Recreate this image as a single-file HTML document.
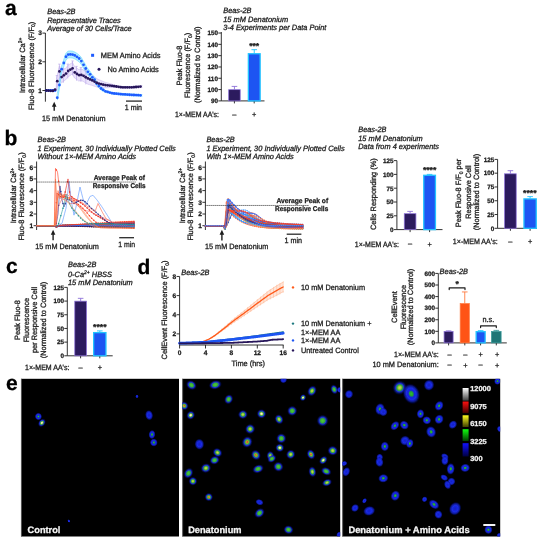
<!DOCTYPE html>
<html><head><meta charset="utf-8"><title>Figure</title>
<style>
html,body{margin:0;padding:0;background:#fff;width:550px;height:545px;overflow:hidden}
svg{display:block}
text{font-family:"Liberation Sans",Arial,sans-serif;text-rendering:geometricPrecision}
</style></head><body>
<svg width="550" height="545" viewBox="0 0 550 545" fill="#1c1c1c">
<text x="5" y="15.2" font-size="21" font-weight="bold" fill="#000" stroke="#000" stroke-width="0.28" >a</text>
<text transform="translate(47.2,14.4) scale(1,1.04)" font-size="7.4" font-style="italic" stroke="#1c1c1c" stroke-width="0.28" >Beas-2B</text>
<text transform="translate(47.2,22.5) scale(1,1.04)" font-size="7.4" font-style="italic" stroke="#1c1c1c" stroke-width="0.28" textLength="73.6" lengthAdjust="spacingAndGlyphs" >Representative Traces</text>
<text transform="translate(47.2,30.6) scale(1,1.04)" font-size="7.4" font-style="italic" stroke="#1c1c1c" stroke-width="0.28" textLength="84.5" lengthAdjust="spacingAndGlyphs" >Average of 30 Cells/Trace</text>
<text transform="translate(24.8,65.3) rotate(-90) scale(1,1.04)" text-anchor="middle" font-size="7.4" stroke="#1c1c1c" stroke-width="0.28" >Intracellular Ca<tspan dy="-2.6" font-size="5">2+</tspan></text>
<text transform="translate(33.5,65.8) rotate(-90) scale(1,1.04)" text-anchor="middle" font-size="7.4" stroke="#1c1c1c" stroke-width="0.28" >Fluo-8 Fluorescence (F/F<tspan dy="1.8" font-size="5">0</tspan><tspan dy="-1.8">)</tspan></text>
<line x1="45.4" y1="33" x2="45.4" y2="101.7" stroke="#1c1c1c" stroke-width="0.9" />
<line x1="42.4" y1="33.1" x2="45.4" y2="33.1" stroke="#1c1c1c" stroke-width="0.9" />
<text x="42" y="35.4" font-size="6.6" font-weight="bold" text-anchor="end" stroke="#1c1c1c" stroke-width="0.28" >3</text>
<line x1="42.4" y1="61.8" x2="45.4" y2="61.8" stroke="#1c1c1c" stroke-width="0.9" />
<text x="42" y="64.1" font-size="6.6" font-weight="bold" text-anchor="end" stroke="#1c1c1c" stroke-width="0.28" >2</text>
<line x1="42.4" y1="90.5" x2="45.4" y2="90.5" stroke="#1c1c1c" stroke-width="0.9" />
<text x="42" y="92.8" font-size="6.6" font-weight="bold" text-anchor="end" stroke="#1c1c1c" stroke-width="0.28" >1</text>
<polygon points="46,90.5 46.5,90.53 47,90.57 47.5,90.6 48,90.63 48.5,90.66 49,90.7 49.5,90.73 50,90.76 50.5,90.8 51,90.83 51.5,90.86 52,90.9 52.5,90.93 53,90.96 53.5,90.99 54,91.03 54.5,91.06 55,89.94 55.5,88.05 56,80.42 56.5,78.52 57,76.55 57.5,74.26 58,71.96 58.5,69.66 59,67.37 59.5,65.85 60,67.43 60.5,69.02 61,70.61 61.5,71.39 62,70.98 62.5,70.57 63,70.16 63.5,69.77 64,69.44 64.5,69.12 65,68.79 65.5,68.47 66,67.88 66.5,67.23 67,66.57 67.5,65.92 68,65.4 68.5,65.07 69,64.75 69.5,64.42 70,64.1 70.5,63.75 71,63.41 71.5,63.06 72,62.72 72.5,62.37 73,63.43 73.5,64.49 74,65.55 74.5,66.46 75,66.8 75.5,67.14 76,67.49 76.5,67.83 77,68.22 77.5,68.61 78,69 78.5,69.39 79,69.47 79.5,69.34 80,69.21 80.5,69.08 81,69.01 81.5,69.21 82,69.41 82.5,69.6 83,69.8 83.5,70.09 84,70.41 84.5,70.73 85,71.05 85.5,71.37 86,71.66 86.5,71.93 87,72.2 87.5,72.46 88,72.73 88.5,73.08 89,73.37 89.5,73.66 90,73.95 90.5,74.24 91,74.53 91.5,74.85 92,75.21 92.5,75.56 93,75.92 93.5,76.27 94,76.63 94.5,76.98 95,77.33 95.5,77.68 96,78.02 96.5,78.37 97,78.72 97.5,79.06 98,79.35 98.5,79.56 99,79.77 99.5,79.97 100,80.18 100.5,80.38 101,80.59 101.5,80.79 102,81 102.5,81.21 103,81.41 103.5,81.62 104,81.82 104.5,82.03 105,82.23 105.5,82.38 106,82.52 106.5,82.66 107,82.8 107.5,82.94 108,83.09 108.5,83.23 109,83.37 109.5,83.51 110,83.65 110.5,83.8 111,83.94 111.5,84.08 112,84.22 112.5,84.36 113,84.52 113.5,84.69 114,84.85 114.5,85.02 115,85.18 115.5,85.35 116,85.51 116.5,85.65 117,85.73 117.5,85.8 118,85.88 118.5,85.96 119,86.04 119.5,86.12 120,86.2 120.5,86.28 121,86.36 121.5,86.43 122,86.48 122.5,86.48 123,86.48 123.5,86.48 124,86.48 124.5,86.48 125,86.48 125.5,86.48 126,86.48 126.5,86.48 127,86.48 127.5,86.48 128,86.48 128.5,86.48 129,86.48 129.5,86.48 130,86.48 130.5,86.48 131,86.48 131.5,86.48 132,86.48 132.5,86.44 133,86.4 133.5,86.35 134,86.31 134.5,86.27 135,86.22 135.5,86.18 136,86.14 136.5,86.09 137,86.05 137.5,86.01 138,85.97 138.5,85.92 139,85.88 139.5,85.84 140,85.79 140.5,85.75 141,85.71 141.5,85.66 142,85.62 142,87.34 141.5,87.39 141,87.43 140.5,87.47 140,87.52 139.5,87.56 139,87.6 138.5,87.64 138,87.69 137.5,87.73 137,87.77 136.5,87.82 136,87.86 135.5,87.9 135,87.95 134.5,87.99 134,88.03 133.5,88.07 133,88.12 132.5,88.16 132,88.2 131.5,88.2 131,88.2 130.5,88.2 130,88.2 129.5,88.2 129,88.2 128.5,88.2 128,88.2 127.5,88.2 127,88.2 126.5,88.2 126,88.2 125.5,88.2 125,88.2 124.5,88.2 124,88.2 123.5,88.2 123,88.2 122.5,88.2 122,88.2 121.5,88.16 121,88.08 120.5,88 120,87.92 119.5,87.84 119,87.76 118.5,87.68 118,87.6 117.5,87.53 117,87.45 116.5,87.37 116,87.35 115.5,87.35 115,87.36 114.5,87.37 114,87.38 113.5,87.38 113,87.39 112.5,87.41 112,87.44 111.5,87.47 111,87.5 110.5,87.53 110,87.56 109.5,87.59 109,87.62 108.5,87.65 108,87.68 107.5,87.71 107,87.74 106.5,87.77 106,87.8 105.5,87.83 105,87.86 104.5,87.83 104,87.79 103.5,87.76 103,87.73 102.5,87.69 102,87.66 101.5,87.63 101,87.59 100.5,87.56 100,87.52 99.5,87.49 99,87.46 98.5,87.42 98,87.39 97.5,87.27 97,87.1 96.5,86.92 96,86.75 95.5,86.57 95,86.4 94.5,86.22 94,86.04 93.5,85.86 93,85.67 92.5,85.49 92,85.31 91.5,85.13 91,84.98 90.5,84.86 90,84.74 89.5,84.62 89,84.51 88.5,84.39 88,84.21 87.5,83.94 87,83.68 86.5,83.41 86,83.14 85.5,82.85 85,82.53 84.5,82.21 84,81.89 83.5,81.57 83,81.28 82.5,81.08 82,80.89 81.5,80.69 81,80.49 80.5,80.56 80,80.69 79.5,80.82 79,80.95 78.5,80.87 78,80.48 77.5,80.09 77,79.7 76.5,79.31 76,78.97 75.5,78.62 75,78.28 74.5,77.94 74,77.03 73.5,75.97 73,74.91 72.5,73.85 72,74.2 71.5,74.54 71,74.89 70.5,75.23 70,75.58 69.5,75.9 69,76.23 68.5,76.55 68,76.88 67.5,77.4 67,78.05 66.5,78.71 66,79.36 65.5,79.95 65,80.27 64.5,80.6 64,80.92 63.5,81.25 63,81.64 62.5,82.05 62,82.46 61.5,82.87 61,82.09 60.5,80.5 60,78.91 59.5,77.33 59,78.85 58.5,81.14 58,83.44 57.5,85.74 57,88.03 56.5,90 56,91.9 55.5,88.05 55,89.94 54.5,91.06 54,91.03 53.5,90.99 53,90.96 52.5,90.93 52,90.9 51.5,90.86 51,90.83 50.5,90.8 50,90.76 49.5,90.73 49,90.7 48.5,90.66 48,90.63 47.5,90.6 47,90.57 46.5,90.53 46,90.5" fill="#ebe4fb" opacity="1"/>
<polygon points="46,90.5 46.5,90.5 47,90.5 47.5,90.5 48,90.5 48.5,90.5 49,90.5 49.5,90.5 50,90.5 50.5,90.5 51,90.5 51.5,90.5 52,90.5 52.5,90.5 53,90.5 53.5,90.5 54,90.5 54.5,90.5 55,90.5 55.5,90.5 56,90.5 56.5,93.61 57,93.27 57.5,92.8 58,89.93 58.5,87.06 59,84.19 59.5,81.09 60,77.09 60.5,73.08 61,69.08 61.5,66.13 62,64.77 62.5,63.4 63,62.03 63.5,60.61 64,58.98 64.5,57.35 65,55.72 65.5,54.09 66,53.29 66.5,52.71 67,52.12 67.5,51.53 68,51.15 68.5,51.09 69,51.02 69.5,50.96 70,50.89 70.5,50.95 71,51 71.5,51.05 72,51.11 72.5,51.16 73,51.3 73.5,51.49 74,51.69 74.5,51.89 75,52.11 75.5,52.43 76,52.76 76.5,53.09 77,53.41 77.5,53.78 78,54.16 78.5,54.53 79,54.91 79.5,55.44 80,55.97 80.5,56.5 81,57.09 81.5,57.94 82,58.79 82.5,59.63 83,60.48 83.5,61.33 84,62.18 84.5,63.03 85,63.87 85.5,64.77 86,65.65 86.5,66.52 87,67.4 87.5,68.22 88,68.8 88.5,69.38 89,69.96 89.5,70.54 90,71.27 90.5,72.05 91,72.82 91.5,73.6 92,74.37 92.5,74.94 93,75.52 93.5,76.09 94,76.67 94.5,77.24 95,78.23 95.5,79.22 96,80.21 96.5,81.2 97,81.83 97.5,82.46 98,83.1 98.5,83.73 99,84.36 99.5,84.99 100,85.62 100.5,86.25 101,86.88 101.5,87.26 102,87.64 102.5,88.01 103,88.39 103.5,88.77 104,89.14 104.5,89.52 105,89.89 105.5,90.27 106,90.47 106.5,90.66 107,90.86 107.5,91.06 108,91.2 108.5,91.34 109,91.48 109.5,91.62 110,91.76 110.5,91.9 111,92.03 111.5,92.17 112,92.31 112.5,92.45 113,92.54 113.5,92.58 114,92.63 114.5,92.68 115,92.73 115.5,92.77 116,92.82 116.5,92.87 117,92.92 117.5,92.96 118,93.01 118.5,93.06 119,93.11 119.5,93.15 120,93.2 120.5,93.25 121,93.29 121.5,93.34 122,93.38 122.5,93.42 123,93.45 123.5,93.49 124,93.52 124.5,93.56 125,93.59 125.5,93.63 126,93.66 126.5,93.7 127,93.73 127.5,93.77 128,93.8 128.5,93.84 129,93.87 129.5,93.91 130,93.94 130.5,93.97 131,93.99 131.5,94.02 132,94.04 132.5,94.06 133,94.09 133.5,94.11 134,94.14 134.5,94.16 135,94.18 135.5,94.21 136,94.23 136.5,94.25 137,94.28 137.5,94.3 138,94.33 138.5,94.35 139,94.37 139.5,94.4 140,94.42 140.5,94.45 141,94.47 141.5,94.49 142,94.52 142,96.24 141.5,96.22 141,96.19 140.5,96.17 140,96.14 139.5,96.12 139,96.1 138.5,96.07 138,96.05 137.5,96.02 137,96 136.5,95.98 136,95.95 135.5,95.93 135,95.91 134.5,95.88 134,95.86 133.5,95.83 133,95.81 132.5,95.79 132,95.76 131.5,95.74 131,95.71 130.5,95.69 130,95.67 129.5,95.63 129,95.6 128.5,95.56 128,95.53 127.5,95.49 127,95.46 126.5,95.42 126,95.39 125.5,95.35 125,95.32 124.5,95.28 124,95.25 123.5,95.21 123,95.18 122.5,95.14 122,95.11 121.5,95.06 121,95.02 120.5,94.97 120,94.92 119.5,94.87 119,94.83 118.5,94.78 118,94.73 117.5,94.69 117,94.64 116.5,94.59 116,94.54 115.5,94.5 115,94.45 114.5,94.4 114,94.35 113.5,94.31 113,94.26 112.5,94.18 112,94.04 111.5,93.9 111,93.76 110.5,93.62 110,93.48 109.5,93.34 109,93.2 108.5,93.06 108,92.92 107.5,92.78 107,92.7 106.5,92.62 106,92.53 105.5,92.45 105,92.19 104.5,91.93 104,91.67 103.5,91.41 103,91.14 102.5,90.88 102,90.62 101.5,90.36 101,90.1 100.5,89.58 100,89.07 99.5,88.55 99,88.03 98.5,87.52 98,87 97.5,86.48 97,85.97 96.5,85.45 96,84.57 95.5,83.7 95,82.82 94.5,81.95 94,81.49 93.5,81.03 93,80.57 92.5,80.11 92,79.65 91.5,78.99 91,78.33 90.5,77.67 90,77.01 89.5,76.39 89,75.93 88.5,75.46 88,75 87.5,74.53 87,73.83 86.5,73.07 86,72.3 85.5,71.54 85,70.76 84.5,69.91 84,69.07 83.5,68.22 83,67.37 82.5,66.52 82,65.67 81.5,64.83 81,63.98 80.5,63.39 80,62.86 79.5,62.33 79,61.8 78.5,61.42 78,61.04 77.5,60.67 77,60.3 76.5,59.97 76,59.65 75.5,59.32 75,59 74.5,58.77 74,58.58 73.5,58.38 73,58.19 72.5,58.05 72,57.99 71.5,57.94 71,57.89 70.5,57.84 70,57.78 69.5,57.85 69,57.91 68.5,57.98 68,58.04 67.5,58.42 67,59.01 66.5,59.6 66,60.18 65.5,60.98 65,62.61 64.5,64.24 64,65.87 63.5,67.5 63,68.92 62.5,70.29 62,71.65 61.5,73.02 61,75.97 60.5,79.97 60,83.97 59.5,87.98 59,91.07 58.5,93.94 58,96.81 57.5,99.68 57,100.16 56.5,93.61 56,90.5 55.5,90.5 55,90.5 54.5,90.5 54,90.5 53.5,90.5 53,90.5 52.5,90.5 52,90.5 51.5,90.5 51,90.5 50.5,90.5 50,90.5 49.5,90.5 49,90.5 48.5,90.5 48,90.5 47.5,90.5 47,90.5 46.5,90.5 46,90.5" fill="#b8ecff" opacity="1"/>
<polyline points="56.5,78.52 57,76.55 57.5,74.26 58,71.96 58.5,69.66 59,67.37 59.5,65.85 60,67.43 60.5,69.02 61,70.61 61.5,71.39 62,70.98 62.5,70.57 63,70.16 63.5,69.77 64,69.44 64.5,69.12 65,68.79 65.5,68.47 66,67.88 66.5,67.23 67,66.57 67.5,65.92 68,65.4 68.5,65.07 69,64.75 69.5,64.42 70,64.1 70.5,63.75 71,63.41 71.5,63.06 72,62.72 72.5,62.37 73,63.43 73.5,64.49 74,65.55 74.5,66.46 75,66.8 75.5,67.14 76,67.49 76.5,67.83 77,68.22 77.5,68.61 78,69 78.5,69.39 79,69.47 79.5,69.34 80,69.21 80.5,69.08 81,69.01 81.5,69.21 82,69.41 82.5,69.6 83,69.8 83.5,70.09 84,70.41 84.5,70.73 85,71.05 85.5,71.37 86,71.66 86.5,71.93 87,72.2 87.5,72.46 88,72.73 88.5,73.08 89,73.37 89.5,73.66 90,73.95 90.5,74.24 91,74.53 91.5,74.85 92,75.21 92.5,75.56 93,75.92 93.5,76.27 94,76.63 94.5,76.98 95,77.33 95.5,77.68 96,78.02 96.5,78.37 97,78.72 97.5,79.06 98,79.35 98.5,79.56 99,79.77 99.5,79.97 100,80.18 100.5,80.38 101,80.59 101.5,80.79 102,81 102.5,81.21 103,81.41 103.5,81.62 104,81.82 104.5,82.03 105,82.23 105.5,82.38 106,82.52 106.5,82.66 107,82.8 107.5,82.94 108,83.09 108.5,83.23 109,83.37 109.5,83.51 110,83.65 110.5,83.8 111,83.94 111.5,84.08 112,84.22 112.5,84.36 113,84.52 113.5,84.69 114,84.85 114.5,85.02 115,85.18 115.5,85.35 116,85.51 116.5,85.65 117,85.73 117.5,85.8 118,85.88 118.5,85.96 119,86.04 119.5,86.12 120,86.2 120.5,86.28 121,86.36 121.5,86.43 122,86.48 122.5,86.48 123,86.48 123.5,86.48 124,86.48 124.5,86.48 125,86.48 125.5,86.48 126,86.48 126.5,86.48 127,86.48 127.5,86.48 128,86.48 128.5,86.48 129,86.48 129.5,86.48 130,86.48 130.5,86.48 131,86.48 131.5,86.48 132,86.48 132.5,86.44 133,86.4 133.5,86.35 134,86.31 134.5,86.27 135,86.22 135.5,86.18 136,86.14 136.5,86.09 137,86.05 137.5,86.01 138,85.97 138.5,85.92 139,85.88 139.5,85.84 140,85.79 140.5,85.75 141,85.71 141.5,85.66 142,85.62" fill="none" stroke="#c4b4ee" stroke-width="0.6" stroke-linejoin="round" stroke-linecap="round" />
<polyline points="56.5,90 57,88.03 57.5,85.74 58,83.44 58.5,81.14 59,78.85 59.5,77.33 60,78.91 60.5,80.5 61,82.09 61.5,82.87 62,82.46 62.5,82.05 63,81.64 63.5,81.25 64,80.92 64.5,80.6 65,80.27 65.5,79.95 66,79.36 66.5,78.71 67,78.05 67.5,77.4 68,76.88 68.5,76.55 69,76.23 69.5,75.9 70,75.58 70.5,75.23 71,74.89 71.5,74.54 72,74.2 72.5,73.85 73,74.91 73.5,75.97 74,77.03 74.5,77.94 75,78.28 75.5,78.62 76,78.97 76.5,79.31 77,79.7 77.5,80.09 78,80.48 78.5,80.87 79,80.95 79.5,80.82 80,80.69 80.5,80.56 81,80.49 81.5,80.69 82,80.89 82.5,81.08 83,81.28 83.5,81.57 84,81.89 84.5,82.21 85,82.53 85.5,82.85 86,83.14 86.5,83.41 87,83.68 87.5,83.94 88,84.21 88.5,84.39 89,84.51 89.5,84.62 90,84.74 90.5,84.86 91,84.98 91.5,85.13 92,85.31 92.5,85.49 93,85.67 93.5,85.86 94,86.04 94.5,86.22 95,86.4 95.5,86.57 96,86.75 96.5,86.92 97,87.1 97.5,87.27 98,87.39 98.5,87.42 99,87.46 99.5,87.49 100,87.52 100.5,87.56 101,87.59 101.5,87.63 102,87.66 102.5,87.69 103,87.73 103.5,87.76 104,87.79 104.5,87.83 105,87.86 105.5,87.83 106,87.8 106.5,87.77 107,87.74 107.5,87.71 108,87.68 108.5,87.65 109,87.62 109.5,87.59 110,87.56 110.5,87.53 111,87.5 111.5,87.47 112,87.44 112.5,87.41 113,87.39 113.5,87.38 114,87.38 114.5,87.37 115,87.36 115.5,87.35 116,87.35 116.5,87.37 117,87.45 117.5,87.53 118,87.6 118.5,87.68 119,87.76 119.5,87.84 120,87.92 120.5,88 121,88.08 121.5,88.16 122,88.2 122.5,88.2 123,88.2 123.5,88.2 124,88.2 124.5,88.2 125,88.2 125.5,88.2 126,88.2 126.5,88.2 127,88.2 127.5,88.2 128,88.2 128.5,88.2 129,88.2 129.5,88.2 130,88.2 130.5,88.2 131,88.2 131.5,88.2 132,88.2 132.5,88.16 133,88.12 133.5,88.07 134,88.03 134.5,87.99 135,87.95 135.5,87.9 136,87.86 136.5,87.82 137,87.77 137.5,87.73 138,87.69 138.5,87.64 139,87.6 139.5,87.56 140,87.52 140.5,87.47 141,87.43 141.5,87.39 142,87.34" fill="none" stroke="#c4b4ee" stroke-width="0.6" stroke-linejoin="round" stroke-linecap="round" />
<polyline points="57.5,92.8 58,89.93 58.5,87.06 59,84.19 59.5,81.09 60,77.09 60.5,73.08 61,69.08 61.5,66.13 62,64.77 62.5,63.4 63,62.03 63.5,60.61 64,58.98 64.5,57.35 65,55.72 65.5,54.09 66,53.29 66.5,52.71 67,52.12 67.5,51.53 68,51.15 68.5,51.09 69,51.02 69.5,50.96 70,50.89 70.5,50.95 71,51 71.5,51.05 72,51.11 72.5,51.16 73,51.3 73.5,51.49 74,51.69 74.5,51.89 75,52.11 75.5,52.43 76,52.76 76.5,53.09 77,53.41 77.5,53.78 78,54.16 78.5,54.53 79,54.91 79.5,55.44 80,55.97 80.5,56.5 81,57.09 81.5,57.94 82,58.79 82.5,59.63 83,60.48 83.5,61.33 84,62.18 84.5,63.03 85,63.87 85.5,64.77 86,65.65 86.5,66.52 87,67.4 87.5,68.22 88,68.8 88.5,69.38 89,69.96 89.5,70.54 90,71.27 90.5,72.05 91,72.82 91.5,73.6 92,74.37 92.5,74.94 93,75.52 93.5,76.09 94,76.67 94.5,77.24 95,78.23 95.5,79.22 96,80.21 96.5,81.2 97,81.83 97.5,82.46 98,83.1 98.5,83.73 99,84.36 99.5,84.99 100,85.62 100.5,86.25 101,86.88 101.5,87.26 102,87.64 102.5,88.01 103,88.39 103.5,88.77 104,89.14 104.5,89.52 105,89.89 105.5,90.27 106,90.47 106.5,90.66 107,90.86 107.5,91.06 108,91.2 108.5,91.34 109,91.48 109.5,91.62 110,91.76 110.5,91.9 111,92.03 111.5,92.17 112,92.31 112.5,92.45 113,92.54 113.5,92.58 114,92.63 114.5,92.68 115,92.73 115.5,92.77 116,92.82 116.5,92.87 117,92.92 117.5,92.96 118,93.01 118.5,93.06 119,93.11 119.5,93.15 120,93.2 120.5,93.25 121,93.29 121.5,93.34 122,93.38 122.5,93.42 123,93.45 123.5,93.49 124,93.52 124.5,93.56 125,93.59 125.5,93.63 126,93.66 126.5,93.7 127,93.73 127.5,93.77 128,93.8 128.5,93.84 129,93.87 129.5,93.91 130,93.94 130.5,93.97 131,93.99 131.5,94.02 132,94.04 132.5,94.06 133,94.09 133.5,94.11 134,94.14 134.5,94.16 135,94.18 135.5,94.21 136,94.23 136.5,94.25 137,94.28 137.5,94.3 138,94.33 138.5,94.35 139,94.37 139.5,94.4 140,94.42 140.5,94.45 141,94.47 141.5,94.49 142,94.52" fill="none" stroke="#5cd8ff" stroke-width="0.6" stroke-linejoin="round" stroke-linecap="round" />
<polyline points="57.5,99.68 58,96.81 58.5,93.94 59,91.07 59.5,87.98 60,83.97 60.5,79.97 61,75.97 61.5,73.02 62,71.65 62.5,70.29 63,68.92 63.5,67.5 64,65.87 64.5,64.24 65,62.61 65.5,60.98 66,60.18 66.5,59.6 67,59.01 67.5,58.42 68,58.04 68.5,57.98 69,57.91 69.5,57.85 70,57.78 70.5,57.84 71,57.89 71.5,57.94 72,57.99 72.5,58.05 73,58.19 73.5,58.38 74,58.58 74.5,58.77 75,59 75.5,59.32 76,59.65 76.5,59.97 77,60.3 77.5,60.67 78,61.04 78.5,61.42 79,61.8 79.5,62.33 80,62.86 80.5,63.39 81,63.98 81.5,64.83 82,65.67 82.5,66.52 83,67.37 83.5,68.22 84,69.07 84.5,69.91 85,70.76 85.5,71.54 86,72.3 86.5,73.07 87,73.83 87.5,74.53 88,75 88.5,75.46 89,75.93 89.5,76.39 90,77.01 90.5,77.67 91,78.33 91.5,78.99 92,79.65 92.5,80.11 93,80.57 93.5,81.03 94,81.49 94.5,81.95 95,82.82 95.5,83.7 96,84.57 96.5,85.45 97,85.97 97.5,86.48 98,87 98.5,87.52 99,88.03 99.5,88.55 100,89.07 100.5,89.58 101,90.1 101.5,90.36 102,90.62 102.5,90.88 103,91.14 103.5,91.41 104,91.67 104.5,91.93 105,92.19 105.5,92.45 106,92.53 106.5,92.62 107,92.7 107.5,92.78 108,92.92 108.5,93.06 109,93.2 109.5,93.34 110,93.48 110.5,93.62 111,93.76 111.5,93.9 112,94.04 112.5,94.18 113,94.26 113.5,94.31 114,94.35 114.5,94.4 115,94.45 115.5,94.5 116,94.54 116.5,94.59 117,94.64 117.5,94.69 118,94.73 118.5,94.78 119,94.83 119.5,94.87 120,94.92 120.5,94.97 121,95.02 121.5,95.06 122,95.11 122.5,95.14 123,95.18 123.5,95.21 124,95.25 124.5,95.28 125,95.32 125.5,95.35 126,95.39 126.5,95.42 127,95.46 127.5,95.49 128,95.53 128.5,95.56 129,95.6 129.5,95.63 130,95.67 130.5,95.69 131,95.71 131.5,95.74 132,95.76 132.5,95.79 133,95.81 133.5,95.83 134,95.86 134.5,95.88 135,95.91 135.5,95.93 136,95.95 136.5,95.98 137,96 137.5,96.02 138,96.05 138.5,96.07 139,96.1 139.5,96.12 140,96.14 140.5,96.17 141,96.19 141.5,96.22 142,96.24" fill="none" stroke="#5cd8ff" stroke-width="0.6" stroke-linejoin="round" stroke-linecap="round" />
<line x1="56.9" y1="75.58" x2="56.9" y2="89.93" stroke="#b3a0e6" stroke-width="0.6" />
<line x1="55.7" y1="75.58" x2="58.1" y2="75.58" stroke="#b3a0e6" stroke-width="0.6" />
<line x1="59.4" y1="64.1" x2="59.4" y2="78.45" stroke="#b3a0e6" stroke-width="0.6" />
<line x1="58.2" y1="64.1" x2="60.6" y2="64.1" stroke="#b3a0e6" stroke-width="0.6" />
<line x1="63.4" y1="68.4" x2="63.4" y2="82.75" stroke="#b3a0e6" stroke-width="0.6" />
<line x1="62.2" y1="68.4" x2="64.6" y2="68.4" stroke="#b3a0e6" stroke-width="0.6" />
<line x1="67.8" y1="64.1" x2="67.8" y2="78.45" stroke="#b3a0e6" stroke-width="0.6" />
<line x1="66.6" y1="64.1" x2="69" y2="64.1" stroke="#b3a0e6" stroke-width="0.6" />
<line x1="72.5" y1="60.94" x2="72.5" y2="75.29" stroke="#b3a0e6" stroke-width="0.6" />
<line x1="71.3" y1="60.94" x2="73.7" y2="60.94" stroke="#b3a0e6" stroke-width="0.6" />
<line x1="76.5" y1="66.39" x2="76.5" y2="80.74" stroke="#b3a0e6" stroke-width="0.6" />
<line x1="75.3" y1="66.39" x2="77.7" y2="66.39" stroke="#b3a0e6" stroke-width="0.6" />
<line x1="80.9" y1="67.54" x2="80.9" y2="81.89" stroke="#b3a0e6" stroke-width="0.6" />
<line x1="79.7" y1="67.54" x2="82.1" y2="67.54" stroke="#b3a0e6" stroke-width="0.6" />
<line x1="85.8" y1="70.12" x2="85.8" y2="84.47" stroke="#b3a0e6" stroke-width="0.6" />
<line x1="84.6" y1="70.12" x2="87" y2="70.12" stroke="#b3a0e6" stroke-width="0.6" />
<g fill="#1f5cff"><circle cx="46.3" cy="90.5" r="1.4"/><circle cx="48.49" cy="90.5" r="1.4"/><circle cx="50.68" cy="90.5" r="1.4"/><circle cx="52.87" cy="90.5" r="1.4"/><circle cx="55.06" cy="90.5" r="1.4"/><circle cx="57.25" cy="97.68" r="1.4"/><circle cx="59.44" cy="85.01" r="1.4"/><circle cx="61.63" cy="69.22" r="1.4"/><circle cx="63.82" cy="63.01" r="1.4"/><circle cx="66.01" cy="56.73" r="1.4"/><circle cx="68.2" cy="54.57" r="1.4"/><circle cx="70.39" cy="54.38" r="1.4"/><circle cx="72.58" cy="54.61" r="1.4"/><circle cx="74.77" cy="55.44" r="1.4"/><circle cx="76.96" cy="56.83" r="1.4"/><circle cx="79.15" cy="58.51" r="1.4"/><circle cx="81.34" cy="61.11" r="1.4"/><circle cx="83.53" cy="64.83" r="1.4"/><circle cx="85.72" cy="68.52" r="1.4"/><circle cx="87.91" cy="71.8" r="1.4"/><circle cx="90.1" cy="74.28" r="1.4"/><circle cx="92.29" cy="77.31" r="1.4"/><circle cx="94.48" cy="79.57" r="1.4"/><circle cx="96.67" cy="83.52" r="1.4"/><circle cx="98.86" cy="86.03" r="1.4"/><circle cx="101.05" cy="88.52" r="1.4"/><circle cx="103.24" cy="89.92" r="1.4"/><circle cx="105.43" cy="91.32" r="1.4"/><circle cx="107.62" cy="91.95" r="1.4"/><circle cx="109.81" cy="92.56" r="1.4"/><circle cx="112" cy="93.17" r="1.4"/><circle cx="114.19" cy="93.51" r="1.4"/><circle cx="116.38" cy="93.72" r="1.4"/><circle cx="118.57" cy="93.93" r="1.4"/><circle cx="120.76" cy="94.13" r="1.4"/><circle cx="122.95" cy="94.31" r="1.4"/><circle cx="125.14" cy="94.46" r="1.4"/><circle cx="127.33" cy="94.62" r="1.4"/><circle cx="129.52" cy="94.77" r="1.4"/><circle cx="131.71" cy="94.89" r="1.4"/><circle cx="133.9" cy="94.99" r="1.4"/><circle cx="136.09" cy="95.1" r="1.4"/><circle cx="138.28" cy="95.2" r="1.4"/><circle cx="140.47" cy="95.31" r="1.4"/></g>
<g fill="#27165a"><circle cx="46.3" cy="90.52" r="1.4"/><circle cx="48.49" cy="90.66" r="1.4"/><circle cx="50.68" cy="90.81" r="1.4"/><circle cx="52.87" cy="90.95" r="1.4"/><circle cx="55.06" cy="89.71" r="1.4"/><circle cx="57.25" cy="81.14" r="1.4"/><circle cx="59.44" cy="71.4" r="1.4"/><circle cx="61.63" cy="77.03" r="1.4"/><circle cx="63.82" cy="75.3" r="1.4"/><circle cx="66.01" cy="73.61" r="1.4"/><circle cx="68.2" cy="71.01" r="1.4"/><circle cx="70.39" cy="69.57" r="1.4"/><circle cx="72.58" cy="68.28" r="1.4"/><circle cx="74.77" cy="72.38" r="1.4"/><circle cx="76.96" cy="73.93" r="1.4"/><circle cx="79.15" cy="75.17" r="1.4"/><circle cx="81.34" cy="74.89" r="1.4"/><circle cx="83.53" cy="75.85" r="1.4"/><circle cx="85.72" cy="77.25" r="1.4"/><circle cx="87.91" cy="78.42" r="1.4"/><circle cx="90.1" cy="79.39" r="1.4"/><circle cx="92.29" cy="80.41" r="1.4"/><circle cx="94.48" cy="81.59" r="1.4"/><circle cx="96.67" cy="82.74" r="1.4"/><circle cx="98.86" cy="83.58" r="1.4"/><circle cx="101.05" cy="84.1" r="1.4"/><circle cx="103.24" cy="84.63" r="1.4"/><circle cx="105.43" cy="85.1" r="1.4"/><circle cx="107.62" cy="85.34" r="1.4"/><circle cx="109.81" cy="85.58" r="1.4"/><circle cx="112" cy="85.83" r="1.4"/><circle cx="114.19" cy="86.14" r="1.4"/><circle cx="116.38" cy="86.49" r="1.4"/><circle cx="118.57" cy="86.83" r="1.4"/><circle cx="120.76" cy="87.18" r="1.4"/><circle cx="122.95" cy="87.34" r="1.4"/><circle cx="125.14" cy="87.34" r="1.4"/><circle cx="127.33" cy="87.34" r="1.4"/><circle cx="129.52" cy="87.34" r="1.4"/><circle cx="131.71" cy="87.34" r="1.4"/><circle cx="133.9" cy="87.18" r="1.4"/><circle cx="136.09" cy="86.99" r="1.4"/><circle cx="138.28" cy="86.8" r="1.4"/><circle cx="140.47" cy="86.61" r="1.4"/></g>
<rect x="91.1" y="53.8" width="3" height="3" fill="#1f5cff"/>
<text transform="translate(100.8,58) scale(1,1.04)" font-size="7.4" stroke="#1c1c1c" stroke-width="0.28" textLength="59.7" lengthAdjust="spacingAndGlyphs" >MEM Amino Acids</text>
<circle cx="99" cy="69.2" r="1.5" fill="#27165a"/>
<text transform="translate(107.4,71.9) scale(1,1.04)" font-size="7.4" stroke="#1c1c1c" stroke-width="0.28" textLength="51.4" lengthAdjust="spacingAndGlyphs" >No Amino Acids</text>
<line x1="54.2" y1="104.8" x2="54.2" y2="110.8" stroke="#1c1c1c" stroke-width="1.4" />
<polygon points="51.9,106.8 56.5,106.8 54.2,101.8" fill="#1c1c1c" />
<text transform="translate(42,120.5) scale(1,1.04)" font-size="7.4" stroke="#1c1c1c" stroke-width="0.28" textLength="63.5" lengthAdjust="spacingAndGlyphs" >15 mM Denatonium</text>
<line x1="126" y1="101.1" x2="142" y2="101.1" stroke="#2a2a2a" stroke-width="1.3" />
<text transform="translate(124.8,109.8) scale(1,1.04)" font-size="7.4" stroke="#1c1c1c" stroke-width="0.28" textLength="17.2" lengthAdjust="spacingAndGlyphs" >1 min</text>
<text transform="translate(223.2,13.4) scale(1,1.04)" font-size="7.4" font-style="italic" stroke="#1c1c1c" stroke-width="0.28" >Beas-2B</text>
<text transform="translate(223.2,21.6) scale(1,1.04)" font-size="7.4" font-style="italic" stroke="#1c1c1c" stroke-width="0.28" textLength="65" lengthAdjust="spacingAndGlyphs" >15 mM Denatonium</text>
<text transform="translate(223.2,30.1) scale(1,1.04)" font-size="7.4" font-style="italic" stroke="#1c1c1c" stroke-width="0.28" >3-4 Experiments per Data Point</text>
<text transform="translate(182.4,65.5) rotate(-90) scale(1,1.04)" text-anchor="middle" font-size="7.4" stroke="#1c1c1c" stroke-width="0.28" >Peak Fluo-8</text>
<text transform="translate(189.8,65.4) rotate(-90) scale(1,1.04)" text-anchor="middle" font-size="7.4" stroke="#1c1c1c" stroke-width="0.28" >Fluorescence (F/F<tspan dy="1.8" font-size="5">0</tspan><tspan dy="-1.8">)</tspan></text>
<text transform="translate(200.2,64.8) rotate(-90) scale(1,1.04)" text-anchor="middle" font-size="7.4" stroke="#1c1c1c" stroke-width="0.28" >(Normalized to Control)</text>
<line x1="221.3" y1="32" x2="221.3" y2="100.9" stroke="#1c1c1c" stroke-width="0.9" />
<line x1="218.3" y1="100.9" x2="221.3" y2="100.9" stroke="#1c1c1c" stroke-width="0.9" />
<text x="217.9" y="103.2" font-size="6.3" font-weight="bold" text-anchor="end" stroke="#1c1c1c" stroke-width="0.28" >90</text>
<line x1="218.3" y1="89.59" x2="221.3" y2="89.59" stroke="#1c1c1c" stroke-width="0.9" />
<text x="217.9" y="91.89" font-size="6.3" font-weight="bold" text-anchor="end" stroke="#1c1c1c" stroke-width="0.28" >100</text>
<line x1="218.3" y1="78.28" x2="221.3" y2="78.28" stroke="#1c1c1c" stroke-width="0.9" />
<text x="217.9" y="80.58" font-size="6.3" font-weight="bold" text-anchor="end" stroke="#1c1c1c" stroke-width="0.28" >110</text>
<line x1="218.3" y1="66.97" x2="221.3" y2="66.97" stroke="#1c1c1c" stroke-width="0.9" />
<text x="217.9" y="69.27" font-size="6.3" font-weight="bold" text-anchor="end" stroke="#1c1c1c" stroke-width="0.28" >120</text>
<line x1="218.3" y1="55.66" x2="221.3" y2="55.66" stroke="#1c1c1c" stroke-width="0.9" />
<text x="217.9" y="57.96" font-size="6.3" font-weight="bold" text-anchor="end" stroke="#1c1c1c" stroke-width="0.28" >130</text>
<line x1="218.3" y1="44.35" x2="221.3" y2="44.35" stroke="#1c1c1c" stroke-width="0.9" />
<text x="217.9" y="46.65" font-size="6.3" font-weight="bold" text-anchor="end" stroke="#1c1c1c" stroke-width="0.28" >140</text>
<line x1="218.3" y1="33.04" x2="221.3" y2="33.04" stroke="#1c1c1c" stroke-width="0.9" />
<text x="217.9" y="35.34" font-size="6.3" font-weight="bold" text-anchor="end" stroke="#1c1c1c" stroke-width="0.28" >150</text>
<line x1="221.3" y1="100.9" x2="264.5" y2="100.9" stroke="#1c1c1c" stroke-width="0.9" />
<line x1="234.4" y1="100.9" x2="234.4" y2="103.4" stroke="#1c1c1c" stroke-width="0.9" />
<line x1="254.2" y1="100.9" x2="254.2" y2="103.4" stroke="#1c1c1c" stroke-width="0.9" />
<line x1="234.45" y1="86.42" x2="234.45" y2="89.59" stroke="#8d72d8" stroke-width="0.9" />
<line x1="231.65" y1="86.42" x2="237.25" y2="86.42" stroke="#8d72d8" stroke-width="0.9" />
<rect x="228.67" y="89.67" width="11.55" height="11.24" fill="#2c1b5e" stroke="#8d72d8" stroke-width="0.75"/>
<line x1="254.25" y1="49.67" x2="254.25" y2="53.4" stroke="#22c4ff" stroke-width="0.9" />
<line x1="251.45" y1="49.67" x2="257.05" y2="49.67" stroke="#22c4ff" stroke-width="0.9" />
<rect x="248.35" y="53.75" width="11.8" height="47.15" fill="#1d55f2" stroke="#22c4ff" stroke-width="1.3"/>
<text x="254.2" y="48.6" font-size="8.6" font-weight="bold" text-anchor="middle" stroke="#1c1c1c" stroke-width="0.28" >***</text>
<text transform="translate(175,117.2) scale(1,1.04)" font-size="7.4" stroke="#1c1c1c" stroke-width="0.28" textLength="44" lengthAdjust="spacingAndGlyphs" >1×-MEM AA's:</text>
<text transform="translate(234.4,116.8) scale(1,1.04)" font-size="7.4" text-anchor="middle" stroke="#1c1c1c" stroke-width="0.28" >–</text>
<text transform="translate(254.2,117.2) scale(1,1.04)" font-size="7.4" text-anchor="middle" stroke="#1c1c1c" stroke-width="0.28" >+</text>
<text x="4.4" y="144.6" font-size="21" font-weight="bold" fill="#000" stroke="#000" stroke-width="0.28" >b</text>
<text transform="translate(37.6,142.3) scale(1,1.04)" font-size="7.4" font-style="italic" stroke="#1c1c1c" stroke-width="0.28" >Beas-2B</text>
<text transform="translate(37.6,150.5) scale(1,1.04)" font-size="7.4" font-style="italic" stroke="#1c1c1c" stroke-width="0.28" textLength="138.2" lengthAdjust="spacingAndGlyphs" >1 Experiment, 30 Individually Plotted Cells</text>
<text transform="translate(37.6,159) scale(1,1.04)" font-size="7.4" font-style="italic" stroke="#1c1c1c" stroke-width="0.28" textLength="98.5" lengthAdjust="spacingAndGlyphs" >Without 1×-MEM Amino Acids</text>
<text transform="translate(16.3,195.5) rotate(-90) scale(1,1.04)" text-anchor="middle" font-size="7.4" stroke="#1c1c1c" stroke-width="0.28" >Intracellular Ca<tspan dy="-2.6" font-size="5">2+</tspan></text>
<text transform="translate(24.3,196.5) rotate(-90) scale(1,1.04)" text-anchor="middle" font-size="7.4" stroke="#1c1c1c" stroke-width="0.28" >Fluo-8 Fluorescence (F/F<tspan dy="1.8" font-size="5">0</tspan><tspan dy="-1.8">)</tspan></text>
<line x1="36.6" y1="161.5" x2="36.6" y2="230" stroke="#1c1c1c" stroke-width="0.9" />
<line x1="33.6" y1="225.7" x2="36.6" y2="225.7" stroke="#1c1c1c" stroke-width="0.9" />
<text x="33.2" y="228" font-size="6.6" font-weight="bold" text-anchor="end" stroke="#1c1c1c" stroke-width="0.28" >1</text>
<line x1="33.6" y1="214" x2="36.6" y2="214" stroke="#1c1c1c" stroke-width="0.9" />
<text x="33.2" y="216.3" font-size="6.6" font-weight="bold" text-anchor="end" stroke="#1c1c1c" stroke-width="0.28" >2</text>
<line x1="33.6" y1="202.3" x2="36.6" y2="202.3" stroke="#1c1c1c" stroke-width="0.9" />
<text x="33.2" y="204.6" font-size="6.6" font-weight="bold" text-anchor="end" stroke="#1c1c1c" stroke-width="0.28" >3</text>
<line x1="33.6" y1="190.6" x2="36.6" y2="190.6" stroke="#1c1c1c" stroke-width="0.9" />
<text x="33.2" y="192.9" font-size="6.6" font-weight="bold" text-anchor="end" stroke="#1c1c1c" stroke-width="0.28" >4</text>
<line x1="33.6" y1="178.9" x2="36.6" y2="178.9" stroke="#1c1c1c" stroke-width="0.9" />
<text x="33.2" y="181.2" font-size="6.6" font-weight="bold" text-anchor="end" stroke="#1c1c1c" stroke-width="0.28" >5</text>
<line x1="33.6" y1="167.2" x2="36.6" y2="167.2" stroke="#1c1c1c" stroke-width="0.9" />
<text x="33.2" y="169.5" font-size="6.6" font-weight="bold" text-anchor="end" stroke="#1c1c1c" stroke-width="0.28" >6</text>
<polyline points="36.6,225.7 37.6,225.7 38.6,225.7 39.6,225.7 40.6,225.7 41.6,225.7 42.6,225.7 43.6,225.7 44.6,225.7 45.6,225.7 46.6,225.7 47.6,225.7 48.6,225.7 49.6,225.7 50.6,225.7 51.6,225.7 52.6,225.7 53.6,225.7 54.6,225.7 55.05,225.7 55.6,226.07 56.5,226.69 56.6,226.65 57.6,226.27 58.6,225.89 59,225.74 59.6,225.74 60.6,225.75 61.6,225.76 62.6,225.77 63.6,225.78 64.6,225.79 65.6,225.8 66.6,225.81 67.6,225.81 68.6,225.82 69.6,225.83 70.6,225.84 71.6,225.85 72.6,225.86 73.6,225.87 74.6,225.88 75.6,225.89 76.6,225.9 77.6,225.91 78.6,225.92 79.6,225.92 80.6,225.93 81.6,225.94 82.6,225.95 83.6,225.96 84.6,225.97 85.6,225.98 86.6,225.99 87.6,226 88.6,226.01 89.6,226.02 90.6,226.02 91.6,226.03 92.6,226.04 93.6,226.05 94.6,226.06 95.6,226.07 96.6,226.08 97.6,226.09 98.6,226.1 99.6,226.11 100.6,226.12 101.6,226.12 102.6,226.13 103.6,226.14 104.6,226.15 105.6,226.16 106.6,226.17 107.6,226.18 108.6,226.19 109.6,226.2 110.6,226.21 111.6,226.22 112.6,226.23 113.6,226.23 114.6,226.24 115.6,226.25 116.6,226.26 117.6,226.27 118.6,226.28 119.6,226.29 120.6,226.3 121.6,226.31 122.6,226.32 123.6,226.33 124.6,226.33 125.6,226.34 126.6,226.35 127.6,226.36 128.6,226.37 129.6,226.38 130.6,226.39 131.6,226.4 132.6,226.41 133.6,226.42 134.5,226.43" fill="none" stroke="#4d8dff" stroke-width="0.7" stroke-linejoin="round" stroke-linecap="round" />
<g fill="#4d8dff"><circle cx="36.6" cy="225.7" r="0.7"/><circle cx="38.8" cy="225.7" r="0.7"/><circle cx="41" cy="225.7" r="0.7"/><circle cx="43.2" cy="225.7" r="0.7"/><circle cx="45.4" cy="225.7" r="0.7"/><circle cx="47.6" cy="225.7" r="0.7"/><circle cx="49.8" cy="225.7" r="0.7"/><circle cx="52" cy="225.7" r="0.7"/><circle cx="54.2" cy="225.7" r="0.7"/><circle cx="56.4" cy="226.62" r="0.7"/><circle cx="58.6" cy="225.89" r="0.7"/><circle cx="60.8" cy="225.75" r="0.7"/><circle cx="63" cy="225.77" r="0.7"/><circle cx="65.2" cy="225.79" r="0.7"/><circle cx="67.4" cy="225.81" r="0.7"/><circle cx="69.6" cy="225.83" r="0.7"/><circle cx="71.8" cy="225.85" r="0.7"/><circle cx="74" cy="225.87" r="0.7"/><circle cx="76.2" cy="225.89" r="0.7"/><circle cx="78.4" cy="225.91" r="0.7"/><circle cx="80.6" cy="225.93" r="0.7"/><circle cx="82.8" cy="225.95" r="0.7"/><circle cx="85" cy="225.97" r="0.7"/><circle cx="87.2" cy="225.99" r="0.7"/><circle cx="89.4" cy="226.01" r="0.7"/><circle cx="91.6" cy="226.03" r="0.7"/><circle cx="93.8" cy="226.05" r="0.7"/><circle cx="96" cy="226.07" r="0.7"/><circle cx="98.2" cy="226.09" r="0.7"/><circle cx="100.4" cy="226.11" r="0.7"/><circle cx="102.6" cy="226.13" r="0.7"/><circle cx="104.8" cy="226.15" r="0.7"/><circle cx="107" cy="226.17" r="0.7"/><circle cx="109.2" cy="226.19" r="0.7"/><circle cx="111.4" cy="226.21" r="0.7"/><circle cx="113.6" cy="226.23" r="0.7"/><circle cx="115.8" cy="226.25" r="0.7"/><circle cx="118" cy="226.27" r="0.7"/><circle cx="120.2" cy="226.29" r="0.7"/><circle cx="122.4" cy="226.31" r="0.7"/><circle cx="124.6" cy="226.33" r="0.7"/><circle cx="126.8" cy="226.35" r="0.7"/><circle cx="129" cy="226.37" r="0.7"/><circle cx="131.2" cy="226.4" r="0.7"/><circle cx="133.4" cy="226.42" r="0.7"/></g>
<polyline points="36.6,225.7 37.6,225.7 38.6,225.7 39.6,225.7 40.6,225.7 41.6,225.7 42.6,225.7 43.6,225.7 44.6,225.7 45.6,225.7 46.6,225.7 47.6,225.7 48.6,225.7 49.6,225.7 50.6,225.7 51.6,225.7 52.6,225.7 53.6,225.7 54.52,225.7 54.6,225.77 55.6,226.61 56.5,227.36 56.6,227.29 57.6,226.59 58.6,225.89 59,225.6 59.6,225.59 60.6,225.57 61.6,225.54 62.6,225.52 63.6,225.49 64.6,225.47 65.6,225.45 66.6,225.42 67.6,225.4 68.6,225.37 69.6,225.35 70.6,225.33 71.6,225.3 72.6,225.28 73.6,225.25 74.6,225.23 75.6,225.21 76.6,225.18 77.6,225.16 78.6,225.13 79.6,225.11 80.6,225.09 81.6,225.06 82.6,225.04 83.6,225.01 84.6,224.99 85.6,224.97 86.6,224.94 87.6,224.92 88.6,224.89 89.6,224.87 90.6,224.85 91.6,224.82 92.6,224.8 93.6,224.77 94.6,224.75 95.6,224.73 96.6,224.7 97.6,224.68 98.6,224.65 99.6,224.63 100.6,224.61 101.6,224.58 102.6,224.56 103.6,224.53 104.6,224.51 105.6,224.49 106.6,224.46 107.6,224.44 108.6,224.42 109.6,224.39 110.6,224.37 111.6,224.34 112.6,224.32 113.6,224.3 114.6,224.27 115.6,224.25 116.6,224.22 117.6,224.2 118.6,224.18 119.6,224.15 120.6,224.13 121.6,224.1 122.6,224.08 123.6,224.06 124.6,224.03 125.6,224.01 126.6,223.98 127.6,223.96 128.6,223.94 129.6,223.91 130.6,223.89 131.6,223.86 132.6,223.84 133.6,223.82 134.5,223.79" fill="none" stroke="#4d8dff" stroke-width="0.7" stroke-linejoin="round" stroke-linecap="round" />
<g fill="#4d8dff"><circle cx="36.6" cy="225.7" r="0.7"/><circle cx="38.8" cy="225.7" r="0.7"/><circle cx="41" cy="225.7" r="0.7"/><circle cx="43.2" cy="225.7" r="0.7"/><circle cx="45.4" cy="225.7" r="0.7"/><circle cx="47.6" cy="225.7" r="0.7"/><circle cx="49.8" cy="225.7" r="0.7"/><circle cx="52" cy="225.7" r="0.7"/><circle cx="54.2" cy="225.7" r="0.7"/><circle cx="56.4" cy="227.28" r="0.7"/><circle cx="58.6" cy="225.89" r="0.7"/><circle cx="60.8" cy="225.56" r="0.7"/><circle cx="63" cy="225.51" r="0.7"/><circle cx="65.2" cy="225.46" r="0.7"/><circle cx="67.4" cy="225.4" r="0.7"/><circle cx="69.6" cy="225.35" r="0.7"/><circle cx="71.8" cy="225.3" r="0.7"/><circle cx="74" cy="225.24" r="0.7"/><circle cx="76.2" cy="225.19" r="0.7"/><circle cx="78.4" cy="225.14" r="0.7"/><circle cx="80.6" cy="225.09" r="0.7"/><circle cx="82.8" cy="225.03" r="0.7"/><circle cx="85" cy="224.98" r="0.7"/><circle cx="87.2" cy="224.93" r="0.7"/><circle cx="89.4" cy="224.88" r="0.7"/><circle cx="91.6" cy="224.82" r="0.7"/><circle cx="93.8" cy="224.77" r="0.7"/><circle cx="96" cy="224.72" r="0.7"/><circle cx="98.2" cy="224.66" r="0.7"/><circle cx="100.4" cy="224.61" r="0.7"/><circle cx="102.6" cy="224.56" r="0.7"/><circle cx="104.8" cy="224.51" r="0.7"/><circle cx="107" cy="224.45" r="0.7"/><circle cx="109.2" cy="224.4" r="0.7"/><circle cx="111.4" cy="224.35" r="0.7"/><circle cx="113.6" cy="224.3" r="0.7"/><circle cx="115.8" cy="224.24" r="0.7"/><circle cx="118" cy="224.19" r="0.7"/><circle cx="120.2" cy="224.14" r="0.7"/><circle cx="122.4" cy="224.08" r="0.7"/><circle cx="124.6" cy="224.03" r="0.7"/><circle cx="126.8" cy="223.98" r="0.7"/><circle cx="129" cy="223.93" r="0.7"/><circle cx="131.2" cy="223.87" r="0.7"/><circle cx="133.4" cy="223.82" r="0.7"/></g>
<polyline points="36.6,225.7 37.6,225.7 38.6,225.7 39.6,225.7 40.6,225.7 41.6,225.7 42.6,225.7 43.6,225.7 44.6,225.7 45.6,225.7 46.6,225.7 47.6,225.7 48.6,225.7 49.6,225.7 50.6,225.7 51.6,225.7 52.6,225.7 53.6,225.7 54.6,225.7 55.6,225.7 55.99,225.7 56.5,227.13 56.6,227.07 57.6,226.51 58.6,225.95 59,225.73 59.6,225.73 60.6,225.74 61.6,225.75 62.6,225.76 63.6,225.76 64.6,225.77 65.6,225.78 66.6,225.78 67.6,225.79 68.6,225.8 69.6,225.81 70.6,225.81 71.6,225.82 72.6,225.83 73.6,225.84 74.6,225.84 75.6,225.85 76.6,225.86 77.6,225.86 78.6,225.87 79.6,225.88 80.6,225.89 81.6,225.89 82.6,225.9 83.6,225.91 84.6,225.92 85.6,225.92 86.6,225.93 87.6,225.94 88.6,225.95 89.6,225.95 90.6,225.96 91.6,225.97 92.6,225.97 93.6,225.98 94.6,225.99 95.6,226 96.6,226 97.6,226.01 98.6,226.02 99.6,226.03 100.6,226.03 101.6,226.04 102.6,226.05 103.6,226.05 104.6,226.06 105.6,226.07 106.6,226.08 107.6,226.08 108.6,226.09 109.6,226.1 110.6,226.11 111.6,226.11 112.6,226.12 113.6,226.13 114.6,226.13 115.6,226.14 116.6,226.15 117.6,226.16 118.6,226.16 119.6,226.17 120.6,226.18 121.6,226.19 122.6,226.19 123.6,226.2 124.6,226.21 125.6,226.22 126.6,226.22 127.6,226.23 128.6,226.24 129.6,226.24 130.6,226.25 131.6,226.26 132.6,226.27 133.6,226.27 134.5,226.28" fill="none" stroke="#4d8dff" stroke-width="0.7" stroke-linejoin="round" stroke-linecap="round" />
<g fill="#4d8dff"><circle cx="36.6" cy="225.7" r="0.7"/><circle cx="38.8" cy="225.7" r="0.7"/><circle cx="41" cy="225.7" r="0.7"/><circle cx="43.2" cy="225.7" r="0.7"/><circle cx="45.4" cy="225.7" r="0.7"/><circle cx="47.6" cy="225.7" r="0.7"/><circle cx="49.8" cy="225.7" r="0.7"/><circle cx="52" cy="225.7" r="0.7"/><circle cx="54.2" cy="225.7" r="0.7"/><circle cx="56.4" cy="226.84" r="0.7"/><circle cx="58.6" cy="225.95" r="0.7"/><circle cx="60.8" cy="225.74" r="0.7"/><circle cx="63" cy="225.76" r="0.7"/><circle cx="65.2" cy="225.77" r="0.7"/><circle cx="67.4" cy="225.79" r="0.7"/><circle cx="69.6" cy="225.81" r="0.7"/><circle cx="71.8" cy="225.82" r="0.7"/><circle cx="74" cy="225.84" r="0.7"/><circle cx="76.2" cy="225.85" r="0.7"/><circle cx="78.4" cy="225.87" r="0.7"/><circle cx="80.6" cy="225.89" r="0.7"/><circle cx="82.8" cy="225.9" r="0.7"/><circle cx="85" cy="225.92" r="0.7"/><circle cx="87.2" cy="225.93" r="0.7"/><circle cx="89.4" cy="225.95" r="0.7"/><circle cx="91.6" cy="225.97" r="0.7"/><circle cx="93.8" cy="225.98" r="0.7"/><circle cx="96" cy="226" r="0.7"/><circle cx="98.2" cy="226.02" r="0.7"/><circle cx="100.4" cy="226.03" r="0.7"/><circle cx="102.6" cy="226.05" r="0.7"/><circle cx="104.8" cy="226.06" r="0.7"/><circle cx="107" cy="226.08" r="0.7"/><circle cx="109.2" cy="226.1" r="0.7"/><circle cx="111.4" cy="226.11" r="0.7"/><circle cx="113.6" cy="226.13" r="0.7"/><circle cx="115.8" cy="226.14" r="0.7"/><circle cx="118" cy="226.16" r="0.7"/><circle cx="120.2" cy="226.18" r="0.7"/><circle cx="122.4" cy="226.19" r="0.7"/><circle cx="124.6" cy="226.21" r="0.7"/><circle cx="126.8" cy="226.22" r="0.7"/><circle cx="129" cy="226.24" r="0.7"/><circle cx="131.2" cy="226.26" r="0.7"/><circle cx="133.4" cy="226.27" r="0.7"/></g>
<polyline points="36.6,225.7 37.6,225.7 38.6,225.7 39.6,225.7 40.6,225.7 41.6,225.7 42.6,225.7 43.6,225.7 44.6,225.7 45.6,225.7 46.6,225.7 47.6,225.7 48.6,225.7 49.6,225.7 50.6,225.7 51.6,225.7 52.6,225.7 53.6,225.7 54.6,225.7 55.1,225.7 55.6,226.05 56.5,226.68 56.6,226.64 57.6,226.22 58.6,225.8 59,225.63 59.6,225.62 60.6,225.61 61.6,225.59 62.6,225.57 63.6,225.56 64.6,225.54 65.6,225.52 66.6,225.51 67.6,225.49 68.6,225.47 69.6,225.46 70.6,225.44 71.6,225.42 72.6,225.41 73.6,225.39 74.6,225.37 75.6,225.36 76.6,225.34 77.6,225.32 78.6,225.31 79.6,225.29 80.6,225.27 81.6,225.25 82.6,225.24 83.6,225.22 84.6,225.2 85.6,225.19 86.6,225.17 87.6,225.15 88.6,225.14 89.6,225.12 90.6,225.1 91.6,225.09 92.6,225.07 93.6,225.05 94.6,225.04 95.6,225.02 96.6,225 97.6,224.99 98.6,224.97 99.6,224.95 100.6,224.94 101.6,224.92 102.6,224.9 103.6,224.89 104.6,224.87 105.6,224.85 106.6,224.84 107.6,224.82 108.6,224.8 109.6,224.79 110.6,224.77 111.6,224.75 112.6,224.74 113.6,224.72 114.6,224.7 115.6,224.69 116.6,224.67 117.6,224.65 118.6,224.64 119.6,224.62 120.6,224.6 121.6,224.59 122.6,224.57 123.6,224.55 124.6,224.53 125.6,224.52 126.6,224.5 127.6,224.48 128.6,224.47 129.6,224.45 130.6,224.43 131.6,224.42 132.6,224.4 133.6,224.38 134.5,224.37" fill="none" stroke="#23318f" stroke-width="0.7" stroke-linejoin="round" stroke-linecap="round" />
<g fill="#23318f"><circle cx="36.6" cy="225.7" r="0.7"/><circle cx="38.8" cy="225.7" r="0.7"/><circle cx="41" cy="225.7" r="0.7"/><circle cx="43.2" cy="225.7" r="0.7"/><circle cx="45.4" cy="225.7" r="0.7"/><circle cx="47.6" cy="225.7" r="0.7"/><circle cx="49.8" cy="225.7" r="0.7"/><circle cx="52" cy="225.7" r="0.7"/><circle cx="54.2" cy="225.7" r="0.7"/><circle cx="56.4" cy="226.61" r="0.7"/><circle cx="58.6" cy="225.8" r="0.7"/><circle cx="60.8" cy="225.6" r="0.7"/><circle cx="63" cy="225.57" r="0.7"/><circle cx="65.2" cy="225.53" r="0.7"/><circle cx="67.4" cy="225.49" r="0.7"/><circle cx="69.6" cy="225.46" r="0.7"/><circle cx="71.8" cy="225.42" r="0.7"/><circle cx="74" cy="225.38" r="0.7"/><circle cx="76.2" cy="225.35" r="0.7"/><circle cx="78.4" cy="225.31" r="0.7"/><circle cx="80.6" cy="225.27" r="0.7"/><circle cx="82.8" cy="225.23" r="0.7"/><circle cx="85" cy="225.2" r="0.7"/><circle cx="87.2" cy="225.16" r="0.7"/><circle cx="89.4" cy="225.12" r="0.7"/><circle cx="91.6" cy="225.09" r="0.7"/><circle cx="93.8" cy="225.05" r="0.7"/><circle cx="96" cy="225.01" r="0.7"/><circle cx="98.2" cy="224.98" r="0.7"/><circle cx="100.4" cy="224.94" r="0.7"/><circle cx="102.6" cy="224.9" r="0.7"/><circle cx="104.8" cy="224.87" r="0.7"/><circle cx="107" cy="224.83" r="0.7"/><circle cx="109.2" cy="224.79" r="0.7"/><circle cx="111.4" cy="224.76" r="0.7"/><circle cx="113.6" cy="224.72" r="0.7"/><circle cx="115.8" cy="224.68" r="0.7"/><circle cx="118" cy="224.65" r="0.7"/><circle cx="120.2" cy="224.61" r="0.7"/><circle cx="122.4" cy="224.57" r="0.7"/><circle cx="124.6" cy="224.53" r="0.7"/><circle cx="126.8" cy="224.5" r="0.7"/><circle cx="129" cy="224.46" r="0.7"/><circle cx="131.2" cy="224.42" r="0.7"/><circle cx="133.4" cy="224.39" r="0.7"/></g>
<polyline points="36.6,225.7 37.6,225.7 38.6,225.7 39.6,225.7 40.6,225.7 41.6,225.7 42.6,225.7 43.6,225.7 44.6,225.7 45.6,225.7 46.6,225.7 47.6,225.7 48.6,225.7 49.6,225.7 50.6,225.7 51.6,225.7 52.6,225.7 53.6,225.7 54.6,225.7 55.6,225.7 55.89,225.7 56.5,227.24 56.6,227.18 57.6,226.58 58.6,225.98 59,225.74 59.6,225.74 60.6,225.75 61.6,225.76 62.6,225.77 63.6,225.78 64.6,225.79 65.6,225.8 66.6,225.81 67.6,225.82 68.6,225.83 69.6,225.84 70.6,225.85 71.6,225.86 72.6,225.87 73.6,225.88 74.6,225.89 75.6,225.9 76.6,225.91 77.6,225.92 78.6,225.93 79.6,225.94 80.6,225.95 81.6,225.96 82.6,225.97 83.6,225.98 84.6,225.99 85.6,225.99 86.6,226 87.6,226.01 88.6,226.02 89.6,226.03 90.6,226.04 91.6,226.05 92.6,226.06 93.6,226.07 94.6,226.08 95.6,226.09 96.6,226.1 97.6,226.11 98.6,226.12 99.6,226.13 100.6,226.14 101.6,226.15 102.6,226.16 103.6,226.17 104.6,226.18 105.6,226.19 106.6,226.2 107.6,226.21 108.6,226.22 109.6,226.23 110.6,226.24 111.6,226.25 112.6,226.26 113.6,226.26 114.6,226.27 115.6,226.28 116.6,226.29 117.6,226.3 118.6,226.31 119.6,226.32 120.6,226.33 121.6,226.34 122.6,226.35 123.6,226.36 124.6,226.37 125.6,226.38 126.6,226.39 127.6,226.4 128.6,226.41 129.6,226.42 130.6,226.43 131.6,226.44 132.6,226.45 133.6,226.46 134.5,226.47" fill="none" stroke="#e8231a" stroke-width="0.7" stroke-linejoin="round" stroke-linecap="round" />
<g fill="#e8231a"><circle cx="36.6" cy="225.7" r="0.7"/><circle cx="38.8" cy="225.7" r="0.7"/><circle cx="41" cy="225.7" r="0.7"/><circle cx="43.2" cy="225.7" r="0.7"/><circle cx="45.4" cy="225.7" r="0.7"/><circle cx="47.6" cy="225.7" r="0.7"/><circle cx="49.8" cy="225.7" r="0.7"/><circle cx="52" cy="225.7" r="0.7"/><circle cx="54.2" cy="225.7" r="0.7"/><circle cx="56.4" cy="226.99" r="0.7"/><circle cx="58.6" cy="225.98" r="0.7"/><circle cx="60.8" cy="225.76" r="0.7"/><circle cx="63" cy="225.78" r="0.7"/><circle cx="65.2" cy="225.8" r="0.7"/><circle cx="67.4" cy="225.82" r="0.7"/><circle cx="69.6" cy="225.84" r="0.7"/><circle cx="71.8" cy="225.86" r="0.7"/><circle cx="74" cy="225.88" r="0.7"/><circle cx="76.2" cy="225.9" r="0.7"/><circle cx="78.4" cy="225.93" r="0.7"/><circle cx="80.6" cy="225.95" r="0.7"/><circle cx="82.8" cy="225.97" r="0.7"/><circle cx="85" cy="225.99" r="0.7"/><circle cx="87.2" cy="226.01" r="0.7"/><circle cx="89.4" cy="226.03" r="0.7"/><circle cx="91.6" cy="226.05" r="0.7"/><circle cx="93.8" cy="226.07" r="0.7"/><circle cx="96" cy="226.1" r="0.7"/><circle cx="98.2" cy="226.12" r="0.7"/><circle cx="100.4" cy="226.14" r="0.7"/><circle cx="102.6" cy="226.16" r="0.7"/><circle cx="104.8" cy="226.18" r="0.7"/><circle cx="107" cy="226.2" r="0.7"/><circle cx="109.2" cy="226.22" r="0.7"/><circle cx="111.4" cy="226.24" r="0.7"/><circle cx="113.6" cy="226.26" r="0.7"/><circle cx="115.8" cy="226.29" r="0.7"/><circle cx="118" cy="226.31" r="0.7"/><circle cx="120.2" cy="226.33" r="0.7"/><circle cx="122.4" cy="226.35" r="0.7"/><circle cx="124.6" cy="226.37" r="0.7"/><circle cx="126.8" cy="226.39" r="0.7"/><circle cx="129" cy="226.41" r="0.7"/><circle cx="131.2" cy="226.43" r="0.7"/><circle cx="133.4" cy="226.46" r="0.7"/></g>
<polyline points="36.6,225.7 37.6,225.7 38.6,225.7 39.6,225.7 40.6,225.7 41.6,225.7 42.6,225.7 43.6,225.7 44.6,225.7 45.6,225.7 46.6,225.7 47.6,225.7 48.6,225.7 49.6,225.7 50.6,225.7 51.6,225.7 52.6,225.7 53.6,225.7 54.6,225.7 54.6,225.7 55.6,226.13 56.5,226.51 56.6,226.47 57.6,226.1 58.6,225.72 59,225.57 59.6,225.55 60.6,225.51 61.6,225.48 62.6,225.44 63.6,225.41 64.6,225.38 65.6,225.34 66.6,225.31 67.6,225.27 68.6,225.24 69.6,225.21 70.6,225.17 71.6,225.14 72.6,225.11 73.6,225.07 74.6,225.04 75.6,225 76.6,224.97 77.6,224.94 78.6,224.9 79.6,224.87 80.6,224.83 81.6,224.8 82.6,224.77 83.6,224.73 84.6,224.7 85.6,224.67 86.6,224.63 87.6,224.6 88.6,224.56 89.6,224.53 90.6,224.5 91.6,224.46 92.6,224.43 93.6,224.39 94.6,224.36 95.6,224.33 96.6,224.29 97.6,224.26 98.6,224.23 99.6,224.19 100.6,224.16 101.6,224.12 102.6,224.09 103.6,224.06 104.6,224.02 105.6,223.99 106.6,223.95 107.6,223.92 108.6,223.89 109.6,223.85 110.6,223.82 111.6,223.79 112.6,223.75 113.6,223.72 114.6,223.68 115.6,223.65 116.6,223.62 117.6,223.58 118.6,223.55 119.6,223.51 120.6,223.48 121.6,223.45 122.6,223.41 123.6,223.38 124.6,223.34 125.6,223.31 126.6,223.28 127.6,223.24 128.6,223.21 129.6,223.18 130.6,223.14 131.6,223.11 132.6,223.07 133.6,223.04 134.5,223.01" fill="none" stroke="#ff3a1e" stroke-width="0.7" stroke-linejoin="round" stroke-linecap="round" />
<g fill="#ff3a1e"><circle cx="36.6" cy="225.7" r="0.7"/><circle cx="38.8" cy="225.7" r="0.7"/><circle cx="41" cy="225.7" r="0.7"/><circle cx="43.2" cy="225.7" r="0.7"/><circle cx="45.4" cy="225.7" r="0.7"/><circle cx="47.6" cy="225.7" r="0.7"/><circle cx="49.8" cy="225.7" r="0.7"/><circle cx="52" cy="225.7" r="0.7"/><circle cx="54.2" cy="225.7" r="0.7"/><circle cx="56.4" cy="226.47" r="0.7"/><circle cx="58.6" cy="225.72" r="0.7"/><circle cx="60.8" cy="225.5" r="0.7"/><circle cx="63" cy="225.43" r="0.7"/><circle cx="65.2" cy="225.36" r="0.7"/><circle cx="67.4" cy="225.28" r="0.7"/><circle cx="69.6" cy="225.21" r="0.7"/><circle cx="71.8" cy="225.13" r="0.7"/><circle cx="74" cy="225.06" r="0.7"/><circle cx="76.2" cy="224.98" r="0.7"/><circle cx="78.4" cy="224.91" r="0.7"/><circle cx="80.6" cy="224.83" r="0.7"/><circle cx="82.8" cy="224.76" r="0.7"/><circle cx="85" cy="224.69" r="0.7"/><circle cx="87.2" cy="224.61" r="0.7"/><circle cx="89.4" cy="224.54" r="0.7"/><circle cx="91.6" cy="224.46" r="0.7"/><circle cx="93.8" cy="224.39" r="0.7"/><circle cx="96" cy="224.31" r="0.7"/><circle cx="98.2" cy="224.24" r="0.7"/><circle cx="100.4" cy="224.16" r="0.7"/><circle cx="102.6" cy="224.09" r="0.7"/><circle cx="104.8" cy="224.02" r="0.7"/><circle cx="107" cy="223.94" r="0.7"/><circle cx="109.2" cy="223.87" r="0.7"/><circle cx="111.4" cy="223.79" r="0.7"/><circle cx="113.6" cy="223.72" r="0.7"/><circle cx="115.8" cy="223.64" r="0.7"/><circle cx="118" cy="223.57" r="0.7"/><circle cx="120.2" cy="223.49" r="0.7"/><circle cx="122.4" cy="223.42" r="0.7"/><circle cx="124.6" cy="223.34" r="0.7"/><circle cx="126.8" cy="223.27" r="0.7"/><circle cx="129" cy="223.2" r="0.7"/><circle cx="131.2" cy="223.12" r="0.7"/><circle cx="133.4" cy="223.05" r="0.7"/></g>
<polyline points="36.6,225.7 37.6,225.7 38.6,225.7 39.6,225.7 40.6,225.7 41.6,225.7 42.6,225.7 43.6,225.7 44.6,225.7 45.6,225.7 46.6,225.7 47.6,225.7 48.6,225.7 49.6,225.7 50.6,225.7 51.6,225.7 52.6,225.7 53.6,225.7 54.6,225.7 55.6,225.7 55.8,225.7 56.5,227.41 56.6,227.34 57.6,226.66 58.6,225.99 59,225.71 59.6,225.72 60.6,225.72 61.6,225.72 62.6,225.73 63.6,225.73 64.6,225.74 65.6,225.74 66.6,225.74 67.6,225.75 68.6,225.75 69.6,225.75 70.6,225.76 71.6,225.76 72.6,225.77 73.6,225.77 74.6,225.77 75.6,225.78 76.6,225.78 77.6,225.78 78.6,225.79 79.6,225.79 80.6,225.8 81.6,225.8 82.6,225.8 83.6,225.81 84.6,225.81 85.6,225.81 86.6,225.82 87.6,225.82 88.6,225.82 89.6,225.83 90.6,225.83 91.6,225.84 92.6,225.84 93.6,225.84 94.6,225.85 95.6,225.85 96.6,225.85 97.6,225.86 98.6,225.86 99.6,225.87 100.6,225.87 101.6,225.87 102.6,225.88 103.6,225.88 104.6,225.88 105.6,225.89 106.6,225.89 107.6,225.9 108.6,225.9 109.6,225.9 110.6,225.91 111.6,225.91 112.6,225.91 113.6,225.92 114.6,225.92 115.6,225.93 116.6,225.93 117.6,225.93 118.6,225.94 119.6,225.94 120.6,225.94 121.6,225.95 122.6,225.95 123.6,225.96 124.6,225.96 125.6,225.96 126.6,225.97 127.6,225.97 128.6,225.97 129.6,225.98 130.6,225.98 131.6,225.98 132.6,225.99 133.6,225.99 134.5,226" fill="none" stroke="#4d8dff" stroke-width="0.7" stroke-linejoin="round" stroke-linecap="round" />
<g fill="#4d8dff"><circle cx="36.6" cy="225.7" r="0.7"/><circle cx="38.8" cy="225.7" r="0.7"/><circle cx="41" cy="225.7" r="0.7"/><circle cx="43.2" cy="225.7" r="0.7"/><circle cx="45.4" cy="225.7" r="0.7"/><circle cx="47.6" cy="225.7" r="0.7"/><circle cx="49.8" cy="225.7" r="0.7"/><circle cx="52" cy="225.7" r="0.7"/><circle cx="54.2" cy="225.7" r="0.7"/><circle cx="56.4" cy="227.17" r="0.7"/><circle cx="58.6" cy="225.99" r="0.7"/><circle cx="60.8" cy="225.72" r="0.7"/><circle cx="63" cy="225.73" r="0.7"/><circle cx="65.2" cy="225.74" r="0.7"/><circle cx="67.4" cy="225.75" r="0.7"/><circle cx="69.6" cy="225.75" r="0.7"/><circle cx="71.8" cy="225.76" r="0.7"/><circle cx="74" cy="225.77" r="0.7"/><circle cx="76.2" cy="225.78" r="0.7"/><circle cx="78.4" cy="225.79" r="0.7"/><circle cx="80.6" cy="225.8" r="0.7"/><circle cx="82.8" cy="225.8" r="0.7"/><circle cx="85" cy="225.81" r="0.7"/><circle cx="87.2" cy="225.82" r="0.7"/><circle cx="89.4" cy="225.83" r="0.7"/><circle cx="91.6" cy="225.84" r="0.7"/><circle cx="93.8" cy="225.84" r="0.7"/><circle cx="96" cy="225.85" r="0.7"/><circle cx="98.2" cy="225.86" r="0.7"/><circle cx="100.4" cy="225.87" r="0.7"/><circle cx="102.6" cy="225.88" r="0.7"/><circle cx="104.8" cy="225.89" r="0.7"/><circle cx="107" cy="225.89" r="0.7"/><circle cx="109.2" cy="225.9" r="0.7"/><circle cx="111.4" cy="225.91" r="0.7"/><circle cx="113.6" cy="225.92" r="0.7"/><circle cx="115.8" cy="225.93" r="0.7"/><circle cx="118" cy="225.93" r="0.7"/><circle cx="120.2" cy="225.94" r="0.7"/><circle cx="122.4" cy="225.95" r="0.7"/><circle cx="124.6" cy="225.96" r="0.7"/><circle cx="126.8" cy="225.97" r="0.7"/><circle cx="129" cy="225.98" r="0.7"/><circle cx="131.2" cy="225.98" r="0.7"/><circle cx="133.4" cy="225.99" r="0.7"/></g>
<polyline points="36.6,225.7 37.6,225.7 38.6,225.7 39.6,225.7 40.6,225.7 41.6,225.7 42.6,225.7 43.6,225.7 44.6,225.7 45.6,225.7 46.6,225.7 47.6,225.7 48.6,225.7 49.6,225.7 50.6,225.7 51.6,225.7 52.6,225.7 53.6,225.7 54.6,225.7 55.08,225.7 55.6,225.87 56.5,226.16 56.6,226.14 57.6,225.92 58.6,225.7 59,225.62 59.6,225.6 60.6,225.58 61.6,225.56 62.6,225.54 63.6,225.52 64.6,225.5 65.6,225.47 66.6,225.45 67.6,225.43 68.6,225.41 69.6,225.39 70.6,225.37 71.6,225.35 72.6,225.32 73.6,225.3 74.6,225.28 75.6,225.26 76.6,225.24 77.6,225.22 78.6,225.2 79.6,225.18 80.6,225.15 81.6,225.13 82.6,225.11 83.6,225.09 84.6,225.07 85.6,225.05 86.6,225.03 87.6,225 88.6,224.98 89.6,224.96 90.6,224.94 91.6,224.92 92.6,224.9 93.6,224.88 94.6,224.86 95.6,224.83 96.6,224.81 97.6,224.79 98.6,224.77 99.6,224.75 100.6,224.73 101.6,224.71 102.6,224.68 103.6,224.66 104.6,224.64 105.6,224.62 106.6,224.6 107.6,224.58 108.6,224.56 109.6,224.54 110.6,224.51 111.6,224.49 112.6,224.47 113.6,224.45 114.6,224.43 115.6,224.41 116.6,224.39 117.6,224.36 118.6,224.34 119.6,224.32 120.6,224.3 121.6,224.28 122.6,224.26 123.6,224.24 124.6,224.22 125.6,224.19 126.6,224.17 127.6,224.15 128.6,224.13 129.6,224.11 130.6,224.09 131.6,224.07 132.6,224.04 133.6,224.02 134.5,224" fill="none" stroke="#e8231a" stroke-width="0.7" stroke-linejoin="round" stroke-linecap="round" />
<g fill="#e8231a"><circle cx="36.6" cy="225.7" r="0.7"/><circle cx="38.8" cy="225.7" r="0.7"/><circle cx="41" cy="225.7" r="0.7"/><circle cx="43.2" cy="225.7" r="0.7"/><circle cx="45.4" cy="225.7" r="0.7"/><circle cx="47.6" cy="225.7" r="0.7"/><circle cx="49.8" cy="225.7" r="0.7"/><circle cx="52" cy="225.7" r="0.7"/><circle cx="54.2" cy="225.7" r="0.7"/><circle cx="56.4" cy="226.13" r="0.7"/><circle cx="58.6" cy="225.7" r="0.7"/><circle cx="60.8" cy="225.58" r="0.7"/><circle cx="63" cy="225.53" r="0.7"/><circle cx="65.2" cy="225.48" r="0.7"/><circle cx="67.4" cy="225.44" r="0.7"/><circle cx="69.6" cy="225.39" r="0.7"/><circle cx="71.8" cy="225.34" r="0.7"/><circle cx="74" cy="225.3" r="0.7"/><circle cx="76.2" cy="225.25" r="0.7"/><circle cx="78.4" cy="225.2" r="0.7"/><circle cx="80.6" cy="225.15" r="0.7"/><circle cx="82.8" cy="225.11" r="0.7"/><circle cx="85" cy="225.06" r="0.7"/><circle cx="87.2" cy="225.01" r="0.7"/><circle cx="89.4" cy="224.97" r="0.7"/><circle cx="91.6" cy="224.92" r="0.7"/><circle cx="93.8" cy="224.87" r="0.7"/><circle cx="96" cy="224.83" r="0.7"/><circle cx="98.2" cy="224.78" r="0.7"/><circle cx="100.4" cy="224.73" r="0.7"/><circle cx="102.6" cy="224.68" r="0.7"/><circle cx="104.8" cy="224.64" r="0.7"/><circle cx="107" cy="224.59" r="0.7"/><circle cx="109.2" cy="224.54" r="0.7"/><circle cx="111.4" cy="224.5" r="0.7"/><circle cx="113.6" cy="224.45" r="0.7"/><circle cx="115.8" cy="224.4" r="0.7"/><circle cx="118" cy="224.36" r="0.7"/><circle cx="120.2" cy="224.31" r="0.7"/><circle cx="122.4" cy="224.26" r="0.7"/><circle cx="124.6" cy="224.22" r="0.7"/><circle cx="126.8" cy="224.17" r="0.7"/><circle cx="129" cy="224.12" r="0.7"/><circle cx="131.2" cy="224.07" r="0.7"/><circle cx="133.4" cy="224.03" r="0.7"/></g>
<polyline points="36.6,225.7 37.6,225.7 38.6,225.7 39.6,225.7 40.6,225.7 41.6,225.7 42.6,225.7 43.6,225.7 44.6,225.7 45.6,225.7 46.6,225.7 47.6,225.7 48.6,225.7 49.6,225.7 50.6,225.7 51.6,225.7 52.6,225.7 53.6,225.7 54.6,225.7 55.17,225.7 55.6,225.9 56.5,226.33 56.6,226.3 57.6,226.05 58.6,225.79 59,225.68 59.6,225.68 60.6,225.68 61.6,225.67 62.6,225.67 63.6,225.66 64.6,225.66 65.6,225.65 66.6,225.65 67.6,225.65 68.6,225.64 69.6,225.64 70.6,225.63 71.6,225.63 72.6,225.62 73.6,225.62 74.6,225.62 75.6,225.61 76.6,225.61 77.6,225.6 78.6,225.6 79.6,225.59 80.6,225.59 81.6,225.59 82.6,225.58 83.6,225.58 84.6,225.57 85.6,225.57 86.6,225.56 87.6,225.56 88.6,225.56 89.6,225.55 90.6,225.55 91.6,225.54 92.6,225.54 93.6,225.53 94.6,225.53 95.6,225.53 96.6,225.52 97.6,225.52 98.6,225.51 99.6,225.51 100.6,225.5 101.6,225.5 102.6,225.5 103.6,225.49 104.6,225.49 105.6,225.48 106.6,225.48 107.6,225.47 108.6,225.47 109.6,225.47 110.6,225.46 111.6,225.46 112.6,225.45 113.6,225.45 114.6,225.44 115.6,225.44 116.6,225.44 117.6,225.43 118.6,225.43 119.6,225.42 120.6,225.42 121.6,225.42 122.6,225.41 123.6,225.41 124.6,225.4 125.6,225.4 126.6,225.39 127.6,225.39 128.6,225.39 129.6,225.38 130.6,225.38 131.6,225.37 132.6,225.37 133.6,225.36 134.5,225.36" fill="none" stroke="#23318f" stroke-width="0.7" stroke-linejoin="round" stroke-linecap="round" />
<g fill="#23318f"><circle cx="36.6" cy="225.7" r="0.7"/><circle cx="38.8" cy="225.7" r="0.7"/><circle cx="41" cy="225.7" r="0.7"/><circle cx="43.2" cy="225.7" r="0.7"/><circle cx="45.4" cy="225.7" r="0.7"/><circle cx="47.6" cy="225.7" r="0.7"/><circle cx="49.8" cy="225.7" r="0.7"/><circle cx="52" cy="225.7" r="0.7"/><circle cx="54.2" cy="225.7" r="0.7"/><circle cx="56.4" cy="226.28" r="0.7"/><circle cx="58.6" cy="225.79" r="0.7"/><circle cx="60.8" cy="225.68" r="0.7"/><circle cx="63" cy="225.67" r="0.7"/><circle cx="65.2" cy="225.66" r="0.7"/><circle cx="67.4" cy="225.65" r="0.7"/><circle cx="69.6" cy="225.64" r="0.7"/><circle cx="71.8" cy="225.63" r="0.7"/><circle cx="74" cy="225.62" r="0.7"/><circle cx="76.2" cy="225.61" r="0.7"/><circle cx="78.4" cy="225.6" r="0.7"/><circle cx="80.6" cy="225.59" r="0.7"/><circle cx="82.8" cy="225.58" r="0.7"/><circle cx="85" cy="225.57" r="0.7"/><circle cx="87.2" cy="225.56" r="0.7"/><circle cx="89.4" cy="225.55" r="0.7"/><circle cx="91.6" cy="225.54" r="0.7"/><circle cx="93.8" cy="225.53" r="0.7"/><circle cx="96" cy="225.52" r="0.7"/><circle cx="98.2" cy="225.52" r="0.7"/><circle cx="100.4" cy="225.51" r="0.7"/><circle cx="102.6" cy="225.5" r="0.7"/><circle cx="104.8" cy="225.49" r="0.7"/><circle cx="107" cy="225.48" r="0.7"/><circle cx="109.2" cy="225.47" r="0.7"/><circle cx="111.4" cy="225.46" r="0.7"/><circle cx="113.6" cy="225.45" r="0.7"/><circle cx="115.8" cy="225.44" r="0.7"/><circle cx="118" cy="225.43" r="0.7"/><circle cx="120.2" cy="225.42" r="0.7"/><circle cx="122.4" cy="225.41" r="0.7"/><circle cx="124.6" cy="225.4" r="0.7"/><circle cx="126.8" cy="225.39" r="0.7"/><circle cx="129" cy="225.38" r="0.7"/><circle cx="131.2" cy="225.37" r="0.7"/><circle cx="133.4" cy="225.36" r="0.7"/></g>
<polyline points="36.6,225.7 37.6,225.7 38.6,225.7 39.6,225.7 40.6,225.7 41.6,225.7 42.6,225.7 43.6,225.7 44.6,225.7 45.6,225.7 46.6,225.7 47.6,225.7 48.6,225.7 49.6,225.7 50.6,225.7 51.6,225.7 52.6,225.7 53.6,225.7 54.6,225.7 54.7,225.7 55.6,226.51 56.5,227.32 56.6,227.25 57.6,226.53 58.6,225.81 59,225.52 59.6,225.49 60.6,225.45 61.6,225.4 62.6,225.35 63.6,225.31 64.6,225.26 65.6,225.22 66.6,225.17 67.6,225.13 68.6,225.08 69.6,225.04 70.6,224.99 71.6,224.94 72.6,224.9 73.6,224.85 74.6,224.81 75.6,224.76 76.6,224.72 77.6,224.67 78.6,224.63 79.6,224.58 80.6,224.53 81.6,224.49 82.6,224.44 83.6,224.4 84.6,224.35 85.6,224.31 86.6,224.26 87.6,224.21 88.6,224.17 89.6,224.12 90.6,224.08 91.6,224.03 92.6,223.99 93.6,223.94 94.6,223.9 95.6,223.85 96.6,223.8 97.6,223.76 98.6,223.71 99.6,223.67 100.6,223.62 101.6,223.58 102.6,223.53 103.6,223.49 104.6,223.44 105.6,223.39 106.6,223.35 107.6,223.3 108.6,223.26 109.6,223.21 110.6,223.17 111.6,223.12 112.6,223.07 113.6,223.03 114.6,222.98 115.6,222.94 116.6,222.89 117.6,222.85 118.6,222.8 119.6,222.76 120.6,222.71 121.6,222.66 122.6,222.62 123.6,222.57 124.6,222.53 125.6,222.48 126.6,222.44 127.6,222.39 128.6,222.35 129.6,222.3 130.6,222.25 131.6,222.21 132.6,222.16 133.6,222.12 134.5,222.08" fill="none" stroke="#2f6cff" stroke-width="0.7" stroke-linejoin="round" stroke-linecap="round" />
<g fill="#2f6cff"><circle cx="36.6" cy="225.7" r="0.7"/><circle cx="38.8" cy="225.7" r="0.7"/><circle cx="41" cy="225.7" r="0.7"/><circle cx="43.2" cy="225.7" r="0.7"/><circle cx="45.4" cy="225.7" r="0.7"/><circle cx="47.6" cy="225.7" r="0.7"/><circle cx="49.8" cy="225.7" r="0.7"/><circle cx="52" cy="225.7" r="0.7"/><circle cx="54.2" cy="225.7" r="0.7"/><circle cx="56.4" cy="227.23" r="0.7"/><circle cx="58.6" cy="225.81" r="0.7"/><circle cx="60.8" cy="225.44" r="0.7"/><circle cx="63" cy="225.34" r="0.7"/><circle cx="65.2" cy="225.24" r="0.7"/><circle cx="67.4" cy="225.14" r="0.7"/><circle cx="69.6" cy="225.04" r="0.7"/><circle cx="71.8" cy="224.94" r="0.7"/><circle cx="74" cy="224.83" r="0.7"/><circle cx="76.2" cy="224.73" r="0.7"/><circle cx="78.4" cy="224.63" r="0.7"/><circle cx="80.6" cy="224.53" r="0.7"/><circle cx="82.8" cy="224.43" r="0.7"/><circle cx="85" cy="224.33" r="0.7"/><circle cx="87.2" cy="224.23" r="0.7"/><circle cx="89.4" cy="224.13" r="0.7"/><circle cx="91.6" cy="224.03" r="0.7"/><circle cx="93.8" cy="223.93" r="0.7"/><circle cx="96" cy="223.83" r="0.7"/><circle cx="98.2" cy="223.73" r="0.7"/><circle cx="100.4" cy="223.63" r="0.7"/><circle cx="102.6" cy="223.53" r="0.7"/><circle cx="104.8" cy="223.43" r="0.7"/><circle cx="107" cy="223.33" r="0.7"/><circle cx="109.2" cy="223.23" r="0.7"/><circle cx="111.4" cy="223.13" r="0.7"/><circle cx="113.6" cy="223.03" r="0.7"/><circle cx="115.8" cy="222.93" r="0.7"/><circle cx="118" cy="222.83" r="0.7"/><circle cx="120.2" cy="222.73" r="0.7"/><circle cx="122.4" cy="222.63" r="0.7"/><circle cx="124.6" cy="222.53" r="0.7"/><circle cx="126.8" cy="222.43" r="0.7"/><circle cx="129" cy="222.33" r="0.7"/><circle cx="131.2" cy="222.23" r="0.7"/><circle cx="133.4" cy="222.13" r="0.7"/></g>
<polyline points="36.6,225.7 37.6,225.7 38.6,225.7 39.6,225.7 40.6,225.7 41.6,225.7 42.6,225.7 43.6,225.7 44.6,225.7 45.6,225.7 46.6,225.7 47.6,225.7 48.6,225.7 49.6,225.7 50.6,225.7 51.6,225.7 52.6,225.7 53.6,225.7 54.6,225.7 55.6,225.7 55.67,225.7 56.5,226.51 56.6,226.48 57.6,226.17 58.6,225.85 59,225.73 59.6,225.73 60.6,225.74 61.6,225.75 62.6,225.76 63.6,225.76 64.6,225.77 65.6,225.78 66.6,225.79 67.6,225.79 68.6,225.8 69.6,225.81 70.6,225.82 71.6,225.82 72.6,225.83 73.6,225.84 74.6,225.85 75.6,225.85 76.6,225.86 77.6,225.87 78.6,225.87 79.6,225.88 80.6,225.89 81.6,225.9 82.6,225.9 83.6,225.91 84.6,225.92 85.6,225.93 86.6,225.93 87.6,225.94 88.6,225.95 89.6,225.96 90.6,225.96 91.6,225.97 92.6,225.98 93.6,225.99 94.6,225.99 95.6,226 96.6,226.01 97.6,226.02 98.6,226.02 99.6,226.03 100.6,226.04 101.6,226.05 102.6,226.05 103.6,226.06 104.6,226.07 105.6,226.08 106.6,226.08 107.6,226.09 108.6,226.1 109.6,226.1 110.6,226.11 111.6,226.12 112.6,226.13 113.6,226.13 114.6,226.14 115.6,226.15 116.6,226.16 117.6,226.16 118.6,226.17 119.6,226.18 120.6,226.19 121.6,226.19 122.6,226.2 123.6,226.21 124.6,226.22 125.6,226.22 126.6,226.23 127.6,226.24 128.6,226.25 129.6,226.25 130.6,226.26 131.6,226.27 132.6,226.28 133.6,226.28 134.5,226.29" fill="none" stroke="#1c9494" stroke-width="0.7" stroke-linejoin="round" stroke-linecap="round" />
<g fill="#1c9494"><circle cx="36.6" cy="225.7" r="0.7"/><circle cx="38.8" cy="225.7" r="0.7"/><circle cx="41" cy="225.7" r="0.7"/><circle cx="43.2" cy="225.7" r="0.7"/><circle cx="45.4" cy="225.7" r="0.7"/><circle cx="47.6" cy="225.7" r="0.7"/><circle cx="49.8" cy="225.7" r="0.7"/><circle cx="52" cy="225.7" r="0.7"/><circle cx="54.2" cy="225.7" r="0.7"/><circle cx="56.4" cy="226.41" r="0.7"/><circle cx="58.6" cy="225.85" r="0.7"/><circle cx="60.8" cy="225.74" r="0.7"/><circle cx="63" cy="225.76" r="0.7"/><circle cx="65.2" cy="225.78" r="0.7"/><circle cx="67.4" cy="225.79" r="0.7"/><circle cx="69.6" cy="225.81" r="0.7"/><circle cx="71.8" cy="225.82" r="0.7"/><circle cx="74" cy="225.84" r="0.7"/><circle cx="76.2" cy="225.86" r="0.7"/><circle cx="78.4" cy="225.87" r="0.7"/><circle cx="80.6" cy="225.89" r="0.7"/><circle cx="82.8" cy="225.91" r="0.7"/><circle cx="85" cy="225.92" r="0.7"/><circle cx="87.2" cy="225.94" r="0.7"/><circle cx="89.4" cy="225.95" r="0.7"/><circle cx="91.6" cy="225.97" r="0.7"/><circle cx="93.8" cy="225.99" r="0.7"/><circle cx="96" cy="226" r="0.7"/><circle cx="98.2" cy="226.02" r="0.7"/><circle cx="100.4" cy="226.04" r="0.7"/><circle cx="102.6" cy="226.05" r="0.7"/><circle cx="104.8" cy="226.07" r="0.7"/><circle cx="107" cy="226.09" r="0.7"/><circle cx="109.2" cy="226.1" r="0.7"/><circle cx="111.4" cy="226.12" r="0.7"/><circle cx="113.6" cy="226.13" r="0.7"/><circle cx="115.8" cy="226.15" r="0.7"/><circle cx="118" cy="226.17" r="0.7"/><circle cx="120.2" cy="226.18" r="0.7"/><circle cx="122.4" cy="226.2" r="0.7"/><circle cx="124.6" cy="226.22" r="0.7"/><circle cx="126.8" cy="226.23" r="0.7"/><circle cx="129" cy="226.25" r="0.7"/><circle cx="131.2" cy="226.26" r="0.7"/><circle cx="133.4" cy="226.28" r="0.7"/></g>
<polyline points="36.6,225.7 37.6,225.7 38.6,225.7 39.6,225.7 40.6,225.7 41.6,225.7 42.6,225.7 43.6,225.7 44.6,225.7 45.6,225.7 46.6,225.7 47.6,225.7 48.6,225.7 49.6,225.7 50.6,225.7 51.6,225.7 52.6,225.7 53.6,225.7 54.6,225.7 55.36,225.7 55.6,225.82 56.5,226.28 56.6,226.26 57.6,226.02 58.6,225.77 59,225.67 59.6,225.67 60.6,225.66 61.6,225.66 62.6,225.65 63.6,225.64 64.6,225.64 65.6,225.63 66.6,225.62 67.6,225.62 68.6,225.61 69.6,225.61 70.6,225.6 71.6,225.59 72.6,225.59 73.6,225.58 74.6,225.57 75.6,225.57 76.6,225.56 77.6,225.55 78.6,225.55 79.6,225.54 80.6,225.53 81.6,225.53 82.6,225.52 83.6,225.51 84.6,225.51 85.6,225.5 86.6,225.49 87.6,225.49 88.6,225.48 89.6,225.47 90.6,225.47 91.6,225.46 92.6,225.46 93.6,225.45 94.6,225.44 95.6,225.44 96.6,225.43 97.6,225.42 98.6,225.42 99.6,225.41 100.6,225.4 101.6,225.4 102.6,225.39 103.6,225.38 104.6,225.38 105.6,225.37 106.6,225.36 107.6,225.36 108.6,225.35 109.6,225.34 110.6,225.34 111.6,225.33 112.6,225.32 113.6,225.32 114.6,225.31 115.6,225.31 116.6,225.3 117.6,225.29 118.6,225.29 119.6,225.28 120.6,225.27 121.6,225.27 122.6,225.26 123.6,225.25 124.6,225.25 125.6,225.24 126.6,225.23 127.6,225.23 128.6,225.22 129.6,225.21 130.6,225.21 131.6,225.2 132.6,225.19 133.6,225.19 134.5,225.18" fill="none" stroke="#e8231a" stroke-width="0.7" stroke-linejoin="round" stroke-linecap="round" />
<g fill="#e8231a"><circle cx="36.6" cy="225.7" r="0.7"/><circle cx="38.8" cy="225.7" r="0.7"/><circle cx="41" cy="225.7" r="0.7"/><circle cx="43.2" cy="225.7" r="0.7"/><circle cx="45.4" cy="225.7" r="0.7"/><circle cx="47.6" cy="225.7" r="0.7"/><circle cx="49.8" cy="225.7" r="0.7"/><circle cx="52" cy="225.7" r="0.7"/><circle cx="54.2" cy="225.7" r="0.7"/><circle cx="56.4" cy="226.23" r="0.7"/><circle cx="58.6" cy="225.77" r="0.7"/><circle cx="60.8" cy="225.66" r="0.7"/><circle cx="63" cy="225.65" r="0.7"/><circle cx="65.2" cy="225.63" r="0.7"/><circle cx="67.4" cy="225.62" r="0.7"/><circle cx="69.6" cy="225.61" r="0.7"/><circle cx="71.8" cy="225.59" r="0.7"/><circle cx="74" cy="225.58" r="0.7"/><circle cx="76.2" cy="225.56" r="0.7"/><circle cx="78.4" cy="225.55" r="0.7"/><circle cx="80.6" cy="225.53" r="0.7"/><circle cx="82.8" cy="225.52" r="0.7"/><circle cx="85" cy="225.5" r="0.7"/><circle cx="87.2" cy="225.49" r="0.7"/><circle cx="89.4" cy="225.48" r="0.7"/><circle cx="91.6" cy="225.46" r="0.7"/><circle cx="93.8" cy="225.45" r="0.7"/><circle cx="96" cy="225.43" r="0.7"/><circle cx="98.2" cy="225.42" r="0.7"/><circle cx="100.4" cy="225.4" r="0.7"/><circle cx="102.6" cy="225.39" r="0.7"/><circle cx="104.8" cy="225.38" r="0.7"/><circle cx="107" cy="225.36" r="0.7"/><circle cx="109.2" cy="225.35" r="0.7"/><circle cx="111.4" cy="225.33" r="0.7"/><circle cx="113.6" cy="225.32" r="0.7"/><circle cx="115.8" cy="225.3" r="0.7"/><circle cx="118" cy="225.29" r="0.7"/><circle cx="120.2" cy="225.28" r="0.7"/><circle cx="122.4" cy="225.26" r="0.7"/><circle cx="124.6" cy="225.25" r="0.7"/><circle cx="126.8" cy="225.23" r="0.7"/><circle cx="129" cy="225.22" r="0.7"/><circle cx="131.2" cy="225.2" r="0.7"/><circle cx="133.4" cy="225.19" r="0.7"/></g>
<polyline points="36.6,225.7 37.6,225.7 38.6,225.7 39.6,225.7 40.6,225.7 41.6,225.7 42.6,225.7 43.6,225.7 44.6,225.7 45.6,225.7 46.6,225.7 47.6,225.7 48.6,225.7 49.6,225.7 50.6,225.7 51.6,225.7 52.6,225.7 53.6,225.7 54.6,225.7 55.52,225.7 55.6,225.74 56.5,226.19 56.6,226.16 57.6,225.94 58.6,225.71 59,225.62 59.6,225.61 60.6,225.59 61.6,225.57 62.6,225.55 63.6,225.52 64.6,225.5 65.6,225.48 66.6,225.46 67.6,225.44 68.6,225.42 69.6,225.4 70.6,225.38 71.6,225.36 72.6,225.34 73.6,225.32 74.6,225.3 75.6,225.28 76.6,225.26 77.6,225.24 78.6,225.22 79.6,225.2 80.6,225.18 81.6,225.16 82.6,225.14 83.6,225.12 84.6,225.1 85.6,225.07 86.6,225.05 87.6,225.03 88.6,225.01 89.6,224.99 90.6,224.97 91.6,224.95 92.6,224.93 93.6,224.91 94.6,224.89 95.6,224.87 96.6,224.85 97.6,224.83 98.6,224.81 99.6,224.79 100.6,224.77 101.6,224.75 102.6,224.73 103.6,224.71 104.6,224.69 105.6,224.67 106.6,224.65 107.6,224.63 108.6,224.6 109.6,224.58 110.6,224.56 111.6,224.54 112.6,224.52 113.6,224.5 114.6,224.48 115.6,224.46 116.6,224.44 117.6,224.42 118.6,224.4 119.6,224.38 120.6,224.36 121.6,224.34 122.6,224.32 123.6,224.3 124.6,224.28 125.6,224.26 126.6,224.24 127.6,224.22 128.6,224.2 129.6,224.18 130.6,224.15 131.6,224.13 132.6,224.11 133.6,224.09 134.5,224.08" fill="none" stroke="#ff3a1e" stroke-width="0.7" stroke-linejoin="round" stroke-linecap="round" />
<g fill="#ff3a1e"><circle cx="36.6" cy="225.7" r="0.7"/><circle cx="38.8" cy="225.7" r="0.7"/><circle cx="41" cy="225.7" r="0.7"/><circle cx="43.2" cy="225.7" r="0.7"/><circle cx="45.4" cy="225.7" r="0.7"/><circle cx="47.6" cy="225.7" r="0.7"/><circle cx="49.8" cy="225.7" r="0.7"/><circle cx="52" cy="225.7" r="0.7"/><circle cx="54.2" cy="225.7" r="0.7"/><circle cx="56.4" cy="226.14" r="0.7"/><circle cx="58.6" cy="225.71" r="0.7"/><circle cx="60.8" cy="225.58" r="0.7"/><circle cx="63" cy="225.54" r="0.7"/><circle cx="65.2" cy="225.49" r="0.7"/><circle cx="67.4" cy="225.45" r="0.7"/><circle cx="69.6" cy="225.4" r="0.7"/><circle cx="71.8" cy="225.36" r="0.7"/><circle cx="74" cy="225.31" r="0.7"/><circle cx="76.2" cy="225.27" r="0.7"/><circle cx="78.4" cy="225.22" r="0.7"/><circle cx="80.6" cy="225.18" r="0.7"/><circle cx="82.8" cy="225.13" r="0.7"/><circle cx="85" cy="225.09" r="0.7"/><circle cx="87.2" cy="225.04" r="0.7"/><circle cx="89.4" cy="225" r="0.7"/><circle cx="91.6" cy="224.95" r="0.7"/><circle cx="93.8" cy="224.91" r="0.7"/><circle cx="96" cy="224.86" r="0.7"/><circle cx="98.2" cy="224.82" r="0.7"/><circle cx="100.4" cy="224.77" r="0.7"/><circle cx="102.6" cy="224.73" r="0.7"/><circle cx="104.8" cy="224.68" r="0.7"/><circle cx="107" cy="224.64" r="0.7"/><circle cx="109.2" cy="224.59" r="0.7"/><circle cx="111.4" cy="224.55" r="0.7"/><circle cx="113.6" cy="224.5" r="0.7"/><circle cx="115.8" cy="224.46" r="0.7"/><circle cx="118" cy="224.41" r="0.7"/><circle cx="120.2" cy="224.37" r="0.7"/><circle cx="122.4" cy="224.32" r="0.7"/><circle cx="124.6" cy="224.28" r="0.7"/><circle cx="126.8" cy="224.23" r="0.7"/><circle cx="129" cy="224.19" r="0.7"/><circle cx="131.2" cy="224.14" r="0.7"/><circle cx="133.4" cy="224.1" r="0.7"/></g>
<polyline points="36.6,225.7 37.6,225.7 38.6,225.7 39.6,225.7 40.6,225.7 41.6,225.7 42.6,225.7 43.6,225.7 44.6,225.7 45.6,225.7 46.6,225.7 47.6,225.7 48.6,225.7 49.6,225.7 50.6,225.7 51.6,225.7 52.6,225.7 53.6,225.7 54.6,225.7 55.51,225.7 55.6,225.73 56.5,226.06 56.6,226.04 57.6,225.83 58.6,225.61 59,225.53 59.6,225.5 60.6,225.46 61.6,225.41 62.6,225.37 63.6,225.33 64.6,225.28 65.6,225.24 66.6,225.19 67.6,225.15 68.6,225.11 69.6,225.06 70.6,225.02 71.6,224.98 72.6,224.93 73.6,224.89 74.6,224.84 75.6,224.8 76.6,224.76 77.6,224.71 78.6,224.67 79.6,224.63 80.6,224.58 81.6,224.54 82.6,224.5 83.6,224.45 84.6,224.41 85.6,224.36 86.6,224.32 87.6,224.28 88.6,224.23 89.6,224.19 90.6,224.15 91.6,224.1 92.6,224.06 93.6,224.02 94.6,223.97 95.6,223.93 96.6,223.88 97.6,223.84 98.6,223.8 99.6,223.75 100.6,223.71 101.6,223.67 102.6,223.62 103.6,223.58 104.6,223.53 105.6,223.49 106.6,223.45 107.6,223.4 108.6,223.36 109.6,223.32 110.6,223.27 111.6,223.23 112.6,223.19 113.6,223.14 114.6,223.1 115.6,223.05 116.6,223.01 117.6,222.97 118.6,222.92 119.6,222.88 120.6,222.84 121.6,222.79 122.6,222.75 123.6,222.7 124.6,222.66 125.6,222.62 126.6,222.57 127.6,222.53 128.6,222.49 129.6,222.44 130.6,222.4 131.6,222.36 132.6,222.31 133.6,222.27 134.5,222.23" fill="none" stroke="#23318f" stroke-width="0.7" stroke-linejoin="round" stroke-linecap="round" />
<g fill="#23318f"><circle cx="36.6" cy="225.7" r="0.7"/><circle cx="38.8" cy="225.7" r="0.7"/><circle cx="41" cy="225.7" r="0.7"/><circle cx="43.2" cy="225.7" r="0.7"/><circle cx="45.4" cy="225.7" r="0.7"/><circle cx="47.6" cy="225.7" r="0.7"/><circle cx="49.8" cy="225.7" r="0.7"/><circle cx="52" cy="225.7" r="0.7"/><circle cx="54.2" cy="225.7" r="0.7"/><circle cx="56.4" cy="226.03" r="0.7"/><circle cx="58.6" cy="225.61" r="0.7"/><circle cx="60.8" cy="225.45" r="0.7"/><circle cx="63" cy="225.35" r="0.7"/><circle cx="65.2" cy="225.26" r="0.7"/><circle cx="67.4" cy="225.16" r="0.7"/><circle cx="69.6" cy="225.06" r="0.7"/><circle cx="71.8" cy="224.97" r="0.7"/><circle cx="74" cy="224.87" r="0.7"/><circle cx="76.2" cy="224.78" r="0.7"/><circle cx="78.4" cy="224.68" r="0.7"/><circle cx="80.6" cy="224.58" r="0.7"/><circle cx="82.8" cy="224.49" r="0.7"/><circle cx="85" cy="224.39" r="0.7"/><circle cx="87.2" cy="224.29" r="0.7"/><circle cx="89.4" cy="224.2" r="0.7"/><circle cx="91.6" cy="224.1" r="0.7"/><circle cx="93.8" cy="224.01" r="0.7"/><circle cx="96" cy="223.91" r="0.7"/><circle cx="98.2" cy="223.81" r="0.7"/><circle cx="100.4" cy="223.72" r="0.7"/><circle cx="102.6" cy="223.62" r="0.7"/><circle cx="104.8" cy="223.53" r="0.7"/><circle cx="107" cy="223.43" r="0.7"/><circle cx="109.2" cy="223.33" r="0.7"/><circle cx="111.4" cy="223.24" r="0.7"/><circle cx="113.6" cy="223.14" r="0.7"/><circle cx="115.8" cy="223.05" r="0.7"/><circle cx="118" cy="222.95" r="0.7"/><circle cx="120.2" cy="222.85" r="0.7"/><circle cx="122.4" cy="222.76" r="0.7"/><circle cx="124.6" cy="222.66" r="0.7"/><circle cx="126.8" cy="222.56" r="0.7"/><circle cx="129" cy="222.47" r="0.7"/><circle cx="131.2" cy="222.37" r="0.7"/><circle cx="133.4" cy="222.28" r="0.7"/></g>
<polyline points="36.6,225.7 37.6,225.7 38.6,225.7 39.6,225.7 40.6,225.7 41.6,225.7 42.6,225.7 43.6,225.7 44.6,225.7 45.6,225.7 46.6,225.7 47.6,225.7 48.6,225.7 49.6,225.7 50.6,225.7 51.6,225.7 52.6,225.7 53.6,225.7 54.6,225.7 55.31,225.7 55.6,226.01 56.5,227 56.6,226.94 57.6,226.37 58.6,225.81 59,225.58 59.6,225.56 60.6,225.53 61.6,225.5 62.6,225.47 63.6,225.44 64.6,225.41 65.6,225.38 66.6,225.35 67.6,225.32 68.6,225.29 69.6,225.26 70.6,225.23 71.6,225.2 72.6,225.17 73.6,225.14 74.6,225.11 75.6,225.08 76.6,225.05 77.6,225.02 78.6,224.99 79.6,224.96 80.6,224.93 81.6,224.9 82.6,224.87 83.6,224.84 84.6,224.81 85.6,224.78 86.6,224.75 87.6,224.72 88.6,224.69 89.6,224.66 90.6,224.63 91.6,224.6 92.6,224.56 93.6,224.53 94.6,224.5 95.6,224.47 96.6,224.44 97.6,224.41 98.6,224.38 99.6,224.35 100.6,224.32 101.6,224.29 102.6,224.26 103.6,224.23 104.6,224.2 105.6,224.17 106.6,224.14 107.6,224.11 108.6,224.08 109.6,224.05 110.6,224.02 111.6,223.99 112.6,223.96 113.6,223.93 114.6,223.9 115.6,223.87 116.6,223.84 117.6,223.81 118.6,223.78 119.6,223.75 120.6,223.72 121.6,223.69 122.6,223.66 123.6,223.63 124.6,223.6 125.6,223.57 126.6,223.54 127.6,223.51 128.6,223.48 129.6,223.45 130.6,223.42 131.6,223.39 132.6,223.36 133.6,223.33 134.5,223.3" fill="none" stroke="#ff7440" stroke-width="0.7" stroke-linejoin="round" stroke-linecap="round" />
<g fill="#ff7440"><circle cx="36.6" cy="225.7" r="0.7"/><circle cx="38.8" cy="225.7" r="0.7"/><circle cx="41" cy="225.7" r="0.7"/><circle cx="43.2" cy="225.7" r="0.7"/><circle cx="45.4" cy="225.7" r="0.7"/><circle cx="47.6" cy="225.7" r="0.7"/><circle cx="49.8" cy="225.7" r="0.7"/><circle cx="52" cy="225.7" r="0.7"/><circle cx="54.2" cy="225.7" r="0.7"/><circle cx="56.4" cy="226.89" r="0.7"/><circle cx="58.6" cy="225.81" r="0.7"/><circle cx="60.8" cy="225.53" r="0.7"/><circle cx="63" cy="225.46" r="0.7"/><circle cx="65.2" cy="225.39" r="0.7"/><circle cx="67.4" cy="225.33" r="0.7"/><circle cx="69.6" cy="225.26" r="0.7"/><circle cx="71.8" cy="225.19" r="0.7"/><circle cx="74" cy="225.13" r="0.7"/><circle cx="76.2" cy="225.06" r="0.7"/><circle cx="78.4" cy="224.99" r="0.7"/><circle cx="80.6" cy="224.93" r="0.7"/><circle cx="82.8" cy="224.86" r="0.7"/><circle cx="85" cy="224.79" r="0.7"/><circle cx="87.2" cy="224.73" r="0.7"/><circle cx="89.4" cy="224.66" r="0.7"/><circle cx="91.6" cy="224.6" r="0.7"/><circle cx="93.8" cy="224.53" r="0.7"/><circle cx="96" cy="224.46" r="0.7"/><circle cx="98.2" cy="224.4" r="0.7"/><circle cx="100.4" cy="224.33" r="0.7"/><circle cx="102.6" cy="224.26" r="0.7"/><circle cx="104.8" cy="224.2" r="0.7"/><circle cx="107" cy="224.13" r="0.7"/><circle cx="109.2" cy="224.06" r="0.7"/><circle cx="111.4" cy="224" r="0.7"/><circle cx="113.6" cy="223.93" r="0.7"/><circle cx="115.8" cy="223.86" r="0.7"/><circle cx="118" cy="223.8" r="0.7"/><circle cx="120.2" cy="223.73" r="0.7"/><circle cx="122.4" cy="223.66" r="0.7"/><circle cx="124.6" cy="223.6" r="0.7"/><circle cx="126.8" cy="223.53" r="0.7"/><circle cx="129" cy="223.47" r="0.7"/><circle cx="131.2" cy="223.4" r="0.7"/><circle cx="133.4" cy="223.33" r="0.7"/></g>
<polyline points="36.6,225.7 37.6,225.7 38.6,225.7 39.6,225.7 40.6,225.7 41.6,225.7 42.6,225.7 43.6,225.7 44.6,225.7 45.6,225.7 46.6,225.7 47.6,225.7 48.6,225.7 49.6,225.7 50.6,225.7 51.6,225.7 52.6,225.7 53.6,225.7 54.6,225.7 55.6,225.7 55.75,225.7 56.5,227.16 56.6,227.1 57.6,226.46 58.6,225.83 59,225.57 59.6,225.56 60.6,225.52 61.6,225.49 62.6,225.46 63.6,225.43 64.6,225.4 65.6,225.37 66.6,225.34 67.6,225.3 68.6,225.27 69.6,225.24 70.6,225.21 71.6,225.18 72.6,225.15 73.6,225.11 74.6,225.08 75.6,225.05 76.6,225.02 77.6,224.99 78.6,224.96 79.6,224.93 80.6,224.89 81.6,224.86 82.6,224.83 83.6,224.8 84.6,224.77 85.6,224.74 86.6,224.71 87.6,224.67 88.6,224.64 89.6,224.61 90.6,224.58 91.6,224.55 92.6,224.52 93.6,224.48 94.6,224.45 95.6,224.42 96.6,224.39 97.6,224.36 98.6,224.33 99.6,224.3 100.6,224.26 101.6,224.23 102.6,224.2 103.6,224.17 104.6,224.14 105.6,224.11 106.6,224.08 107.6,224.04 108.6,224.01 109.6,223.98 110.6,223.95 111.6,223.92 112.6,223.89 113.6,223.85 114.6,223.82 115.6,223.79 116.6,223.76 117.6,223.73 118.6,223.7 119.6,223.67 120.6,223.63 121.6,223.6 122.6,223.57 123.6,223.54 124.6,223.51 125.6,223.48 126.6,223.44 127.6,223.41 128.6,223.38 129.6,223.35 130.6,223.32 131.6,223.29 132.6,223.26 133.6,223.22 134.5,223.2" fill="none" stroke="#1c9494" stroke-width="0.7" stroke-linejoin="round" stroke-linecap="round" />
<g fill="#1c9494"><circle cx="36.6" cy="225.7" r="0.7"/><circle cx="38.8" cy="225.7" r="0.7"/><circle cx="41" cy="225.7" r="0.7"/><circle cx="43.2" cy="225.7" r="0.7"/><circle cx="45.4" cy="225.7" r="0.7"/><circle cx="47.6" cy="225.7" r="0.7"/><circle cx="49.8" cy="225.7" r="0.7"/><circle cx="52" cy="225.7" r="0.7"/><circle cx="54.2" cy="225.7" r="0.7"/><circle cx="56.4" cy="226.96" r="0.7"/><circle cx="58.6" cy="225.83" r="0.7"/><circle cx="60.8" cy="225.52" r="0.7"/><circle cx="63" cy="225.45" r="0.7"/><circle cx="65.2" cy="225.38" r="0.7"/><circle cx="67.4" cy="225.31" r="0.7"/><circle cx="69.6" cy="225.24" r="0.7"/><circle cx="71.8" cy="225.17" r="0.7"/><circle cx="74" cy="225.1" r="0.7"/><circle cx="76.2" cy="225.03" r="0.7"/><circle cx="78.4" cy="224.96" r="0.7"/><circle cx="80.6" cy="224.89" r="0.7"/><circle cx="82.8" cy="224.82" r="0.7"/><circle cx="85" cy="224.76" r="0.7"/><circle cx="87.2" cy="224.69" r="0.7"/><circle cx="89.4" cy="224.62" r="0.7"/><circle cx="91.6" cy="224.55" r="0.7"/><circle cx="93.8" cy="224.48" r="0.7"/><circle cx="96" cy="224.41" r="0.7"/><circle cx="98.2" cy="224.34" r="0.7"/><circle cx="100.4" cy="224.27" r="0.7"/><circle cx="102.6" cy="224.2" r="0.7"/><circle cx="104.8" cy="224.13" r="0.7"/><circle cx="107" cy="224.06" r="0.7"/><circle cx="109.2" cy="223.99" r="0.7"/><circle cx="111.4" cy="223.92" r="0.7"/><circle cx="113.6" cy="223.85" r="0.7"/><circle cx="115.8" cy="223.79" r="0.7"/><circle cx="118" cy="223.72" r="0.7"/><circle cx="120.2" cy="223.65" r="0.7"/><circle cx="122.4" cy="223.58" r="0.7"/><circle cx="124.6" cy="223.51" r="0.7"/><circle cx="126.8" cy="223.44" r="0.7"/><circle cx="129" cy="223.37" r="0.7"/><circle cx="131.2" cy="223.3" r="0.7"/><circle cx="133.4" cy="223.23" r="0.7"/></g>
<polyline points="36.6,225.7 37.6,225.7 38.6,225.7 39.6,225.7 40.6,225.7 41.6,225.7 42.6,225.7 43.6,225.7 44.6,225.7 45.6,225.7 46.6,225.7 47.6,225.7 48.6,225.7 49.6,225.7 50.6,225.7 51.6,225.7 52.6,225.7 53.6,225.7 54.6,225.7 55.6,225.7 55.78,225.7 56.5,227.37 56.6,227.3 57.6,226.64 58.6,225.98 59,225.72 59.6,225.72 60.6,225.73 61.6,225.73 62.6,225.74 63.6,225.74 64.6,225.75 65.6,225.75 66.6,225.76 67.6,225.76 68.6,225.77 69.6,225.77 70.6,225.78 71.6,225.78 72.6,225.79 73.6,225.79 74.6,225.8 75.6,225.81 76.6,225.81 77.6,225.82 78.6,225.82 79.6,225.83 80.6,225.83 81.6,225.84 82.6,225.84 83.6,225.85 84.6,225.85 85.6,225.86 86.6,225.86 87.6,225.87 88.6,225.87 89.6,225.88 90.6,225.88 91.6,225.89 92.6,225.89 93.6,225.9 94.6,225.9 95.6,225.91 96.6,225.91 97.6,225.92 98.6,225.92 99.6,225.93 100.6,225.93 101.6,225.94 102.6,225.94 103.6,225.95 104.6,225.95 105.6,225.96 106.6,225.96 107.6,225.97 108.6,225.97 109.6,225.98 110.6,225.98 111.6,225.99 112.6,225.99 113.6,226 114.6,226 115.6,226.01 116.6,226.01 117.6,226.02 118.6,226.02 119.6,226.03 120.6,226.04 121.6,226.04 122.6,226.05 123.6,226.05 124.6,226.06 125.6,226.06 126.6,226.07 127.6,226.07 128.6,226.08 129.6,226.08 130.6,226.09 131.6,226.09 132.6,226.1 133.6,226.1 134.5,226.11" fill="none" stroke="#4d8dff" stroke-width="0.7" stroke-linejoin="round" stroke-linecap="round" />
<g fill="#4d8dff"><circle cx="36.6" cy="225.7" r="0.7"/><circle cx="38.8" cy="225.7" r="0.7"/><circle cx="41" cy="225.7" r="0.7"/><circle cx="43.2" cy="225.7" r="0.7"/><circle cx="45.4" cy="225.7" r="0.7"/><circle cx="47.6" cy="225.7" r="0.7"/><circle cx="49.8" cy="225.7" r="0.7"/><circle cx="52" cy="225.7" r="0.7"/><circle cx="54.2" cy="225.7" r="0.7"/><circle cx="56.4" cy="227.13" r="0.7"/><circle cx="58.6" cy="225.98" r="0.7"/><circle cx="60.8" cy="225.73" r="0.7"/><circle cx="63" cy="225.74" r="0.7"/><circle cx="65.2" cy="225.75" r="0.7"/><circle cx="67.4" cy="225.76" r="0.7"/><circle cx="69.6" cy="225.77" r="0.7"/><circle cx="71.8" cy="225.79" r="0.7"/><circle cx="74" cy="225.8" r="0.7"/><circle cx="76.2" cy="225.81" r="0.7"/><circle cx="78.4" cy="225.82" r="0.7"/><circle cx="80.6" cy="225.83" r="0.7"/><circle cx="82.8" cy="225.84" r="0.7"/><circle cx="85" cy="225.85" r="0.7"/><circle cx="87.2" cy="225.86" r="0.7"/><circle cx="89.4" cy="225.88" r="0.7"/><circle cx="91.6" cy="225.89" r="0.7"/><circle cx="93.8" cy="225.9" r="0.7"/><circle cx="96" cy="225.91" r="0.7"/><circle cx="98.2" cy="225.92" r="0.7"/><circle cx="100.4" cy="225.93" r="0.7"/><circle cx="102.6" cy="225.94" r="0.7"/><circle cx="104.8" cy="225.95" r="0.7"/><circle cx="107" cy="225.97" r="0.7"/><circle cx="109.2" cy="225.98" r="0.7"/><circle cx="111.4" cy="225.99" r="0.7"/><circle cx="113.6" cy="226" r="0.7"/><circle cx="115.8" cy="226.01" r="0.7"/><circle cx="118" cy="226.02" r="0.7"/><circle cx="120.2" cy="226.03" r="0.7"/><circle cx="122.4" cy="226.04" r="0.7"/><circle cx="124.6" cy="226.06" r="0.7"/><circle cx="126.8" cy="226.07" r="0.7"/><circle cx="129" cy="226.08" r="0.7"/><circle cx="131.2" cy="226.09" r="0.7"/><circle cx="133.4" cy="226.1" r="0.7"/></g>
<polyline points="36.6,225.7 37.6,225.7 38.6,225.7 39.6,225.7 40.6,225.7 41.6,225.7 42.6,225.7 43.6,225.7 44.6,225.7 45.6,225.7 46.6,225.7 47.6,225.7 48.6,225.7 49.6,225.7 50.6,225.7 51.6,225.7 52.6,225.7 53.6,225.7 54.6,225.7 55.12,225.7 55.6,225.92 56.5,226.33 56.6,226.31 57.6,226.09 58.6,225.87 59,225.79 59.6,225.8 60.6,225.82 61.6,225.84 62.6,225.87 63.6,225.89 64.6,225.91 65.6,225.93 66.6,225.95 67.6,225.98 68.6,226 69.6,226.02 70.6,226.04 71.6,226.06 72.6,226.08 73.6,226.11 74.6,226.13 75.6,226.15 76.6,226.17 77.6,226.19 78.6,226.22 79.6,226.24 80.6,226.26 81.6,226.28 82.6,226.3 83.6,226.33 84.6,226.35 85.6,226.37 86.6,226.39 87.6,226.41 88.6,226.43 89.6,226.46 90.6,226.48 91.6,226.5 92.6,226.52 93.6,226.54 94.6,226.57 95.6,226.59 96.6,226.61 97.6,226.63 98.6,226.65 99.6,226.68 100.6,226.7 101.6,226.72 102.6,226.74 103.6,226.76 104.6,226.78 105.6,226.81 106.6,226.83 107.6,226.85 108.6,226.87 109.6,226.89 110.6,226.92 111.6,226.94 112.6,226.96 113.6,226.98 114.6,227 115.6,227.03 116.6,227.05 117.6,227.07 118.6,227.09 119.6,227.11 120.6,227.14 121.6,227.16 122.6,227.18 123.6,227.2 124.6,227.22 125.6,227.24 126.6,227.27 127.6,227.29 128.6,227.31 129.6,227.33 130.6,227.35 131.6,227.38 132.6,227.4 133.6,227.42 134.5,227.44" fill="none" stroke="#23318f" stroke-width="0.7" stroke-linejoin="round" stroke-linecap="round" />
<g fill="#23318f"><circle cx="36.6" cy="225.7" r="0.7"/><circle cx="38.8" cy="225.7" r="0.7"/><circle cx="41" cy="225.7" r="0.7"/><circle cx="43.2" cy="225.7" r="0.7"/><circle cx="45.4" cy="225.7" r="0.7"/><circle cx="47.6" cy="225.7" r="0.7"/><circle cx="49.8" cy="225.7" r="0.7"/><circle cx="52" cy="225.7" r="0.7"/><circle cx="54.2" cy="225.7" r="0.7"/><circle cx="56.4" cy="226.29" r="0.7"/><circle cx="58.6" cy="225.87" r="0.7"/><circle cx="60.8" cy="225.83" r="0.7"/><circle cx="63" cy="225.87" r="0.7"/><circle cx="65.2" cy="225.92" r="0.7"/><circle cx="67.4" cy="225.97" r="0.7"/><circle cx="69.6" cy="226.02" r="0.7"/><circle cx="71.8" cy="226.07" r="0.7"/><circle cx="74" cy="226.12" r="0.7"/><circle cx="76.2" cy="226.16" r="0.7"/><circle cx="78.4" cy="226.21" r="0.7"/><circle cx="80.6" cy="226.26" r="0.7"/><circle cx="82.8" cy="226.31" r="0.7"/><circle cx="85" cy="226.36" r="0.7"/><circle cx="87.2" cy="226.4" r="0.7"/><circle cx="89.4" cy="226.45" r="0.7"/><circle cx="91.6" cy="226.5" r="0.7"/><circle cx="93.8" cy="226.55" r="0.7"/><circle cx="96" cy="226.6" r="0.7"/><circle cx="98.2" cy="226.64" r="0.7"/><circle cx="100.4" cy="226.69" r="0.7"/><circle cx="102.6" cy="226.74" r="0.7"/><circle cx="104.8" cy="226.79" r="0.7"/><circle cx="107" cy="226.84" r="0.7"/><circle cx="109.2" cy="226.89" r="0.7"/><circle cx="111.4" cy="226.93" r="0.7"/><circle cx="113.6" cy="226.98" r="0.7"/><circle cx="115.8" cy="227.03" r="0.7"/><circle cx="118" cy="227.08" r="0.7"/><circle cx="120.2" cy="227.13" r="0.7"/><circle cx="122.4" cy="227.17" r="0.7"/><circle cx="124.6" cy="227.22" r="0.7"/><circle cx="126.8" cy="227.27" r="0.7"/><circle cx="129" cy="227.32" r="0.7"/><circle cx="131.2" cy="227.37" r="0.7"/><circle cx="133.4" cy="227.42" r="0.7"/></g>
<polyline points="36.6,225.7 37.6,225.7 38.6,225.7 39.6,225.7 40.6,225.7 41.6,225.7 42.6,225.7 43.6,225.7 44.6,225.7 45.6,225.7 46.6,225.7 47.6,225.7 48.6,225.7 49.6,225.7 50.6,225.7 51.6,225.7 52.6,225.7 53.6,225.7 54.6,225.7 55.12,225.7 55.6,226.1 56.5,226.86 56.6,226.81 57.6,226.4 58.6,225.98 59,225.81 59.6,225.83 60.6,225.85 61.6,225.88 62.6,225.91 63.6,225.94 64.6,225.97 65.6,225.99 66.6,226.02 67.6,226.05 68.6,226.08 69.6,226.1 70.6,226.13 71.6,226.16 72.6,226.19 73.6,226.21 74.6,226.24 75.6,226.27 76.6,226.3 77.6,226.33 78.6,226.35 79.6,226.38 80.6,226.41 81.6,226.44 82.6,226.46 83.6,226.49 84.6,226.52 85.6,226.55 86.6,226.58 87.6,226.6 88.6,226.63 89.6,226.66 90.6,226.69 91.6,226.71 92.6,226.74 93.6,226.77 94.6,226.8 95.6,226.82 96.6,226.85 97.6,226.88 98.6,226.91 99.6,226.94 100.6,226.96 101.6,226.99 102.6,227.02 103.6,227.05 104.6,227.07 105.6,227.1 106.6,227.13 107.6,227.16 108.6,227.19 109.6,227.21 110.6,227.24 111.6,227.27 112.6,227.3 113.6,227.32 114.6,227.35 115.6,227.38 116.6,227.41 117.6,227.43 118.6,227.46 119.6,227.49 120.6,227.52 121.6,227.55 122.6,227.57 123.6,227.6 124.6,227.63 125.6,227.66 126.6,227.68 127.6,227.71 128.6,227.74 129.6,227.77 130.6,227.8 131.6,227.82 132.6,227.85 133.6,227.88 134.5,227.9" fill="none" stroke="#ff7440" stroke-width="0.7" stroke-linejoin="round" stroke-linecap="round" />
<g fill="#ff7440"><circle cx="36.6" cy="225.7" r="0.7"/><circle cx="38.8" cy="225.7" r="0.7"/><circle cx="41" cy="225.7" r="0.7"/><circle cx="43.2" cy="225.7" r="0.7"/><circle cx="45.4" cy="225.7" r="0.7"/><circle cx="47.6" cy="225.7" r="0.7"/><circle cx="49.8" cy="225.7" r="0.7"/><circle cx="52" cy="225.7" r="0.7"/><circle cx="54.2" cy="225.7" r="0.7"/><circle cx="56.4" cy="226.77" r="0.7"/><circle cx="58.6" cy="225.98" r="0.7"/><circle cx="60.8" cy="225.86" r="0.7"/><circle cx="63" cy="225.92" r="0.7"/><circle cx="65.2" cy="225.98" r="0.7"/><circle cx="67.4" cy="226.04" r="0.7"/><circle cx="69.6" cy="226.1" r="0.7"/><circle cx="71.8" cy="226.17" r="0.7"/><circle cx="74" cy="226.23" r="0.7"/><circle cx="76.2" cy="226.29" r="0.7"/><circle cx="78.4" cy="226.35" r="0.7"/><circle cx="80.6" cy="226.41" r="0.7"/><circle cx="82.8" cy="226.47" r="0.7"/><circle cx="85" cy="226.53" r="0.7"/><circle cx="87.2" cy="226.59" r="0.7"/><circle cx="89.4" cy="226.65" r="0.7"/><circle cx="91.6" cy="226.71" r="0.7"/><circle cx="93.8" cy="226.78" r="0.7"/><circle cx="96" cy="226.84" r="0.7"/><circle cx="98.2" cy="226.9" r="0.7"/><circle cx="100.4" cy="226.96" r="0.7"/><circle cx="102.6" cy="227.02" r="0.7"/><circle cx="104.8" cy="227.08" r="0.7"/><circle cx="107" cy="227.14" r="0.7"/><circle cx="109.2" cy="227.2" r="0.7"/><circle cx="111.4" cy="227.26" r="0.7"/><circle cx="113.6" cy="227.32" r="0.7"/><circle cx="115.8" cy="227.38" r="0.7"/><circle cx="118" cy="227.45" r="0.7"/><circle cx="120.2" cy="227.51" r="0.7"/><circle cx="122.4" cy="227.57" r="0.7"/><circle cx="124.6" cy="227.63" r="0.7"/><circle cx="126.8" cy="227.69" r="0.7"/><circle cx="129" cy="227.75" r="0.7"/><circle cx="131.2" cy="227.81" r="0.7"/><circle cx="133.4" cy="227.87" r="0.7"/></g>
<polyline points="36.6,225.7 37.6,225.7 38.6,225.7 39.6,225.7 40.6,225.7 41.6,225.7 42.6,225.7 43.6,225.7 44.6,225.7 45.6,225.7 46.6,225.7 47.6,225.7 48.6,225.7 49.6,225.7 50.6,225.7 51.6,225.7 52.6,225.7 53.6,225.7 54.57,225.7 54.6,225.72 55.6,226.18 56.5,226.59 56.6,226.56 57.6,226.24 58.6,225.93 59,225.8 59.6,225.82 60.6,225.84 61.6,225.87 62.6,225.89 63.6,225.92 64.6,225.95 65.6,225.97 66.6,226 67.6,226.02 68.6,226.05 69.6,226.07 70.6,226.1 71.6,226.13 72.6,226.15 73.6,226.18 74.6,226.2 75.6,226.23 76.6,226.25 77.6,226.28 78.6,226.31 79.6,226.33 80.6,226.36 81.6,226.38 82.6,226.41 83.6,226.43 84.6,226.46 85.6,226.48 86.6,226.51 87.6,226.54 88.6,226.56 89.6,226.59 90.6,226.61 91.6,226.64 92.6,226.66 93.6,226.69 94.6,226.72 95.6,226.74 96.6,226.77 97.6,226.79 98.6,226.82 99.6,226.84 100.6,226.87 101.6,226.9 102.6,226.92 103.6,226.95 104.6,226.97 105.6,227 106.6,227.02 107.6,227.05 108.6,227.08 109.6,227.1 110.6,227.13 111.6,227.15 112.6,227.18 113.6,227.2 114.6,227.23 115.6,227.25 116.6,227.28 117.6,227.31 118.6,227.33 119.6,227.36 120.6,227.38 121.6,227.41 122.6,227.43 123.6,227.46 124.6,227.49 125.6,227.51 126.6,227.54 127.6,227.56 128.6,227.59 129.6,227.61 130.6,227.64 131.6,227.67 132.6,227.69 133.6,227.72 134.5,227.74" fill="none" stroke="#1a1a6e" stroke-width="0.7" stroke-linejoin="round" stroke-linecap="round" />
<g fill="#1a1a6e"><circle cx="36.6" cy="225.7" r="0.7"/><circle cx="38.8" cy="225.7" r="0.7"/><circle cx="41" cy="225.7" r="0.7"/><circle cx="43.2" cy="225.7" r="0.7"/><circle cx="45.4" cy="225.7" r="0.7"/><circle cx="47.6" cy="225.7" r="0.7"/><circle cx="49.8" cy="225.7" r="0.7"/><circle cx="52" cy="225.7" r="0.7"/><circle cx="54.2" cy="225.7" r="0.7"/><circle cx="56.4" cy="226.55" r="0.7"/><circle cx="58.6" cy="225.93" r="0.7"/><circle cx="60.8" cy="225.85" r="0.7"/><circle cx="63" cy="225.9" r="0.7"/><circle cx="65.2" cy="225.96" r="0.7"/><circle cx="67.4" cy="226.02" r="0.7"/><circle cx="69.6" cy="226.07" r="0.7"/><circle cx="71.8" cy="226.13" r="0.7"/><circle cx="74" cy="226.19" r="0.7"/><circle cx="76.2" cy="226.24" r="0.7"/><circle cx="78.4" cy="226.3" r="0.7"/><circle cx="80.6" cy="226.36" r="0.7"/><circle cx="82.8" cy="226.41" r="0.7"/><circle cx="85" cy="226.47" r="0.7"/><circle cx="87.2" cy="226.53" r="0.7"/><circle cx="89.4" cy="226.58" r="0.7"/><circle cx="91.6" cy="226.64" r="0.7"/><circle cx="93.8" cy="226.7" r="0.7"/><circle cx="96" cy="226.75" r="0.7"/><circle cx="98.2" cy="226.81" r="0.7"/><circle cx="100.4" cy="226.86" r="0.7"/><circle cx="102.6" cy="226.92" r="0.7"/><circle cx="104.8" cy="226.98" r="0.7"/><circle cx="107" cy="227.03" r="0.7"/><circle cx="109.2" cy="227.09" r="0.7"/><circle cx="111.4" cy="227.15" r="0.7"/><circle cx="113.6" cy="227.2" r="0.7"/><circle cx="115.8" cy="227.26" r="0.7"/><circle cx="118" cy="227.32" r="0.7"/><circle cx="120.2" cy="227.37" r="0.7"/><circle cx="122.4" cy="227.43" r="0.7"/><circle cx="124.6" cy="227.49" r="0.7"/><circle cx="126.8" cy="227.54" r="0.7"/><circle cx="129" cy="227.6" r="0.7"/><circle cx="131.2" cy="227.66" r="0.7"/><circle cx="133.4" cy="227.71" r="0.7"/></g>
<polyline points="36.6,225.7 37.6,225.7 38.6,225.7 39.6,225.7 40.6,225.7 41.6,225.7 42.6,225.7 43.6,225.7 44.6,225.7 45.6,225.7 46.6,225.7 47.6,225.7 48.6,225.7 49.6,225.7 50.6,225.7 51.6,225.7 52.6,225.7 53.6,225.7 54.6,225.7 54.92,225.7 55.6,225.9 56.5,226.16 56.6,226.14 57.6,225.93 58.6,225.71 59,225.63 59.6,225.62 60.6,225.6 61.6,225.58 62.6,225.57 63.6,225.55 64.6,225.53 65.6,225.51 66.6,225.5 67.6,225.48 68.6,225.46 69.6,225.44 70.6,225.43 71.6,225.41 72.6,225.39 73.6,225.37 74.6,225.36 75.6,225.34 76.6,225.32 77.6,225.3 78.6,225.29 79.6,225.27 80.6,225.25 81.6,225.23 82.6,225.21 83.6,225.2 84.6,225.18 85.6,225.16 86.6,225.14 87.6,225.13 88.6,225.11 89.6,225.09 90.6,225.07 91.6,225.06 92.6,225.04 93.6,225.02 94.6,225 95.6,224.99 96.6,224.97 97.6,224.95 98.6,224.93 99.6,224.92 100.6,224.9 101.6,224.88 102.6,224.86 103.6,224.85 104.6,224.83 105.6,224.81 106.6,224.79 107.6,224.78 108.6,224.76 109.6,224.74 110.6,224.72 111.6,224.7 112.6,224.69 113.6,224.67 114.6,224.65 115.6,224.63 116.6,224.62 117.6,224.6 118.6,224.58 119.6,224.56 120.6,224.55 121.6,224.53 122.6,224.51 123.6,224.49 124.6,224.48 125.6,224.46 126.6,224.44 127.6,224.42 128.6,224.41 129.6,224.39 130.6,224.37 131.6,224.35 132.6,224.34 133.6,224.32 134.5,224.3" fill="none" stroke="#2f6cff" stroke-width="0.7" stroke-linejoin="round" stroke-linecap="round" />
<g fill="#2f6cff"><circle cx="36.6" cy="225.7" r="0.7"/><circle cx="38.8" cy="225.7" r="0.7"/><circle cx="41" cy="225.7" r="0.7"/><circle cx="43.2" cy="225.7" r="0.7"/><circle cx="45.4" cy="225.7" r="0.7"/><circle cx="47.6" cy="225.7" r="0.7"/><circle cx="49.8" cy="225.7" r="0.7"/><circle cx="52" cy="225.7" r="0.7"/><circle cx="54.2" cy="225.7" r="0.7"/><circle cx="56.4" cy="226.13" r="0.7"/><circle cx="58.6" cy="225.71" r="0.7"/><circle cx="60.8" cy="225.6" r="0.7"/><circle cx="63" cy="225.56" r="0.7"/><circle cx="65.2" cy="225.52" r="0.7"/><circle cx="67.4" cy="225.48" r="0.7"/><circle cx="69.6" cy="225.44" r="0.7"/><circle cx="71.8" cy="225.4" r="0.7"/><circle cx="74" cy="225.37" r="0.7"/><circle cx="76.2" cy="225.33" r="0.7"/><circle cx="78.4" cy="225.29" r="0.7"/><circle cx="80.6" cy="225.25" r="0.7"/><circle cx="82.8" cy="225.21" r="0.7"/><circle cx="85" cy="225.17" r="0.7"/><circle cx="87.2" cy="225.13" r="0.7"/><circle cx="89.4" cy="225.1" r="0.7"/><circle cx="91.6" cy="225.06" r="0.7"/><circle cx="93.8" cy="225.02" r="0.7"/><circle cx="96" cy="224.98" r="0.7"/><circle cx="98.2" cy="224.94" r="0.7"/><circle cx="100.4" cy="224.9" r="0.7"/><circle cx="102.6" cy="224.86" r="0.7"/><circle cx="104.8" cy="224.82" r="0.7"/><circle cx="107" cy="224.79" r="0.7"/><circle cx="109.2" cy="224.75" r="0.7"/><circle cx="111.4" cy="224.71" r="0.7"/><circle cx="113.6" cy="224.67" r="0.7"/><circle cx="115.8" cy="224.63" r="0.7"/><circle cx="118" cy="224.59" r="0.7"/><circle cx="120.2" cy="224.55" r="0.7"/><circle cx="122.4" cy="224.51" r="0.7"/><circle cx="124.6" cy="224.48" r="0.7"/><circle cx="126.8" cy="224.44" r="0.7"/><circle cx="129" cy="224.4" r="0.7"/><circle cx="131.2" cy="224.36" r="0.7"/><circle cx="133.4" cy="224.32" r="0.7"/></g>
<polyline points="36.6,225.7 37.6,225.7 38.6,225.7 39.6,225.7 40.6,225.7 41.6,225.7 42.6,225.7 43.6,225.7 44.6,225.7 45.6,225.7 46.6,225.7 47.6,225.7 48.6,225.7 49.6,225.7 50.6,225.7 51.6,225.7 52.6,225.7 53.6,225.7 54.6,225.7 54.62,225.7 55.6,226.39 56.5,227.02 56.6,226.96 57.6,226.34 58.6,225.72 59,225.48 59.6,225.44 60.6,225.39 61.6,225.33 62.6,225.28 63.6,225.22 64.6,225.17 65.6,225.11 66.6,225.05 67.6,225 68.6,224.94 69.6,224.89 70.6,224.83 71.6,224.77 72.6,224.72 73.6,224.66 74.6,224.61 75.6,224.55 76.6,224.5 77.6,224.44 78.6,224.38 79.6,224.33 80.6,224.27 81.6,224.22 82.6,224.16 83.6,224.11 84.6,224.05 85.6,223.99 86.6,223.94 87.6,223.88 88.6,223.83 89.6,223.77 90.6,223.71 91.6,223.66 92.6,223.6 93.6,223.55 94.6,223.49 95.6,223.44 96.6,223.38 97.6,223.32 98.6,223.27 99.6,223.21 100.6,223.16 101.6,223.1 102.6,223.04 103.6,222.99 104.6,222.93 105.6,222.88 106.6,222.82 107.6,222.77 108.6,222.71 109.6,222.65 110.6,222.6 111.6,222.54 112.6,222.49 113.6,222.43 114.6,222.37 115.6,222.32 116.6,222.26 117.6,222.21 118.6,222.15 119.6,222.1 120.6,222.04 121.6,221.98 122.6,221.93 123.6,221.87 124.6,221.82 125.6,221.76 126.6,221.71 127.6,221.65 128.6,221.59 129.6,221.54 130.6,221.48 131.6,221.43 132.6,221.37 133.6,221.31 134.5,221.26" fill="none" stroke="#ff3a1e" stroke-width="0.7" stroke-linejoin="round" stroke-linecap="round" />
<g fill="#ff3a1e"><circle cx="36.6" cy="225.7" r="0.7"/><circle cx="38.8" cy="225.7" r="0.7"/><circle cx="41" cy="225.7" r="0.7"/><circle cx="43.2" cy="225.7" r="0.7"/><circle cx="45.4" cy="225.7" r="0.7"/><circle cx="47.6" cy="225.7" r="0.7"/><circle cx="49.8" cy="225.7" r="0.7"/><circle cx="52" cy="225.7" r="0.7"/><circle cx="54.2" cy="225.7" r="0.7"/><circle cx="56.4" cy="226.95" r="0.7"/><circle cx="58.6" cy="225.72" r="0.7"/><circle cx="60.8" cy="225.38" r="0.7"/><circle cx="63" cy="225.25" r="0.7"/><circle cx="65.2" cy="225.13" r="0.7"/><circle cx="67.4" cy="225.01" r="0.7"/><circle cx="69.6" cy="224.89" r="0.7"/><circle cx="71.8" cy="224.76" r="0.7"/><circle cx="74" cy="224.64" r="0.7"/><circle cx="76.2" cy="224.52" r="0.7"/><circle cx="78.4" cy="224.4" r="0.7"/><circle cx="80.6" cy="224.27" r="0.7"/><circle cx="82.8" cy="224.15" r="0.7"/><circle cx="85" cy="224.03" r="0.7"/><circle cx="87.2" cy="223.9" r="0.7"/><circle cx="89.4" cy="223.78" r="0.7"/><circle cx="91.6" cy="223.66" r="0.7"/><circle cx="93.8" cy="223.54" r="0.7"/><circle cx="96" cy="223.41" r="0.7"/><circle cx="98.2" cy="223.29" r="0.7"/><circle cx="100.4" cy="223.17" r="0.7"/><circle cx="102.6" cy="223.04" r="0.7"/><circle cx="104.8" cy="222.92" r="0.7"/><circle cx="107" cy="222.8" r="0.7"/><circle cx="109.2" cy="222.68" r="0.7"/><circle cx="111.4" cy="222.55" r="0.7"/><circle cx="113.6" cy="222.43" r="0.7"/><circle cx="115.8" cy="222.31" r="0.7"/><circle cx="118" cy="222.19" r="0.7"/><circle cx="120.2" cy="222.06" r="0.7"/><circle cx="122.4" cy="221.94" r="0.7"/><circle cx="124.6" cy="221.82" r="0.7"/><circle cx="126.8" cy="221.69" r="0.7"/><circle cx="129" cy="221.57" r="0.7"/><circle cx="131.2" cy="221.45" r="0.7"/><circle cx="133.4" cy="221.33" r="0.7"/></g>
<polyline points="36.6,225.7 37.6,225.7 38.6,225.7 39.6,225.7 40.6,225.7 41.6,225.7 42.6,225.7 43.6,225.7 44.6,225.7 45.6,225.7 46.6,225.7 47.6,225.7 48.6,225.7 49.6,225.7 50.6,225.7 51.6,225.7 52.6,225.7 53.6,225.7 54.3,225.7 54.6,211.37 55.5,168.37 55.6,168.55 56.6,170.3 57.5,171.88 57.6,172.74 58.6,181.32 59,184.75 59.6,187.91 60.6,193.17 61,195.28 61.6,195.51 62.6,195.9 63.6,196.29 64,196.45 64.6,196.63 65.6,196.92 66.6,197.21 67.6,197.5 68,197.62 68.6,197.8 69.6,198.09 70.6,198.38 71.6,198.67 72,198.79 72.6,199.32 73.6,200.19 74.6,201.07 75.6,201.95 76,202.3 76.6,202.83 77.6,203.7 78.6,204.58 79.6,205.46 80,205.81 80.6,206.34 81.6,207.21 82.6,208.09 83.6,208.97 84,209.32 84.6,210.02 85.6,211.19 86.6,212.36 87.6,213.53 88,214 88.6,214.7 89.6,215.87 90.6,217.04 91.6,218.21 92,218.68 92.6,219.21 93.6,220.08 94.6,220.96 95.6,221.84 96,222.19 96.6,222.54 97.6,223.13 98.6,223.71 99.6,224.3 100,224.53 100.6,224.51 101.6,224.48 102.6,224.44 103.6,224.41 104.6,224.37 105.6,224.34 106.6,224.31 107.6,224.27 108.6,224.24 109.6,224.2 110.6,224.17 111.6,224.14 112.6,224.1 113.6,224.07 114.6,224.03 115.6,224 116.6,223.97 117.6,223.93 118.6,223.9 119.6,223.87 120.6,223.83 121.6,223.8 122.6,223.76 123.6,223.73 124.6,223.7 125.6,223.66 126.6,223.63 127.6,223.59 128.6,223.56 129.6,223.53 130.6,223.49 131.6,223.46 132.6,223.42 133.6,223.39 134.5,223.36" fill="none" stroke="#ff3a1e" stroke-width="0.6" stroke-linejoin="round" stroke-linecap="round" />
<g fill="#ff3a1e"><circle cx="36.6" cy="225.7" r="0.75"/><circle cx="38.8" cy="225.7" r="0.75"/><circle cx="41" cy="225.7" r="0.75"/><circle cx="43.2" cy="225.7" r="0.75"/><circle cx="45.4" cy="225.7" r="0.75"/><circle cx="47.6" cy="225.7" r="0.75"/><circle cx="49.8" cy="225.7" r="0.75"/><circle cx="52" cy="225.7" r="0.75"/><circle cx="54.2" cy="225.7" r="0.75"/><circle cx="56.4" cy="169.95" r="0.75"/><circle cx="58.6" cy="181.32" r="0.75"/><circle cx="60.8" cy="194.23" r="0.75"/><circle cx="63" cy="196.06" r="0.75"/><circle cx="65.2" cy="196.8" r="0.75"/><circle cx="67.4" cy="197.44" r="0.75"/><circle cx="69.6" cy="198.09" r="0.75"/><circle cx="71.8" cy="198.73" r="0.75"/><circle cx="74" cy="200.55" r="0.75"/><circle cx="76.2" cy="202.48" r="0.75"/><circle cx="78.4" cy="204.41" r="0.75"/><circle cx="80.6" cy="206.34" r="0.75"/><circle cx="82.8" cy="208.27" r="0.75"/><circle cx="85" cy="210.49" r="0.75"/><circle cx="87.2" cy="213.06" r="0.75"/><circle cx="89.4" cy="215.64" r="0.75"/><circle cx="91.6" cy="218.21" r="0.75"/><circle cx="93.8" cy="220.26" r="0.75"/><circle cx="96" cy="222.19" r="0.75"/><circle cx="98.2" cy="223.48" r="0.75"/><circle cx="100.4" cy="224.52" r="0.75"/><circle cx="102.6" cy="224.44" r="0.75"/><circle cx="104.8" cy="224.37" r="0.75"/><circle cx="107" cy="224.29" r="0.75"/><circle cx="109.2" cy="224.22" r="0.75"/><circle cx="111.4" cy="224.14" r="0.75"/><circle cx="113.6" cy="224.07" r="0.75"/><circle cx="115.8" cy="223.99" r="0.75"/><circle cx="118" cy="223.92" r="0.75"/><circle cx="120.2" cy="223.84" r="0.75"/><circle cx="122.4" cy="223.77" r="0.75"/><circle cx="124.6" cy="223.7" r="0.75"/><circle cx="126.8" cy="223.62" r="0.75"/><circle cx="129" cy="223.55" r="0.75"/><circle cx="131.2" cy="223.47" r="0.75"/><circle cx="133.4" cy="223.4" r="0.75"/></g>
<polyline points="36.6,225.7 37.6,225.7 38.6,225.7 39.6,225.7 40.6,225.7 41.6,225.7 42.6,225.7 43.6,225.7 44.6,225.7 45.6,225.7 46.6,225.7 47.6,225.7 48.6,225.7 49.6,225.7 50.6,225.7 51.6,225.7 52.6,225.7 53.6,225.7 54.5,225.7 54.6,221.02 55.5,178.9 55.6,180.3 56.6,194.34 57,199.96 57.6,198.56 58.6,196.22 59,195.28 59.6,195.05 60.6,194.66 61.6,194.27 62,194.11 62.6,194.34 63.6,194.73 64.6,195.12 65,195.28 65.6,195.7 66.6,196.4 67.6,197.11 68.6,197.81 69.6,198.51 70,198.79 70.6,199.21 71.6,199.91 72.6,200.62 73.6,201.32 74.6,202.02 75,202.3 75.6,203 76.6,204.17 77.6,205.34 78.6,206.51 79.6,207.68 80,208.15 80.6,208.97 81.6,210.33 82.6,211.7 83.6,213.06 84.6,214.43 85.6,215.79 86,216.34 86.6,217.04 87.6,218.21 88.6,219.38 89.6,220.55 90.6,221.72 91.6,222.89 92,223.36 92.6,223.77 93.6,224.45 94.6,225.13 95.6,225.82 96.6,226.5 97.6,227.18 98,227.45 98.6,227.5 99.6,227.56 100.6,227.63 101.6,227.7 102.6,227.77 103.6,227.84 104.6,227.91 105.6,227.97 106.6,228.04 107.6,228.11 108.6,228.18 109.6,228.25 110,228.27 110.6,228.28 111.6,228.29 112.6,228.3 113.6,228.31 114.6,228.32 115.6,228.33 116.6,228.34 117.6,228.35 118.6,228.36 119.6,228.37 120.6,228.38 121.6,228.38 122.6,228.39 123.6,228.4 124.6,228.41 125.6,228.42 126.6,228.43 127.6,228.44 128.6,228.45 129.6,228.46 130.6,228.47 131.6,228.48 132.6,228.49 133.6,228.5 134.5,228.51" fill="none" stroke="#ff7440" stroke-width="0.6" stroke-linejoin="round" stroke-linecap="round" />
<polyline points="36.6,225.7 37.6,225.7 38.6,225.7 39.6,225.7 40.6,225.7 41.6,225.7 42.6,225.7 43.6,225.7 44.6,225.7 45.6,225.7 46.6,225.7 47.6,225.7 48.6,225.7 49.6,225.7 50.6,225.7 51.6,225.7 52.6,225.7 53.6,225.7 54.6,225.7 55.6,225.7 56.6,225.7 57,225.7 57.6,225.42 58.6,224.95 59.6,224.48 60.6,224.02 61.6,223.55 62,223.36 62.6,221.08 63.6,217.28 64.6,213.47 65.6,209.67 66,208.15 66.6,202.77 67.6,193.8 68.6,184.83 69,181.24 69.6,186.29 70.6,194.72 71.5,202.3 71.6,202.81 72.6,207.96 73.6,213.11 74,215.17 74.6,212.71 75.6,208.62 76,206.98 76.6,204 77.6,199.02 78.6,194.05 79.6,189.08 80,187.09 80.6,189.43 81.6,193.33 82.6,197.23 83,198.79 83.6,199.96 84.6,201.91 85.6,203.86 86,204.64 86.6,203.41 87.6,201.36 88.6,199.32 89.6,197.27 90,196.45 90.6,196.22 91.6,195.83 92.6,195.44 93,195.28 93.6,195.98 94.6,197.15 95.6,198.32 96.6,199.49 97,199.96 97.6,200.8 98.6,202.21 99.6,203.61 100.6,205.01 101.6,206.42 102,206.98 102.6,207.92 103.6,209.48 104.6,211.04 105.6,212.6 106.6,214.16 107.6,215.72 108,216.34 108.6,217.32 109.6,218.96 110.6,220.6 111.6,222.24 112.6,223.87 113,224.53 113.6,224.51 114.6,224.49 115.6,224.46 116.6,224.43 117.6,224.4 118.6,224.38 119.6,224.35 120.6,224.32 121.6,224.3 122.6,224.27 123.6,224.24 124.6,224.21 125.6,224.19 126.6,224.16 127.6,224.13 128.6,224.11 129.6,224.08 130.6,224.05 131.6,224.02 132.6,224 133.6,223.97 134.5,223.94" fill="none" stroke="#4d8dff" stroke-width="0.6" stroke-linejoin="round" stroke-linecap="round" />
<polyline points="36.6,225.7 37.6,225.7 38.6,225.7 39.6,225.7 40.6,225.7 41.6,225.7 42.6,225.7 43.6,225.7 44.6,225.7 45.6,225.7 46.6,225.7 47.6,225.7 48.6,225.7 49.6,225.7 50.6,225.7 51.6,225.7 52.6,225.7 53.6,225.7 54.6,225.7 55,225.7 55.6,215.87 56.6,199.49 57,192.94 57.6,193.64 58.6,194.81 59.6,195.98 60,196.45 60.6,196.63 61.6,196.92 62.6,197.21 63.6,197.5 64,197.62 64.6,194.81 65.6,190.13 66.6,185.45 67.6,180.77 68,178.9 68.6,183.81 69.6,192 70,195.28 70.6,195.81 71.6,196.68 72.6,197.56 73.6,198.44 74,198.79 74.6,199.14 75.6,199.73 76.6,200.31 77.6,200.9 78,201.13 78.6,201.48 79.6,202.07 80.6,202.65 81.6,203.24 82,203.47 82.6,204 83.6,204.87 84.6,205.75 85.6,206.63 86,206.98 86.6,207.51 87.6,208.38 88.6,209.26 89.6,210.14 90,210.49 90.6,211.02 91.6,211.89 92.6,212.77 93.6,213.65 94,214 94.6,214.35 95.6,214.94 96.6,215.52 97.6,216.11 98,216.34 98.6,216.69 99.6,217.28 100.6,217.86 101.6,218.45 102,218.68 102.6,219.03 103.6,219.62 104.6,220.2 105.6,220.79 106,221.02 106.6,221.37 107.6,221.96 108.6,222.54 109.6,223.13 110,223.36 110.6,223.35 111.6,223.32 112.6,223.3 113.6,223.27 114.6,223.25 115.6,223.23 116.6,223.2 117.6,223.18 118.6,223.15 119.6,223.13 120.6,223.11 121.6,223.08 122.6,223.06 123.6,223.04 124.6,223.01 125.6,222.99 126.6,222.96 127.6,222.94 128.6,222.92 129.6,222.89 130.6,222.87 131.6,222.84 132.6,222.82 133.6,222.8 134.5,222.77" fill="none" stroke="#e8231a" stroke-width="0.6" stroke-linejoin="round" stroke-linecap="round" />
<g fill="#e8231a"><circle cx="36.6" cy="225.7" r="0.75"/><circle cx="38.8" cy="225.7" r="0.75"/><circle cx="41" cy="225.7" r="0.75"/><circle cx="43.2" cy="225.7" r="0.75"/><circle cx="45.4" cy="225.7" r="0.75"/><circle cx="47.6" cy="225.7" r="0.75"/><circle cx="49.8" cy="225.7" r="0.75"/><circle cx="52" cy="225.7" r="0.75"/><circle cx="54.2" cy="225.7" r="0.75"/><circle cx="56.4" cy="202.77" r="0.75"/><circle cx="58.6" cy="194.81" r="0.75"/><circle cx="60.8" cy="196.68" r="0.75"/><circle cx="63" cy="197.33" r="0.75"/><circle cx="65.2" cy="192" r="0.75"/><circle cx="67.4" cy="181.71" r="0.75"/><circle cx="69.6" cy="192" r="0.75"/><circle cx="71.8" cy="196.86" r="0.75"/><circle cx="74" cy="198.79" r="0.75"/><circle cx="76.2" cy="200.08" r="0.75"/><circle cx="78.4" cy="201.36" r="0.75"/><circle cx="80.6" cy="202.65" r="0.75"/><circle cx="82.8" cy="204.17" r="0.75"/><circle cx="85" cy="206.1" r="0.75"/><circle cx="87.2" cy="208.03" r="0.75"/><circle cx="89.4" cy="209.96" r="0.75"/><circle cx="91.6" cy="211.89" r="0.75"/><circle cx="93.8" cy="213.82" r="0.75"/><circle cx="96" cy="215.17" r="0.75"/><circle cx="98.2" cy="216.46" r="0.75"/><circle cx="100.4" cy="217.74" r="0.75"/><circle cx="102.6" cy="219.03" r="0.75"/><circle cx="104.8" cy="220.32" r="0.75"/><circle cx="107" cy="221.61" r="0.75"/><circle cx="109.2" cy="222.89" r="0.75"/><circle cx="111.4" cy="223.33" r="0.75"/><circle cx="113.6" cy="223.27" r="0.75"/><circle cx="115.8" cy="223.22" r="0.75"/><circle cx="118" cy="223.17" r="0.75"/><circle cx="120.2" cy="223.12" r="0.75"/><circle cx="122.4" cy="223.06" r="0.75"/><circle cx="124.6" cy="223.01" r="0.75"/><circle cx="126.8" cy="222.96" r="0.75"/><circle cx="129" cy="222.91" r="0.75"/><circle cx="131.2" cy="222.85" r="0.75"/><circle cx="133.4" cy="222.8" r="0.75"/></g>
<polyline points="36.6,225.7 37.6,225.7 38.6,225.7 39.6,225.7 40.6,225.7 41.6,225.7 42.6,225.7 43.6,225.7 44.6,225.7 45.6,225.7 46.6,225.7 47.6,225.7 48.6,225.7 49.6,225.7 50.6,225.7 51.6,225.7 52.6,225.7 53.6,225.7 54.6,225.7 55.6,225.7 56,225.7 56.6,222.19 57.6,216.34 58,214 58.6,205.58 59.6,191.54 60,185.92 60.6,190.13 61.6,197.15 62,199.96 62.6,202.07 63.6,205.58 64,206.98 64.6,205.34 65.6,202.61 66.6,199.88 67,198.79 67.6,199.02 68.6,199.41 69.6,199.8 70,199.96 70.6,200.49 71.6,201.36 72.6,202.24 73.6,203.12 74,203.47 74.6,203.12 75.6,202.53 76.6,201.95 77.6,201.36 78,201.13 78.6,200.95 79.6,200.66 80.6,200.37 81.6,200.08 82,199.96 82.6,200.31 83.6,200.9 84.6,201.48 85.6,202.07 86,202.3 86.6,203 87.6,204.17 88.6,205.34 89.6,206.51 90,206.98 90.6,207.51 91.6,208.38 92.6,209.26 93.6,210.14 94,210.49 94.6,211.02 95.6,211.89 96.6,212.77 97.6,213.65 98,214 98.6,214.53 99.6,215.4 100.6,216.28 101.6,217.16 102,217.51 102.6,218.04 103.6,218.91 104.6,219.79 105.6,220.67 106,221.02 106.6,221.37 107.6,221.96 108.6,222.54 109.6,223.13 110,223.36 110.6,223.35 111.6,223.32 112.6,223.3 113.6,223.27 114.6,223.25 115.6,223.23 116.6,223.2 117.6,223.18 118.6,223.15 119.6,223.13 120.6,223.11 121.6,223.08 122.6,223.06 123.6,223.04 124.6,223.01 125.6,222.99 126.6,222.96 127.6,222.94 128.6,222.92 129.6,222.89 130.6,222.87 131.6,222.84 132.6,222.82 133.6,222.8 134.5,222.77" fill="none" stroke="#23318f" stroke-width="0.6" stroke-linejoin="round" stroke-linecap="round" />
<g fill="#23318f"><circle cx="36.6" cy="225.7" r="0.75"/><circle cx="38.8" cy="225.7" r="0.75"/><circle cx="41" cy="225.7" r="0.75"/><circle cx="43.2" cy="225.7" r="0.75"/><circle cx="45.4" cy="225.7" r="0.75"/><circle cx="47.6" cy="225.7" r="0.75"/><circle cx="49.8" cy="225.7" r="0.75"/><circle cx="52" cy="225.7" r="0.75"/><circle cx="54.2" cy="225.7" r="0.75"/><circle cx="56.4" cy="223.36" r="0.75"/><circle cx="58.6" cy="205.58" r="0.75"/><circle cx="60.8" cy="191.54" r="0.75"/><circle cx="63" cy="203.47" r="0.75"/><circle cx="65.2" cy="203.7" r="0.75"/><circle cx="67.4" cy="198.95" r="0.75"/><circle cx="69.6" cy="199.8" r="0.75"/><circle cx="71.8" cy="201.54" r="0.75"/><circle cx="74" cy="203.47" r="0.75"/><circle cx="76.2" cy="202.18" r="0.75"/><circle cx="78.4" cy="201.01" r="0.75"/><circle cx="80.6" cy="200.37" r="0.75"/><circle cx="82.8" cy="200.43" r="0.75"/><circle cx="85" cy="201.72" r="0.75"/><circle cx="87.2" cy="203.7" r="0.75"/><circle cx="89.4" cy="206.28" r="0.75"/><circle cx="91.6" cy="208.38" r="0.75"/><circle cx="93.8" cy="210.31" r="0.75"/><circle cx="96" cy="212.25" r="0.75"/><circle cx="98.2" cy="214.18" r="0.75"/><circle cx="100.4" cy="216.11" r="0.75"/><circle cx="102.6" cy="218.04" r="0.75"/><circle cx="104.8" cy="219.97" r="0.75"/><circle cx="107" cy="221.61" r="0.75"/><circle cx="109.2" cy="222.89" r="0.75"/><circle cx="111.4" cy="223.33" r="0.75"/><circle cx="113.6" cy="223.27" r="0.75"/><circle cx="115.8" cy="223.22" r="0.75"/><circle cx="118" cy="223.17" r="0.75"/><circle cx="120.2" cy="223.12" r="0.75"/><circle cx="122.4" cy="223.06" r="0.75"/><circle cx="124.6" cy="223.01" r="0.75"/><circle cx="126.8" cy="222.96" r="0.75"/><circle cx="129" cy="222.91" r="0.75"/><circle cx="131.2" cy="222.85" r="0.75"/><circle cx="133.4" cy="222.8" r="0.75"/></g>
<polyline points="36.6,225.7 37.6,225.7 38.6,225.7 39.6,225.7 40.6,225.7 41.6,225.7 42.6,225.7 43.6,225.7 44.6,225.7 45.6,225.7 46.6,225.7 47.6,225.7 48.6,225.7 49.6,225.7 50.6,225.7 51.6,225.7 52.6,225.7 53.6,225.7 54.6,225.7 55.6,225.7 56.6,225.7 57.6,225.7 58,225.7 58.6,223.59 59.6,220.08 60,218.68 60.6,216.57 61.6,213.06 62,211.66 62.6,209.55 63.6,206.04 64,204.64 64.6,201.48 65.6,196.22 66,194.11 66.6,195.86 67.6,198.79 68,199.96 68.6,201.36 69.6,203.7 70.6,206.04 71,206.98 71.6,207.68 72.6,208.85 73.6,210.02 74,210.49 74.6,211.19 75.6,212.36 76.6,213.53 77,214 77.6,214.7 78.6,215.87 79.6,217.04 80,217.51 80.6,218.04 81.6,218.91 82.6,219.79 83.6,220.67 84,221.02 84.6,221.37 85.6,221.96 86.6,222.54 87.6,223.13 88,223.36 88.6,223.38 89.6,223.4 90.6,223.43 91.6,223.45 92.6,223.48 93.6,223.5 94.6,223.53 95.6,223.55 96.6,223.58 97.6,223.6 98.6,223.63 99.6,223.65 100.6,223.68 101.6,223.7 102.6,223.73 103.6,223.75 104.6,223.78 105.6,223.8 106.6,223.83 107.6,223.85 108.6,223.88 109.6,223.9 110.6,223.93 111.6,223.95 112.6,223.98 113.6,224 114.6,224.03 115.6,224.05 116.6,224.08 117.6,224.1 118.6,224.13 119.6,224.16 120.6,224.18 121.6,224.21 122.6,224.23 123.6,224.26 124.6,224.28 125.6,224.31 126.6,224.33 127.6,224.36 128.6,224.38 129.6,224.41 130.6,224.43 131.6,224.46 132.6,224.48 133.6,224.51 134.5,224.53" fill="none" stroke="#1c9494" stroke-width="0.6" stroke-linejoin="round" stroke-linecap="round" />
<g fill="#1c9494"><circle cx="36.6" cy="225.7" r="0.75"/><circle cx="38.8" cy="225.7" r="0.75"/><circle cx="41" cy="225.7" r="0.75"/><circle cx="43.2" cy="225.7" r="0.75"/><circle cx="45.4" cy="225.7" r="0.75"/><circle cx="47.6" cy="225.7" r="0.75"/><circle cx="49.8" cy="225.7" r="0.75"/><circle cx="52" cy="225.7" r="0.75"/><circle cx="54.2" cy="225.7" r="0.75"/><circle cx="56.4" cy="225.7" r="0.75"/><circle cx="58.6" cy="223.59" r="0.75"/><circle cx="60.8" cy="215.87" r="0.75"/><circle cx="63" cy="208.15" r="0.75"/><circle cx="65.2" cy="198.32" r="0.75"/><circle cx="67.4" cy="198.21" r="0.75"/><circle cx="69.6" cy="203.7" r="0.75"/><circle cx="71.8" cy="207.92" r="0.75"/><circle cx="74" cy="210.49" r="0.75"/><circle cx="76.2" cy="213.06" r="0.75"/><circle cx="78.4" cy="215.64" r="0.75"/><circle cx="80.6" cy="218.04" r="0.75"/><circle cx="82.8" cy="219.97" r="0.75"/><circle cx="85" cy="221.61" r="0.75"/><circle cx="87.2" cy="222.89" r="0.75"/><circle cx="89.4" cy="223.4" r="0.75"/><circle cx="91.6" cy="223.45" r="0.75"/><circle cx="93.8" cy="223.51" r="0.75"/><circle cx="96" cy="223.56" r="0.75"/><circle cx="98.2" cy="223.62" r="0.75"/><circle cx="100.4" cy="223.67" r="0.75"/><circle cx="102.6" cy="223.73" r="0.75"/><circle cx="104.8" cy="223.78" r="0.75"/><circle cx="107" cy="223.84" r="0.75"/><circle cx="109.2" cy="223.89" r="0.75"/><circle cx="111.4" cy="223.95" r="0.75"/><circle cx="113.6" cy="224" r="0.75"/><circle cx="115.8" cy="224.06" r="0.75"/><circle cx="118" cy="224.11" r="0.75"/><circle cx="120.2" cy="224.17" r="0.75"/><circle cx="122.4" cy="224.23" r="0.75"/><circle cx="124.6" cy="224.28" r="0.75"/><circle cx="126.8" cy="224.34" r="0.75"/><circle cx="129" cy="224.39" r="0.75"/><circle cx="131.2" cy="224.45" r="0.75"/><circle cx="133.4" cy="224.5" r="0.75"/></g>
<polyline points="36.6,225.7 37.6,225.7 38.6,225.7 39.6,225.7 40.6,225.7 41.6,225.7 42.6,225.7 43.6,225.7 44.6,225.7 45.6,225.7 46.6,225.7 47.6,225.7 48.6,225.7 49.6,225.7 50.6,225.7 51.6,225.7 52.6,225.7 53.6,225.7 54.6,225.7 55.6,225.7 56,225.7 56.6,215.17 57.6,197.62 58,190.6 58.6,193.06 59.6,197.15 60,198.79 60.6,198.09 61.6,196.92 62.6,195.75 63,195.28 63.6,195.05 64.6,194.66 65.6,194.27 66,194.11 66.6,194.46 67.6,195.05 68.6,195.63 69.6,196.22 70,196.45 70.6,196.73 71.6,197.2 72.6,197.67 73.6,198.13 74.6,198.6 75,198.79 75.6,199.07 76.6,199.54 77.6,200.01 78.6,200.47 79.6,200.94 80,201.13 80.6,201.55 81.6,202.25 82.6,202.96 83.6,203.66 84.6,204.36 85,204.64 85.6,205.06 86.6,205.76 87.6,206.47 88.6,207.17 89.6,207.87 90,208.15 90.6,208.57 91.6,209.27 92.6,209.98 93.6,210.68 94.6,211.38 95,211.66 95.6,210.02 96.6,207.29 97.6,204.56 98,203.47 98.6,204.7 99.6,206.75 100.6,208.79 101.6,210.84 102,211.66 102.6,212.71 103.6,214.47 104.6,216.22 105.6,217.98 106,218.68 106.6,219.03 107.6,219.62 108.6,220.2 109.6,220.79 110.6,221.37 111.6,221.96 112,222.19 112.6,222.19 113.6,222.19 114.6,222.19 115.6,222.19 116.6,222.19 117.6,222.19 118.6,222.19 119.6,222.19 120.6,222.19 121.6,222.19 122.6,222.19 123.6,222.19 124.6,222.19 125.6,222.19 126.6,222.19 127.6,222.19 128.6,222.19 129.6,222.19 130.6,222.19 131.6,222.19 132.6,222.19 133.6,222.19 134.5,222.19" fill="none" stroke="#ff5a3a" stroke-width="0.6" stroke-linejoin="round" stroke-linecap="round" />
<polyline points="36.6,225.7 37.6,225.7 38.6,225.7 39.6,225.7 40.6,225.7 41.6,225.7 42.6,225.7 43.6,225.7 44.6,225.7 45.6,225.7 46.6,225.7 47.6,225.7 48.6,225.7 49.6,225.7 50.6,225.7 51.6,225.7 52.6,225.7 53.6,225.7 54.6,225.7 55,225.7 55.6,217.98 56.6,205.11 57,199.96 57.6,198.79 58.6,196.84 59.6,194.89 60,194.11 60.6,194.99 61.6,196.45 62.6,197.91 63.6,199.38 64,199.96 64.6,200.31 65.6,200.9 66.6,201.48 67.6,202.07 68,202.3 68.6,203 69.6,204.17 70.6,205.34 71.6,206.51 72,206.98 72.6,207.68 73.6,208.85 74.6,210.02 75.6,211.19 76,211.66 76.6,212.36 77.6,213.53 78.6,214.7 79.6,215.87 80,216.34 80.6,216.9 81.6,217.84 82.6,218.77 83.6,219.71 84.6,220.65 85,221.02 85.6,221.44 86.6,222.14 87.6,222.85 88.6,223.55 89.6,224.25 90,224.53 90.6,224.81 91.6,225.28 92.6,225.75 93.6,226.21 94.6,226.68 95,226.87 95.6,226.88 96.6,226.89 97.6,226.91 98.6,226.92 99.6,226.94 100.6,226.95 101.6,226.97 102.6,226.98 103.6,227 104.6,227.01 105.6,227.03 106.6,227.04 107.6,227.06 108.6,227.07 109.6,227.09 110.6,227.1 111.6,227.12 112.6,227.13 113.6,227.15 114.6,227.16 115.6,227.18 116.6,227.19 117.6,227.2 118.6,227.22 119.6,227.23 120.6,227.25 121.6,227.26 122.6,227.28 123.6,227.29 124.6,227.31 125.6,227.32 126.6,227.34 127.6,227.35 128.6,227.37 129.6,227.38 130.6,227.4 131.6,227.41 132.6,227.43 133.6,227.44 134.5,227.45" fill="none" stroke="#ff9a5a" stroke-width="0.6" stroke-linejoin="round" stroke-linecap="round" />
<polyline points="36.6,225.7 37.6,225.7 38.6,225.7 39.6,225.7 40.6,225.7 41.6,225.7 42.6,225.7 43.6,225.7 44.6,225.7 45.6,225.7 46.6,225.7 47.6,225.7 48.6,225.7 49.6,225.7 50.6,225.7 51.6,225.7 52.6,225.7 53.6,225.7 54.6,225.7 55.6,225.7 56,225.7 56.6,220.08 57.6,210.72 58,206.98 58.6,205.75 59.6,203.7 60.6,201.66 61.6,199.61 62,198.79 62.6,198.97 63.6,199.26 64.6,199.55 65.6,199.84 66,199.96 66.6,200.49 67.6,201.36 68.6,202.24 69.6,203.12 70,203.47 70.6,203.47 71.6,203.47 72.6,203.47 73.6,203.47 74.6,203.47 75,203.47 75.6,203.89 76.6,204.59 77.6,205.3 78.6,206 79.6,206.7 80,206.98 80.6,207.4 81.6,208.1 82.6,208.81 83.6,209.51 84.6,210.21 85,210.49 85.6,210.63 86.6,210.86 87.6,211.1 88.6,211.33 89.6,211.57 90,211.66 90.6,211.94 91.6,212.41 92.6,212.88 93.6,213.34 94.6,213.81 95,214 95.6,214.28 96.6,214.75 97.6,215.22 98.6,215.68 99.6,216.15 100,216.34 100.6,216.6 101.6,217.04 102.6,217.48 103.6,217.92 104.6,218.36 105.6,218.8 106.6,219.24 107.6,219.67 108,219.85 108.6,220.15 109.6,220.65 110.6,221.15 111.6,221.66 112.6,222.16 113.6,222.66 114.6,223.16 115,223.36 115.6,223.32 116.6,223.26 117.6,223.2 118.6,223.14 119.6,223.08 120.6,223.02 121.6,222.96 122.6,222.9 123.6,222.84 124.6,222.78 125.6,222.72 126.6,222.66 127.6,222.6 128.6,222.54 129.6,222.48 130.6,222.42 131.6,222.36 132.6,222.3 133.6,222.24 134.5,222.19" fill="none" stroke="#f06060" stroke-width="0.6" stroke-linejoin="round" stroke-linecap="round" />
<polyline points="36.6,225.7 37.6,225.7 38.6,225.7 39.6,225.7 40.6,225.7 41.6,225.7 42.6,225.7 43.6,225.7 44.6,225.7 45.6,225.7 46.6,225.7 47.6,225.7 48.6,225.7 49.6,225.7 50.6,225.7 51.6,225.7 52.6,225.7 53.6,225.7 54.6,225.7 55,225.7 55.6,218.68 56.5,208.15 56.6,207.14 57.6,197 58,192.94 58.6,193.41 59.6,194.19 60.6,194.97 61,195.28 61.6,195.63 62.6,196.22 63.6,196.8 64.6,197.39 65,197.62 65.6,197.9 66.6,198.37 67.6,198.84 68.6,199.3 69.6,199.77 70,199.96 70.6,200.31 71.6,200.9 72.6,201.48 73.6,202.07 74.6,202.65 75.6,203.24 76,203.47 76.6,204.05 77.6,205.03 78.6,206 79.6,206.98 80.6,207.95 81.6,208.93 82,209.32 82.6,210.14 83.6,211.5 84.6,212.87 85.6,214.23 86.6,215.6 87.6,216.96 88,217.51 88.6,218.21 89.6,219.38 90.6,220.55 91.6,221.72 92.6,222.89 93.6,224.06 94,224.53 94.6,224.86 95.6,225.4 96.6,225.95 97.6,226.5 98.6,227.04 99.6,227.59 100,227.81 100.6,227.81 101.6,227.82 102.6,227.82 103.6,227.83 104.6,227.84 105.6,227.84 106.6,227.85 107.6,227.86 108.6,227.86 109.6,227.87 110.6,227.88 111.6,227.88 112.6,227.89 113.6,227.9 114.6,227.91 115.6,227.91 116.6,227.92 117.6,227.93 118.6,227.93 119.6,227.94 120.6,227.95 121.6,227.95 122.6,227.96 123.6,227.97 124.6,227.97 125.6,227.98 126.6,227.99 127.6,227.99 128.6,228 129.6,228.01 130.6,228.01 131.6,228.02 132.6,228.03 133.6,228.03 134.5,228.04" fill="none" stroke="#ff7440" stroke-width="0.6" stroke-linejoin="round" stroke-linecap="round" />
<line x1="36.6" y1="182.06" x2="136" y2="182.06" stroke="#3a3a3a" stroke-width="1.0" stroke-dasharray="1,1"/>
<text x="119.4" y="180.3" font-size="7" font-weight="bold" text-anchor="middle" stroke="#1c1c1c" stroke-width="0.28" textLength="51.2" lengthAdjust="spacingAndGlyphs" >Average Peak of</text>
<text x="119.2" y="188" font-size="7" font-weight="bold" text-anchor="middle" stroke="#1c1c1c" stroke-width="0.28" textLength="52.9" lengthAdjust="spacingAndGlyphs" >Responsive Cells</text>
<line x1="53.1" y1="232.8" x2="53.1" y2="240.2" stroke="#1c1c1c" stroke-width="1.4" />
<polygon points="50.8,234.8 55.4,234.8 53.1,229.8" fill="#1c1c1c" />
<text transform="translate(35.2,249.2) scale(1,1.04)" font-size="7.4" stroke="#1c1c1c" stroke-width="0.28" textLength="63.6" lengthAdjust="spacingAndGlyphs" >15 mM Denatonium</text>
<line x1="119.2" y1="237.7" x2="134" y2="237.7" stroke="#2a2a2a" stroke-width="1.3" />
<text transform="translate(118.2,246.6) scale(1,1.04)" font-size="7.4" stroke="#1c1c1c" stroke-width="0.28" textLength="16.8" lengthAdjust="spacingAndGlyphs" >1 min</text>
<text transform="translate(206.4,142.3) scale(1,1.04)" font-size="7.4" font-style="italic" stroke="#1c1c1c" stroke-width="0.28" >Beas-2B</text>
<text transform="translate(206.4,150.5) scale(1,1.04)" font-size="7.4" font-style="italic" stroke="#1c1c1c" stroke-width="0.28" textLength="138.2" lengthAdjust="spacingAndGlyphs" >1 Experiment, 30 Individually Plotted Cells</text>
<text transform="translate(206.4,159) scale(1,1.04)" font-size="7.4" font-style="italic" stroke="#1c1c1c" stroke-width="0.28" textLength="87.3" lengthAdjust="spacingAndGlyphs" >With 1×-MEM Amino Acids</text>
<text transform="translate(185.1,195.5) rotate(-90) scale(1,1.04)" text-anchor="middle" font-size="7.4" stroke="#1c1c1c" stroke-width="0.28" >Intracellular Ca<tspan dy="-2.6" font-size="5">2+</tspan></text>
<text transform="translate(193.1,196.5) rotate(-90) scale(1,1.04)" text-anchor="middle" font-size="7.4" stroke="#1c1c1c" stroke-width="0.28" >Fluo-8 Fluorescence (F/F<tspan dy="1.8" font-size="5">0</tspan><tspan dy="-1.8">)</tspan></text>
<line x1="205.4" y1="161.5" x2="205.4" y2="230" stroke="#1c1c1c" stroke-width="0.9" />
<line x1="202.4" y1="225.7" x2="205.4" y2="225.7" stroke="#1c1c1c" stroke-width="0.9" />
<text x="202" y="228" font-size="6.6" font-weight="bold" text-anchor="end" stroke="#1c1c1c" stroke-width="0.28" >1</text>
<line x1="202.4" y1="214" x2="205.4" y2="214" stroke="#1c1c1c" stroke-width="0.9" />
<text x="202" y="216.3" font-size="6.6" font-weight="bold" text-anchor="end" stroke="#1c1c1c" stroke-width="0.28" >2</text>
<line x1="202.4" y1="202.3" x2="205.4" y2="202.3" stroke="#1c1c1c" stroke-width="0.9" />
<text x="202" y="204.6" font-size="6.6" font-weight="bold" text-anchor="end" stroke="#1c1c1c" stroke-width="0.28" >3</text>
<line x1="202.4" y1="190.6" x2="205.4" y2="190.6" stroke="#1c1c1c" stroke-width="0.9" />
<text x="202" y="192.9" font-size="6.6" font-weight="bold" text-anchor="end" stroke="#1c1c1c" stroke-width="0.28" >4</text>
<line x1="202.4" y1="178.9" x2="205.4" y2="178.9" stroke="#1c1c1c" stroke-width="0.9" />
<text x="202" y="181.2" font-size="6.6" font-weight="bold" text-anchor="end" stroke="#1c1c1c" stroke-width="0.28" >5</text>
<line x1="202.4" y1="167.2" x2="205.4" y2="167.2" stroke="#1c1c1c" stroke-width="0.9" />
<text x="202" y="169.5" font-size="6.6" font-weight="bold" text-anchor="end" stroke="#1c1c1c" stroke-width="0.28" >6</text>
<polyline points="205.4,225.7 206.4,225.7 207.4,225.7 208.4,225.7 209.4,225.7 210.4,225.7 211.4,225.7 212.4,225.7 213.4,225.7 214.4,225.7 215.4,225.7 216.4,225.7 217.4,225.7 218.4,225.7 219.4,225.7 220.4,225.7 221.4,225.7 222.4,225.7 223.4,225.7 223.58,225.7 224.4,226.57 225.08,227.29 225.4,224.11 226.4,214.2 227.4,204.3 227.98,198.6 228.4,199.05 229.4,200.11 229.48,200.2 230.4,201.25 230.98,201.91 231.4,202.39 232.4,203.5 232.48,203.59 233.4,204.57 233.98,205.18 234.4,205.6 235.4,206.59 235.48,206.67 236.4,207.51 236.98,208.03 237.4,208.37 238.4,209.17 238.48,209.24 239.4,209.88 239.98,210.28 240.4,210.53 241.4,211.11 241.48,211.15 242.4,211.59 242.98,211.86 243.4,212.02 244.4,212.4 244.48,212.43 245.4,212.71 245.98,212.89 246.4,213.01 247.4,213.3 247.48,213.32 248.4,213.6 248.98,213.78 249.4,213.93 250.4,214.29 250.48,214.32 251.4,214.74 251.98,215 252.4,215.23 253.4,215.77 253.48,215.81 254.4,216.39 254.98,216.75 255.4,217.03 256.4,217.71 256.48,217.76 257.4,218.39 257.98,218.78 258.4,219.06 259.4,219.72 259.48,219.77 260.4,220.32 260.98,220.66 261.4,220.88 262.4,221.41 262.48,221.44 263.4,221.85 263.98,222.11 264.4,222.26 265.4,222.63 265.48,222.66 266.4,222.93 266.98,223.11 267.4,223.21 268.4,223.46 268.48,223.48 269.4,223.68 269.98,223.8 270.4,223.87 271.4,224.05 271.48,224.07 272.4,224.21 272.98,224.3 273.4,224.36 274.4,224.5 274.48,224.51 275.4,224.63 275.98,224.7 276.4,224.75 277.4,224.86 277.48,224.87 278.4,224.97 278.98,225.03 279.4,225.07 280.4,225.16 280.48,225.17 281.4,225.25 281.98,225.3 282.4,225.34 283.4,225.42 283.48,225.42 284.4,225.49 284.98,225.53 285.4,225.56 286.4,225.62 286.48,225.63 287.4,225.68 287.98,225.72 288.4,225.74 289.4,225.8 289.48,225.8 290.4,225.85 290.98,225.88 291.4,225.9 292.4,225.94 292.48,225.95 293.4,225.98 293.98,226.01 294.4,226.03 295.4,226.06 295.48,226.07 296.4,226.1 296.98,226.12 297.4,226.13 298.4,226.16 298.48,226.17 299.4,226.19 299.98,226.21 300.4,226.22 301.4,226.25 301.48,226.25 302.4,226.27 302.98,226.28 303,226.28" fill="none" stroke="#ff7440" stroke-width="0.6" stroke-linejoin="round" stroke-linecap="round" />
<g fill="#ff7440"><circle cx="205.4" cy="225.7" r="0.65"/><circle cx="207.3" cy="225.7" r="0.65"/><circle cx="209.2" cy="225.7" r="0.65"/><circle cx="211.1" cy="225.7" r="0.65"/><circle cx="213" cy="225.7" r="0.65"/><circle cx="214.9" cy="225.7" r="0.65"/><circle cx="216.8" cy="225.7" r="0.65"/><circle cx="218.7" cy="225.7" r="0.65"/><circle cx="220.6" cy="225.7" r="0.65"/><circle cx="222.5" cy="225.7" r="0.65"/><circle cx="224.4" cy="226.57" r="0.65"/><circle cx="226.3" cy="215.19" r="0.65"/><circle cx="228.2" cy="198.83" r="0.65"/><circle cx="230.1" cy="200.91" r="0.65"/><circle cx="232" cy="203.06" r="0.65"/><circle cx="233.9" cy="205.1" r="0.65"/><circle cx="235.8" cy="206.96" r="0.65"/><circle cx="237.7" cy="208.61" r="0.65"/><circle cx="239.6" cy="210.02" r="0.65"/><circle cx="241.5" cy="211.17" r="0.65"/><circle cx="243.4" cy="212.02" r="0.65"/><circle cx="245.3" cy="212.68" r="0.65"/><circle cx="247.2" cy="213.24" r="0.65"/><circle cx="249.1" cy="213.82" r="0.65"/><circle cx="251" cy="214.56" r="0.65"/><circle cx="252.9" cy="215.5" r="0.65"/><circle cx="254.8" cy="216.64" r="0.65"/><circle cx="256.7" cy="217.91" r="0.65"/><circle cx="258.6" cy="219.19" r="0.65"/><circle cx="260.5" cy="220.38" r="0.65"/><circle cx="262.4" cy="221.41" r="0.65"/><circle cx="264.3" cy="222.23" r="0.65"/><circle cx="266.2" cy="222.87" r="0.65"/><circle cx="268.1" cy="223.39" r="0.65"/><circle cx="270" cy="223.8" r="0.65"/><circle cx="271.9" cy="224.13" r="0.65"/><circle cx="273.8" cy="224.42" r="0.65"/><circle cx="275.7" cy="224.67" r="0.65"/><circle cx="277.6" cy="224.89" r="0.65"/><circle cx="279.5" cy="225.08" r="0.65"/><circle cx="281.4" cy="225.25" r="0.65"/><circle cx="283.3" cy="225.41" r="0.65"/><circle cx="285.2" cy="225.54" r="0.65"/><circle cx="287.1" cy="225.67" r="0.65"/><circle cx="289" cy="225.78" r="0.65"/><circle cx="290.9" cy="225.87" r="0.65"/><circle cx="292.8" cy="225.96" r="0.65"/><circle cx="294.7" cy="226.04" r="0.65"/><circle cx="296.6" cy="226.11" r="0.65"/><circle cx="298.5" cy="226.17" r="0.65"/><circle cx="300.4" cy="226.22" r="0.65"/><circle cx="302.3" cy="226.27" r="0.65"/></g>
<polyline points="205.4,225.7 206.4,225.7 207.4,225.7 208.4,225.7 209.4,225.7 210.4,225.7 211.4,225.7 212.4,225.7 213.4,225.7 214.4,225.7 215.4,225.7 216.4,225.7 217.4,225.7 218.4,225.7 219.4,225.7 220.4,225.7 221.4,225.7 222.4,225.7 223.4,225.7 223.57,225.7 224.4,226.83 225.07,227.74 225.4,227.36 226.4,226.19 227.07,225.4 227.4,224.58 228.4,222.09 229.4,219.59 230.4,217.1 231.4,214.61 232.4,212.12 233.4,209.63 233.63,209.05 234.4,209.48 235.13,209.88 235.4,210.05 236.4,210.66 236.63,210.8 237.4,211.25 238.13,211.67 238.4,211.81 239.4,212.34 239.63,212.46 240.4,212.81 241.13,213.14 241.4,213.24 242.4,213.62 242.63,213.7 243.4,213.93 244.13,214.15 244.4,214.21 245.4,214.44 245.63,214.49 246.4,214.63 247.13,214.76 247.4,214.81 248.4,214.97 248.63,215.01 249.4,215.16 250.13,215.3 250.4,215.37 251.4,215.62 251.63,215.68 252.4,215.94 253.13,216.18 253.4,216.3 254.4,216.73 254.63,216.83 255.4,217.22 256.13,217.59 256.4,217.74 257.4,218.3 257.63,218.43 258.4,218.88 259.13,219.3 259.4,219.45 260.4,220.02 260.63,220.15 261.4,220.55 262.13,220.92 262.4,221.05 263.4,221.5 263.63,221.61 264.4,221.91 265.13,222.19 265.4,222.28 266.4,222.61 266.63,222.68 267.4,222.89 268.13,223.08 268.4,223.14 269.4,223.37 269.63,223.42 270.4,223.56 271.13,223.7 271.4,223.75 272.4,223.91 272.63,223.95 273.4,224.06 274.13,224.17 274.4,224.2 275.4,224.33 275.63,224.36 276.4,224.45 277.13,224.54 277.4,224.57 278.4,224.68 278.63,224.7 279.4,224.78 280.13,224.85 280.4,224.88 281.4,224.97 281.63,224.99 282.4,225.05 283.13,225.12 283.4,225.14 284.4,225.22 284.63,225.23 285.4,225.29 286.13,225.34 286.4,225.36 287.4,225.43 287.63,225.44 288.4,225.49 289.13,225.54 289.4,225.55 290.4,225.61 290.63,225.62 291.4,225.66 292.13,225.7 292.4,225.71 293.4,225.76 293.63,225.77 294.4,225.81 295.13,225.84 295.4,225.85 296.4,225.89 296.63,225.9 297.4,225.93 298.13,225.96 298.4,225.97 299.4,226 299.63,226.01 300.4,226.04 301.13,226.06 301.4,226.07 302.4,226.1 302.63,226.11 303,226.12" fill="none" stroke="#5aa8ff" stroke-width="0.6" stroke-linejoin="round" stroke-linecap="round" />
<g fill="#5aa8ff"><circle cx="205.4" cy="225.7" r="0.65"/><circle cx="207.3" cy="225.7" r="0.65"/><circle cx="209.2" cy="225.7" r="0.65"/><circle cx="211.1" cy="225.7" r="0.65"/><circle cx="213" cy="225.7" r="0.65"/><circle cx="214.9" cy="225.7" r="0.65"/><circle cx="216.8" cy="225.7" r="0.65"/><circle cx="218.7" cy="225.7" r="0.65"/><circle cx="220.6" cy="225.7" r="0.65"/><circle cx="222.5" cy="225.7" r="0.65"/><circle cx="224.4" cy="226.83" r="0.65"/><circle cx="226.3" cy="226.3" r="0.65"/><circle cx="228.2" cy="222.58" r="0.65"/><circle cx="230.1" cy="217.85" r="0.65"/><circle cx="232" cy="213.11" r="0.65"/><circle cx="233.9" cy="209.2" r="0.65"/><circle cx="235.8" cy="210.29" r="0.65"/><circle cx="237.7" cy="211.42" r="0.65"/><circle cx="239.6" cy="212.44" r="0.65"/><circle cx="241.5" cy="213.28" r="0.65"/><circle cx="243.4" cy="213.93" r="0.65"/><circle cx="245.3" cy="214.42" r="0.65"/><circle cx="247.2" cy="214.77" r="0.65"/><circle cx="249.1" cy="215.1" r="0.65"/><circle cx="251" cy="215.52" r="0.65"/><circle cx="252.9" cy="216.11" r="0.65"/><circle cx="254.8" cy="216.91" r="0.65"/><circle cx="256.7" cy="217.91" r="0.65"/><circle cx="258.6" cy="218.99" r="0.65"/><circle cx="260.5" cy="220.07" r="0.65"/><circle cx="262.4" cy="221.05" r="0.65"/><circle cx="264.3" cy="221.87" r="0.65"/><circle cx="266.2" cy="222.54" r="0.65"/><circle cx="268.1" cy="223.07" r="0.65"/><circle cx="270" cy="223.49" r="0.65"/><circle cx="271.9" cy="223.83" r="0.65"/><circle cx="273.8" cy="224.12" r="0.65"/><circle cx="275.7" cy="224.37" r="0.65"/><circle cx="277.6" cy="224.59" r="0.65"/><circle cx="279.5" cy="224.79" r="0.65"/><circle cx="281.4" cy="224.97" r="0.65"/><circle cx="283.3" cy="225.13" r="0.65"/><circle cx="285.2" cy="225.28" r="0.65"/><circle cx="287.1" cy="225.41" r="0.65"/><circle cx="289" cy="225.53" r="0.65"/><circle cx="290.9" cy="225.64" r="0.65"/><circle cx="292.8" cy="225.73" r="0.65"/><circle cx="294.7" cy="225.82" r="0.65"/><circle cx="296.6" cy="225.9" r="0.65"/><circle cx="298.5" cy="225.97" r="0.65"/><circle cx="300.4" cy="226.04" r="0.65"/><circle cx="302.3" cy="226.1" r="0.65"/></g>
<polyline points="205.4,225.7 206.4,225.7 207.4,225.7 208.4,225.7 209.4,225.7 210.4,225.7 211.4,225.7 212.4,225.7 213.4,225.7 214.4,225.7 215.4,225.7 216.4,225.7 217.4,225.7 218.4,225.7 219.4,225.7 220.4,225.7 221.4,225.7 222.4,225.7 222.92,225.7 223.4,226.16 224.4,227.11 224.42,227.13 225.4,218.91 226.4,210.51 226.49,209.72 227.4,210.6 227.99,211.17 228.4,211.59 229.4,212.6 229.49,212.7 230.4,213.58 230.99,214.16 231.4,214.53 232.4,215.45 232.49,215.53 233.4,216.31 233.99,216.81 234.4,217.13 235.4,217.91 235.49,217.99 236.4,218.64 236.99,219.07 237.4,219.33 238.4,219.99 238.49,220.05 239.4,220.59 239.99,220.95 240.4,221.17 241.4,221.71 241.49,221.76 242.4,222.21 242.99,222.5 243.4,222.68 244.4,223.12 244.49,223.16 245.4,223.53 245.99,223.76 246.4,223.91 247.4,224.27 247.49,224.31 248.4,224.6 248.99,224.79 249.4,224.91 250.4,225.2 250.49,225.23 251.4,225.47 251.99,225.62 252.4,225.72 253.4,225.95 253.49,225.98 254.4,226.17 254.99,226.29 255.4,226.37 256.4,226.56 256.49,226.57 257.4,226.73 257.99,226.83 258.4,226.89 259.4,227.04 259.49,227.05 260.4,227.17 260.99,227.25 261.4,227.3 262.4,227.42 262.49,227.43 263.4,227.53 263.99,227.59 264.4,227.63 265.4,227.73 265.49,227.74 266.4,227.81 266.99,227.86 267.4,227.89 268.4,227.97 268.49,227.98 269.4,228.04 269.99,228.08 270.4,228.1 271.4,228.16 271.49,228.17 272.4,228.21 272.99,228.24 273.4,228.26 274.4,228.31 274.49,228.32 275.4,228.35 275.99,228.38 276.4,228.39 277.4,228.43 277.49,228.43 278.4,228.46 278.99,228.48 279.4,228.49 280.4,228.52 280.49,228.53 281.4,228.55 281.99,228.56 282.4,228.57 283.4,228.6 283.49,228.6 284.4,228.62 284.99,228.63 285.4,228.64 286.4,228.65 286.49,228.66 287.4,228.67 287.99,228.68 288.4,228.68 289.4,228.7 289.49,228.7 290.4,228.71 290.99,228.72 291.4,228.72 292.4,228.73 292.49,228.74 293.4,228.74 293.99,228.75 294.4,228.75 295.4,228.76 295.49,228.76 296.4,228.77 296.99,228.77 297.4,228.78 298.4,228.78 298.49,228.78 299.4,228.79 299.99,228.79 300.4,228.79 301.4,228.8 301.49,228.8 302.4,228.8 302.99,228.81 303,228.81" fill="none" stroke="#ff5a2a" stroke-width="0.6" stroke-linejoin="round" stroke-linecap="round" />
<g fill="#ff5a2a"><circle cx="205.4" cy="225.7" r="0.65"/><circle cx="207.3" cy="225.7" r="0.65"/><circle cx="209.2" cy="225.7" r="0.65"/><circle cx="211.1" cy="225.7" r="0.65"/><circle cx="213" cy="225.7" r="0.65"/><circle cx="214.9" cy="225.7" r="0.65"/><circle cx="216.8" cy="225.7" r="0.65"/><circle cx="218.7" cy="225.7" r="0.65"/><circle cx="220.6" cy="225.7" r="0.65"/><circle cx="222.5" cy="225.7" r="0.65"/><circle cx="224.4" cy="227.11" r="0.65"/><circle cx="226.3" cy="211.35" r="0.65"/><circle cx="228.2" cy="211.38" r="0.65"/><circle cx="230.1" cy="213.29" r="0.65"/><circle cx="232" cy="215.08" r="0.65"/><circle cx="233.9" cy="216.73" r="0.65"/><circle cx="235.8" cy="218.21" r="0.65"/><circle cx="237.7" cy="219.53" r="0.65"/><circle cx="239.6" cy="220.71" r="0.65"/><circle cx="241.5" cy="221.76" r="0.65"/><circle cx="243.4" cy="222.68" r="0.65"/><circle cx="245.3" cy="223.49" r="0.65"/><circle cx="247.2" cy="224.2" r="0.65"/><circle cx="249.1" cy="224.82" r="0.65"/><circle cx="251" cy="225.36" r="0.65"/><circle cx="252.9" cy="225.84" r="0.65"/><circle cx="254.8" cy="226.25" r="0.65"/><circle cx="256.7" cy="226.61" r="0.65"/><circle cx="258.6" cy="226.92" r="0.65"/><circle cx="260.5" cy="227.19" r="0.65"/><circle cx="262.4" cy="227.42" r="0.65"/><circle cx="264.3" cy="227.62" r="0.65"/><circle cx="266.2" cy="227.8" r="0.65"/><circle cx="268.1" cy="227.95" r="0.65"/><circle cx="270" cy="228.08" r="0.65"/><circle cx="271.9" cy="228.19" r="0.65"/><circle cx="273.8" cy="228.28" r="0.65"/><circle cx="275.7" cy="228.37" r="0.65"/><circle cx="277.6" cy="228.44" r="0.65"/><circle cx="279.5" cy="228.5" r="0.65"/><circle cx="281.4" cy="228.55" r="0.65"/><circle cx="283.3" cy="228.59" r="0.65"/><circle cx="285.2" cy="228.63" r="0.65"/><circle cx="287.1" cy="228.67" r="0.65"/><circle cx="289" cy="228.69" r="0.65"/><circle cx="290.9" cy="228.72" r="0.65"/><circle cx="292.8" cy="228.74" r="0.65"/><circle cx="294.7" cy="228.76" r="0.65"/><circle cx="296.6" cy="228.77" r="0.65"/><circle cx="298.5" cy="228.78" r="0.65"/><circle cx="300.4" cy="228.79" r="0.65"/><circle cx="302.3" cy="228.8" r="0.65"/></g>
<polyline points="205.4,225.7 206.4,225.7 207.4,225.7 208.4,225.7 209.4,225.7 210.4,225.7 211.4,225.7 212.4,225.7 213.4,225.7 214.4,225.7 215.4,225.7 216.4,225.7 217.4,225.7 218.4,225.7 219.4,225.7 220.4,225.7 221.4,225.7 222.4,225.7 223.25,225.7 223.4,226.08 224.4,228.64 224.75,229.53 225.4,222.46 226.4,211.58 226.51,210.43 227.4,210.94 228.01,211.29 228.4,211.53 229.4,212.14 229.51,212.21 230.4,212.76 231.01,213.13 231.4,213.36 232.4,213.95 232.51,214.02 233.4,214.52 234.01,214.87 234.4,215.08 235.4,215.63 235.51,215.69 236.4,216.15 237.01,216.46 237.4,216.65 238.4,217.14 238.51,217.19 239.4,217.61 240.01,217.89 240.4,218.06 241.4,218.49 241.51,218.54 242.4,218.9 243.01,219.15 243.4,219.3 244.4,219.69 244.51,219.73 245.4,220.05 246.01,220.27 246.4,220.4 247.4,220.74 247.51,220.77 248.4,221.05 249.01,221.24 249.4,221.36 250.4,221.65 250.51,221.69 251.4,221.93 252.01,222.1 252.4,222.2 253.4,222.45 253.51,222.48 254.4,222.69 255.01,222.84 255.4,222.93 256.4,223.15 256.51,223.17 257.4,223.36 258.01,223.48 258.4,223.56 259.4,223.75 259.51,223.77 260.4,223.93 261.01,224.04 261.4,224.11 262.4,224.27 262.51,224.29 263.4,224.43 264.01,224.52 264.4,224.58 265.4,224.72 265.51,224.74 266.4,224.85 267.01,224.93 267.4,224.98 268.4,225.11 268.51,225.12 269.4,225.22 270.01,225.29 270.4,225.33 271.4,225.44 271.51,225.45 272.4,225.54 273.01,225.6 273.4,225.63 274.4,225.72 274.51,225.73 275.4,225.81 276.01,225.86 276.4,225.89 277.4,225.97 277.51,225.98 278.4,226.04 279.01,226.08 279.4,226.11 280.4,226.18 280.51,226.18 281.4,226.24 282.01,226.27 282.4,226.3 283.4,226.35 283.51,226.36 284.4,226.41 285.01,226.44 285.4,226.46 286.4,226.51 286.51,226.51 287.4,226.55 288.01,226.58 288.4,226.59 289.4,226.64 289.51,226.64 290.4,226.67 291.01,226.7 291.4,226.71 292.4,226.75 292.51,226.75 293.4,226.78 294.01,226.8 294.4,226.81 295.4,226.84 295.51,226.84 296.4,226.87 297.01,226.88 297.4,226.89 298.4,226.92 298.51,226.92 299.4,226.94 300.01,226.96 300.4,226.97 301.4,226.99 301.51,226.99 302.4,227.01 303,227.02" fill="none" stroke="#1c9494" stroke-width="0.6" stroke-linejoin="round" stroke-linecap="round" />
<g fill="#1c9494"><circle cx="205.4" cy="225.7" r="0.65"/><circle cx="207.3" cy="225.7" r="0.65"/><circle cx="209.2" cy="225.7" r="0.65"/><circle cx="211.1" cy="225.7" r="0.65"/><circle cx="213" cy="225.7" r="0.65"/><circle cx="214.9" cy="225.7" r="0.65"/><circle cx="216.8" cy="225.7" r="0.65"/><circle cx="218.7" cy="225.7" r="0.65"/><circle cx="220.6" cy="225.7" r="0.65"/><circle cx="222.5" cy="225.7" r="0.65"/><circle cx="224.4" cy="228.64" r="0.65"/><circle cx="226.3" cy="212.67" r="0.65"/><circle cx="228.2" cy="211.4" r="0.65"/><circle cx="230.1" cy="212.57" r="0.65"/><circle cx="232" cy="213.72" r="0.65"/><circle cx="233.9" cy="214.81" r="0.65"/><circle cx="235.8" cy="215.84" r="0.65"/><circle cx="237.7" cy="216.8" r="0.65"/><circle cx="239.6" cy="217.7" r="0.65"/><circle cx="241.5" cy="218.54" r="0.65"/><circle cx="243.4" cy="219.3" r="0.65"/><circle cx="245.3" cy="220.01" r="0.65"/><circle cx="247.2" cy="220.67" r="0.65"/><circle cx="249.1" cy="221.27" r="0.65"/><circle cx="251" cy="221.82" r="0.65"/><circle cx="252.9" cy="222.33" r="0.65"/><circle cx="254.8" cy="222.79" r="0.65"/><circle cx="256.7" cy="223.21" r="0.65"/><circle cx="258.6" cy="223.6" r="0.65"/><circle cx="260.5" cy="223.95" r="0.65"/><circle cx="262.4" cy="224.27" r="0.65"/><circle cx="264.3" cy="224.56" r="0.65"/><circle cx="266.2" cy="224.83" r="0.65"/><circle cx="268.1" cy="225.07" r="0.65"/><circle cx="270" cy="225.29" r="0.65"/><circle cx="271.9" cy="225.49" r="0.65"/><circle cx="273.8" cy="225.67" r="0.65"/><circle cx="275.7" cy="225.83" r="0.65"/><circle cx="277.6" cy="225.98" r="0.65"/><circle cx="279.5" cy="226.12" r="0.65"/><circle cx="281.4" cy="226.24" r="0.65"/><circle cx="283.3" cy="226.35" r="0.65"/><circle cx="285.2" cy="226.45" r="0.65"/><circle cx="287.1" cy="226.54" r="0.65"/><circle cx="289" cy="226.62" r="0.65"/><circle cx="290.9" cy="226.69" r="0.65"/><circle cx="292.8" cy="226.76" r="0.65"/><circle cx="294.7" cy="226.82" r="0.65"/><circle cx="296.6" cy="226.87" r="0.65"/><circle cx="298.5" cy="226.92" r="0.65"/><circle cx="300.4" cy="226.97" r="0.65"/><circle cx="302.3" cy="227.01" r="0.65"/></g>
<polyline points="205.4,225.7 206.4,225.7 207.4,225.7 208.4,225.7 209.4,225.7 210.4,225.7 211.4,225.7 212.4,225.7 213.4,225.7 214.4,225.7 215.4,225.7 216.4,225.7 217.4,225.7 218.4,225.7 219.4,225.7 220.4,225.7 221.4,225.7 222.4,225.7 223.37,225.7 223.4,225.72 224.4,226.43 224.87,226.77 225.4,226.15 226.4,224.98 226.87,224.43 227.4,222.24 228.4,218.09 229.4,213.93 230.15,210.8 230.4,210.93 231.4,211.44 231.65,211.57 232.4,211.98 233.15,212.4 233.4,212.54 234.4,213.09 234.65,213.23 235.4,213.63 236.15,214.04 236.4,214.17 237.4,214.69 237.65,214.82 238.4,215.2 239.15,215.58 239.4,215.69 240.4,216.17 240.65,216.29 241.4,216.63 242.15,216.98 242.4,217.08 243.4,217.52 243.65,217.63 244.4,217.93 245.15,218.24 245.4,218.34 246.4,218.73 246.65,218.82 247.4,219.1 248.15,219.37 248.4,219.46 249.4,219.81 249.65,219.89 250.4,220.14 251.15,220.38 251.4,220.46 252.4,220.76 252.65,220.84 253.4,221.06 254.15,221.28 254.4,221.34 255.4,221.61 255.65,221.68 256.4,221.87 257.15,222.06 257.4,222.12 258.4,222.36 258.65,222.42 259.4,222.59 260.15,222.76 260.4,222.81 261.4,223.02 261.65,223.07 262.4,223.22 263.15,223.37 263.4,223.41 264.4,223.59 264.65,223.64 265.4,223.77 266.15,223.9 266.4,223.94 267.4,224.1 267.65,224.14 268.4,224.25 269.15,224.37 269.4,224.4 270.4,224.54 270.65,224.58 271.4,224.67 272.15,224.77 272.4,224.8 273.4,224.92 273.65,224.96 274.4,225.04 275.15,225.13 275.4,225.15 276.4,225.26 276.65,225.29 277.4,225.36 278.15,225.43 278.4,225.46 279.4,225.55 279.65,225.57 280.4,225.64 281.15,225.7 281.4,225.72 282.4,225.8 282.65,225.82 283.4,225.88 284.15,225.93 284.4,225.95 285.4,226.02 285.65,226.04 286.4,226.09 287.15,226.13 287.4,226.15 288.4,226.21 288.65,226.22 289.4,226.27 290.15,226.31 290.4,226.32 291.4,226.37 291.65,226.39 292.4,226.42 293.15,226.46 293.4,226.47 294.4,226.52 294.65,226.53 295.4,226.56 296.15,226.59 296.4,226.6 297.4,226.64 297.65,226.65 298.4,226.67 299.15,226.7 299.4,226.71 300.4,226.74 300.65,226.75 301.4,226.77 302.15,226.8 302.4,226.81 303,226.82" fill="none" stroke="#ff8a50" stroke-width="0.6" stroke-linejoin="round" stroke-linecap="round" />
<g fill="#ff8a50"><circle cx="205.4" cy="225.7" r="0.65"/><circle cx="207.3" cy="225.7" r="0.65"/><circle cx="209.2" cy="225.7" r="0.65"/><circle cx="211.1" cy="225.7" r="0.65"/><circle cx="213" cy="225.7" r="0.65"/><circle cx="214.9" cy="225.7" r="0.65"/><circle cx="216.8" cy="225.7" r="0.65"/><circle cx="218.7" cy="225.7" r="0.65"/><circle cx="220.6" cy="225.7" r="0.65"/><circle cx="222.5" cy="225.7" r="0.65"/><circle cx="224.4" cy="226.43" r="0.65"/><circle cx="226.3" cy="225.1" r="0.65"/><circle cx="228.2" cy="218.92" r="0.65"/><circle cx="230.1" cy="211.02" r="0.65"/><circle cx="232" cy="211.76" r="0.65"/><circle cx="233.9" cy="212.81" r="0.65"/><circle cx="235.8" cy="213.85" r="0.65"/><circle cx="237.7" cy="214.85" r="0.65"/><circle cx="239.6" cy="215.79" r="0.65"/><circle cx="241.5" cy="216.68" r="0.65"/><circle cx="243.4" cy="217.52" r="0.65"/><circle cx="245.3" cy="218.3" r="0.65"/><circle cx="247.2" cy="219.02" r="0.65"/><circle cx="249.1" cy="219.7" r="0.65"/><circle cx="251" cy="220.33" r="0.65"/><circle cx="252.9" cy="220.91" r="0.65"/><circle cx="254.8" cy="221.45" r="0.65"/><circle cx="256.7" cy="221.95" r="0.65"/><circle cx="258.6" cy="222.41" r="0.65"/><circle cx="260.5" cy="222.83" r="0.65"/><circle cx="262.4" cy="223.22" r="0.65"/><circle cx="264.3" cy="223.58" r="0.65"/><circle cx="266.2" cy="223.91" r="0.65"/><circle cx="268.1" cy="224.21" r="0.65"/><circle cx="270" cy="224.48" r="0.65"/><circle cx="271.9" cy="224.74" r="0.65"/><circle cx="273.8" cy="224.97" r="0.65"/><circle cx="275.7" cy="225.18" r="0.65"/><circle cx="277.6" cy="225.38" r="0.65"/><circle cx="279.5" cy="225.56" r="0.65"/><circle cx="281.4" cy="225.72" r="0.65"/><circle cx="283.3" cy="225.87" r="0.65"/><circle cx="285.2" cy="226.01" r="0.65"/><circle cx="287.1" cy="226.13" r="0.65"/><circle cx="289" cy="226.24" r="0.65"/><circle cx="290.9" cy="226.35" r="0.65"/><circle cx="292.8" cy="226.44" r="0.65"/><circle cx="294.7" cy="226.53" r="0.65"/><circle cx="296.6" cy="226.61" r="0.65"/><circle cx="298.5" cy="226.68" r="0.65"/><circle cx="300.4" cy="226.74" r="0.65"/><circle cx="302.3" cy="226.8" r="0.65"/></g>
<polyline points="205.4,225.7 206.4,225.7 207.4,225.7 208.4,225.7 209.4,225.7 210.4,225.7 211.4,225.7 212.4,225.7 213.4,225.7 214.4,225.7 215.4,225.7 216.4,225.7 217.4,225.7 218.4,225.7 219.4,225.7 220.4,225.7 221.4,225.7 222.4,225.7 222.9,225.7 223.4,226.78 224.4,228.94 224.4,228.94 225.4,227.77 226.4,226.6 226.4,226.6 227.4,222.47 228.4,218.34 229.4,214.21 230.4,210.08 231.28,206.44 231.4,206.5 232.4,207.04 232.78,207.25 233.4,207.61 234.28,208.13 234.4,208.2 235.4,208.78 235.78,209 236.4,209.34 237.28,209.82 237.4,209.87 238.4,210.37 238.78,210.55 239.4,210.82 240.28,211.19 240.4,211.23 241.4,211.57 241.78,211.7 242.4,211.85 243.28,212.07 243.4,212.09 244.4,212.24 244.78,212.3 245.4,212.35 246.28,212.42 246.4,212.43 247.4,212.47 247.78,212.48 248.4,212.51 249.28,212.55 249.4,212.57 250.4,212.67 250.78,212.71 251.4,212.84 252.28,213.02 252.4,213.06 253.4,213.41 253.78,213.54 254.4,213.84 255.28,214.27 255.4,214.34 256.4,214.95 256.78,215.18 257.4,215.6 258.28,216.21 258.4,216.3 259.4,217.02 259.78,217.29 260.4,217.72 261.28,218.34 261.4,218.42 262.4,219.07 262.78,219.31 263.4,219.66 264.28,220.16 264.4,220.22 265.4,220.7 265.78,220.88 266.4,221.13 267.28,221.48 267.4,221.52 268.4,221.85 268.78,221.98 269.4,222.15 270.28,222.4 270.4,222.42 271.4,222.66 271.78,222.75 272.4,222.88 273.28,223.06 273.4,223.08 274.4,223.27 274.78,223.34 275.4,223.44 276.28,223.59 276.4,223.61 277.4,223.76 277.78,223.82 278.4,223.91 279.28,224.04 279.4,224.06 280.4,224.2 280.78,224.25 281.4,224.33 282.28,224.44 282.4,224.46 283.4,224.58 283.78,224.62 284.4,224.69 285.28,224.79 285.4,224.81 286.4,224.91 286.78,224.96 287.4,225.02 288.28,225.11 288.4,225.12 289.4,225.21 289.78,225.25 290.4,225.3 291.28,225.38 291.4,225.39 292.4,225.48 292.78,225.51 293.4,225.56 294.28,225.63 294.4,225.64 295.4,225.71 295.78,225.74 296.4,225.78 297.28,225.84 297.4,225.85 298.4,225.92 298.78,225.94 299.4,225.98 300.28,226.03 300.4,226.04 301.4,226.1 301.78,226.12 302.4,226.15 303,226.18" fill="none" stroke="#ff7440" stroke-width="0.6" stroke-linejoin="round" stroke-linecap="round" />
<g fill="#ff7440"><circle cx="205.4" cy="225.7" r="0.65"/><circle cx="207.3" cy="225.7" r="0.65"/><circle cx="209.2" cy="225.7" r="0.65"/><circle cx="211.1" cy="225.7" r="0.65"/><circle cx="213" cy="225.7" r="0.65"/><circle cx="214.9" cy="225.7" r="0.65"/><circle cx="216.8" cy="225.7" r="0.65"/><circle cx="218.7" cy="225.7" r="0.65"/><circle cx="220.6" cy="225.7" r="0.65"/><circle cx="222.5" cy="225.7" r="0.65"/><circle cx="224.4" cy="228.94" r="0.65"/><circle cx="226.3" cy="226.72" r="0.65"/><circle cx="228.2" cy="219.17" r="0.65"/><circle cx="230.1" cy="211.32" r="0.65"/><circle cx="232" cy="206.83" r="0.65"/><circle cx="233.9" cy="207.91" r="0.65"/><circle cx="235.8" cy="209.01" r="0.65"/><circle cx="237.7" cy="210.02" r="0.65"/><circle cx="239.6" cy="210.9" r="0.65"/><circle cx="241.5" cy="211.6" r="0.65"/><circle cx="243.4" cy="212.09" r="0.65"/><circle cx="245.3" cy="212.34" r="0.65"/><circle cx="247.2" cy="212.46" r="0.65"/><circle cx="249.1" cy="212.55" r="0.65"/><circle cx="251" cy="212.76" r="0.65"/><circle cx="252.9" cy="213.24" r="0.65"/><circle cx="254.8" cy="214.03" r="0.65"/><circle cx="256.7" cy="215.13" r="0.65"/><circle cx="258.6" cy="216.44" r="0.65"/><circle cx="260.5" cy="217.79" r="0.65"/><circle cx="262.4" cy="219.07" r="0.65"/><circle cx="264.3" cy="220.17" r="0.65"/><circle cx="266.2" cy="221.05" r="0.65"/><circle cx="268.1" cy="221.76" r="0.65"/><circle cx="270" cy="222.32" r="0.65"/><circle cx="271.9" cy="222.77" r="0.65"/><circle cx="273.8" cy="223.15" r="0.65"/><circle cx="275.7" cy="223.49" r="0.65"/><circle cx="277.6" cy="223.8" r="0.65"/><circle cx="279.5" cy="224.07" r="0.65"/><circle cx="281.4" cy="224.33" r="0.65"/><circle cx="283.3" cy="224.57" r="0.65"/><circle cx="285.2" cy="224.79" r="0.65"/><circle cx="287.1" cy="224.99" r="0.65"/><circle cx="289" cy="225.18" r="0.65"/><circle cx="290.9" cy="225.35" r="0.65"/><circle cx="292.8" cy="225.51" r="0.65"/><circle cx="294.7" cy="225.66" r="0.65"/><circle cx="296.6" cy="225.79" r="0.65"/><circle cx="298.5" cy="225.92" r="0.65"/><circle cx="300.4" cy="226.04" r="0.65"/><circle cx="302.3" cy="226.15" r="0.65"/></g>
<polyline points="205.4,225.7 206.4,225.7 207.4,225.7 208.4,225.7 209.4,225.7 210.4,225.7 211.4,225.7 212.4,225.7 213.4,225.7 214.4,225.7 215.4,225.7 216.4,225.7 217.4,225.7 218.4,225.7 219.4,225.7 220.4,225.7 221.4,225.7 222.4,225.7 223.37,225.7 223.4,225.74 224.4,227.04 224.87,227.64 225.4,227.02 226.4,225.85 226.87,225.3 227.4,224.08 228.4,221.78 229.4,219.49 230.4,217.2 231.4,214.9 232.4,212.61 233.4,210.31 233.56,209.95 234.4,210.62 235.06,211.14 235.4,211.44 236.4,212.31 236.56,212.45 237.4,213.1 238.06,213.61 238.4,213.84 239.4,214.49 239.56,214.6 240.4,215.04 241.06,215.39 241.4,215.53 242.4,215.95 242.56,216.02 243.4,216.29 244.06,216.51 244.4,216.61 245.4,216.89 245.56,216.93 246.4,217.16 247.06,217.34 247.4,217.44 248.4,217.75 248.56,217.79 249.4,218.1 250.06,218.34 250.4,218.49 251.4,218.93 251.56,219 252.4,219.43 253.06,219.76 253.4,219.95 254.4,220.5 254.56,220.58 255.4,221.05 256.06,221.42 256.4,221.6 257.4,222.13 257.56,222.21 258.4,222.61 259.06,222.93 259.4,223.07 260.4,223.48 260.56,223.54 261.4,223.82 262.06,224.04 262.4,224.14 263.4,224.4 263.56,224.44 264.4,224.62 265.06,224.75 265.4,224.81 266.4,224.97 266.56,224.99 267.4,225.1 268.06,225.18 268.4,225.21 269.4,225.31 269.56,225.32 270.4,225.39 271.06,225.44 271.4,225.46 272.4,225.53 272.56,225.54 273.4,225.59 274.06,225.62 274.4,225.64 275.4,225.69 275.56,225.7 276.4,225.73 277.06,225.76 277.4,225.77 278.4,225.8 278.56,225.81 279.4,225.84 280.06,225.86 280.4,225.87 281.4,225.89 281.56,225.9 282.4,225.92 283.06,225.93 283.4,225.94 284.4,225.96 284.56,225.96 285.4,225.98 286.06,225.99 286.4,225.99 287.4,226.01 287.56,226.01 288.4,226.02 289.06,226.03 289.4,226.04 290.4,226.05 290.56,226.05 291.4,226.06 292.06,226.07 292.4,226.07 293.4,226.08 293.56,226.08 294.4,226.08 295.06,226.09 295.4,226.09 296.4,226.1 296.56,226.1 297.4,226.1 298.06,226.11 298.4,226.11 299.4,226.12 299.56,226.12 300.4,226.12 301.06,226.12 301.4,226.12 302.4,226.13 302.56,226.13 303,226.13" fill="none" stroke="#23318f" stroke-width="0.6" stroke-linejoin="round" stroke-linecap="round" />
<g fill="#23318f"><circle cx="205.4" cy="225.7" r="0.65"/><circle cx="207.3" cy="225.7" r="0.65"/><circle cx="209.2" cy="225.7" r="0.65"/><circle cx="211.1" cy="225.7" r="0.65"/><circle cx="213" cy="225.7" r="0.65"/><circle cx="214.9" cy="225.7" r="0.65"/><circle cx="216.8" cy="225.7" r="0.65"/><circle cx="218.7" cy="225.7" r="0.65"/><circle cx="220.6" cy="225.7" r="0.65"/><circle cx="222.5" cy="225.7" r="0.65"/><circle cx="224.4" cy="227.04" r="0.65"/><circle cx="226.3" cy="225.96" r="0.65"/><circle cx="228.2" cy="222.24" r="0.65"/><circle cx="230.1" cy="217.88" r="0.65"/><circle cx="232" cy="213.53" r="0.65"/><circle cx="233.9" cy="210.22" r="0.65"/><circle cx="235.8" cy="211.79" r="0.65"/><circle cx="237.7" cy="213.33" r="0.65"/><circle cx="239.6" cy="214.62" r="0.65"/><circle cx="241.5" cy="215.58" r="0.65"/><circle cx="243.4" cy="216.29" r="0.65"/><circle cx="245.3" cy="216.86" r="0.65"/><circle cx="247.2" cy="217.38" r="0.65"/><circle cx="249.1" cy="217.99" r="0.65"/><circle cx="251" cy="218.76" r="0.65"/><circle cx="252.9" cy="219.68" r="0.65"/><circle cx="254.8" cy="220.72" r="0.65"/><circle cx="256.7" cy="221.76" r="0.65"/><circle cx="258.6" cy="222.71" r="0.65"/><circle cx="260.5" cy="223.52" r="0.65"/><circle cx="262.4" cy="224.14" r="0.65"/><circle cx="264.3" cy="224.6" r="0.65"/><circle cx="266.2" cy="224.93" r="0.65"/><circle cx="268.1" cy="225.18" r="0.65"/><circle cx="270" cy="225.36" r="0.65"/><circle cx="271.9" cy="225.5" r="0.65"/><circle cx="273.8" cy="225.61" r="0.65"/><circle cx="275.7" cy="225.7" r="0.65"/><circle cx="277.6" cy="225.78" r="0.65"/><circle cx="279.5" cy="225.84" r="0.65"/><circle cx="281.4" cy="225.89" r="0.65"/><circle cx="283.3" cy="225.94" r="0.65"/><circle cx="285.2" cy="225.97" r="0.65"/><circle cx="287.1" cy="226.01" r="0.65"/><circle cx="289" cy="226.03" r="0.65"/><circle cx="290.9" cy="226.05" r="0.65"/><circle cx="292.8" cy="226.07" r="0.65"/><circle cx="294.7" cy="226.09" r="0.65"/><circle cx="296.6" cy="226.1" r="0.65"/><circle cx="298.5" cy="226.11" r="0.65"/><circle cx="300.4" cy="226.12" r="0.65"/><circle cx="302.3" cy="226.13" r="0.65"/></g>
<polyline points="205.4,225.7 206.4,225.7 207.4,225.7 208.4,225.7 209.4,225.7 210.4,225.7 211.4,225.7 212.4,225.7 213.4,225.7 214.4,225.7 215.4,225.7 216.4,225.7 217.4,225.7 218.4,225.7 219.4,225.7 220.4,225.7 221.4,225.7 222.4,225.7 223.4,225.7 223.57,225.7 224.4,226.27 225.07,226.73 225.4,226.34 226.4,225.17 227.07,224.39 227.4,222.83 228.4,218.09 229.4,213.35 230.4,208.62 230.6,207.69 231.4,208.21 232.1,208.66 232.4,208.88 233.4,209.61 233.6,209.75 234.4,210.31 235.1,210.79 235.4,210.99 236.4,211.64 236.6,211.77 237.4,212.25 238.1,212.66 238.4,212.83 239.4,213.37 239.6,213.48 240.4,213.88 241.1,214.23 241.4,214.37 242.4,214.83 242.6,214.93 243.4,215.29 244.1,215.6 244.4,215.74 245.4,216.2 245.6,216.29 246.4,216.67 247.1,216.99 247.4,217.14 248.4,217.64 248.6,217.74 249.4,218.15 250.1,218.51 250.4,218.67 251.4,219.2 251.6,219.3 252.4,219.72 253.1,220.09 253.4,220.24 254.4,220.74 254.6,220.84 255.4,221.22 256.1,221.55 256.4,221.68 257.4,222.1 257.6,222.19 258.4,222.49 259.1,222.76 259.4,222.86 260.4,223.2 260.6,223.27 261.4,223.51 262.1,223.71 262.4,223.8 263.4,224.06 263.6,224.11 264.4,224.3 265.1,224.46 265.4,224.53 266.4,224.74 266.6,224.78 267.4,224.94 268.1,225.07 268.4,225.13 269.4,225.31 269.6,225.34 270.4,225.47 271.1,225.59 271.4,225.63 272.4,225.78 272.6,225.81 273.4,225.92 274.1,226.02 274.4,226.06 275.4,226.19 275.6,226.21 276.4,226.31 277.1,226.39 277.4,226.43 278.4,226.54 278.6,226.56 279.4,226.64 280.1,226.71 280.4,226.74 281.4,226.83 281.6,226.85 282.4,226.92 283.1,226.98 283.4,227.01 284.4,227.09 284.6,227.1 285.4,227.16 286.1,227.21 286.4,227.24 287.4,227.3 287.6,227.32 288.4,227.37 289.1,227.41 289.4,227.43 290.4,227.49 290.6,227.5 291.4,227.54 292.1,227.58 292.4,227.6 293.4,227.65 293.6,227.66 294.4,227.69 295.1,227.72 295.4,227.74 296.4,227.78 296.6,227.79 297.4,227.82 298.1,227.85 298.4,227.86 299.4,227.89 299.6,227.9 300.4,227.93 301.1,227.95 301.4,227.96 302.4,227.99 302.6,228 303,228.01" fill="none" stroke="#5aa8ff" stroke-width="0.6" stroke-linejoin="round" stroke-linecap="round" />
<g fill="#5aa8ff"><circle cx="205.4" cy="225.7" r="0.65"/><circle cx="207.3" cy="225.7" r="0.65"/><circle cx="209.2" cy="225.7" r="0.65"/><circle cx="211.1" cy="225.7" r="0.65"/><circle cx="213" cy="225.7" r="0.65"/><circle cx="214.9" cy="225.7" r="0.65"/><circle cx="216.8" cy="225.7" r="0.65"/><circle cx="218.7" cy="225.7" r="0.65"/><circle cx="220.6" cy="225.7" r="0.65"/><circle cx="222.5" cy="225.7" r="0.65"/><circle cx="224.4" cy="226.27" r="0.65"/><circle cx="226.3" cy="225.29" r="0.65"/><circle cx="228.2" cy="219.04" r="0.65"/><circle cx="230.1" cy="210.04" r="0.65"/><circle cx="232" cy="208.6" r="0.65"/><circle cx="233.9" cy="209.96" r="0.65"/><circle cx="235.8" cy="211.25" r="0.65"/><circle cx="237.7" cy="212.43" r="0.65"/><circle cx="239.6" cy="213.48" r="0.65"/><circle cx="241.5" cy="214.41" r="0.65"/><circle cx="243.4" cy="215.29" r="0.65"/><circle cx="245.3" cy="216.15" r="0.65"/><circle cx="247.2" cy="217.05" r="0.65"/><circle cx="249.1" cy="218" r="0.65"/><circle cx="251" cy="218.99" r="0.65"/><circle cx="252.9" cy="219.98" r="0.65"/><circle cx="254.8" cy="220.94" r="0.65"/><circle cx="256.7" cy="221.8" r="0.65"/><circle cx="258.6" cy="222.57" r="0.65"/><circle cx="260.5" cy="223.24" r="0.65"/><circle cx="262.4" cy="223.8" r="0.65"/><circle cx="264.3" cy="224.28" r="0.65"/><circle cx="266.2" cy="224.7" r="0.65"/><circle cx="268.1" cy="225.08" r="0.65"/><circle cx="270" cy="225.41" r="0.65"/><circle cx="271.9" cy="225.71" r="0.65"/><circle cx="273.8" cy="225.98" r="0.65"/><circle cx="275.7" cy="226.23" r="0.65"/><circle cx="277.6" cy="226.45" r="0.65"/><circle cx="279.5" cy="226.65" r="0.65"/><circle cx="281.4" cy="226.83" r="0.65"/><circle cx="283.3" cy="227" r="0.65"/><circle cx="285.2" cy="227.15" r="0.65"/><circle cx="287.1" cy="227.28" r="0.65"/><circle cx="289" cy="227.41" r="0.65"/><circle cx="290.9" cy="227.52" r="0.65"/><circle cx="292.8" cy="227.62" r="0.65"/><circle cx="294.7" cy="227.71" r="0.65"/><circle cx="296.6" cy="227.79" r="0.65"/><circle cx="298.5" cy="227.86" r="0.65"/><circle cx="300.4" cy="227.93" r="0.65"/><circle cx="302.3" cy="227.99" r="0.65"/></g>
<polyline points="205.4,225.7 206.4,225.7 207.4,225.7 208.4,225.7 209.4,225.7 210.4,225.7 211.4,225.7 212.4,225.7 213.4,225.7 214.4,225.7 215.4,225.7 216.4,225.7 217.4,225.7 218.4,225.7 219.4,225.7 220.4,225.7 221.4,225.7 222.4,225.7 223.36,225.7 223.4,225.8 224.4,227.98 224.86,228.98 225.4,224.68 226.4,216.78 227.4,208.88 227.54,207.78 228.4,208.15 229.04,208.43 229.4,208.61 230.4,209.1 230.54,209.17 231.4,209.55 232.04,209.83 232.4,209.96 233.4,210.3 233.54,210.35 234.4,210.55 235.04,210.7 235.4,210.73 236.4,210.83 236.54,210.84 237.4,210.81 238.04,210.79 238.4,210.74 239.4,210.61 239.54,210.59 240.4,210.42 241.04,210.3 241.4,210.24 242.4,210.08 242.54,210.05 243.4,210 244.04,209.96 244.4,210 245.4,210.11 245.54,210.13 246.4,210.42 247.04,210.63 247.4,210.84 248.4,211.41 248.54,211.49 249.4,212.15 250.04,212.63 250.4,212.96 251.4,213.86 251.54,213.99 252.4,214.81 253.04,215.42 253.4,215.76 254.4,216.69 254.54,216.82 255.4,217.56 256.04,218.1 256.4,218.37 257.4,219.11 257.54,219.21 258.4,219.73 259.04,220.12 259.4,220.3 260.4,220.78 260.54,220.85 261.4,221.19 262.04,221.43 262.4,221.54 263.4,221.85 263.54,221.89 264.4,222.11 265.04,222.27 265.4,222.35 266.4,222.56 266.54,222.59 267.4,222.74 268.04,222.86 268.4,222.92 269.4,223.08 269.54,223.11 270.4,223.23 271.04,223.33 271.4,223.38 272.4,223.52 272.54,223.54 273.4,223.65 274.04,223.73 274.4,223.77 275.4,223.89 275.54,223.91 276.4,224 277.04,224.07 277.4,224.11 278.4,224.22 278.54,224.23 279.4,224.32 280.04,224.38 280.4,224.41 281.4,224.5 281.54,224.52 282.4,224.59 283.04,224.64 283.4,224.67 284.4,224.75 284.54,224.76 285.4,224.83 286.04,224.88 286.4,224.9 287.4,224.97 287.54,224.98 288.4,225.04 289.04,225.08 289.4,225.1 290.4,225.16 290.54,225.17 291.4,225.22 292.04,225.26 292.4,225.28 293.4,225.33 293.54,225.34 294.4,225.38 295.04,225.41 295.4,225.43 296.4,225.47 296.54,225.48 297.4,225.52 298.04,225.55 298.4,225.56 299.4,225.6 299.54,225.61 300.4,225.64 301.04,225.66 301.4,225.68 302.4,225.71 302.54,225.72 303,225.73" fill="none" stroke="#5aa8ff" stroke-width="0.6" stroke-linejoin="round" stroke-linecap="round" />
<g fill="#5aa8ff"><circle cx="205.4" cy="225.7" r="0.65"/><circle cx="207.3" cy="225.7" r="0.65"/><circle cx="209.2" cy="225.7" r="0.65"/><circle cx="211.1" cy="225.7" r="0.65"/><circle cx="213" cy="225.7" r="0.65"/><circle cx="214.9" cy="225.7" r="0.65"/><circle cx="216.8" cy="225.7" r="0.65"/><circle cx="218.7" cy="225.7" r="0.65"/><circle cx="220.6" cy="225.7" r="0.65"/><circle cx="222.5" cy="225.7" r="0.65"/><circle cx="224.4" cy="227.98" r="0.65"/><circle cx="226.3" cy="217.57" r="0.65"/><circle cx="228.2" cy="208.06" r="0.65"/><circle cx="230.1" cy="208.96" r="0.65"/><circle cx="232" cy="209.81" r="0.65"/><circle cx="233.9" cy="210.44" r="0.65"/><circle cx="235.8" cy="210.77" r="0.65"/><circle cx="237.7" cy="210.8" r="0.65"/><circle cx="239.6" cy="210.58" r="0.65"/><circle cx="241.5" cy="210.23" r="0.65"/><circle cx="243.4" cy="210" r="0.65"/><circle cx="245.3" cy="210.1" r="0.65"/><circle cx="247.2" cy="210.73" r="0.65"/><circle cx="249.1" cy="211.92" r="0.65"/><circle cx="251" cy="213.5" r="0.65"/><circle cx="252.9" cy="215.29" r="0.65"/><circle cx="254.8" cy="217.05" r="0.65"/><circle cx="256.7" cy="218.59" r="0.65"/><circle cx="258.6" cy="219.85" r="0.65"/><circle cx="260.5" cy="220.83" r="0.65"/><circle cx="262.4" cy="221.54" r="0.65"/><circle cx="264.3" cy="222.08" r="0.65"/><circle cx="266.2" cy="222.51" r="0.65"/><circle cx="268.1" cy="222.87" r="0.65"/><circle cx="270" cy="223.17" r="0.65"/><circle cx="271.9" cy="223.45" r="0.65"/><circle cx="273.8" cy="223.7" r="0.65"/><circle cx="275.7" cy="223.93" r="0.65"/><circle cx="277.6" cy="224.13" r="0.65"/><circle cx="279.5" cy="224.33" r="0.65"/><circle cx="281.4" cy="224.5" r="0.65"/><circle cx="283.3" cy="224.67" r="0.65"/><circle cx="285.2" cy="224.81" r="0.65"/><circle cx="287.1" cy="224.95" r="0.65"/><circle cx="289" cy="225.08" r="0.65"/><circle cx="290.9" cy="225.19" r="0.65"/><circle cx="292.8" cy="225.3" r="0.65"/><circle cx="294.7" cy="225.39" r="0.65"/><circle cx="296.6" cy="225.48" r="0.65"/><circle cx="298.5" cy="225.56" r="0.65"/><circle cx="300.4" cy="225.64" r="0.65"/><circle cx="302.3" cy="225.71" r="0.65"/></g>
<polyline points="205.4,225.7 206.4,225.7 207.4,225.7 208.4,225.7 209.4,225.7 210.4,225.7 211.4,225.7 212.4,225.7 213.4,225.7 214.4,225.7 215.4,225.7 216.4,225.7 217.4,225.7 218.4,225.7 219.4,225.7 220.4,225.7 221.4,225.7 222.4,225.7 223.39,225.7 223.4,225.71 224.4,227.49 224.89,228.36 225.4,222.98 226.4,212.35 226.66,209.55 227.4,210.03 228.16,210.54 228.4,210.7 229.4,211.42 229.66,211.6 230.4,212.12 231.16,212.66 231.4,212.82 232.4,213.5 232.66,213.68 233.4,214.16 234.16,214.65 234.4,214.8 235.4,215.42 235.66,215.58 236.4,216.01 237.16,216.46 237.4,216.59 238.4,217.14 238.66,217.28 239.4,217.66 240.16,218.06 240.4,218.17 241.4,218.66 241.66,218.79 242.4,219.12 243.16,219.47 243.4,219.57 244.4,219.99 244.66,220.1 245.4,220.39 246.16,220.7 246.4,220.78 247.4,221.15 247.66,221.25 248.4,221.5 249.16,221.77 249.4,221.84 250.4,222.16 250.66,222.24 251.4,222.46 252.16,222.69 252.4,222.75 253.4,223.03 253.66,223.1 254.4,223.29 255.16,223.48 255.4,223.54 256.4,223.78 256.66,223.84 257.4,224 258.16,224.17 258.4,224.21 259.4,224.42 259.66,224.47 260.4,224.61 261.16,224.75 261.4,224.79 262.4,224.97 262.66,225.01 263.4,225.13 264.16,225.25 264.4,225.29 265.4,225.43 265.66,225.47 266.4,225.57 267.16,225.68 267.4,225.71 268.4,225.83 268.66,225.87 269.4,225.95 270.16,226.04 270.4,226.07 271.4,226.17 271.66,226.2 272.4,226.27 273.16,226.35 273.4,226.37 274.4,226.46 274.66,226.49 275.4,226.55 276.16,226.61 276.4,226.63 277.4,226.71 277.66,226.73 278.4,226.78 279.16,226.83 279.4,226.85 280.4,226.91 280.66,226.93 281.4,226.97 282.16,227.02 282.4,227.03 283.4,227.09 283.66,227.1 284.4,227.14 285.16,227.18 285.4,227.19 286.4,227.24 286.66,227.25 287.4,227.28 288.16,227.31 288.4,227.32 289.4,227.36 289.66,227.37 290.4,227.4 291.16,227.42 291.4,227.43 292.4,227.47 292.66,227.47 293.4,227.5 294.16,227.52 294.4,227.53 295.4,227.55 295.66,227.56 296.4,227.58 297.16,227.6 297.4,227.61 298.4,227.63 298.66,227.63 299.4,227.65 300.16,227.67 300.4,227.67 301.4,227.69 301.66,227.7 302.4,227.71 303,227.72" fill="none" stroke="#5aa8ff" stroke-width="0.6" stroke-linejoin="round" stroke-linecap="round" />
<g fill="#5aa8ff"><circle cx="205.4" cy="225.7" r="0.65"/><circle cx="207.3" cy="225.7" r="0.65"/><circle cx="209.2" cy="225.7" r="0.65"/><circle cx="211.1" cy="225.7" r="0.65"/><circle cx="213" cy="225.7" r="0.65"/><circle cx="214.9" cy="225.7" r="0.65"/><circle cx="216.8" cy="225.7" r="0.65"/><circle cx="218.7" cy="225.7" r="0.65"/><circle cx="220.6" cy="225.7" r="0.65"/><circle cx="222.5" cy="225.7" r="0.65"/><circle cx="224.4" cy="227.49" r="0.65"/><circle cx="226.3" cy="213.41" r="0.65"/><circle cx="228.2" cy="210.56" r="0.65"/><circle cx="230.1" cy="211.91" r="0.65"/><circle cx="232" cy="213.23" r="0.65"/><circle cx="233.9" cy="214.48" r="0.65"/><circle cx="235.8" cy="215.66" r="0.65"/><circle cx="237.7" cy="216.75" r="0.65"/><circle cx="239.6" cy="217.77" r="0.65"/><circle cx="241.5" cy="218.71" r="0.65"/><circle cx="243.4" cy="219.57" r="0.65"/><circle cx="245.3" cy="220.36" r="0.65"/><circle cx="247.2" cy="221.08" r="0.65"/><circle cx="249.1" cy="221.74" r="0.65"/><circle cx="251" cy="222.34" r="0.65"/><circle cx="252.9" cy="222.89" r="0.65"/><circle cx="254.8" cy="223.39" r="0.65"/><circle cx="256.7" cy="223.85" r="0.65"/><circle cx="258.6" cy="224.26" r="0.65"/><circle cx="260.5" cy="224.63" r="0.65"/><circle cx="262.4" cy="224.97" r="0.65"/><circle cx="264.3" cy="225.27" r="0.65"/><circle cx="266.2" cy="225.55" r="0.65"/><circle cx="268.1" cy="225.8" r="0.65"/><circle cx="270" cy="226.02" r="0.65"/><circle cx="271.9" cy="226.23" r="0.65"/><circle cx="273.8" cy="226.41" r="0.65"/><circle cx="275.7" cy="226.57" r="0.65"/><circle cx="277.6" cy="226.72" r="0.65"/><circle cx="279.5" cy="226.85" r="0.65"/><circle cx="281.4" cy="226.97" r="0.65"/><circle cx="283.3" cy="227.08" r="0.65"/><circle cx="285.2" cy="227.18" r="0.65"/><circle cx="287.1" cy="227.27" r="0.65"/><circle cx="289" cy="227.35" r="0.65"/><circle cx="290.9" cy="227.42" r="0.65"/><circle cx="292.8" cy="227.48" r="0.65"/><circle cx="294.7" cy="227.53" r="0.65"/><circle cx="296.6" cy="227.59" r="0.65"/><circle cx="298.5" cy="227.63" r="0.65"/><circle cx="300.4" cy="227.67" r="0.65"/><circle cx="302.3" cy="227.71" r="0.65"/></g>
<polyline points="205.4,225.7 206.4,225.7 207.4,225.7 208.4,225.7 209.4,225.7 210.4,225.7 211.4,225.7 212.4,225.7 213.4,225.7 214.4,225.7 215.4,225.7 216.4,225.7 217.4,225.7 218.4,225.7 219.4,225.7 220.4,225.7 221.4,225.7 222.4,225.7 223.4,225.7 223.63,225.7 224.4,227.5 225.13,229.2 225.4,225.2 226.4,210.62 227.17,199.34 227.4,199.67 228.4,201.14 228.67,201.54 229.4,202.65 230.17,203.83 230.4,204.15 231.4,205.6 231.67,206 232.4,206.98 233.17,208.02 233.4,208.3 234.4,209.53 234.67,209.87 235.4,210.69 236.17,211.56 236.4,211.79 237.4,212.8 237.67,213.08 238.4,213.75 239.17,214.46 239.4,214.64 240.4,215.47 240.67,215.69 241.4,216.23 242.17,216.8 242.4,216.95 243.4,217.61 243.67,217.79 244.4,218.22 245.17,218.68 245.4,218.79 246.4,219.32 246.67,219.46 247.4,219.8 248.17,220.16 248.4,220.25 249.4,220.67 249.67,220.78 250.4,221.05 251.17,221.33 251.4,221.4 252.4,221.73 252.67,221.82 253.4,222.03 254.17,222.25 254.4,222.3 255.4,222.56 255.67,222.63 256.4,222.79 257.17,222.96 257.4,223.01 258.4,223.2 258.67,223.26 259.4,223.38 260.17,223.52 260.4,223.55 261.4,223.71 261.67,223.75 262.4,223.84 263.17,223.95 263.4,223.98 264.4,224.09 264.67,224.13 265.4,224.2 266.17,224.28 266.4,224.3 267.4,224.39 267.67,224.42 268.4,224.48 269.17,224.54 269.4,224.55 270.4,224.62 270.67,224.64 271.4,224.69 272.17,224.73 272.4,224.75 273.4,224.8 273.67,224.81 274.4,224.85 275.17,224.88 275.4,224.89 276.4,224.93 276.67,224.95 277.4,224.97 278.17,225 278.4,225.01 279.4,225.04 279.67,225.05 280.4,225.07 281.17,225.09 281.4,225.09 282.4,225.12 282.67,225.12 283.4,225.14 284.17,225.15 284.4,225.16 285.4,225.18 285.67,225.18 286.4,225.19 287.17,225.21 287.4,225.21 288.4,225.22 288.67,225.23 289.4,225.23 290.17,225.24 290.4,225.25 291.4,225.26 291.67,225.26 292.4,225.27 293.17,225.27 293.4,225.27 294.4,225.28 294.67,225.28 295.4,225.29 296.17,225.3 296.4,225.3 297.4,225.3 297.67,225.3 298.4,225.31 299.17,225.31 299.4,225.31 300.4,225.32 300.67,225.32 301.4,225.32 302.17,225.32 302.4,225.33 303,225.33" fill="none" stroke="#2a5ad8" stroke-width="0.6" stroke-linejoin="round" stroke-linecap="round" />
<g fill="#2a5ad8"><circle cx="205.4" cy="225.7" r="0.65"/><circle cx="207.3" cy="225.7" r="0.65"/><circle cx="209.2" cy="225.7" r="0.65"/><circle cx="211.1" cy="225.7" r="0.65"/><circle cx="213" cy="225.7" r="0.65"/><circle cx="214.9" cy="225.7" r="0.65"/><circle cx="216.8" cy="225.7" r="0.65"/><circle cx="218.7" cy="225.7" r="0.65"/><circle cx="220.6" cy="225.7" r="0.65"/><circle cx="222.5" cy="225.7" r="0.65"/><circle cx="224.4" cy="227.5" r="0.65"/><circle cx="226.3" cy="212.08" r="0.65"/><circle cx="228.2" cy="200.84" r="0.65"/><circle cx="230.1" cy="203.71" r="0.65"/><circle cx="232" cy="206.44" r="0.65"/><circle cx="233.9" cy="208.92" r="0.65"/><circle cx="235.8" cy="211.14" r="0.65"/><circle cx="237.7" cy="213.11" r="0.65"/><circle cx="239.6" cy="214.81" r="0.65"/><circle cx="241.5" cy="216.3" r="0.65"/><circle cx="243.4" cy="217.61" r="0.65"/><circle cx="245.3" cy="218.74" r="0.65"/><circle cx="247.2" cy="219.71" r="0.65"/><circle cx="249.1" cy="220.54" r="0.65"/><circle cx="251" cy="221.27" r="0.65"/><circle cx="252.9" cy="221.88" r="0.65"/><circle cx="254.8" cy="222.41" r="0.65"/><circle cx="256.7" cy="222.86" r="0.65"/><circle cx="258.6" cy="223.24" r="0.65"/><circle cx="260.5" cy="223.57" r="0.65"/><circle cx="262.4" cy="223.84" r="0.65"/><circle cx="264.3" cy="224.08" r="0.65"/><circle cx="266.2" cy="224.28" r="0.65"/><circle cx="268.1" cy="224.45" r="0.65"/><circle cx="270" cy="224.59" r="0.65"/><circle cx="271.9" cy="224.72" r="0.65"/><circle cx="273.8" cy="224.82" r="0.65"/><circle cx="275.7" cy="224.91" r="0.65"/><circle cx="277.6" cy="224.98" r="0.65"/><circle cx="279.5" cy="225.04" r="0.65"/><circle cx="281.4" cy="225.09" r="0.65"/><circle cx="283.3" cy="225.14" r="0.65"/><circle cx="285.2" cy="225.17" r="0.65"/><circle cx="287.1" cy="225.2" r="0.65"/><circle cx="289" cy="225.23" r="0.65"/><circle cx="290.9" cy="225.25" r="0.65"/><circle cx="292.8" cy="225.27" r="0.65"/><circle cx="294.7" cy="225.28" r="0.65"/><circle cx="296.6" cy="225.3" r="0.65"/><circle cx="298.5" cy="225.31" r="0.65"/><circle cx="300.4" cy="225.32" r="0.65"/><circle cx="302.3" cy="225.32" r="0.65"/></g>
<polyline points="205.4,225.7 206.4,225.7 207.4,225.7 208.4,225.7 209.4,225.7 210.4,225.7 211.4,225.7 212.4,225.7 213.4,225.7 214.4,225.7 215.4,225.7 216.4,225.7 217.4,225.7 218.4,225.7 219.4,225.7 220.4,225.7 221.4,225.7 222.4,225.7 223.4,225.7 223.84,225.7 224.4,226.92 225.34,228.99 225.4,228.41 226.4,218.15 227.4,207.89 228.01,201.65 228.4,202.06 229.4,203.12 229.51,203.23 230.4,204.24 231.01,204.93 231.4,205.36 232.4,206.47 232.51,206.59 233.4,207.53 234.01,208.18 234.4,208.57 235.4,209.57 235.51,209.68 236.4,210.51 237.01,211.08 237.4,211.42 238.4,212.28 238.51,212.37 239.4,213.08 240.01,213.57 240.4,213.85 241.4,214.58 241.51,214.65 242.4,215.25 243.01,215.65 243.4,215.89 244.4,216.49 244.51,216.56 245.4,217.06 246.01,217.4 246.4,217.61 247.4,218.13 247.51,218.19 248.4,218.64 249.01,218.95 249.4,219.14 250.4,219.63 250.51,219.68 251.4,220.11 252.01,220.4 252.4,220.59 253.4,221.06 253.51,221.11 254.4,221.51 255.01,221.79 255.4,221.95 256.4,222.38 256.51,222.43 257.4,222.79 258.01,223.03 258.4,223.18 259.4,223.54 259.51,223.58 260.4,223.88 261.01,224.08 261.4,224.2 262.4,224.5 262.51,224.53 263.4,224.76 264.01,224.92 264.4,225.01 265.4,225.25 265.51,225.27 266.4,225.46 267.01,225.59 267.4,225.66 268.4,225.85 268.51,225.87 269.4,226.02 270.01,226.12 270.4,226.18 271.4,226.33 271.51,226.35 272.4,226.47 273.01,226.56 273.4,226.61 274.4,226.73 274.51,226.75 275.4,226.85 276.01,226.92 276.4,226.96 277.4,227.06 277.51,227.08 278.4,227.16 279.01,227.22 279.4,227.25 280.4,227.34 280.51,227.35 281.4,227.42 282.01,227.47 282.4,227.5 283.4,227.57 283.51,227.58 284.4,227.64 285.01,227.68 285.4,227.7 286.4,227.76 286.51,227.77 287.4,227.82 288.01,227.85 288.4,227.87 289.4,227.92 289.51,227.92 290.4,227.96 291.01,227.99 291.4,228.01 292.4,228.05 292.51,228.05 293.4,228.09 294.01,228.11 294.4,228.12 295.4,228.16 295.51,228.16 296.4,228.19 297.01,228.21 297.4,228.22 298.4,228.25 298.51,228.25 299.4,228.27 300.01,228.29 300.4,228.3 301.4,228.32 301.51,228.32 302.4,228.34 303,228.36" fill="none" stroke="#2a5ad8" stroke-width="0.6" stroke-linejoin="round" stroke-linecap="round" />
<g fill="#2a5ad8"><circle cx="205.4" cy="225.7" r="0.65"/><circle cx="207.3" cy="225.7" r="0.65"/><circle cx="209.2" cy="225.7" r="0.65"/><circle cx="211.1" cy="225.7" r="0.65"/><circle cx="213" cy="225.7" r="0.65"/><circle cx="214.9" cy="225.7" r="0.65"/><circle cx="216.8" cy="225.7" r="0.65"/><circle cx="218.7" cy="225.7" r="0.65"/><circle cx="220.6" cy="225.7" r="0.65"/><circle cx="222.5" cy="225.7" r="0.65"/><circle cx="224.4" cy="226.92" r="0.65"/><circle cx="226.3" cy="219.17" r="0.65"/><circle cx="228.2" cy="201.85" r="0.65"/><circle cx="230.1" cy="203.9" r="0.65"/><circle cx="232" cy="206.03" r="0.65"/><circle cx="233.9" cy="208.06" r="0.65"/><circle cx="235.8" cy="209.95" r="0.65"/><circle cx="237.7" cy="211.68" r="0.65"/><circle cx="239.6" cy="213.24" r="0.65"/><circle cx="241.5" cy="214.65" r="0.65"/><circle cx="243.4" cy="215.89" r="0.65"/><circle cx="245.3" cy="217" r="0.65"/><circle cx="247.2" cy="218.03" r="0.65"/><circle cx="249.1" cy="218.99" r="0.65"/><circle cx="251" cy="219.92" r="0.65"/><circle cx="252.9" cy="220.82" r="0.65"/><circle cx="254.8" cy="221.69" r="0.65"/><circle cx="256.7" cy="222.51" r="0.65"/><circle cx="258.6" cy="223.25" r="0.65"/><circle cx="260.5" cy="223.91" r="0.65"/><circle cx="262.4" cy="224.5" r="0.65"/><circle cx="264.3" cy="224.99" r="0.65"/><circle cx="266.2" cy="225.42" r="0.65"/><circle cx="268.1" cy="225.79" r="0.65"/><circle cx="270" cy="226.12" r="0.65"/><circle cx="271.9" cy="226.4" r="0.65"/><circle cx="273.8" cy="226.66" r="0.65"/><circle cx="275.7" cy="226.88" r="0.65"/><circle cx="277.6" cy="227.08" r="0.65"/><circle cx="279.5" cy="227.26" r="0.65"/><circle cx="281.4" cy="227.42" r="0.65"/><circle cx="283.3" cy="227.56" r="0.65"/><circle cx="285.2" cy="227.69" r="0.65"/><circle cx="287.1" cy="227.8" r="0.65"/><circle cx="289" cy="227.9" r="0.65"/><circle cx="290.9" cy="227.99" r="0.65"/><circle cx="292.8" cy="228.07" r="0.65"/><circle cx="294.7" cy="228.13" r="0.65"/><circle cx="296.6" cy="228.2" r="0.65"/><circle cx="298.5" cy="228.25" r="0.65"/><circle cx="300.4" cy="228.3" r="0.65"/><circle cx="302.3" cy="228.34" r="0.65"/></g>
<polyline points="205.4,225.7 206.4,225.7 207.4,225.7 208.4,225.7 209.4,225.7 210.4,225.7 211.4,225.7 212.4,225.7 213.4,225.7 214.4,225.7 215.4,225.7 216.4,225.7 217.4,225.7 218.4,225.7 219.4,225.7 220.4,225.7 221.4,225.7 222.4,225.7 223.4,225.7 223.96,225.7 224.4,226.7 225.4,228.95 225.46,229.07 226.4,220.71 227.4,211.83 228.4,202.96 228.75,199.89 229.4,200.77 230.25,201.91 230.4,202.13 231.4,203.56 231.75,204.06 232.4,204.96 233.25,206.12 233.4,206.32 234.4,207.63 234.75,208.08 235.4,208.87 236.25,209.9 236.4,210.07 237.4,211.2 237.75,211.59 238.4,212.27 239.25,213.15 239.4,213.3 240.4,214.26 240.75,214.59 241.4,215.16 242.25,215.9 242.4,216.02 243.4,216.82 243.75,217.1 244.4,217.58 245.25,218.2 245.4,218.3 246.4,218.96 246.75,219.19 247.4,219.59 248.25,220.1 248.4,220.18 249.4,220.73 249.75,220.92 250.4,221.24 251.25,221.66 251.4,221.73 252.4,222.18 252.75,222.33 253.4,222.6 254.25,222.94 254.4,223 255.4,223.36 255.75,223.49 256.4,223.7 257.25,223.98 257.4,224.03 258.4,224.33 258.75,224.43 259.4,224.6 260.25,224.83 260.4,224.87 261.4,225.11 261.75,225.19 262.4,225.33 263.25,225.52 263.4,225.55 264.4,225.74 264.75,225.81 265.4,225.92 266.25,226.07 266.4,226.09 267.4,226.25 267.75,226.31 268.4,226.4 269.25,226.52 269.4,226.54 270.4,226.66 270.75,226.71 271.4,226.78 272.25,226.87 272.4,226.89 273.4,226.99 273.75,227.03 274.4,227.09 275.25,227.16 275.4,227.17 276.4,227.26 276.75,227.28 277.4,227.33 278.25,227.39 278.4,227.4 279.4,227.47 279.75,227.49 280.4,227.53 281.25,227.57 281.4,227.58 282.4,227.63 282.75,227.65 283.4,227.68 284.25,227.72 284.4,227.73 285.4,227.77 285.75,227.78 286.4,227.81 287.25,227.84 287.4,227.84 288.4,227.88 288.75,227.89 289.4,227.91 290.25,227.93 290.4,227.93 291.4,227.96 291.75,227.97 292.4,227.98 293.25,228 293.4,228.01 294.4,228.03 294.75,228.03 295.4,228.05 296.25,228.06 296.4,228.06 297.4,228.08 297.75,228.09 298.4,228.1 299.25,228.11 299.4,228.11 300.4,228.12 300.75,228.13 301.4,228.13 302.25,228.14 302.4,228.15 303,228.15" fill="none" stroke="#ff5a2a" stroke-width="0.6" stroke-linejoin="round" stroke-linecap="round" />
<g fill="#ff5a2a"><circle cx="205.4" cy="225.7" r="0.65"/><circle cx="207.3" cy="225.7" r="0.65"/><circle cx="209.2" cy="225.7" r="0.65"/><circle cx="211.1" cy="225.7" r="0.65"/><circle cx="213" cy="225.7" r="0.65"/><circle cx="214.9" cy="225.7" r="0.65"/><circle cx="216.8" cy="225.7" r="0.65"/><circle cx="218.7" cy="225.7" r="0.65"/><circle cx="220.6" cy="225.7" r="0.65"/><circle cx="222.5" cy="225.7" r="0.65"/><circle cx="224.4" cy="226.7" r="0.65"/><circle cx="226.3" cy="221.59" r="0.65"/><circle cx="228.2" cy="204.74" r="0.65"/><circle cx="230.1" cy="201.72" r="0.65"/><circle cx="232" cy="204.41" r="0.65"/><circle cx="233.9" cy="206.97" r="0.65"/><circle cx="235.8" cy="209.36" r="0.65"/><circle cx="237.7" cy="211.54" r="0.65"/><circle cx="239.6" cy="213.49" r="0.65"/><circle cx="241.5" cy="215.25" r="0.65"/><circle cx="243.4" cy="216.82" r="0.65"/><circle cx="245.3" cy="218.23" r="0.65"/><circle cx="247.2" cy="219.47" r="0.65"/><circle cx="249.1" cy="220.56" r="0.65"/><circle cx="251" cy="221.54" r="0.65"/><circle cx="252.9" cy="222.39" r="0.65"/><circle cx="254.8" cy="223.14" r="0.65"/><circle cx="256.7" cy="223.8" r="0.65"/><circle cx="258.6" cy="224.39" r="0.65"/><circle cx="260.5" cy="224.89" r="0.65"/><circle cx="262.4" cy="225.33" r="0.65"/><circle cx="264.3" cy="225.72" r="0.65"/><circle cx="266.2" cy="226.06" r="0.65"/><circle cx="268.1" cy="226.36" r="0.65"/><circle cx="270" cy="226.61" r="0.65"/><circle cx="271.9" cy="226.84" r="0.65"/><circle cx="273.8" cy="227.03" r="0.65"/><circle cx="275.7" cy="227.2" r="0.65"/><circle cx="277.6" cy="227.34" r="0.65"/><circle cx="279.5" cy="227.47" r="0.65"/><circle cx="281.4" cy="227.58" r="0.65"/><circle cx="283.3" cy="227.68" r="0.65"/><circle cx="285.2" cy="227.76" r="0.65"/><circle cx="287.1" cy="227.83" r="0.65"/><circle cx="289" cy="227.89" r="0.65"/><circle cx="290.9" cy="227.95" r="0.65"/><circle cx="292.8" cy="227.99" r="0.65"/><circle cx="294.7" cy="228.03" r="0.65"/><circle cx="296.6" cy="228.07" r="0.65"/><circle cx="298.5" cy="228.1" r="0.65"/><circle cx="300.4" cy="228.12" r="0.65"/><circle cx="302.3" cy="228.14" r="0.65"/></g>
<polyline points="205.4,225.7 206.4,225.7 207.4,225.7 208.4,225.7 209.4,225.7 210.4,225.7 211.4,225.7 212.4,225.7 213.4,225.7 214.4,225.7 215.4,225.7 216.4,225.7 217.4,225.7 218.4,225.7 219.4,225.7 220.4,225.7 221.4,225.7 222.4,225.7 223.4,225.7 223.88,225.7 224.4,227.07 225.38,229.65 225.4,229.46 226.4,220.05 227.4,210.64 227.52,209.54 228.4,209.91 229.02,210.17 229.4,210.34 230.4,210.81 230.52,210.86 231.4,211.26 232.02,211.53 232.4,211.69 233.4,212.09 233.52,212.14 234.4,212.45 235.02,212.67 235.4,212.78 236.4,213.07 236.52,213.11 237.4,213.31 238.02,213.45 238.4,213.51 239.4,213.68 239.52,213.7 240.4,213.82 241.02,213.9 241.4,213.95 242.4,214.07 242.52,214.09 243.4,214.21 244.02,214.3 244.4,214.38 245.4,214.58 245.52,214.61 246.4,214.86 247.02,215.03 247.4,215.17 248.4,215.54 248.52,215.59 249.4,215.99 250.02,216.26 250.4,216.46 251.4,216.97 251.52,217.03 252.4,217.5 253.02,217.83 253.4,218.03 254.4,218.56 254.52,218.62 255.4,219.05 256.02,219.36 256.4,219.52 257.4,219.96 257.52,220.02 258.4,220.35 259.02,220.59 259.4,220.71 260.4,221.03 260.52,221.07 261.4,221.31 262.02,221.48 262.4,221.57 263.4,221.8 263.52,221.83 264.4,222.01 265.02,222.13 265.4,222.2 266.4,222.37 266.52,222.39 267.4,222.53 268.02,222.63 268.4,222.69 269.4,222.83 269.52,222.85 270.4,222.97 271.02,223.05 271.4,223.1 272.4,223.22 272.52,223.24 273.4,223.34 274.02,223.41 274.4,223.46 275.4,223.57 275.52,223.58 276.4,223.67 277.02,223.73 277.4,223.77 278.4,223.87 278.52,223.88 279.4,223.96 280.02,224.01 280.4,224.05 281.4,224.13 281.52,224.14 282.4,224.21 283.02,224.26 283.4,224.29 284.4,224.37 284.52,224.37 285.4,224.44 286.02,224.48 286.4,224.5 287.4,224.57 287.52,224.58 288.4,224.63 289.02,224.67 289.4,224.69 290.4,224.75 290.52,224.76 291.4,224.81 292.02,224.84 292.4,224.86 293.4,224.91 293.52,224.91 294.4,224.96 295.02,224.99 295.4,225 296.4,225.05 296.52,225.05 297.4,225.09 298.02,225.12 298.4,225.13 299.4,225.17 299.52,225.17 300.4,225.21 301.02,225.23 301.4,225.24 302.4,225.28 302.52,225.28 303,225.3" fill="none" stroke="#1c9494" stroke-width="0.6" stroke-linejoin="round" stroke-linecap="round" />
<g fill="#1c9494"><circle cx="205.4" cy="225.7" r="0.65"/><circle cx="207.3" cy="225.7" r="0.65"/><circle cx="209.2" cy="225.7" r="0.65"/><circle cx="211.1" cy="225.7" r="0.65"/><circle cx="213" cy="225.7" r="0.65"/><circle cx="214.9" cy="225.7" r="0.65"/><circle cx="216.8" cy="225.7" r="0.65"/><circle cx="218.7" cy="225.7" r="0.65"/><circle cx="220.6" cy="225.7" r="0.65"/><circle cx="222.5" cy="225.7" r="0.65"/><circle cx="224.4" cy="227.07" r="0.65"/><circle cx="226.3" cy="220.99" r="0.65"/><circle cx="228.2" cy="209.82" r="0.65"/><circle cx="230.1" cy="210.67" r="0.65"/><circle cx="232" cy="211.52" r="0.65"/><circle cx="233.9" cy="212.28" r="0.65"/><circle cx="235.8" cy="212.9" r="0.65"/><circle cx="237.7" cy="213.38" r="0.65"/><circle cx="239.6" cy="213.71" r="0.65"/><circle cx="241.5" cy="213.96" r="0.65"/><circle cx="243.4" cy="214.21" r="0.65"/><circle cx="245.3" cy="214.56" r="0.65"/><circle cx="247.2" cy="215.1" r="0.65"/><circle cx="249.1" cy="215.85" r="0.65"/><circle cx="251" cy="216.76" r="0.65"/><circle cx="252.9" cy="217.76" r="0.65"/><circle cx="254.8" cy="218.76" r="0.65"/><circle cx="256.7" cy="219.66" r="0.65"/><circle cx="258.6" cy="220.43" r="0.65"/><circle cx="260.5" cy="221.07" r="0.65"/><circle cx="262.4" cy="221.57" r="0.65"/><circle cx="264.3" cy="221.99" r="0.65"/><circle cx="266.2" cy="222.34" r="0.65"/><circle cx="268.1" cy="222.64" r="0.65"/><circle cx="270" cy="222.91" r="0.65"/><circle cx="271.9" cy="223.16" r="0.65"/><circle cx="273.8" cy="223.39" r="0.65"/><circle cx="275.7" cy="223.6" r="0.65"/><circle cx="277.6" cy="223.79" r="0.65"/><circle cx="279.5" cy="223.97" r="0.65"/><circle cx="281.4" cy="224.13" r="0.65"/><circle cx="283.3" cy="224.28" r="0.65"/><circle cx="285.2" cy="224.42" r="0.65"/><circle cx="287.1" cy="224.55" r="0.65"/><circle cx="289" cy="224.67" r="0.65"/><circle cx="290.9" cy="224.78" r="0.65"/><circle cx="292.8" cy="224.88" r="0.65"/><circle cx="294.7" cy="224.97" r="0.65"/><circle cx="296.6" cy="225.06" r="0.65"/><circle cx="298.5" cy="225.13" r="0.65"/><circle cx="300.4" cy="225.21" r="0.65"/><circle cx="302.3" cy="225.27" r="0.65"/></g>
<polyline points="205.4,225.7 206.4,225.7 207.4,225.7 208.4,225.7 209.4,225.7 210.4,225.7 211.4,225.7 212.4,225.7 213.4,225.7 214.4,225.7 215.4,225.7 216.4,225.7 217.4,225.7 218.4,225.7 219.4,225.7 220.4,225.7 221.4,225.7 222.4,225.7 223.4,225.7 223.45,225.7 224.4,227.12 224.95,227.95 225.4,224.64 226.4,217.24 227.4,209.83 227.54,208.8 228.4,209.19 229.04,209.48 229.4,209.66 230.4,210.16 230.54,210.23 231.4,210.66 232.04,210.98 232.4,211.16 233.4,211.65 233.54,211.72 234.4,212.13 235.04,212.44 235.4,212.6 236.4,213.06 236.54,213.13 237.4,213.51 238.04,213.79 238.4,213.95 239.4,214.37 239.54,214.43 240.4,214.78 241.04,215.04 241.4,215.17 242.4,215.56 242.54,215.61 243.4,215.93 244.04,216.17 244.4,216.29 245.4,216.64 245.54,216.69 246.4,216.97 247.04,217.19 247.4,217.3 248.4,217.61 248.54,217.66 249.4,217.91 250.04,218.1 250.4,218.2 251.4,218.48 251.54,218.52 252.4,218.75 253.04,218.92 253.4,219.01 254.4,219.26 254.54,219.3 255.4,219.5 256.04,219.65 256.4,219.73 257.4,219.96 257.54,219.99 258.4,220.17 259.04,220.31 259.4,220.38 260.4,220.58 260.54,220.6 261.4,220.76 262.04,220.88 262.4,220.95 263.4,221.12 263.54,221.15 264.4,221.29 265.04,221.4 265.4,221.45 266.4,221.61 266.54,221.63 267.4,221.75 268.04,221.85 268.4,221.9 269.4,222.04 269.54,222.05 270.4,222.17 271.04,222.25 271.4,222.29 272.4,222.41 272.54,222.43 273.4,222.53 274.04,222.6 274.4,222.64 275.4,222.75 275.54,222.76 276.4,222.85 277.04,222.91 277.4,222.95 278.4,223.04 278.54,223.05 279.4,223.13 280.04,223.18 280.4,223.21 281.4,223.3 281.54,223.31 282.4,223.38 283.04,223.42 283.4,223.45 284.4,223.52 284.54,223.53 285.4,223.59 286.04,223.64 286.4,223.66 287.4,223.72 287.54,223.73 288.4,223.78 289.04,223.82 289.4,223.84 290.4,223.9 290.54,223.9 291.4,223.95 292.04,223.98 292.4,224 293.4,224.05 293.54,224.05 294.4,224.09 295.04,224.12 295.4,224.14 296.4,224.18 296.54,224.19 297.4,224.22 298.04,224.25 298.4,224.26 299.4,224.3 299.54,224.3 300.4,224.33 301.04,224.35 301.4,224.37 302.4,224.4 302.54,224.4 303,224.42" fill="none" stroke="#4d8dff" stroke-width="0.6" stroke-linejoin="round" stroke-linecap="round" />
<g fill="#4d8dff"><circle cx="205.4" cy="225.7" r="0.65"/><circle cx="207.3" cy="225.7" r="0.65"/><circle cx="209.2" cy="225.7" r="0.65"/><circle cx="211.1" cy="225.7" r="0.65"/><circle cx="213" cy="225.7" r="0.65"/><circle cx="214.9" cy="225.7" r="0.65"/><circle cx="216.8" cy="225.7" r="0.65"/><circle cx="218.7" cy="225.7" r="0.65"/><circle cx="220.6" cy="225.7" r="0.65"/><circle cx="222.5" cy="225.7" r="0.65"/><circle cx="224.4" cy="227.12" r="0.65"/><circle cx="226.3" cy="217.98" r="0.65"/><circle cx="228.2" cy="209.1" r="0.65"/><circle cx="230.1" cy="210.01" r="0.65"/><circle cx="232" cy="210.96" r="0.65"/><circle cx="233.9" cy="211.89" r="0.65"/><circle cx="235.8" cy="212.79" r="0.65"/><circle cx="237.7" cy="213.64" r="0.65"/><circle cx="239.6" cy="214.45" r="0.65"/><circle cx="241.5" cy="215.21" r="0.65"/><circle cx="243.4" cy="215.93" r="0.65"/><circle cx="245.3" cy="216.61" r="0.65"/><circle cx="247.2" cy="217.24" r="0.65"/><circle cx="249.1" cy="217.82" r="0.65"/><circle cx="251" cy="218.37" r="0.65"/><circle cx="252.9" cy="218.89" r="0.65"/><circle cx="254.8" cy="219.36" r="0.65"/><circle cx="256.7" cy="219.8" r="0.65"/><circle cx="258.6" cy="220.21" r="0.65"/><circle cx="260.5" cy="220.59" r="0.65"/><circle cx="262.4" cy="220.95" r="0.65"/><circle cx="264.3" cy="221.27" r="0.65"/><circle cx="266.2" cy="221.58" r="0.65"/><circle cx="268.1" cy="221.86" r="0.65"/><circle cx="270" cy="222.11" r="0.65"/><circle cx="271.9" cy="222.35" r="0.65"/><circle cx="273.8" cy="222.57" r="0.65"/><circle cx="275.7" cy="222.78" r="0.65"/><circle cx="277.6" cy="222.96" r="0.65"/><circle cx="279.5" cy="223.14" r="0.65"/><circle cx="281.4" cy="223.3" r="0.65"/><circle cx="283.3" cy="223.44" r="0.65"/><circle cx="285.2" cy="223.58" r="0.65"/><circle cx="287.1" cy="223.7" r="0.65"/><circle cx="289" cy="223.82" r="0.65"/><circle cx="290.9" cy="223.92" r="0.65"/><circle cx="292.8" cy="224.02" r="0.65"/><circle cx="294.7" cy="224.11" r="0.65"/><circle cx="296.6" cy="224.19" r="0.65"/><circle cx="298.5" cy="224.26" r="0.65"/><circle cx="300.4" cy="224.33" r="0.65"/><circle cx="302.3" cy="224.4" r="0.65"/></g>
<polyline points="205.4,225.7 206.4,225.7 207.4,225.7 208.4,225.7 209.4,225.7 210.4,225.7 211.4,225.7 212.4,225.7 213.4,225.7 214.4,225.7 215.4,225.7 216.4,225.7 217.4,225.7 218.4,225.7 219.4,225.7 220.4,225.7 221.4,225.7 222.4,225.7 223.4,225.7 223.78,225.7 224.4,227.29 225.28,229.58 225.4,228.45 226.4,218.66 227.4,208.86 227.86,204.38 228.4,205 229.36,206.09 229.4,206.14 230.4,207.35 230.86,207.9 231.4,208.53 232.36,209.65 232.4,209.7 233.4,210.8 233.86,211.31 234.4,211.87 235.36,212.86 235.4,212.9 236.4,213.86 236.86,214.3 237.4,214.79 238.36,215.64 238.4,215.67 239.4,216.49 239.86,216.86 240.4,217.27 241.36,217.99 241.4,218.02 242.4,218.71 242.86,219.02 243.4,219.36 244.36,219.96 244.4,219.99 245.4,220.56 245.86,220.82 246.4,221.11 247.36,221.61 247.4,221.63 248.4,222.1 248.86,222.32 249.4,222.55 250.36,222.96 250.4,222.98 251.4,223.37 251.86,223.55 252.4,223.74 253.36,224.08 253.4,224.09 254.4,224.41 254.86,224.56 255.4,224.71 256.36,224.99 256.4,225 257.4,225.26 257.86,225.38 258.4,225.51 259.36,225.74 259.4,225.75 260.4,225.96 260.86,226.06 261.4,226.16 262.36,226.34 262.4,226.35 263.4,226.52 263.86,226.6 264.4,226.69 265.36,226.84 265.4,226.84 266.4,226.98 266.86,227.04 267.4,227.11 268.36,227.23 268.4,227.24 269.4,227.35 269.86,227.4 270.4,227.46 271.36,227.55 271.4,227.56 272.4,227.65 272.86,227.69 273.4,227.73 274.36,227.81 274.4,227.82 275.4,227.89 275.86,227.92 276.4,227.96 277.36,228.02 277.4,228.02 278.4,228.08 278.86,228.11 279.4,228.14 280.36,228.19 280.4,228.19 281.4,228.24 281.86,228.26 282.4,228.28 283.36,228.32 283.4,228.32 284.4,228.36 284.86,228.38 285.4,228.4 286.36,228.43 286.4,228.43 287.4,228.46 287.86,228.47 288.4,228.49 289.36,228.51 289.4,228.51 290.4,228.54 290.86,228.55 291.4,228.56 292.36,228.58 292.4,228.58 293.4,228.6 293.86,228.61 294.4,228.62 295.36,228.64 295.4,228.64 296.4,228.65 296.86,228.66 297.4,228.67 298.36,228.68 298.4,228.68 299.4,228.69 299.86,228.7 300.4,228.7 301.36,228.71 301.4,228.71 302.4,228.72 302.86,228.73 303,228.73" fill="none" stroke="#1c9494" stroke-width="0.6" stroke-linejoin="round" stroke-linecap="round" />
<g fill="#1c9494"><circle cx="205.4" cy="225.7" r="0.65"/><circle cx="207.3" cy="225.7" r="0.65"/><circle cx="209.2" cy="225.7" r="0.65"/><circle cx="211.1" cy="225.7" r="0.65"/><circle cx="213" cy="225.7" r="0.65"/><circle cx="214.9" cy="225.7" r="0.65"/><circle cx="216.8" cy="225.7" r="0.65"/><circle cx="218.7" cy="225.7" r="0.65"/><circle cx="220.6" cy="225.7" r="0.65"/><circle cx="222.5" cy="225.7" r="0.65"/><circle cx="224.4" cy="227.29" r="0.65"/><circle cx="226.3" cy="219.64" r="0.65"/><circle cx="228.2" cy="204.77" r="0.65"/><circle cx="230.1" cy="206.99" r="0.65"/><circle cx="232" cy="209.23" r="0.65"/><circle cx="233.9" cy="211.35" r="0.65"/><circle cx="235.8" cy="213.29" r="0.65"/><circle cx="237.7" cy="215.05" r="0.65"/><circle cx="239.6" cy="216.65" r="0.65"/><circle cx="241.5" cy="218.09" r="0.65"/><circle cx="243.4" cy="219.36" r="0.65"/><circle cx="245.3" cy="220.5" r="0.65"/><circle cx="247.2" cy="221.52" r="0.65"/><circle cx="249.1" cy="222.42" r="0.65"/><circle cx="251" cy="223.21" r="0.65"/><circle cx="252.9" cy="223.92" r="0.65"/><circle cx="254.8" cy="224.54" r="0.65"/><circle cx="256.7" cy="225.08" r="0.65"/><circle cx="258.6" cy="225.56" r="0.65"/><circle cx="260.5" cy="225.98" r="0.65"/><circle cx="262.4" cy="226.35" r="0.65"/><circle cx="264.3" cy="226.67" r="0.65"/><circle cx="266.2" cy="226.95" r="0.65"/><circle cx="268.1" cy="227.2" r="0.65"/><circle cx="270" cy="227.42" r="0.65"/><circle cx="271.9" cy="227.6" r="0.65"/><circle cx="273.8" cy="227.77" r="0.65"/><circle cx="275.7" cy="227.91" r="0.65"/><circle cx="277.6" cy="228.04" r="0.65"/><circle cx="279.5" cy="228.14" r="0.65"/><circle cx="281.4" cy="228.24" r="0.65"/><circle cx="283.3" cy="228.32" r="0.65"/><circle cx="285.2" cy="228.39" r="0.65"/><circle cx="287.1" cy="228.45" r="0.65"/><circle cx="289" cy="228.5" r="0.65"/><circle cx="290.9" cy="228.55" r="0.65"/><circle cx="292.8" cy="228.59" r="0.65"/><circle cx="294.7" cy="228.62" r="0.65"/><circle cx="296.6" cy="228.65" r="0.65"/><circle cx="298.5" cy="228.68" r="0.65"/><circle cx="300.4" cy="228.7" r="0.65"/><circle cx="302.3" cy="228.72" r="0.65"/></g>
<polyline points="205.4,225.7 206.4,225.7 207.4,225.7 208.4,225.7 209.4,225.7 210.4,225.7 211.4,225.7 212.4,225.7 213.4,225.7 214.4,225.7 215.4,225.7 216.4,225.7 217.4,225.7 218.4,225.7 219.4,225.7 220.4,225.7 221.4,225.7 222.4,225.7 223.38,225.7 223.4,225.72 224.4,226.78 224.88,227.29 225.4,224.34 226.4,218.67 227.4,213.01 228.02,209.52 228.4,209.71 229.4,210.21 229.52,210.27 230.4,210.75 231.02,211.09 231.4,211.29 232.4,211.83 232.52,211.9 233.4,212.36 234.02,212.69 234.4,212.88 235.4,213.39 235.52,213.45 236.4,213.88 237.02,214.18 237.4,214.36 238.4,214.82 238.52,214.88 239.4,215.27 240.02,215.54 240.4,215.7 241.4,216.12 241.52,216.17 242.4,216.52 243.02,216.77 243.4,216.91 244.4,217.28 244.52,217.33 245.4,217.64 246.02,217.86 246.4,217.99 247.4,218.32 247.52,218.36 248.4,218.63 249.02,218.83 249.4,218.94 250.4,219.23 250.52,219.27 251.4,219.51 252.02,219.68 252.4,219.78 253.4,220.04 253.52,220.07 254.4,220.29 255.02,220.44 255.4,220.52 256.4,220.75 256.52,220.78 257.4,220.97 258.02,221.1 258.4,221.17 259.4,221.37 259.52,221.4 260.4,221.56 261.02,221.67 261.4,221.74 262.4,221.92 262.52,221.94 263.4,222.08 264.02,222.18 264.4,222.24 265.4,222.39 265.52,222.41 266.4,222.53 267.02,222.62 267.4,222.67 268.4,222.8 268.52,222.82 269.4,222.92 270.02,223 270.4,223.04 271.4,223.16 271.52,223.17 272.4,223.27 273.02,223.33 273.4,223.37 274.4,223.47 274.52,223.48 275.4,223.56 276.02,223.62 276.4,223.65 277.4,223.74 277.52,223.75 278.4,223.82 279.02,223.87 279.4,223.9 280.4,223.97 280.52,223.98 281.4,224.04 282.02,224.08 282.4,224.11 283.4,224.17 283.52,224.18 284.4,224.23 285.02,224.27 285.4,224.29 286.4,224.35 286.52,224.35 287.4,224.4 288.02,224.43 288.4,224.45 289.4,224.5 289.52,224.5 290.4,224.54 291.02,224.57 291.4,224.58 292.4,224.62 292.52,224.63 293.4,224.66 294.02,224.69 294.4,224.7 295.4,224.74 295.52,224.74 296.4,224.77 297.02,224.79 297.4,224.8 298.4,224.83 298.52,224.83 299.4,224.86 300.02,224.88 300.4,224.89 301.4,224.91 301.52,224.92 302.4,224.94 303,224.95" fill="none" stroke="#e8231a" stroke-width="0.6" stroke-linejoin="round" stroke-linecap="round" />
<g fill="#e8231a"><circle cx="205.4" cy="225.7" r="0.65"/><circle cx="207.3" cy="225.7" r="0.65"/><circle cx="209.2" cy="225.7" r="0.65"/><circle cx="211.1" cy="225.7" r="0.65"/><circle cx="213" cy="225.7" r="0.65"/><circle cx="214.9" cy="225.7" r="0.65"/><circle cx="216.8" cy="225.7" r="0.65"/><circle cx="218.7" cy="225.7" r="0.65"/><circle cx="220.6" cy="225.7" r="0.65"/><circle cx="222.5" cy="225.7" r="0.65"/><circle cx="224.4" cy="226.78" r="0.65"/><circle cx="226.3" cy="219.24" r="0.65"/><circle cx="228.2" cy="209.61" r="0.65"/><circle cx="230.1" cy="210.59" r="0.65"/><circle cx="232" cy="211.62" r="0.65"/><circle cx="233.9" cy="212.63" r="0.65"/><circle cx="235.8" cy="213.59" r="0.65"/><circle cx="237.7" cy="214.5" r="0.65"/><circle cx="239.6" cy="215.36" r="0.65"/><circle cx="241.5" cy="216.16" r="0.65"/><circle cx="243.4" cy="216.91" r="0.65"/><circle cx="245.3" cy="217.6" r="0.65"/><circle cx="247.2" cy="218.25" r="0.65"/><circle cx="249.1" cy="218.85" r="0.65"/><circle cx="251" cy="219.4" r="0.65"/><circle cx="252.9" cy="219.91" r="0.65"/><circle cx="254.8" cy="220.38" r="0.65"/><circle cx="256.7" cy="220.82" r="0.65"/><circle cx="258.6" cy="221.21" r="0.65"/><circle cx="260.5" cy="221.58" r="0.65"/><circle cx="262.4" cy="221.92" r="0.65"/><circle cx="264.3" cy="222.22" r="0.65"/><circle cx="266.2" cy="222.5" r="0.65"/><circle cx="268.1" cy="222.76" r="0.65"/><circle cx="270" cy="223" r="0.65"/><circle cx="271.9" cy="223.21" r="0.65"/><circle cx="273.8" cy="223.41" r="0.65"/><circle cx="275.7" cy="223.59" r="0.65"/><circle cx="277.6" cy="223.76" r="0.65"/><circle cx="279.5" cy="223.9" r="0.65"/><circle cx="281.4" cy="224.04" r="0.65"/><circle cx="283.3" cy="224.17" r="0.65"/><circle cx="285.2" cy="224.28" r="0.65"/><circle cx="287.1" cy="224.38" r="0.65"/><circle cx="289" cy="224.48" r="0.65"/><circle cx="290.9" cy="224.56" r="0.65"/><circle cx="292.8" cy="224.64" r="0.65"/><circle cx="294.7" cy="224.71" r="0.65"/><circle cx="296.6" cy="224.78" r="0.65"/><circle cx="298.5" cy="224.83" r="0.65"/><circle cx="300.4" cy="224.89" r="0.65"/><circle cx="302.3" cy="224.93" r="0.65"/></g>
<polyline points="205.4,225.7 206.4,225.7 207.4,225.7 208.4,225.7 209.4,225.7 210.4,225.7 211.4,225.7 212.4,225.7 213.4,225.7 214.4,225.7 215.4,225.7 216.4,225.7 217.4,225.7 218.4,225.7 219.4,225.7 220.4,225.7 221.4,225.7 222.4,225.7 223.4,225.7 223.43,225.7 224.4,227.07 224.93,227.82 225.4,224.5 226.4,217.47 227.4,210.44 228.4,203.4 229.04,198.9 229.4,199.3 230.4,200.42 230.54,200.58 231.4,201.61 232.04,202.38 232.4,202.8 233.4,203.97 233.54,204.14 234.4,205.1 235.04,205.82 235.4,206.2 236.4,207.26 236.54,207.4 237.4,208.26 238.04,208.89 238.4,209.23 239.4,210.15 239.54,210.29 240.4,211.03 241.04,211.58 241.4,211.87 242.4,212.67 242.54,212.78 243.4,213.42 244.04,213.89 244.4,214.14 245.4,214.82 245.54,214.92 246.4,215.46 247.04,215.87 247.4,216.08 248.4,216.66 248.54,216.74 249.4,217.2 250.04,217.54 250.4,217.72 251.4,218.21 251.54,218.28 252.4,218.66 253.04,218.95 253.4,219.1 254.4,219.51 254.54,219.57 255.4,219.89 256.04,220.13 256.4,220.26 257.4,220.6 257.54,220.65 258.4,220.92 259.04,221.12 259.4,221.23 260.4,221.51 260.54,221.56 261.4,221.78 262.04,221.95 262.4,222.04 263.4,222.27 263.54,222.31 264.4,222.5 265.04,222.64 265.4,222.71 266.4,222.91 266.54,222.93 267.4,223.09 268.04,223.2 268.4,223.26 269.4,223.43 269.54,223.45 270.4,223.58 271.04,223.68 271.4,223.72 272.4,223.86 272.54,223.88 273.4,223.99 274.04,224.07 274.4,224.11 275.4,224.22 275.54,224.23 276.4,224.32 277.04,224.39 277.4,224.42 278.4,224.51 278.54,224.52 279.4,224.6 280.04,224.65 280.4,224.68 281.4,224.75 281.54,224.76 282.4,224.82 283.04,224.87 283.4,224.89 284.4,224.95 284.54,224.96 285.4,225.01 286.04,225.04 286.4,225.06 287.4,225.11 287.54,225.12 288.4,225.16 289.04,225.19 289.4,225.21 290.4,225.25 290.54,225.25 291.4,225.29 292.04,225.31 292.4,225.32 293.4,225.36 293.54,225.36 294.4,225.39 295.04,225.41 295.4,225.42 296.4,225.45 296.54,225.45 297.4,225.47 298.04,225.49 298.4,225.5 299.4,225.52 299.54,225.52 300.4,225.54 301.04,225.55 301.4,225.56 302.4,225.58 302.54,225.58 303,225.59" fill="none" stroke="#2f6cff" stroke-width="0.6" stroke-linejoin="round" stroke-linecap="round" />
<g fill="#2f6cff"><circle cx="205.4" cy="225.7" r="0.65"/><circle cx="207.3" cy="225.7" r="0.65"/><circle cx="209.2" cy="225.7" r="0.65"/><circle cx="211.1" cy="225.7" r="0.65"/><circle cx="213" cy="225.7" r="0.65"/><circle cx="214.9" cy="225.7" r="0.65"/><circle cx="216.8" cy="225.7" r="0.65"/><circle cx="218.7" cy="225.7" r="0.65"/><circle cx="220.6" cy="225.7" r="0.65"/><circle cx="222.5" cy="225.7" r="0.65"/><circle cx="224.4" cy="227.07" r="0.65"/><circle cx="226.3" cy="218.17" r="0.65"/><circle cx="228.2" cy="204.81" r="0.65"/><circle cx="230.1" cy="200.09" r="0.65"/><circle cx="232" cy="202.33" r="0.65"/><circle cx="233.9" cy="204.54" r="0.65"/><circle cx="235.8" cy="206.62" r="0.65"/><circle cx="237.7" cy="208.56" r="0.65"/><circle cx="239.6" cy="210.34" r="0.65"/><circle cx="241.5" cy="211.95" r="0.65"/><circle cx="243.4" cy="213.42" r="0.65"/><circle cx="245.3" cy="214.76" r="0.65"/><circle cx="247.2" cy="215.96" r="0.65"/><circle cx="249.1" cy="217.04" r="0.65"/><circle cx="251" cy="218.01" r="0.65"/><circle cx="252.9" cy="218.89" r="0.65"/><circle cx="254.8" cy="219.67" r="0.65"/><circle cx="256.7" cy="220.36" r="0.65"/><circle cx="258.6" cy="220.98" r="0.65"/><circle cx="260.5" cy="221.54" r="0.65"/><circle cx="262.4" cy="222.04" r="0.65"/><circle cx="264.3" cy="222.47" r="0.65"/><circle cx="266.2" cy="222.87" r="0.65"/><circle cx="268.1" cy="223.21" r="0.65"/><circle cx="270" cy="223.52" r="0.65"/><circle cx="271.9" cy="223.79" r="0.65"/><circle cx="273.8" cy="224.04" r="0.65"/><circle cx="275.7" cy="224.25" r="0.65"/><circle cx="277.6" cy="224.44" r="0.65"/><circle cx="279.5" cy="224.6" r="0.65"/><circle cx="281.4" cy="224.75" r="0.65"/><circle cx="283.3" cy="224.88" r="0.65"/><circle cx="285.2" cy="225" r="0.65"/><circle cx="287.1" cy="225.1" r="0.65"/><circle cx="289" cy="225.19" r="0.65"/><circle cx="290.9" cy="225.27" r="0.65"/><circle cx="292.8" cy="225.34" r="0.65"/><circle cx="294.7" cy="225.4" r="0.65"/><circle cx="296.6" cy="225.45" r="0.65"/><circle cx="298.5" cy="225.5" r="0.65"/><circle cx="300.4" cy="225.54" r="0.65"/><circle cx="302.3" cy="225.58" r="0.65"/></g>
<polyline points="205.4,225.7 206.4,225.7 207.4,225.7 208.4,225.7 209.4,225.7 210.4,225.7 211.4,225.7 212.4,225.7 213.4,225.7 214.4,225.7 215.4,225.7 216.4,225.7 217.4,225.7 218.4,225.7 219.4,225.7 220.4,225.7 221.4,225.7 222.4,225.7 223.4,225.7 223.47,225.7 224.4,226.88 224.97,227.6 225.4,227.1 226.4,225.93 226.97,225.26 227.4,223.6 228.4,219.75 229.4,215.91 230.33,212.32 230.4,212.39 231.4,213.31 231.83,213.71 232.4,214.26 233.33,215.15 233.4,215.21 234.4,216.11 234.83,216.5 235.4,216.97 236.33,217.74 236.4,217.79 237.4,218.54 237.83,218.86 238.4,219.23 239.33,219.85 239.4,219.89 240.4,220.45 240.83,220.7 241.4,220.97 242.33,221.42 242.4,221.44 243.4,221.82 243.83,221.99 244.4,222.16 245.33,222.43 245.4,222.44 246.4,222.65 246.83,222.74 247.4,222.81 248.33,222.94 248.4,222.94 249.4,223.03 249.83,223.07 250.4,223.11 251.33,223.17 251.4,223.18 252.4,223.26 252.83,223.29 253.4,223.36 254.33,223.47 254.4,223.49 255.4,223.66 255.83,223.74 256.4,223.88 257.33,224.1 257.4,224.12 258.4,224.41 258.83,224.53 259.4,224.72 260.33,225.01 260.4,225.04 261.4,225.36 261.83,225.51 262.4,225.68 263.33,225.97 263.4,225.99 264.4,226.26 264.83,226.38 265.4,226.51 266.33,226.73 266.4,226.74 267.4,226.92 267.83,227 268.4,227.08 269.33,227.21 269.4,227.22 270.4,227.32 270.83,227.37 271.4,227.41 272.33,227.48 272.4,227.49 273.4,227.54 273.83,227.57 274.4,227.59 275.33,227.63 275.4,227.63 276.4,227.67 276.83,227.68 277.4,227.7 278.33,227.72 278.4,227.72 279.4,227.74 279.83,227.75 280.4,227.76 281.33,227.78 281.4,227.78 282.4,227.8 282.83,227.8 283.4,227.81 284.33,227.82 284.4,227.83 285.4,227.84 285.83,227.84 286.4,227.85 287.33,227.86 287.4,227.86 288.4,227.87 288.83,227.87 289.4,227.87 290.33,227.88 290.4,227.88 291.4,227.89 291.83,227.89 292.4,227.89 293.33,227.9 293.4,227.9 294.4,227.91 294.83,227.91 295.4,227.91 296.33,227.91 296.4,227.91 297.4,227.92 297.83,227.92 298.4,227.92 299.33,227.92 299.4,227.92 300.4,227.93 300.83,227.93 301.4,227.93 302.33,227.93 302.4,227.93 303,227.93" fill="none" stroke="#3a9aff" stroke-width="0.6" stroke-linejoin="round" stroke-linecap="round" />
<g fill="#3a9aff"><circle cx="205.4" cy="225.7" r="0.65"/><circle cx="207.3" cy="225.7" r="0.65"/><circle cx="209.2" cy="225.7" r="0.65"/><circle cx="211.1" cy="225.7" r="0.65"/><circle cx="213" cy="225.7" r="0.65"/><circle cx="214.9" cy="225.7" r="0.65"/><circle cx="216.8" cy="225.7" r="0.65"/><circle cx="218.7" cy="225.7" r="0.65"/><circle cx="220.6" cy="225.7" r="0.65"/><circle cx="222.5" cy="225.7" r="0.65"/><circle cx="224.4" cy="226.88" r="0.65"/><circle cx="226.3" cy="226.04" r="0.65"/><circle cx="228.2" cy="220.52" r="0.65"/><circle cx="230.1" cy="213.21" r="0.65"/><circle cx="232" cy="213.87" r="0.65"/><circle cx="233.9" cy="215.66" r="0.65"/><circle cx="235.8" cy="217.3" r="0.65"/><circle cx="237.7" cy="218.76" r="0.65"/><circle cx="239.6" cy="220" r="0.65"/><circle cx="241.5" cy="221.02" r="0.65"/><circle cx="243.4" cy="221.82" r="0.65"/><circle cx="245.3" cy="222.42" r="0.65"/><circle cx="247.2" cy="222.78" r="0.65"/><circle cx="249.1" cy="223.01" r="0.65"/><circle cx="251" cy="223.15" r="0.65"/><circle cx="252.9" cy="223.3" r="0.65"/><circle cx="254.8" cy="223.56" r="0.65"/><circle cx="256.7" cy="223.95" r="0.65"/><circle cx="258.6" cy="224.47" r="0.65"/><circle cx="260.5" cy="225.07" r="0.65"/><circle cx="262.4" cy="225.68" r="0.65"/><circle cx="264.3" cy="226.24" r="0.65"/><circle cx="266.2" cy="226.7" r="0.65"/><circle cx="268.1" cy="227.04" r="0.65"/><circle cx="270" cy="227.28" r="0.65"/><circle cx="271.9" cy="227.45" r="0.65"/><circle cx="273.8" cy="227.56" r="0.65"/><circle cx="275.7" cy="227.64" r="0.65"/><circle cx="277.6" cy="227.7" r="0.65"/><circle cx="279.5" cy="227.75" r="0.65"/><circle cx="281.4" cy="227.78" r="0.65"/><circle cx="283.3" cy="227.81" r="0.65"/><circle cx="285.2" cy="227.83" r="0.65"/><circle cx="287.1" cy="227.86" r="0.65"/><circle cx="289" cy="227.87" r="0.65"/><circle cx="290.9" cy="227.89" r="0.65"/><circle cx="292.8" cy="227.9" r="0.65"/><circle cx="294.7" cy="227.91" r="0.65"/><circle cx="296.6" cy="227.91" r="0.65"/><circle cx="298.5" cy="227.92" r="0.65"/><circle cx="300.4" cy="227.93" r="0.65"/><circle cx="302.3" cy="227.93" r="0.65"/></g>
<polyline points="205.4,225.7 206.4,225.7 207.4,225.7 208.4,225.7 209.4,225.7 210.4,225.7 211.4,225.7 212.4,225.7 213.4,225.7 214.4,225.7 215.4,225.7 216.4,225.7 217.4,225.7 218.4,225.7 219.4,225.7 220.4,225.7 221.4,225.7 222.4,225.7 223.4,225.7 223.56,225.7 224.4,226.76 225.06,227.59 225.4,225.94 226.4,221.1 227.4,216.25 228.4,211.41 228.81,209.41 229.4,210.09 230.31,211.14 230.4,211.25 231.4,212.43 231.81,212.91 232.4,213.56 233.31,214.56 233.4,214.64 234.4,215.64 234.81,216.05 235.4,216.57 236.31,217.39 236.4,217.46 237.4,218.25 237.81,218.58 238.4,218.99 239.31,219.63 239.4,219.69 240.4,220.3 240.81,220.56 241.4,220.88 242.31,221.37 242.4,221.41 243.4,221.89 243.81,222.08 244.4,222.32 245.31,222.7 245.4,222.73 246.4,223.09 246.81,223.24 247.4,223.42 248.31,223.71 248.4,223.73 249.4,224 249.81,224.11 250.4,224.25 251.31,224.46 251.4,224.48 252.4,224.68 252.81,224.76 253.4,224.87 254.31,225.03 254.4,225.04 255.4,225.19 255.81,225.25 256.4,225.33 257.31,225.44 257.4,225.45 258.4,225.56 258.81,225.61 259.4,225.67 260.31,225.75 260.4,225.76 261.4,225.84 261.81,225.87 262.4,225.92 263.31,225.98 263.4,225.98 264.4,226.04 264.81,226.07 265.4,226.1 266.31,226.15 266.4,226.15 267.4,226.19 267.81,226.21 268.4,226.23 269.31,226.27 269.4,226.27 270.4,226.3 270.81,226.31 271.4,226.33 272.31,226.36 272.4,226.36 273.4,226.38 273.81,226.39 274.4,226.4 275.31,226.42 275.4,226.42 276.4,226.44 276.81,226.44 277.4,226.45 278.31,226.47 278.4,226.47 279.4,226.48 279.81,226.48 280.4,226.49 281.31,226.5 281.4,226.5 282.4,226.51 282.81,226.51 283.4,226.52 284.31,226.52 284.4,226.52 285.4,226.53 285.81,226.53 286.4,226.54 287.31,226.54 287.4,226.54 288.4,226.55 288.81,226.55 289.4,226.55 290.31,226.55 290.4,226.55 291.4,226.56 291.81,226.56 292.4,226.56 293.31,226.56 293.4,226.56 294.4,226.56 294.81,226.57 295.4,226.57 296.31,226.57 296.4,226.57 297.4,226.57 297.81,226.57 298.4,226.57 299.31,226.57 299.4,226.57 300.4,226.57 300.81,226.57 301.4,226.58 302.31,226.58 302.4,226.58 303,226.58" fill="none" stroke="#3a9aff" stroke-width="0.6" stroke-linejoin="round" stroke-linecap="round" />
<g fill="#3a9aff"><circle cx="205.4" cy="225.7" r="0.65"/><circle cx="207.3" cy="225.7" r="0.65"/><circle cx="209.2" cy="225.7" r="0.65"/><circle cx="211.1" cy="225.7" r="0.65"/><circle cx="213" cy="225.7" r="0.65"/><circle cx="214.9" cy="225.7" r="0.65"/><circle cx="216.8" cy="225.7" r="0.65"/><circle cx="218.7" cy="225.7" r="0.65"/><circle cx="220.6" cy="225.7" r="0.65"/><circle cx="222.5" cy="225.7" r="0.65"/><circle cx="224.4" cy="226.76" r="0.65"/><circle cx="226.3" cy="221.58" r="0.65"/><circle cx="228.2" cy="212.37" r="0.65"/><circle cx="230.1" cy="210.9" r="0.65"/><circle cx="232" cy="213.12" r="0.65"/><circle cx="233.9" cy="215.14" r="0.65"/><circle cx="235.8" cy="216.93" r="0.65"/><circle cx="237.7" cy="218.49" r="0.65"/><circle cx="239.6" cy="219.81" r="0.65"/><circle cx="241.5" cy="220.93" r="0.65"/><circle cx="243.4" cy="221.89" r="0.65"/><circle cx="245.3" cy="222.7" r="0.65"/><circle cx="247.2" cy="223.36" r="0.65"/><circle cx="249.1" cy="223.92" r="0.65"/><circle cx="251" cy="224.39" r="0.65"/><circle cx="252.9" cy="224.78" r="0.65"/><circle cx="254.8" cy="225.1" r="0.65"/><circle cx="256.7" cy="225.37" r="0.65"/><circle cx="258.6" cy="225.59" r="0.65"/><circle cx="260.5" cy="225.77" r="0.65"/><circle cx="262.4" cy="225.92" r="0.65"/><circle cx="264.3" cy="226.04" r="0.65"/><circle cx="266.2" cy="226.14" r="0.65"/><circle cx="268.1" cy="226.22" r="0.65"/><circle cx="270" cy="226.29" r="0.65"/><circle cx="271.9" cy="226.34" r="0.65"/><circle cx="273.8" cy="226.39" r="0.65"/><circle cx="275.7" cy="226.43" r="0.65"/><circle cx="277.6" cy="226.46" r="0.65"/><circle cx="279.5" cy="226.48" r="0.65"/><circle cx="281.4" cy="226.5" r="0.65"/><circle cx="283.3" cy="226.52" r="0.65"/><circle cx="285.2" cy="226.53" r="0.65"/><circle cx="287.1" cy="226.54" r="0.65"/><circle cx="289" cy="226.55" r="0.65"/><circle cx="290.9" cy="226.56" r="0.65"/><circle cx="292.8" cy="226.56" r="0.65"/><circle cx="294.7" cy="226.57" r="0.65"/><circle cx="296.6" cy="226.57" r="0.65"/><circle cx="298.5" cy="226.57" r="0.65"/><circle cx="300.4" cy="226.57" r="0.65"/><circle cx="302.3" cy="226.58" r="0.65"/></g>
<polyline points="205.4,225.7 206.4,225.7 207.4,225.7 208.4,225.7 209.4,225.7 210.4,225.7 211.4,225.7 212.4,225.7 213.4,225.7 214.4,225.7 215.4,225.7 216.4,225.7 217.4,225.7 218.4,225.7 219.4,225.7 220.4,225.7 221.4,225.7 222.4,225.7 223.4,225.7 224.07,225.7 224.4,226.08 225.4,227.22 225.57,227.41 226.4,222.82 227.4,217.29 228.4,211.75 229.4,206.22 229.76,204.23 230.4,204.91 231.26,205.82 231.4,205.98 232.4,207.11 232.76,207.51 233.4,208.22 234.26,209.16 234.4,209.31 235.4,210.35 235.76,210.73 236.4,211.36 237.26,212.2 237.4,212.33 238.4,213.25 238.76,213.58 239.4,214.12 240.26,214.86 240.4,214.97 241.4,215.76 241.76,216.04 242.4,216.51 243.26,217.14 243.4,217.23 244.4,217.91 244.76,218.15 245.4,218.54 246.26,219.08 246.4,219.16 247.4,219.72 247.76,219.93 248.4,220.26 249.26,220.71 249.4,220.77 250.4,221.25 250.76,221.42 251.4,221.7 252.26,222.07 252.4,222.13 253.4,222.52 253.76,222.66 254.4,222.9 255.26,223.21 255.4,223.25 256.4,223.58 256.76,223.7 257.4,223.89 258.26,224.15 258.4,224.19 259.4,224.46 259.76,224.56 260.4,224.72 261.26,224.93 261.4,224.96 262.4,225.18 262.76,225.26 263.4,225.4 264.26,225.57 264.4,225.6 265.4,225.78 265.76,225.85 266.4,225.95 267.26,226.1 267.4,226.12 268.4,226.27 268.76,226.32 269.4,226.41 270.26,226.53 270.4,226.55 271.4,226.67 271.76,226.72 272.4,226.79 273.26,226.88 273.4,226.9 274.4,227 274.76,227.04 275.4,227.09 276.26,227.17 276.4,227.18 277.4,227.27 277.76,227.3 278.4,227.34 279.26,227.41 279.4,227.42 280.4,227.49 280.76,227.51 281.4,227.55 282.26,227.6 282.4,227.61 283.4,227.66 283.76,227.68 284.4,227.71 285.26,227.76 285.4,227.76 286.4,227.81 286.76,227.82 287.4,227.85 288.26,227.88 288.4,227.89 289.4,227.92 289.76,227.94 290.4,227.96 291.26,227.98 291.4,227.99 292.4,228.02 292.76,228.03 293.4,228.04 294.26,228.07 294.4,228.07 295.4,228.09 295.76,228.1 296.4,228.12 297.26,228.13 297.4,228.14 298.4,228.15 298.76,228.16 299.4,228.17 300.26,228.19 300.4,228.19 301.4,228.2 301.76,228.21 302.4,228.22 303,228.23" fill="none" stroke="#e8231a" stroke-width="0.6" stroke-linejoin="round" stroke-linecap="round" />
<g fill="#e8231a"><circle cx="205.4" cy="225.7" r="0.65"/><circle cx="207.3" cy="225.7" r="0.65"/><circle cx="209.2" cy="225.7" r="0.65"/><circle cx="211.1" cy="225.7" r="0.65"/><circle cx="213" cy="225.7" r="0.65"/><circle cx="214.9" cy="225.7" r="0.65"/><circle cx="216.8" cy="225.7" r="0.65"/><circle cx="218.7" cy="225.7" r="0.65"/><circle cx="220.6" cy="225.7" r="0.65"/><circle cx="222.5" cy="225.7" r="0.65"/><circle cx="224.4" cy="226.08" r="0.65"/><circle cx="226.3" cy="223.37" r="0.65"/><circle cx="228.2" cy="212.86" r="0.65"/><circle cx="230.1" cy="204.59" r="0.65"/><circle cx="232" cy="206.66" r="0.65"/><circle cx="233.9" cy="208.77" r="0.65"/><circle cx="235.8" cy="210.77" r="0.65"/><circle cx="237.7" cy="212.6" r="0.65"/><circle cx="239.6" cy="214.29" r="0.65"/><circle cx="241.5" cy="215.84" r="0.65"/><circle cx="243.4" cy="217.23" r="0.65"/><circle cx="245.3" cy="218.48" r="0.65"/><circle cx="247.2" cy="219.61" r="0.65"/><circle cx="249.1" cy="220.62" r="0.65"/><circle cx="251" cy="221.52" r="0.65"/><circle cx="252.9" cy="222.32" r="0.65"/><circle cx="254.8" cy="223.04" r="0.65"/><circle cx="256.7" cy="223.68" r="0.65"/><circle cx="258.6" cy="224.24" r="0.65"/><circle cx="260.5" cy="224.74" r="0.65"/><circle cx="262.4" cy="225.18" r="0.65"/><circle cx="264.3" cy="225.58" r="0.65"/><circle cx="266.2" cy="225.92" r="0.65"/><circle cx="268.1" cy="226.22" r="0.65"/><circle cx="270" cy="226.49" r="0.65"/><circle cx="271.9" cy="226.73" r="0.65"/><circle cx="273.8" cy="226.94" r="0.65"/><circle cx="275.7" cy="227.12" r="0.65"/><circle cx="277.6" cy="227.28" r="0.65"/><circle cx="279.5" cy="227.42" r="0.65"/><circle cx="281.4" cy="227.55" r="0.65"/><circle cx="283.3" cy="227.66" r="0.65"/><circle cx="285.2" cy="227.75" r="0.65"/><circle cx="287.1" cy="227.84" r="0.65"/><circle cx="289" cy="227.91" r="0.65"/><circle cx="290.9" cy="227.97" r="0.65"/><circle cx="292.8" cy="228.03" r="0.65"/><circle cx="294.7" cy="228.08" r="0.65"/><circle cx="296.6" cy="228.12" r="0.65"/><circle cx="298.5" cy="228.16" r="0.65"/><circle cx="300.4" cy="228.19" r="0.65"/><circle cx="302.3" cy="228.22" r="0.65"/></g>
<polyline points="205.4,225.7 206.4,225.7 207.4,225.7 208.4,225.7 209.4,225.7 210.4,225.7 211.4,225.7 212.4,225.7 213.4,225.7 214.4,225.7 215.4,225.7 216.4,225.7 217.4,225.7 218.4,225.7 219.4,225.7 220.4,225.7 221.4,225.7 222.4,225.7 223.4,225.7 223.89,225.7 224.4,226.15 225.39,227.01 225.4,226.9 226.4,215.61 227.4,204.33 227.87,199.01 228.4,199.53 229.37,200.47 229.4,200.5 230.4,201.55 230.87,202.05 231.4,202.6 232.37,203.61 232.4,203.64 233.4,204.64 233.87,205.12 234.4,205.62 235.37,206.55 235.4,206.58 236.4,207.48 236.87,207.9 237.4,208.34 238.37,209.14 238.4,209.16 239.4,209.9 239.87,210.25 240.4,210.58 241.37,211.2 241.4,211.21 242.4,211.72 242.87,211.97 243.4,212.17 244.37,212.53 244.4,212.54 245.4,212.79 245.87,212.9 246.4,212.97 247.37,213.09 247.4,213.09 248.4,213.14 248.87,213.16 249.4,213.17 250.37,213.19 250.4,213.19 251.4,213.26 251.87,213.28 252.4,213.37 253.37,213.54 253.4,213.55 254.4,213.87 254.87,214.03 255.4,214.29 256.37,214.78 256.4,214.8 257.4,215.47 257.87,215.78 258.4,216.2 259.37,216.96 259.4,216.99 260.4,217.83 260.87,218.23 261.4,218.68 262.37,219.5 262.4,219.53 263.4,220.31 263.87,220.69 264.4,221.05 265.37,221.73 265.4,221.74 266.4,222.33 266.87,222.6 267.4,222.86 268.37,223.32 268.4,223.33 269.4,223.71 269.87,223.89 270.4,224.05 271.37,224.35 271.4,224.36 272.4,224.61 272.87,224.72 273.4,224.83 274.37,225.03 274.4,225.04 275.4,225.21 275.87,225.3 276.4,225.38 277.37,225.53 277.4,225.54 278.4,225.68 278.87,225.74 279.4,225.81 280.37,225.93 280.4,225.94 281.4,226.05 281.87,226.11 282.4,226.17 283.37,226.27 283.4,226.27 284.4,226.37 284.87,226.42 285.4,226.47 286.37,226.56 286.4,226.56 287.4,226.65 287.87,226.69 288.4,226.73 289.37,226.8 289.4,226.81 290.4,226.88 290.87,226.91 291.4,226.95 292.37,227.01 292.4,227.01 293.4,227.08 293.87,227.11 294.4,227.14 295.37,227.19 295.4,227.19 296.4,227.25 296.87,227.27 297.4,227.3 298.37,227.34 298.4,227.34 299.4,227.39 299.87,227.41 300.4,227.43 301.37,227.47 301.4,227.47 302.4,227.51 302.87,227.53 303,227.53" fill="none" stroke="#2f6cff" stroke-width="0.6" stroke-linejoin="round" stroke-linecap="round" />
<g fill="#2f6cff"><circle cx="205.4" cy="225.7" r="0.65"/><circle cx="207.3" cy="225.7" r="0.65"/><circle cx="209.2" cy="225.7" r="0.65"/><circle cx="211.1" cy="225.7" r="0.65"/><circle cx="213" cy="225.7" r="0.65"/><circle cx="214.9" cy="225.7" r="0.65"/><circle cx="216.8" cy="225.7" r="0.65"/><circle cx="218.7" cy="225.7" r="0.65"/><circle cx="220.6" cy="225.7" r="0.65"/><circle cx="222.5" cy="225.7" r="0.65"/><circle cx="224.4" cy="226.15" r="0.65"/><circle cx="226.3" cy="216.74" r="0.65"/><circle cx="228.2" cy="199.33" r="0.65"/><circle cx="230.1" cy="201.24" r="0.65"/><circle cx="232" cy="203.22" r="0.65"/><circle cx="233.9" cy="205.14" r="0.65"/><circle cx="235.8" cy="206.94" r="0.65"/><circle cx="237.7" cy="208.59" r="0.65"/><circle cx="239.6" cy="210.05" r="0.65"/><circle cx="241.5" cy="211.26" r="0.65"/><circle cx="243.4" cy="212.17" r="0.65"/><circle cx="245.3" cy="212.76" r="0.65"/><circle cx="247.2" cy="213.07" r="0.65"/><circle cx="249.1" cy="213.17" r="0.65"/><circle cx="251" cy="213.23" r="0.65"/><circle cx="252.9" cy="213.46" r="0.65"/><circle cx="254.8" cy="214" r="0.65"/><circle cx="256.7" cy="215" r="0.65"/><circle cx="258.6" cy="216.35" r="0.65"/><circle cx="260.5" cy="217.92" r="0.65"/><circle cx="262.4" cy="219.53" r="0.65"/><circle cx="264.3" cy="220.98" r="0.65"/><circle cx="266.2" cy="222.21" r="0.65"/><circle cx="268.1" cy="223.19" r="0.65"/><circle cx="270" cy="223.93" r="0.65"/><circle cx="271.9" cy="224.48" r="0.65"/><circle cx="273.8" cy="224.91" r="0.65"/><circle cx="275.7" cy="225.27" r="0.65"/><circle cx="277.6" cy="225.56" r="0.65"/><circle cx="279.5" cy="225.82" r="0.65"/><circle cx="281.4" cy="226.05" r="0.65"/><circle cx="283.3" cy="226.26" r="0.65"/><circle cx="285.2" cy="226.45" r="0.65"/><circle cx="287.1" cy="226.62" r="0.65"/><circle cx="289" cy="226.77" r="0.65"/><circle cx="290.9" cy="226.91" r="0.65"/><circle cx="292.8" cy="227.04" r="0.65"/><circle cx="294.7" cy="227.15" r="0.65"/><circle cx="296.6" cy="227.26" r="0.65"/><circle cx="298.5" cy="227.35" r="0.65"/><circle cx="300.4" cy="227.43" r="0.65"/><circle cx="302.3" cy="227.51" r="0.65"/></g>
<polyline points="205.4,225.7 206.4,225.7 207.4,225.7 208.4,225.7 209.4,225.7 210.4,225.7 211.4,225.7 212.4,225.7 213.4,225.7 214.4,225.7 215.4,225.7 216.4,225.7 217.4,225.7 218.4,225.7 219.4,225.7 220.4,225.7 221.4,225.7 222.4,225.7 223.23,225.7 223.4,225.87 224.4,226.87 224.73,227.2 225.4,220.36 226.4,210.16 226.63,207.79 227.4,208.39 228.13,208.97 228.4,209.19 229.4,210.03 229.63,210.22 230.4,210.85 231.13,211.44 231.4,211.65 232.4,212.42 232.63,212.6 233.4,213.15 234.13,213.69 234.4,213.87 235.4,214.54 235.63,214.7 236.4,215.18 237.13,215.64 237.4,215.79 238.4,216.37 238.63,216.5 239.4,216.91 240.13,217.29 240.4,217.42 241.4,217.9 241.63,218.02 242.4,218.35 243.13,218.67 243.4,218.77 244.4,219.16 244.63,219.25 245.4,219.52 246.13,219.78 246.4,219.86 247.4,220.17 247.63,220.24 248.4,220.45 249.13,220.65 249.4,220.71 250.4,220.96 250.63,221.01 251.4,221.19 252.13,221.35 252.4,221.4 253.4,221.61 253.63,221.66 254.4,221.81 255.13,221.96 255.4,222.01 256.4,222.21 256.63,222.26 257.4,222.41 258.13,222.55 258.4,222.6 259.4,222.79 259.63,222.84 260.4,222.98 261.13,223.11 261.4,223.16 262.4,223.33 262.63,223.37 263.4,223.5 264.13,223.61 264.4,223.65 265.4,223.8 265.63,223.83 266.4,223.93 267.13,224.02 267.4,224.05 268.4,224.16 268.63,224.18 269.4,224.26 270.13,224.32 270.4,224.35 271.4,224.43 271.63,224.45 272.4,224.5 273.13,224.55 273.4,224.57 274.4,224.63 274.63,224.64 275.4,224.69 276.13,224.73 276.4,224.74 277.4,224.79 277.63,224.8 278.4,224.83 279.13,224.86 279.4,224.87 280.4,224.91 280.63,224.92 281.4,224.95 282.13,224.97 282.4,224.98 283.4,225.01 283.63,225.02 284.4,225.04 285.13,225.06 285.4,225.06 286.4,225.09 286.63,225.09 287.4,225.11 288.13,225.13 288.4,225.13 289.4,225.15 289.63,225.16 290.4,225.17 291.13,225.18 291.4,225.19 292.4,225.2 292.63,225.21 293.4,225.22 294.13,225.23 294.4,225.23 295.4,225.25 295.63,225.25 296.4,225.26 297.13,225.27 297.4,225.27 298.4,225.28 298.63,225.28 299.4,225.29 300.13,225.3 300.4,225.3 301.4,225.31 301.63,225.31 302.4,225.31 303,225.32" fill="none" stroke="#ff7440" stroke-width="0.6" stroke-linejoin="round" stroke-linecap="round" />
<g fill="#ff7440"><circle cx="205.4" cy="225.7" r="0.65"/><circle cx="207.3" cy="225.7" r="0.65"/><circle cx="209.2" cy="225.7" r="0.65"/><circle cx="211.1" cy="225.7" r="0.65"/><circle cx="213" cy="225.7" r="0.65"/><circle cx="214.9" cy="225.7" r="0.65"/><circle cx="216.8" cy="225.7" r="0.65"/><circle cx="218.7" cy="225.7" r="0.65"/><circle cx="220.6" cy="225.7" r="0.65"/><circle cx="222.5" cy="225.7" r="0.65"/><circle cx="224.4" cy="226.87" r="0.65"/><circle cx="226.3" cy="211.18" r="0.65"/><circle cx="228.2" cy="209.03" r="0.65"/><circle cx="230.1" cy="210.6" r="0.65"/><circle cx="232" cy="212.11" r="0.65"/><circle cx="233.9" cy="213.52" r="0.65"/><circle cx="235.8" cy="214.8" r="0.65"/><circle cx="237.7" cy="215.96" r="0.65"/><circle cx="239.6" cy="217.01" r="0.65"/><circle cx="241.5" cy="217.95" r="0.65"/><circle cx="243.4" cy="218.77" r="0.65"/><circle cx="245.3" cy="219.49" r="0.65"/><circle cx="247.2" cy="220.11" r="0.65"/><circle cx="249.1" cy="220.64" r="0.65"/><circle cx="251" cy="221.1" r="0.65"/><circle cx="252.9" cy="221.51" r="0.65"/><circle cx="254.8" cy="221.9" r="0.65"/><circle cx="256.7" cy="222.27" r="0.65"/><circle cx="258.6" cy="222.64" r="0.65"/><circle cx="260.5" cy="223" r="0.65"/><circle cx="262.4" cy="223.33" r="0.65"/><circle cx="264.3" cy="223.64" r="0.65"/><circle cx="266.2" cy="223.9" r="0.65"/><circle cx="268.1" cy="224.12" r="0.65"/><circle cx="270" cy="224.31" r="0.65"/><circle cx="271.9" cy="224.47" r="0.65"/><circle cx="273.8" cy="224.59" r="0.65"/><circle cx="275.7" cy="224.7" r="0.65"/><circle cx="277.6" cy="224.8" r="0.65"/><circle cx="279.5" cy="224.88" r="0.65"/><circle cx="281.4" cy="224.95" r="0.65"/><circle cx="283.3" cy="225.01" r="0.65"/><circle cx="285.2" cy="225.06" r="0.65"/><circle cx="287.1" cy="225.1" r="0.65"/><circle cx="289" cy="225.15" r="0.65"/><circle cx="290.9" cy="225.18" r="0.65"/><circle cx="292.8" cy="225.21" r="0.65"/><circle cx="294.7" cy="225.24" r="0.65"/><circle cx="296.6" cy="225.26" r="0.65"/><circle cx="298.5" cy="225.28" r="0.65"/><circle cx="300.4" cy="225.3" r="0.65"/><circle cx="302.3" cy="225.31" r="0.65"/></g>
<polyline points="205.4,225.7 206.4,225.7 207.4,225.7 208.4,225.7 209.4,225.7 210.4,225.7 211.4,225.7 212.4,225.7 213.4,225.7 214.4,225.7 215.4,225.7 216.4,225.7 217.4,225.7 218.4,225.7 219.4,225.7 220.4,225.7 221.4,225.7 222.4,225.7 223.4,225.7 223.58,225.7 224.4,227.16 225.08,228.37 225.4,225.93 226.4,218.4 227.4,210.88 227.82,207.73 228.4,208.12 229.32,208.73 229.4,208.79 230.4,209.51 230.82,209.81 231.4,210.22 232.32,210.87 232.4,210.92 233.4,211.61 233.82,211.89 234.4,212.27 235.32,212.86 235.4,212.91 236.4,213.52 236.82,213.77 237.4,214.09 238.32,214.6 238.4,214.64 239.4,215.13 239.82,215.33 240.4,215.57 241.32,215.94 241.4,215.96 242.4,216.26 242.82,216.39 243.4,216.5 244.32,216.67 244.4,216.68 245.4,216.74 245.82,216.77 246.4,216.73 247.32,216.68 247.4,216.67 248.4,216.51 248.82,216.45 249.4,216.33 250.32,216.15 250.4,216.14 251.4,215.95 251.82,215.88 252.4,215.82 253.32,215.73 253.4,215.73 254.4,215.78 254.82,215.81 255.4,215.94 256.32,216.16 256.4,216.2 257.4,216.63 257.82,216.81 258.4,217.16 259.32,217.71 259.4,217.77 260.4,218.48 260.82,218.78 261.4,219.21 262.32,219.91 262.4,219.97 263.4,220.7 263.82,221.01 264.4,221.39 265.32,222 265.4,222.05 266.4,222.62 266.82,222.85 267.4,223.12 268.32,223.54 268.4,223.57 269.4,223.92 269.82,224.07 270.4,224.23 271.32,224.48 271.4,224.5 272.4,224.7 272.82,224.79 273.4,224.88 274.32,225.03 274.4,225.04 275.4,225.17 275.82,225.23 276.4,225.29 277.32,225.39 277.4,225.39 278.4,225.49 278.82,225.52 279.4,225.57 280.32,225.65 280.4,225.65 281.4,225.73 281.82,225.76 282.4,225.8 283.32,225.86 283.4,225.87 284.4,225.93 284.82,225.95 285.4,225.99 286.32,226.04 286.4,226.04 287.4,226.1 287.82,226.12 288.4,226.15 289.32,226.19 289.4,226.19 290.4,226.24 290.82,226.26 291.4,226.28 292.32,226.32 292.4,226.32 293.4,226.36 293.82,226.37 294.4,226.39 295.32,226.43 295.4,226.43 296.4,226.46 296.82,226.47 297.4,226.49 298.32,226.52 298.4,226.52 299.4,226.55 299.82,226.56 300.4,226.57 301.32,226.6 301.4,226.6 302.4,226.62 302.82,226.63 303,226.63" fill="none" stroke="#ff7440" stroke-width="0.6" stroke-linejoin="round" stroke-linecap="round" />
<g fill="#ff7440"><circle cx="205.4" cy="225.7" r="0.65"/><circle cx="207.3" cy="225.7" r="0.65"/><circle cx="209.2" cy="225.7" r="0.65"/><circle cx="211.1" cy="225.7" r="0.65"/><circle cx="213" cy="225.7" r="0.65"/><circle cx="214.9" cy="225.7" r="0.65"/><circle cx="216.8" cy="225.7" r="0.65"/><circle cx="218.7" cy="225.7" r="0.65"/><circle cx="220.6" cy="225.7" r="0.65"/><circle cx="222.5" cy="225.7" r="0.65"/><circle cx="224.4" cy="227.16" r="0.65"/><circle cx="226.3" cy="219.16" r="0.65"/><circle cx="228.2" cy="207.99" r="0.65"/><circle cx="230.1" cy="209.29" r="0.65"/><circle cx="232" cy="210.64" r="0.65"/><circle cx="233.9" cy="211.95" r="0.65"/><circle cx="235.8" cy="213.16" r="0.65"/><circle cx="237.7" cy="214.26" r="0.65"/><circle cx="239.6" cy="215.22" r="0.65"/><circle cx="241.5" cy="215.99" r="0.65"/><circle cx="243.4" cy="216.5" r="0.65"/><circle cx="245.3" cy="216.73" r="0.65"/><circle cx="247.2" cy="216.69" r="0.65"/><circle cx="249.1" cy="216.39" r="0.65"/><circle cx="251" cy="216.03" r="0.65"/><circle cx="252.9" cy="215.77" r="0.65"/><circle cx="254.8" cy="215.81" r="0.65"/><circle cx="256.7" cy="216.33" r="0.65"/><circle cx="258.6" cy="217.28" r="0.65"/><circle cx="260.5" cy="218.55" r="0.65"/><circle cx="262.4" cy="219.97" r="0.65"/><circle cx="264.3" cy="221.33" r="0.65"/><circle cx="266.2" cy="222.5" r="0.65"/><circle cx="268.1" cy="223.44" r="0.65"/><circle cx="270" cy="224.12" r="0.65"/><circle cx="271.9" cy="224.6" r="0.65"/><circle cx="273.8" cy="224.95" r="0.65"/><circle cx="275.7" cy="225.21" r="0.65"/><circle cx="277.6" cy="225.41" r="0.65"/><circle cx="279.5" cy="225.58" r="0.65"/><circle cx="281.4" cy="225.73" r="0.65"/><circle cx="283.3" cy="225.86" r="0.65"/><circle cx="285.2" cy="225.97" r="0.65"/><circle cx="287.1" cy="226.08" r="0.65"/><circle cx="289" cy="226.17" r="0.65"/><circle cx="290.9" cy="226.26" r="0.65"/><circle cx="292.8" cy="226.34" r="0.65"/><circle cx="294.7" cy="226.41" r="0.65"/><circle cx="296.6" cy="226.47" r="0.65"/><circle cx="298.5" cy="226.52" r="0.65"/><circle cx="300.4" cy="226.57" r="0.65"/><circle cx="302.3" cy="226.62" r="0.65"/></g>
<polyline points="205.4,225.7 206.4,225.7 207.4,225.7 208.4,225.7 209.4,225.7 210.4,225.7 211.4,225.7 212.4,225.7 213.4,225.7 214.4,225.7 215.4,225.7 216.4,225.7 217.4,225.7 218.4,225.7 219.4,225.7 220.4,225.7 221.4,225.7 222.4,225.7 223.4,225.7 224.14,225.7 224.4,226.05 225.4,227.43 225.64,227.77 226.4,222.4 227.4,215.29 228.4,208.19 229.18,202.67 229.4,202.94 230.4,204.14 230.68,204.47 231.4,205.39 232.18,206.37 232.4,206.65 233.4,207.87 233.68,208.21 234.4,209.04 235.18,209.94 235.4,210.18 236.4,211.25 236.68,211.55 237.4,212.27 238.18,213.05 238.4,213.25 239.4,214.17 239.68,214.43 240.4,215.03 241.18,215.69 241.4,215.86 242.4,216.63 242.68,216.84 243.4,217.35 244.18,217.9 244.4,218.04 245.4,218.68 245.68,218.86 246.4,219.28 247.18,219.73 247.4,219.85 248.4,220.38 248.68,220.52 249.4,220.87 250.18,221.24 250.4,221.33 251.4,221.77 251.68,221.89 252.4,222.17 253.18,222.47 253.4,222.55 254.4,222.9 254.68,223 255.4,223.23 256.18,223.47 256.4,223.54 257.4,223.82 257.68,223.9 258.4,224.09 259.18,224.29 259.4,224.34 260.4,224.57 260.68,224.64 261.4,224.79 262.18,224.95 262.4,224.99 263.4,225.17 263.68,225.23 264.4,225.35 265.18,225.48 265.4,225.51 266.4,225.66 266.68,225.7 267.4,225.8 268.18,225.9 268.4,225.93 269.4,226.05 269.68,226.08 270.4,226.16 271.18,226.25 271.4,226.27 272.4,226.36 272.68,226.39 273.4,226.45 274.18,226.52 274.4,226.54 275.4,226.61 275.68,226.63 276.4,226.68 277.18,226.74 277.4,226.75 278.4,226.81 278.68,226.83 279.4,226.87 280.18,226.91 280.4,226.92 281.4,226.97 281.68,226.98 282.4,227.01 283.18,227.05 283.4,227.06 284.4,227.1 284.68,227.11 285.4,227.13 286.18,227.16 286.4,227.16 287.4,227.19 287.68,227.2 288.4,227.22 289.18,227.24 289.4,227.25 290.4,227.27 290.68,227.28 291.4,227.3 292.18,227.31 292.4,227.32 293.4,227.34 293.68,227.34 294.4,227.35 295.18,227.37 295.4,227.37 296.4,227.39 296.68,227.39 297.4,227.4 298.18,227.41 298.4,227.41 299.4,227.42 299.68,227.43 300.4,227.44 301.18,227.44 301.4,227.45 302.4,227.46 302.68,227.46 303,227.46" fill="none" stroke="#2f6cff" stroke-width="0.6" stroke-linejoin="round" stroke-linecap="round" />
<g fill="#2f6cff"><circle cx="205.4" cy="225.7" r="0.65"/><circle cx="207.3" cy="225.7" r="0.65"/><circle cx="209.2" cy="225.7" r="0.65"/><circle cx="211.1" cy="225.7" r="0.65"/><circle cx="213" cy="225.7" r="0.65"/><circle cx="214.9" cy="225.7" r="0.65"/><circle cx="216.8" cy="225.7" r="0.65"/><circle cx="218.7" cy="225.7" r="0.65"/><circle cx="220.6" cy="225.7" r="0.65"/><circle cx="222.5" cy="225.7" r="0.65"/><circle cx="224.4" cy="226.05" r="0.65"/><circle cx="226.3" cy="223.11" r="0.65"/><circle cx="228.2" cy="209.61" r="0.65"/><circle cx="230.1" cy="203.78" r="0.65"/><circle cx="232" cy="206.15" r="0.65"/><circle cx="233.9" cy="208.46" r="0.65"/><circle cx="235.8" cy="210.61" r="0.65"/><circle cx="237.7" cy="212.57" r="0.65"/><circle cx="239.6" cy="214.35" r="0.65"/><circle cx="241.5" cy="215.94" r="0.65"/><circle cx="243.4" cy="217.35" r="0.65"/><circle cx="245.3" cy="218.62" r="0.65"/><circle cx="247.2" cy="219.74" r="0.65"/><circle cx="249.1" cy="220.72" r="0.65"/><circle cx="251" cy="221.59" r="0.65"/><circle cx="252.9" cy="222.36" r="0.65"/><circle cx="254.8" cy="223.04" r="0.65"/><circle cx="256.7" cy="223.62" r="0.65"/><circle cx="258.6" cy="224.14" r="0.65"/><circle cx="260.5" cy="224.59" r="0.65"/><circle cx="262.4" cy="224.99" r="0.65"/><circle cx="264.3" cy="225.33" r="0.65"/><circle cx="266.2" cy="225.63" r="0.65"/><circle cx="268.1" cy="225.89" r="0.65"/><circle cx="270" cy="226.12" r="0.65"/><circle cx="271.9" cy="226.31" r="0.65"/><circle cx="273.8" cy="226.49" r="0.65"/><circle cx="275.7" cy="226.63" r="0.65"/><circle cx="277.6" cy="226.76" r="0.65"/><circle cx="279.5" cy="226.87" r="0.65"/><circle cx="281.4" cy="226.97" r="0.65"/><circle cx="283.3" cy="227.05" r="0.65"/><circle cx="285.2" cy="227.12" r="0.65"/><circle cx="287.1" cy="227.19" r="0.65"/><circle cx="289" cy="227.24" r="0.65"/><circle cx="290.9" cy="227.29" r="0.65"/><circle cx="292.8" cy="227.33" r="0.65"/><circle cx="294.7" cy="227.36" r="0.65"/><circle cx="296.6" cy="227.39" r="0.65"/><circle cx="298.5" cy="227.41" r="0.65"/><circle cx="300.4" cy="227.44" r="0.65"/><circle cx="302.3" cy="227.45" r="0.65"/></g>
<polyline points="205.4,225.7 206.4,225.7 207.4,225.7 208.4,225.7 209.4,225.7 210.4,225.7 211.4,225.7 212.4,225.7 213.4,225.7 214.4,225.7 215.4,225.7 216.4,225.7 217.4,225.7 218.4,225.7 219.4,225.7 220.4,225.7 221.4,225.7 222.4,225.7 223.4,225.7 223.58,225.7 224.4,226.85 225.08,227.8 225.4,227.43 226.4,226.26 227.08,225.46 227.4,223.98 228.4,219.31 229.4,214.63 230.4,209.96 231.03,207.01 231.4,207.47 232.4,208.72 232.53,208.88 233.4,210.01 234.03,210.83 234.4,211.28 235.4,212.51 235.53,212.67 236.4,213.66 237.03,214.38 237.4,214.77 238.4,215.81 238.53,215.95 239.4,216.77 240.03,217.37 240.4,217.68 241.4,218.54 241.53,218.65 242.4,219.32 243.03,219.81 243.4,220.06 244.4,220.75 244.53,220.84 245.4,221.38 246.03,221.77 246.4,221.97 247.4,222.52 247.53,222.6 248.4,223.02 249.03,223.33 249.4,223.49 250.4,223.93 250.53,223.98 251.4,224.32 252.03,224.56 252.4,224.69 253.4,225.03 253.53,225.08 254.4,225.34 255.03,225.53 255.4,225.63 256.4,225.89 256.53,225.93 257.4,226.13 258.03,226.28 258.4,226.36 259.4,226.57 259.53,226.59 260.4,226.75 261.03,226.87 261.4,226.93 262.4,227.09 262.53,227.11 263.4,227.23 264.03,227.32 264.4,227.37 265.4,227.49 265.53,227.51 266.4,227.6 267.03,227.67 267.4,227.7 268.4,227.8 268.53,227.81 269.4,227.88 270.03,227.94 270.4,227.96 271.4,228.04 271.53,228.05 272.4,228.1 273.03,228.14 273.4,228.16 274.4,228.22 274.53,228.23 275.4,228.27 276.03,228.3 276.4,228.31 277.4,228.36 277.53,228.36 278.4,228.39 279.03,228.42 279.4,228.43 280.4,228.46 280.53,228.47 281.4,228.49 282.03,228.51 282.4,228.52 283.4,228.54 283.53,228.55 284.4,228.56 285.03,228.58 285.4,228.58 286.4,228.6 286.53,228.61 287.4,228.62 288.03,228.63 288.4,228.64 289.4,228.65 289.53,228.65 290.4,228.66 291.03,228.67 291.4,228.67 292.4,228.68 292.53,228.69 293.4,228.69 294.03,228.7 294.4,228.7 295.4,228.71 295.53,228.71 296.4,228.72 297.03,228.72 297.4,228.72 298.4,228.73 298.53,228.73 299.4,228.74 300.03,228.74 300.4,228.74 301.4,228.75 301.53,228.75 302.4,228.75 303,228.75" fill="none" stroke="#ff8a50" stroke-width="0.6" stroke-linejoin="round" stroke-linecap="round" />
<g fill="#ff8a50"><circle cx="205.4" cy="225.7" r="0.65"/><circle cx="207.3" cy="225.7" r="0.65"/><circle cx="209.2" cy="225.7" r="0.65"/><circle cx="211.1" cy="225.7" r="0.65"/><circle cx="213" cy="225.7" r="0.65"/><circle cx="214.9" cy="225.7" r="0.65"/><circle cx="216.8" cy="225.7" r="0.65"/><circle cx="218.7" cy="225.7" r="0.65"/><circle cx="220.6" cy="225.7" r="0.65"/><circle cx="222.5" cy="225.7" r="0.65"/><circle cx="224.4" cy="226.85" r="0.65"/><circle cx="226.3" cy="226.38" r="0.65"/><circle cx="228.2" cy="220.24" r="0.65"/><circle cx="230.1" cy="211.36" r="0.65"/><circle cx="232" cy="208.22" r="0.65"/><circle cx="233.9" cy="210.66" r="0.65"/><circle cx="235.8" cy="212.98" r="0.65"/><circle cx="237.7" cy="215.08" r="0.65"/><circle cx="239.6" cy="216.96" r="0.65"/><circle cx="241.5" cy="218.63" r="0.65"/><circle cx="243.4" cy="220.06" r="0.65"/><circle cx="245.3" cy="221.32" r="0.65"/><circle cx="247.2" cy="222.41" r="0.65"/><circle cx="249.1" cy="223.36" r="0.65"/><circle cx="251" cy="224.16" r="0.65"/><circle cx="252.9" cy="224.86" r="0.65"/><circle cx="254.8" cy="225.46" r="0.65"/><circle cx="256.7" cy="225.97" r="0.65"/><circle cx="258.6" cy="226.4" r="0.65"/><circle cx="260.5" cy="226.77" r="0.65"/><circle cx="262.4" cy="227.09" r="0.65"/><circle cx="264.3" cy="227.35" r="0.65"/><circle cx="266.2" cy="227.58" r="0.65"/><circle cx="268.1" cy="227.77" r="0.65"/><circle cx="270" cy="227.93" r="0.65"/><circle cx="271.9" cy="228.07" r="0.65"/><circle cx="273.8" cy="228.18" r="0.65"/><circle cx="275.7" cy="228.28" r="0.65"/><circle cx="277.6" cy="228.36" r="0.65"/><circle cx="279.5" cy="228.43" r="0.65"/><circle cx="281.4" cy="228.49" r="0.65"/><circle cx="283.3" cy="228.54" r="0.65"/><circle cx="285.2" cy="228.58" r="0.65"/><circle cx="287.1" cy="228.61" r="0.65"/><circle cx="289" cy="228.64" r="0.65"/><circle cx="290.9" cy="228.67" r="0.65"/><circle cx="292.8" cy="228.69" r="0.65"/><circle cx="294.7" cy="228.7" r="0.65"/><circle cx="296.6" cy="228.72" r="0.65"/><circle cx="298.5" cy="228.73" r="0.65"/><circle cx="300.4" cy="228.74" r="0.65"/><circle cx="302.3" cy="228.75" r="0.65"/></g>
<polyline points="205.4,225.7 206.4,225.7 207.4,225.7 208.4,225.7 209.4,225.7 210.4,225.7 211.4,225.7 212.4,225.7 213.4,225.7 214.4,225.7 215.4,225.7 216.4,225.7 217.4,225.7 218.4,225.7 219.4,225.7 220.4,225.7 221.4,225.7 222.4,225.7 223.4,225.7 223.86,225.7 224.4,226.57 225.36,228.11 225.4,227.75 226.4,218.86 227.4,209.97 227.45,209.49 228.4,210 228.95,210.3 229.4,210.57 230.4,211.16 230.45,211.19 231.4,211.76 231.95,212.08 232.4,212.34 233.4,212.92 233.45,212.96 234.4,213.49 234.95,213.8 235.4,214.04 236.4,214.58 236.45,214.61 237.4,215.1 237.95,215.39 238.4,215.61 239.4,216.11 239.45,216.13 240.4,216.58 240.95,216.84 241.4,217.04 242.4,217.49 242.45,217.51 243.4,217.91 243.95,218.15 244.4,218.33 245.4,218.73 245.45,218.75 246.4,219.11 246.95,219.33 247.4,219.49 248.4,219.85 248.45,219.87 249.4,220.19 249.95,220.38 250.4,220.52 251.4,220.84 251.45,220.86 252.4,221.14 252.95,221.31 253.4,221.44 254.4,221.72 254.45,221.74 255.4,221.99 255.95,222.14 256.4,222.25 257.4,222.5 257.45,222.51 258.4,222.74 258.95,222.87 259.4,222.97 260.4,223.19 260.45,223.2 261.4,223.4 261.95,223.51 262.4,223.6 263.4,223.8 263.45,223.81 264.4,223.98 264.95,224.08 265.4,224.16 266.4,224.33 266.45,224.34 267.4,224.49 267.95,224.58 268.4,224.65 269.4,224.8 269.45,224.81 270.4,224.94 270.95,225.02 271.4,225.08 272.4,225.21 272.45,225.22 273.4,225.34 273.95,225.4 274.4,225.46 275.4,225.57 275.45,225.58 276.4,225.68 276.95,225.74 277.4,225.78 278.4,225.89 278.45,225.89 279.4,225.98 279.95,226.03 280.4,226.07 281.4,226.16 281.45,226.16 282.4,226.24 282.95,226.29 283.4,226.32 284.4,226.4 284.45,226.4 285.4,226.47 285.95,226.51 286.4,226.54 287.4,226.61 287.45,226.61 288.4,226.67 288.95,226.71 289.4,226.73 290.4,226.79 290.45,226.79 291.4,226.84 291.95,226.87 292.4,226.9 293.4,226.95 293.45,226.95 294.4,226.99 294.95,227.02 295.4,227.04 296.4,227.08 296.45,227.09 297.4,227.13 297.95,227.15 298.4,227.16 299.4,227.2 299.45,227.21 300.4,227.24 300.95,227.26 301.4,227.27 302.4,227.31 302.45,227.31 303,227.33" fill="none" stroke="#ff3a1e" stroke-width="0.6" stroke-linejoin="round" stroke-linecap="round" />
<g fill="#ff3a1e"><circle cx="205.4" cy="225.7" r="0.65"/><circle cx="207.3" cy="225.7" r="0.65"/><circle cx="209.2" cy="225.7" r="0.65"/><circle cx="211.1" cy="225.7" r="0.65"/><circle cx="213" cy="225.7" r="0.65"/><circle cx="214.9" cy="225.7" r="0.65"/><circle cx="216.8" cy="225.7" r="0.65"/><circle cx="218.7" cy="225.7" r="0.65"/><circle cx="220.6" cy="225.7" r="0.65"/><circle cx="222.5" cy="225.7" r="0.65"/><circle cx="224.4" cy="226.57" r="0.65"/><circle cx="226.3" cy="219.75" r="0.65"/><circle cx="228.2" cy="209.89" r="0.65"/><circle cx="230.1" cy="210.98" r="0.65"/><circle cx="232" cy="212.11" r="0.65"/><circle cx="233.9" cy="213.21" r="0.65"/><circle cx="235.8" cy="214.26" r="0.65"/><circle cx="237.7" cy="215.26" r="0.65"/><circle cx="239.6" cy="216.2" r="0.65"/><circle cx="241.5" cy="217.08" r="0.65"/><circle cx="243.4" cy="217.91" r="0.65"/><circle cx="245.3" cy="218.69" r="0.65"/><circle cx="247.2" cy="219.41" r="0.65"/><circle cx="249.1" cy="220.08" r="0.65"/><circle cx="251" cy="220.71" r="0.65"/><circle cx="252.9" cy="221.29" r="0.65"/><circle cx="254.8" cy="221.83" r="0.65"/><circle cx="256.7" cy="222.32" r="0.65"/><circle cx="258.6" cy="222.79" r="0.65"/><circle cx="260.5" cy="223.21" r="0.65"/><circle cx="262.4" cy="223.6" r="0.65"/><circle cx="264.3" cy="223.96" r="0.65"/><circle cx="266.2" cy="224.3" r="0.65"/><circle cx="268.1" cy="224.6" r="0.65"/><circle cx="270" cy="224.89" r="0.65"/><circle cx="271.9" cy="225.15" r="0.65"/><circle cx="273.8" cy="225.38" r="0.65"/><circle cx="275.7" cy="225.6" r="0.65"/><circle cx="277.6" cy="225.8" r="0.65"/><circle cx="279.5" cy="225.99" r="0.65"/><circle cx="281.4" cy="226.16" r="0.65"/><circle cx="283.3" cy="226.31" r="0.65"/><circle cx="285.2" cy="226.46" r="0.65"/><circle cx="287.1" cy="226.59" r="0.65"/><circle cx="289" cy="226.71" r="0.65"/><circle cx="290.9" cy="226.82" r="0.65"/><circle cx="292.8" cy="226.92" r="0.65"/><circle cx="294.7" cy="227.01" r="0.65"/><circle cx="296.6" cy="227.09" r="0.65"/><circle cx="298.5" cy="227.17" r="0.65"/><circle cx="300.4" cy="227.24" r="0.65"/><circle cx="302.3" cy="227.3" r="0.65"/></g>
<polyline points="205.4,225.7 206.4,225.7 207.4,225.7 208.4,225.7 209.4,225.7 210.4,225.7 211.4,225.7 212.4,225.7 213.4,225.7 214.4,225.7 215.4,225.7 216.4,225.7 217.4,225.7 218.4,225.7 219.4,225.7 220.4,225.7 221.4,225.7 222.4,225.7 223.17,225.7 223.4,225.95 224.4,227.01 224.67,227.29 225.4,222.97 226.4,217.05 227.4,211.13 228.26,206.04 228.4,206.15 229.4,206.92 229.76,207.2 230.4,207.73 231.26,208.45 231.4,208.56 232.4,209.38 232.76,209.68 233.4,210.18 234.26,210.86 234.4,210.97 235.4,211.72 235.76,211.99 236.4,212.44 237.26,213.05 237.4,213.15 238.4,213.82 238.76,214.06 239.4,214.46 240.26,215 240.4,215.08 241.4,215.67 241.76,215.88 242.4,216.23 243.26,216.71 243.4,216.78 244.4,217.29 244.76,217.47 245.4,217.78 246.26,218.18 246.4,218.25 247.4,218.69 247.76,218.85 248.4,219.11 249.26,219.46 249.4,219.51 250.4,219.89 250.76,220.03 251.4,220.25 252.26,220.56 252.4,220.6 253.4,220.93 253.76,221.04 254.4,221.24 255.26,221.49 255.4,221.53 256.4,221.81 256.76,221.91 257.4,222.07 258.26,222.29 258.4,222.32 259.4,222.56 259.76,222.64 260.4,222.78 261.26,222.97 261.4,223 262.4,223.2 262.76,223.27 263.4,223.39 264.26,223.54 264.4,223.57 265.4,223.74 265.76,223.8 266.4,223.89 267.26,224.03 267.4,224.05 268.4,224.19 268.76,224.24 269.4,224.33 270.26,224.44 270.4,224.45 271.4,224.57 271.76,224.62 272.4,224.69 273.26,224.78 273.4,224.8 274.4,224.9 274.76,224.93 275.4,224.99 276.26,225.07 276.4,225.08 277.4,225.17 277.76,225.2 278.4,225.25 279.26,225.32 279.4,225.33 280.4,225.4 280.76,225.42 281.4,225.46 282.26,225.52 282.4,225.53 283.4,225.59 283.76,225.61 284.4,225.64 285.26,225.69 285.4,225.7 286.4,225.75 286.76,225.76 287.4,225.79 288.26,225.83 288.4,225.84 289.4,225.88 289.76,225.89 290.4,225.92 291.26,225.95 291.4,225.96 292.4,225.99 292.76,226 293.4,226.02 294.26,226.05 294.4,226.05 295.4,226.08 295.76,226.09 296.4,226.11 297.26,226.13 297.4,226.14 298.4,226.16 298.76,226.17 299.4,226.18 300.26,226.2 300.4,226.2 301.4,226.22 301.76,226.23 302.4,226.24 303,226.25" fill="none" stroke="#23318f" stroke-width="0.6" stroke-linejoin="round" stroke-linecap="round" />
<g fill="#23318f"><circle cx="205.4" cy="225.7" r="0.65"/><circle cx="207.3" cy="225.7" r="0.65"/><circle cx="209.2" cy="225.7" r="0.65"/><circle cx="211.1" cy="225.7" r="0.65"/><circle cx="213" cy="225.7" r="0.65"/><circle cx="214.9" cy="225.7" r="0.65"/><circle cx="216.8" cy="225.7" r="0.65"/><circle cx="218.7" cy="225.7" r="0.65"/><circle cx="220.6" cy="225.7" r="0.65"/><circle cx="222.5" cy="225.7" r="0.65"/><circle cx="224.4" cy="227.01" r="0.65"/><circle cx="226.3" cy="217.64" r="0.65"/><circle cx="228.2" cy="206.4" r="0.65"/><circle cx="230.1" cy="207.48" r="0.65"/><circle cx="232" cy="209.06" r="0.65"/><circle cx="233.9" cy="210.58" r="0.65"/><circle cx="235.8" cy="212.02" r="0.65"/><circle cx="237.7" cy="213.35" r="0.65"/><circle cx="239.6" cy="214.59" r="0.65"/><circle cx="241.5" cy="215.73" r="0.65"/><circle cx="243.4" cy="216.78" r="0.65"/><circle cx="245.3" cy="217.73" r="0.65"/><circle cx="247.2" cy="218.6" r="0.65"/><circle cx="249.1" cy="219.4" r="0.65"/><circle cx="251" cy="220.11" r="0.65"/><circle cx="252.9" cy="220.76" r="0.65"/><circle cx="254.8" cy="221.36" r="0.65"/><circle cx="256.7" cy="221.89" r="0.65"/><circle cx="258.6" cy="222.37" r="0.65"/><circle cx="260.5" cy="222.8" r="0.65"/><circle cx="262.4" cy="223.2" r="0.65"/><circle cx="264.3" cy="223.55" r="0.65"/><circle cx="266.2" cy="223.86" r="0.65"/><circle cx="268.1" cy="224.15" r="0.65"/><circle cx="270" cy="224.4" r="0.65"/><circle cx="271.9" cy="224.63" r="0.65"/><circle cx="273.8" cy="224.84" r="0.65"/><circle cx="275.7" cy="225.02" r="0.65"/><circle cx="277.6" cy="225.19" r="0.65"/><circle cx="279.5" cy="225.33" r="0.65"/><circle cx="281.4" cy="225.46" r="0.65"/><circle cx="283.3" cy="225.58" r="0.65"/><circle cx="285.2" cy="225.69" r="0.65"/><circle cx="287.1" cy="225.78" r="0.65"/><circle cx="289" cy="225.86" r="0.65"/><circle cx="290.9" cy="225.94" r="0.65"/><circle cx="292.8" cy="226" r="0.65"/><circle cx="294.7" cy="226.06" r="0.65"/><circle cx="296.6" cy="226.12" r="0.65"/><circle cx="298.5" cy="226.16" r="0.65"/><circle cx="300.4" cy="226.2" r="0.65"/><circle cx="302.3" cy="226.24" r="0.65"/></g>
<polyline points="205.4,225.7 206.4,225.7 207.4,225.7 208.4,225.7 209.4,225.7 210.4,225.7 211.4,225.7 212.4,225.7 213.4,225.7 214.4,225.7 215.4,225.7 216.4,225.7 217.4,225.7 218.4,225.7 219.4,225.7 220.4,225.7 221.4,225.7 222.4,225.7 223.03,225.7 223.4,226.27 224.4,227.8 224.53,228 225.4,215.67 226.4,201.48 226.42,201.19 227.4,202.19 227.92,202.72 228.4,203.24 229.4,204.33 229.42,204.35 230.4,205.4 230.92,205.95 231.4,206.45 232.4,207.47 232.42,207.49 233.4,208.44 233.92,208.94 234.4,209.38 235.4,210.29 235.42,210.31 236.4,211.15 236.92,211.59 237.4,211.98 238.4,212.78 238.42,212.79 239.4,213.52 239.92,213.91 240.4,214.24 241.4,214.93 241.42,214.94 242.4,215.57 242.92,215.9 243.4,216.18 244.4,216.77 244.42,216.79 245.4,217.32 245.92,217.61 246.4,217.85 247.4,218.35 247.42,218.36 248.4,218.82 248.92,219.06 249.4,219.26 250.4,219.69 250.42,219.7 251.4,220.08 251.92,220.29 252.4,220.46 253.4,220.82 253.42,220.83 254.4,221.15 254.92,221.32 255.4,221.47 256.4,221.77 256.42,221.78 257.4,222.05 257.92,222.19 258.4,222.32 259.4,222.57 259.42,222.58 260.4,222.8 260.92,222.93 261.4,223.03 262.4,223.24 262.42,223.25 263.4,223.44 263.92,223.54 264.4,223.62 265.4,223.8 265.42,223.8 266.4,223.96 266.92,224.05 267.4,224.12 268.4,224.27 268.42,224.27 269.4,224.4 269.92,224.47 270.4,224.53 271.4,224.65 271.42,224.66 272.4,224.77 272.92,224.82 273.4,224.87 274.4,224.98 274.42,224.98 275.4,225.07 275.92,225.12 276.4,225.16 277.4,225.24 277.42,225.24 278.4,225.32 278.92,225.36 279.4,225.39 280.4,225.46 280.42,225.47 281.4,225.53 281.92,225.56 282.4,225.59 283.4,225.65 283.42,225.65 284.4,225.7 284.92,225.73 285.4,225.75 286.4,225.8 286.42,225.8 287.4,225.84 287.92,225.86 288.4,225.88 289.4,225.92 289.42,225.92 290.4,225.96 290.92,225.98 291.4,225.99 292.4,226.02 292.42,226.02 293.4,226.05 293.92,226.07 294.4,226.08 295.4,226.11 295.42,226.11 296.4,226.13 296.92,226.15 297.4,226.16 298.4,226.18 298.42,226.18 299.4,226.2 299.92,226.21 300.4,226.22 301.4,226.23 301.42,226.23 302.4,226.25 302.92,226.26 303,226.26" fill="none" stroke="#ff5a2a" stroke-width="0.6" stroke-linejoin="round" stroke-linecap="round" />
<g fill="#ff5a2a"><circle cx="205.4" cy="225.7" r="0.65"/><circle cx="207.3" cy="225.7" r="0.65"/><circle cx="209.2" cy="225.7" r="0.65"/><circle cx="211.1" cy="225.7" r="0.65"/><circle cx="213" cy="225.7" r="0.65"/><circle cx="214.9" cy="225.7" r="0.65"/><circle cx="216.8" cy="225.7" r="0.65"/><circle cx="218.7" cy="225.7" r="0.65"/><circle cx="220.6" cy="225.7" r="0.65"/><circle cx="222.5" cy="225.7" r="0.65"/><circle cx="224.4" cy="227.8" r="0.65"/><circle cx="226.3" cy="202.9" r="0.65"/><circle cx="228.2" cy="203.02" r="0.65"/><circle cx="230.1" cy="205.08" r="0.65"/><circle cx="232" cy="207.06" r="0.65"/><circle cx="233.9" cy="208.92" r="0.65"/><circle cx="235.8" cy="210.64" r="0.65"/><circle cx="237.7" cy="212.22" r="0.65"/><circle cx="239.6" cy="213.67" r="0.65"/><circle cx="241.5" cy="214.99" r="0.65"/><circle cx="243.4" cy="216.18" r="0.65"/><circle cx="245.3" cy="217.27" r="0.65"/><circle cx="247.2" cy="218.25" r="0.65"/><circle cx="249.1" cy="219.13" r="0.65"/><circle cx="251" cy="219.92" r="0.65"/><circle cx="252.9" cy="220.64" r="0.65"/><circle cx="254.8" cy="221.28" r="0.65"/><circle cx="256.7" cy="221.86" r="0.65"/><circle cx="258.6" cy="222.37" r="0.65"/><circle cx="260.5" cy="222.83" r="0.65"/><circle cx="262.4" cy="223.24" r="0.65"/><circle cx="264.3" cy="223.6" r="0.65"/><circle cx="266.2" cy="223.93" r="0.65"/><circle cx="268.1" cy="224.22" r="0.65"/><circle cx="270" cy="224.48" r="0.65"/><circle cx="271.9" cy="224.71" r="0.65"/><circle cx="273.8" cy="224.91" r="0.65"/><circle cx="275.7" cy="225.1" r="0.65"/><circle cx="277.6" cy="225.26" r="0.65"/><circle cx="279.5" cy="225.4" r="0.65"/><circle cx="281.4" cy="225.53" r="0.65"/><circle cx="283.3" cy="225.64" r="0.65"/><circle cx="285.2" cy="225.74" r="0.65"/><circle cx="287.1" cy="225.83" r="0.65"/><circle cx="289" cy="225.91" r="0.65"/><circle cx="290.9" cy="225.98" r="0.65"/><circle cx="292.8" cy="226.04" r="0.65"/><circle cx="294.7" cy="226.09" r="0.65"/><circle cx="296.6" cy="226.14" r="0.65"/><circle cx="298.5" cy="226.18" r="0.65"/><circle cx="300.4" cy="226.22" r="0.65"/><circle cx="302.3" cy="226.25" r="0.65"/></g>
<polyline points="205.4,225.7 206.4,225.7 207.4,225.7 208.4,225.7 209.4,225.7 210.4,225.7 211.4,225.7 212.4,225.7 213.4,225.7 214.4,225.7 215.4,225.7 216.4,225.7 217.4,225.7 218.4,225.7 219.4,225.7 220.4,225.7 221.4,225.7 222.4,225.7 223.4,225.7 224.1,225.7 224.4,226.07 225.4,227.29 225.6,227.53 226.4,222.17 227.4,215.51 228.4,208.85 229.05,204.52 229.4,204.92 230.4,206.06 230.55,206.23 231.4,207.25 232.05,208.02 232.4,208.42 233.4,209.56 233.55,209.73 234.4,210.64 235.05,211.34 235.4,211.68 236.4,212.67 236.55,212.81 237.4,213.58 238.05,214.17 238.4,214.46 239.4,215.29 239.55,215.41 240.4,216.05 241.05,216.53 241.4,216.77 242.4,217.45 242.55,217.55 243.4,218.07 244.05,218.47 244.4,218.66 245.4,219.22 245.55,219.3 246.4,219.72 247.05,220.04 247.4,220.2 248.4,220.65 248.55,220.71 249.4,221.05 250.05,221.31 250.4,221.44 251.4,221.79 251.55,221.85 252.4,222.12 253.05,222.33 253.4,222.43 254.4,222.71 254.55,222.75 255.4,222.97 256.05,223.14 256.4,223.22 257.4,223.44 257.55,223.48 258.4,223.65 259.05,223.78 259.4,223.84 260.4,224.02 260.55,224.05 261.4,224.18 262.05,224.29 262.4,224.34 263.4,224.48 263.55,224.5 264.4,224.6 265.05,224.69 265.4,224.73 266.4,224.84 266.55,224.85 267.4,224.94 268.05,225 268.4,225.03 269.4,225.12 269.55,225.13 270.4,225.2 271.05,225.25 271.4,225.27 272.4,225.34 272.55,225.35 273.4,225.4 274.05,225.44 274.4,225.46 275.4,225.51 275.55,225.52 276.4,225.56 277.05,225.59 277.4,225.6 278.4,225.65 278.55,225.65 279.4,225.68 280.05,225.71 280.4,225.72 281.4,225.75 281.55,225.75 282.4,225.78 283.05,225.8 283.4,225.81 284.4,225.83 284.55,225.83 285.4,225.85 286.05,225.87 286.4,225.87 287.4,225.89 287.55,225.9 288.4,225.91 289.05,225.92 289.4,225.93 290.4,225.94 290.55,225.94 291.4,225.96 292.05,225.96 292.4,225.97 293.4,225.98 293.55,225.98 294.4,225.99 295.05,226 295.4,226 296.4,226.01 296.55,226.01 297.4,226.02 298.05,226.02 298.4,226.02 299.4,226.03 299.55,226.03 300.4,226.04 301.05,226.04 301.4,226.04 302.4,226.05 302.55,226.05 303,226.05" fill="none" stroke="#23318f" stroke-width="0.6" stroke-linejoin="round" stroke-linecap="round" />
<g fill="#23318f"><circle cx="205.4" cy="225.7" r="0.65"/><circle cx="207.3" cy="225.7" r="0.65"/><circle cx="209.2" cy="225.7" r="0.65"/><circle cx="211.1" cy="225.7" r="0.65"/><circle cx="213" cy="225.7" r="0.65"/><circle cx="214.9" cy="225.7" r="0.65"/><circle cx="216.8" cy="225.7" r="0.65"/><circle cx="218.7" cy="225.7" r="0.65"/><circle cx="220.6" cy="225.7" r="0.65"/><circle cx="222.5" cy="225.7" r="0.65"/><circle cx="224.4" cy="226.07" r="0.65"/><circle cx="226.3" cy="222.83" r="0.65"/><circle cx="228.2" cy="210.18" r="0.65"/><circle cx="230.1" cy="205.72" r="0.65"/><circle cx="232" cy="207.96" r="0.65"/><circle cx="233.9" cy="210.11" r="0.65"/><circle cx="235.8" cy="212.08" r="0.65"/><circle cx="237.7" cy="213.86" r="0.65"/><circle cx="239.6" cy="215.45" r="0.65"/><circle cx="241.5" cy="216.84" r="0.65"/><circle cx="243.4" cy="218.07" r="0.65"/><circle cx="245.3" cy="219.16" r="0.65"/><circle cx="247.2" cy="220.11" r="0.65"/><circle cx="249.1" cy="220.93" r="0.65"/><circle cx="251" cy="221.65" r="0.65"/><circle cx="252.9" cy="222.28" r="0.65"/><circle cx="254.8" cy="222.82" r="0.65"/><circle cx="256.7" cy="223.28" r="0.65"/><circle cx="258.6" cy="223.69" r="0.65"/><circle cx="260.5" cy="224.04" r="0.65"/><circle cx="262.4" cy="224.34" r="0.65"/><circle cx="264.3" cy="224.59" r="0.65"/><circle cx="266.2" cy="224.81" r="0.65"/><circle cx="268.1" cy="225" r="0.65"/><circle cx="270" cy="225.17" r="0.65"/><circle cx="271.9" cy="225.3" r="0.65"/><circle cx="273.8" cy="225.42" r="0.65"/><circle cx="275.7" cy="225.53" r="0.65"/><circle cx="277.6" cy="225.61" r="0.65"/><circle cx="279.5" cy="225.69" r="0.65"/><circle cx="281.4" cy="225.75" r="0.65"/><circle cx="283.3" cy="225.8" r="0.65"/><circle cx="285.2" cy="225.85" r="0.65"/><circle cx="287.1" cy="225.89" r="0.65"/><circle cx="289" cy="225.92" r="0.65"/><circle cx="290.9" cy="225.95" r="0.65"/><circle cx="292.8" cy="225.97" r="0.65"/><circle cx="294.7" cy="225.99" r="0.65"/><circle cx="296.6" cy="226.01" r="0.65"/><circle cx="298.5" cy="226.02" r="0.65"/><circle cx="300.4" cy="226.04" r="0.65"/><circle cx="302.3" cy="226.05" r="0.65"/></g>
<polyline points="205.4,225.7 206.4,225.7 207.4,225.7 208.4,225.7 209.4,225.7 210.4,225.7 211.4,225.7 212.4,225.7 213.4,225.7 214.4,225.7 215.4,225.7 216.4,225.7 217.4,225.7 218.4,225.7 219.4,225.7 220.4,225.7 221.4,225.7 222.4,225.7 223.26,225.7 223.4,225.93 224.4,227.59 224.76,228.2 225.4,223.26 226.4,215.51 227.19,209.36 227.4,209.41 228.4,209.66 228.69,209.73 229.4,209.97 230.19,210.24 230.4,210.29 231.4,210.57 231.69,210.65 232.4,210.78 233.19,210.93 233.4,210.95 234.4,211.05 234.69,211.08 235.4,211.08 236.19,211.09 236.4,211.08 237.4,211.03 237.69,211.01 238.4,210.96 239.19,210.9 239.4,210.89 240.4,210.85 240.69,210.84 241.4,210.88 242.19,210.93 242.4,210.97 243.4,211.17 243.69,211.22 244.4,211.48 245.19,211.77 245.4,211.88 246.4,212.41 246.69,212.56 247.4,213.02 248.19,213.54 248.4,213.69 249.4,214.43 249.69,214.64 250.4,215.17 251.19,215.77 251.4,215.91 252.4,216.63 252.69,216.84 253.4,217.3 254.19,217.81 254.4,217.92 255.4,218.47 255.69,218.64 256.4,218.96 257.19,219.33 257.4,219.4 258.4,219.78 258.69,219.89 259.4,220.1 260.19,220.34 260.4,220.4 261.4,220.65 261.69,220.72 262.4,220.87 263.19,221.04 263.4,221.08 264.4,221.26 264.69,221.32 265.4,221.44 266.19,221.57 266.4,221.6 267.4,221.75 267.69,221.8 268.4,221.9 269.19,222.01 269.4,222.04 270.4,222.17 270.69,222.21 271.4,222.3 272.19,222.4 272.4,222.42 273.4,222.54 273.69,222.57 274.4,222.65 275.19,222.74 275.4,222.76 276.4,222.86 276.69,222.89 277.4,222.96 278.19,223.04 278.4,223.06 279.4,223.15 279.69,223.17 280.4,223.24 281.19,223.3 281.4,223.32 282.4,223.4 282.69,223.43 283.4,223.48 284.19,223.54 284.4,223.55 285.4,223.63 285.69,223.65 286.4,223.7 287.19,223.75 287.4,223.76 288.4,223.83 288.69,223.84 289.4,223.89 290.19,223.93 290.4,223.94 291.4,224 291.69,224.02 292.4,224.05 293.19,224.1 293.4,224.11 294.4,224.16 294.69,224.17 295.4,224.2 296.19,224.24 296.4,224.25 297.4,224.29 297.69,224.3 298.4,224.33 299.19,224.37 299.4,224.37 300.4,224.41 300.69,224.42 301.4,224.45 302.19,224.48 302.4,224.48 303,224.51" fill="none" stroke="#ff3a1e" stroke-width="0.6" stroke-linejoin="round" stroke-linecap="round" />
<g fill="#ff3a1e"><circle cx="205.4" cy="225.7" r="0.65"/><circle cx="207.3" cy="225.7" r="0.65"/><circle cx="209.2" cy="225.7" r="0.65"/><circle cx="211.1" cy="225.7" r="0.65"/><circle cx="213" cy="225.7" r="0.65"/><circle cx="214.9" cy="225.7" r="0.65"/><circle cx="216.8" cy="225.7" r="0.65"/><circle cx="218.7" cy="225.7" r="0.65"/><circle cx="220.6" cy="225.7" r="0.65"/><circle cx="222.5" cy="225.7" r="0.65"/><circle cx="224.4" cy="227.59" r="0.65"/><circle cx="226.3" cy="216.28" r="0.65"/><circle cx="228.2" cy="209.61" r="0.65"/><circle cx="230.1" cy="210.21" r="0.65"/><circle cx="232" cy="210.71" r="0.65"/><circle cx="233.9" cy="211" r="0.65"/><circle cx="235.8" cy="211.09" r="0.65"/><circle cx="237.7" cy="211.01" r="0.65"/><circle cx="239.6" cy="210.88" r="0.65"/><circle cx="241.5" cy="210.89" r="0.65"/><circle cx="243.4" cy="211.17" r="0.65"/><circle cx="245.3" cy="211.83" r="0.65"/><circle cx="247.2" cy="212.89" r="0.65"/><circle cx="249.1" cy="214.21" r="0.65"/><circle cx="251" cy="215.62" r="0.65"/><circle cx="252.9" cy="216.97" r="0.65"/><circle cx="254.8" cy="218.14" r="0.65"/><circle cx="256.7" cy="219.1" r="0.65"/><circle cx="258.6" cy="219.85" r="0.65"/><circle cx="260.5" cy="220.42" r="0.65"/><circle cx="262.4" cy="220.87" r="0.65"/><circle cx="264.3" cy="221.25" r="0.65"/><circle cx="266.2" cy="221.57" r="0.65"/><circle cx="268.1" cy="221.86" r="0.65"/><circle cx="270" cy="222.12" r="0.65"/><circle cx="271.9" cy="222.36" r="0.65"/><circle cx="273.8" cy="222.58" r="0.65"/><circle cx="275.7" cy="222.79" r="0.65"/><circle cx="277.6" cy="222.98" r="0.65"/><circle cx="279.5" cy="223.16" r="0.65"/><circle cx="281.4" cy="223.32" r="0.65"/><circle cx="283.3" cy="223.47" r="0.65"/><circle cx="285.2" cy="223.61" r="0.65"/><circle cx="287.1" cy="223.74" r="0.65"/><circle cx="289" cy="223.86" r="0.65"/><circle cx="290.9" cy="223.97" r="0.65"/><circle cx="292.8" cy="224.08" r="0.65"/><circle cx="294.7" cy="224.17" r="0.65"/><circle cx="296.6" cy="224.26" r="0.65"/><circle cx="298.5" cy="224.34" r="0.65"/><circle cx="300.4" cy="224.41" r="0.65"/><circle cx="302.3" cy="224.48" r="0.65"/></g>
<polyline points="205.4,225.7 206.4,225.7 207.4,225.7 208.4,225.7 209.4,225.7 210.4,225.7 211.4,225.7 212.4,225.7 213.4,225.7 214.4,225.7 215.4,225.7 216.4,225.7 217.4,225.7 218.4,225.7 219.4,225.7 220.4,225.7 221.4,225.7 222.4,225.7 223.4,225.7 223.56,225.7 224.4,227.4 225.06,228.74 225.4,225.52 226.4,216.02 227.4,206.53 228.02,200.6 228.4,201.19 229.4,202.76 229.52,202.95 230.4,204.38 231.02,205.4 231.4,205.94 232.4,207.39 232.52,207.57 233.4,208.64 234.02,209.41 234.4,209.78 235.4,210.76 235.52,210.88 236.4,211.54 237.02,212.01 237.4,212.21 238.4,212.75 238.52,212.82 239.4,213.14 240.02,213.38 240.4,213.48 241.4,213.76 241.52,213.79 242.4,214.02 243.02,214.18 243.4,214.29 244.4,214.6 244.52,214.64 245.4,215 246.02,215.26 246.4,215.47 247.4,216.02 247.52,216.09 248.4,216.68 249.02,217.11 249.4,217.4 250.4,218.17 250.52,218.27 251.4,218.97 252.02,219.48 252.4,219.77 253.4,220.56 253.52,220.66 254.4,221.28 255.02,221.73 255.4,221.95 256.4,222.56 256.52,222.64 257.4,223.07 258.02,223.38 258.4,223.52 259.4,223.9 259.52,223.95 260.4,224.19 261.02,224.37 261.4,224.45 262.4,224.65 262.52,224.68 263.4,224.81 264.02,224.9 264.4,224.94 265.4,225.05 265.52,225.07 266.4,225.14 267.02,225.19 267.4,225.21 268.4,225.28 268.52,225.29 269.4,225.33 270.02,225.36 270.4,225.38 271.4,225.42 271.52,225.42 272.4,225.45 273.02,225.47 273.4,225.49 274.4,225.51 274.52,225.52 275.4,225.54 276.02,225.55 276.4,225.56 277.4,225.58 277.52,225.59 278.4,225.6 279.02,225.61 279.4,225.62 280.4,225.63 280.52,225.63 281.4,225.65 282.02,225.65 282.4,225.66 283.4,225.67 283.52,225.67 284.4,225.68 285.02,225.68 285.4,225.69 286.4,225.69 286.52,225.69 287.4,225.7 288.02,225.7 288.4,225.71 289.4,225.71 289.52,225.71 290.4,225.72 291.02,225.72 291.4,225.72 292.4,225.73 292.52,225.73 293.4,225.73 294.02,225.73 294.4,225.73 295.4,225.73 295.52,225.73 296.4,225.74 297.02,225.74 297.4,225.74 298.4,225.74 298.52,225.74 299.4,225.74 300.02,225.74 300.4,225.74 301.4,225.75 301.52,225.75 302.4,225.75 303,225.75" fill="none" stroke="#4d8dff" stroke-width="0.6" stroke-linejoin="round" stroke-linecap="round" />
<g fill="#4d8dff"><circle cx="205.4" cy="225.7" r="0.65"/><circle cx="207.3" cy="225.7" r="0.65"/><circle cx="209.2" cy="225.7" r="0.65"/><circle cx="211.1" cy="225.7" r="0.65"/><circle cx="213" cy="225.7" r="0.65"/><circle cx="214.9" cy="225.7" r="0.65"/><circle cx="216.8" cy="225.7" r="0.65"/><circle cx="218.7" cy="225.7" r="0.65"/><circle cx="220.6" cy="225.7" r="0.65"/><circle cx="222.5" cy="225.7" r="0.65"/><circle cx="224.4" cy="227.4" r="0.65"/><circle cx="226.3" cy="216.97" r="0.65"/><circle cx="228.2" cy="200.88" r="0.65"/><circle cx="230.1" cy="203.89" r="0.65"/><circle cx="232" cy="206.81" r="0.65"/><circle cx="233.9" cy="209.26" r="0.65"/><circle cx="235.8" cy="211.09" r="0.65"/><circle cx="237.7" cy="212.37" r="0.65"/><circle cx="239.6" cy="213.22" r="0.65"/><circle cx="241.5" cy="213.79" r="0.65"/><circle cx="243.4" cy="214.29" r="0.65"/><circle cx="245.3" cy="214.96" r="0.65"/><circle cx="247.2" cy="215.91" r="0.65"/><circle cx="249.1" cy="217.17" r="0.65"/><circle cx="251" cy="218.65" r="0.65"/><circle cx="252.9" cy="220.17" r="0.65"/><circle cx="254.8" cy="221.57" r="0.65"/><circle cx="256.7" cy="222.73" r="0.65"/><circle cx="258.6" cy="223.59" r="0.65"/><circle cx="260.5" cy="224.22" r="0.65"/><circle cx="262.4" cy="224.65" r="0.65"/><circle cx="264.3" cy="224.93" r="0.65"/><circle cx="266.2" cy="225.12" r="0.65"/><circle cx="268.1" cy="225.26" r="0.65"/><circle cx="270" cy="225.36" r="0.65"/><circle cx="271.9" cy="225.44" r="0.65"/><circle cx="273.8" cy="225.5" r="0.65"/><circle cx="275.7" cy="225.55" r="0.65"/><circle cx="277.6" cy="225.59" r="0.65"/><circle cx="279.5" cy="225.62" r="0.65"/><circle cx="281.4" cy="225.65" r="0.65"/><circle cx="283.3" cy="225.67" r="0.65"/><circle cx="285.2" cy="225.68" r="0.65"/><circle cx="287.1" cy="225.7" r="0.65"/><circle cx="289" cy="225.71" r="0.65"/><circle cx="290.9" cy="225.72" r="0.65"/><circle cx="292.8" cy="225.73" r="0.65"/><circle cx="294.7" cy="225.73" r="0.65"/><circle cx="296.6" cy="225.74" r="0.65"/><circle cx="298.5" cy="225.74" r="0.65"/><circle cx="300.4" cy="225.74" r="0.65"/><circle cx="302.3" cy="225.75" r="0.65"/></g>
<line x1="205.4" y1="205.46" x2="309" y2="205.46" stroke="#2a2a2a" stroke-width="1.0" stroke-dasharray="1,1"/>
<text x="302.3" y="203.1" font-size="7" font-weight="bold" text-anchor="middle" stroke="#1c1c1c" stroke-width="0.28" textLength="51.8" lengthAdjust="spacingAndGlyphs" >Average Peak of</text>
<text x="301.6" y="211.3" font-size="7" font-weight="bold" text-anchor="middle" stroke="#1c1c1c" stroke-width="0.28" textLength="53.2" lengthAdjust="spacingAndGlyphs" >Responsive Cells</text>
<line x1="221.9" y1="232.7" x2="221.9" y2="240.4" stroke="#1c1c1c" stroke-width="1.4" />
<polygon points="219.6,234.7 224.2,234.7 221.9,229.7" fill="#1c1c1c" />
<text transform="translate(205,249.4) scale(1,1.04)" font-size="7.4" stroke="#1c1c1c" stroke-width="0.28" textLength="63.4" lengthAdjust="spacingAndGlyphs" >15 mM Denatonium</text>
<line x1="286.7" y1="234.2" x2="301.4" y2="234.2" stroke="#2a2a2a" stroke-width="1.3" />
<text transform="translate(284.4,242.6) scale(1,1.04)" font-size="7.4" stroke="#1c1c1c" stroke-width="0.28" textLength="17.6" lengthAdjust="spacingAndGlyphs" >1 min</text>
<text transform="translate(358.2,132.4) scale(1,1.04)" font-size="7.4" font-style="italic" stroke="#1c1c1c" stroke-width="0.28" >Beas-2B</text>
<text transform="translate(358.2,140.7) scale(1,1.04)" font-size="7.4" font-style="italic" stroke="#1c1c1c" stroke-width="0.28" textLength="64.5" lengthAdjust="spacingAndGlyphs" >15 mM Denatonium</text>
<text transform="translate(358.2,149) scale(1,1.04)" font-size="7.4" font-style="italic" stroke="#1c1c1c" stroke-width="0.28" textLength="80.8" lengthAdjust="spacingAndGlyphs" >Data from 4 experiments</text>
<text transform="translate(375.5,194.1) rotate(-90) scale(1,1.04)" text-anchor="middle" font-size="7.4" stroke="#1c1c1c" stroke-width="0.28" textLength="71.8" lengthAdjust="spacingAndGlyphs">Cells Responding (%)</text>
<line x1="396.9" y1="160.7" x2="396.9" y2="229.6" stroke="#1c1c1c" stroke-width="0.9" />
<line x1="393.9" y1="229.6" x2="396.9" y2="229.6" stroke="#1c1c1c" stroke-width="0.9" />
<text x="393.5" y="231.9" font-size="6.3" font-weight="bold" text-anchor="end" stroke="#1c1c1c" stroke-width="0.28" >0</text>
<line x1="393.9" y1="215.8" x2="396.9" y2="215.8" stroke="#1c1c1c" stroke-width="0.9" />
<text x="393.5" y="218.1" font-size="6.3" font-weight="bold" text-anchor="end" stroke="#1c1c1c" stroke-width="0.28" >25</text>
<line x1="393.9" y1="202" x2="396.9" y2="202" stroke="#1c1c1c" stroke-width="0.9" />
<text x="393.5" y="204.3" font-size="6.3" font-weight="bold" text-anchor="end" stroke="#1c1c1c" stroke-width="0.28" >50</text>
<line x1="393.9" y1="188.2" x2="396.9" y2="188.2" stroke="#1c1c1c" stroke-width="0.9" />
<text x="393.5" y="190.5" font-size="6.3" font-weight="bold" text-anchor="end" stroke="#1c1c1c" stroke-width="0.28" >75</text>
<line x1="393.9" y1="174.4" x2="396.9" y2="174.4" stroke="#1c1c1c" stroke-width="0.9" />
<text x="393.5" y="176.7" font-size="6.3" font-weight="bold" text-anchor="end" stroke="#1c1c1c" stroke-width="0.28" >100</text>
<line x1="393.9" y1="160.6" x2="396.9" y2="160.6" stroke="#1c1c1c" stroke-width="0.9" />
<text x="393.5" y="162.9" font-size="6.3" font-weight="bold" text-anchor="end" stroke="#1c1c1c" stroke-width="0.28" >125</text>
<line x1="396.9" y1="229.6" x2="442.5" y2="229.6" stroke="#1c1c1c" stroke-width="0.9" />
<line x1="410.1" y1="229.6" x2="410.1" y2="232.1" stroke="#1c1c1c" stroke-width="0.9" />
<line x1="429.6" y1="229.6" x2="429.6" y2="232.1" stroke="#1c1c1c" stroke-width="0.9" />
<line x1="410.1" y1="211.38" x2="410.1" y2="213.59" stroke="#8d72d8" stroke-width="0.9" />
<line x1="407.3" y1="211.38" x2="412.9" y2="211.38" stroke="#8d72d8" stroke-width="0.9" />
<rect x="404.27" y="213.67" width="11.65" height="15.93" fill="#2c1b5e" stroke="#8d72d8" stroke-width="0.75"/>
<line x1="429.6" y1="174.4" x2="429.6" y2="174.95" stroke="#22c4ff" stroke-width="0.9" />
<line x1="426.8" y1="174.4" x2="432.4" y2="174.4" stroke="#22c4ff" stroke-width="0.9" />
<rect x="423.75" y="175.3" width="11.7" height="54.3" fill="#1d55f2" stroke="#22c4ff" stroke-width="1.3"/>
<text x="429.6" y="173" font-size="8.6" font-weight="bold" text-anchor="middle" stroke="#1c1c1c" stroke-width="0.28" >****</text>
<text transform="translate(354.8,246.6) scale(1,1.04)" font-size="7.4" stroke="#1c1c1c" stroke-width="0.28" textLength="44.2" lengthAdjust="spacingAndGlyphs" >1×-MEM AA's:</text>
<text transform="translate(410.1,246.2) scale(1,1.04)" font-size="7.4" text-anchor="middle" stroke="#1c1c1c" stroke-width="0.28" >–</text>
<text transform="translate(429.6,246.6) scale(1,1.04)" font-size="7.4" text-anchor="middle" stroke="#1c1c1c" stroke-width="0.28" >+</text>
<text transform="translate(461,193) rotate(-90) scale(1,1.04)" text-anchor="middle" font-size="7.4" stroke="#1c1c1c" stroke-width="0.28" >Peak Fluo-8 F/F<tspan dy="1.8" font-size="5">0</tspan><tspan dy="-1.8"> per</tspan></text>
<text transform="translate(471.3,192.1) rotate(-90) scale(1,1.04)" text-anchor="middle" font-size="7.4" stroke="#1c1c1c" stroke-width="0.28" >Responsive Cell</text>
<text transform="translate(479.4,192) rotate(-90) scale(1,1.04)" text-anchor="middle" font-size="7.4" stroke="#1c1c1c" stroke-width="0.28" >(Normalized to Control)</text>
<line x1="497.6" y1="159.4" x2="497.6" y2="228.3" stroke="#1c1c1c" stroke-width="0.9" />
<line x1="494.6" y1="228.3" x2="497.6" y2="228.3" stroke="#1c1c1c" stroke-width="0.9" />
<text x="494.2" y="230.6" font-size="6.3" font-weight="bold" text-anchor="end" stroke="#1c1c1c" stroke-width="0.28" >0</text>
<line x1="494.6" y1="214.52" x2="497.6" y2="214.52" stroke="#1c1c1c" stroke-width="0.9" />
<text x="494.2" y="216.82" font-size="6.3" font-weight="bold" text-anchor="end" stroke="#1c1c1c" stroke-width="0.28" >25</text>
<line x1="494.6" y1="200.74" x2="497.6" y2="200.74" stroke="#1c1c1c" stroke-width="0.9" />
<text x="494.2" y="203.04" font-size="6.3" font-weight="bold" text-anchor="end" stroke="#1c1c1c" stroke-width="0.28" >50</text>
<line x1="494.6" y1="186.96" x2="497.6" y2="186.96" stroke="#1c1c1c" stroke-width="0.9" />
<text x="494.2" y="189.26" font-size="6.3" font-weight="bold" text-anchor="end" stroke="#1c1c1c" stroke-width="0.28" >75</text>
<line x1="494.6" y1="173.18" x2="497.6" y2="173.18" stroke="#1c1c1c" stroke-width="0.9" />
<text x="494.2" y="175.48" font-size="6.3" font-weight="bold" text-anchor="end" stroke="#1c1c1c" stroke-width="0.28" >100</text>
<line x1="494.6" y1="159.4" x2="497.6" y2="159.4" stroke="#1c1c1c" stroke-width="0.9" />
<text x="494.2" y="161.7" font-size="6.3" font-weight="bold" text-anchor="end" stroke="#1c1c1c" stroke-width="0.28" >125</text>
<line x1="497.6" y1="228.3" x2="537" y2="228.3" stroke="#1c1c1c" stroke-width="0.9" />
<line x1="510.4" y1="228.3" x2="510.4" y2="230.8" stroke="#1c1c1c" stroke-width="0.9" />
<line x1="530.1" y1="228.3" x2="530.1" y2="230.8" stroke="#1c1c1c" stroke-width="0.9" />
<line x1="510.4" y1="170.7" x2="510.4" y2="173.73" stroke="#8d72d8" stroke-width="0.9" />
<line x1="507.6" y1="170.7" x2="513.2" y2="170.7" stroke="#8d72d8" stroke-width="0.9" />
<rect x="504.57" y="173.81" width="11.65" height="54.49" fill="#2c1b5e" stroke="#8d72d8" stroke-width="0.75"/>
<line x1="530.1" y1="196.61" x2="530.1" y2="198.54" stroke="#22c4ff" stroke-width="0.9" />
<line x1="527.3" y1="196.61" x2="532.9" y2="196.61" stroke="#22c4ff" stroke-width="0.9" />
<rect x="523.95" y="198.89" width="12.3" height="29.41" fill="#1d55f2" stroke="#22c4ff" stroke-width="1.3"/>
<text x="529.8" y="195.6" font-size="8.6" font-weight="bold" text-anchor="middle" stroke="#1c1c1c" stroke-width="0.28" >****</text>
<text transform="translate(452.8,244.2) scale(1,1.04)" font-size="7.4" stroke="#1c1c1c" stroke-width="0.28" textLength="44.9" lengthAdjust="spacingAndGlyphs" >1×-MEM AA's:</text>
<text transform="translate(510.4,243.8) scale(1,1.04)" font-size="7.4" text-anchor="middle" stroke="#1c1c1c" stroke-width="0.28" >–</text>
<text transform="translate(530.1,244.2) scale(1,1.04)" font-size="7.4" text-anchor="middle" stroke="#1c1c1c" stroke-width="0.28" >+</text>
<text x="5.9" y="273" font-size="21" font-weight="bold" fill="#000" stroke="#000" stroke-width="0.28" >c</text>
<text transform="translate(68,266.9) scale(1,1.04)" font-size="7.4" font-style="italic" stroke="#1c1c1c" stroke-width="0.28" >Beas-2B</text>
<text transform="translate(68,276.8) scale(1,1.04)" font-size="7.4" font-style="italic" stroke="#1c1c1c" stroke-width="0.28" >0-Ca<tspan dy="-2.6" font-size="5">2+</tspan><tspan dy="2.6"> HBSS</tspan></text>
<text transform="translate(68,285.3) scale(1,1.04)" font-size="7.4" font-style="italic" stroke="#1c1c1c" stroke-width="0.28" textLength="64.7" lengthAdjust="spacingAndGlyphs" >15 mM Denatonium</text>
<text transform="translate(20.3,320) rotate(-90) scale(1,1.04)" text-anchor="middle" font-size="7.4" stroke="#1c1c1c" stroke-width="0.28" >Peak Fluo-8</text>
<text transform="translate(28.9,320) rotate(-90) scale(1,1.04)" text-anchor="middle" font-size="7.4" stroke="#1c1c1c" stroke-width="0.28" >Fluorescence</text>
<text transform="translate(37.3,320) rotate(-90) scale(1,1.04)" text-anchor="middle" font-size="7.4" stroke="#1c1c1c" stroke-width="0.28" >per Responsive Cell</text>
<text transform="translate(45.6,320) rotate(-90) scale(1,1.04)" text-anchor="middle" font-size="7.4" stroke="#1c1c1c" stroke-width="0.28" >(Normalized to Control)</text>
<line x1="67.3" y1="287.4" x2="67.3" y2="355.8" stroke="#1c1c1c" stroke-width="0.9" />
<line x1="64.3" y1="355.8" x2="67.3" y2="355.8" stroke="#1c1c1c" stroke-width="0.9" />
<text x="63.9" y="358.1" font-size="6.3" font-weight="bold" text-anchor="end" stroke="#1c1c1c" stroke-width="0.28" >0</text>
<line x1="64.3" y1="342.12" x2="67.3" y2="342.12" stroke="#1c1c1c" stroke-width="0.9" />
<text x="63.9" y="344.42" font-size="6.3" font-weight="bold" text-anchor="end" stroke="#1c1c1c" stroke-width="0.28" >25</text>
<line x1="64.3" y1="328.44" x2="67.3" y2="328.44" stroke="#1c1c1c" stroke-width="0.9" />
<text x="63.9" y="330.74" font-size="6.3" font-weight="bold" text-anchor="end" stroke="#1c1c1c" stroke-width="0.28" >50</text>
<line x1="64.3" y1="314.76" x2="67.3" y2="314.76" stroke="#1c1c1c" stroke-width="0.9" />
<text x="63.9" y="317.06" font-size="6.3" font-weight="bold" text-anchor="end" stroke="#1c1c1c" stroke-width="0.28" >75</text>
<line x1="64.3" y1="301.08" x2="67.3" y2="301.08" stroke="#1c1c1c" stroke-width="0.9" />
<text x="63.9" y="303.38" font-size="6.3" font-weight="bold" text-anchor="end" stroke="#1c1c1c" stroke-width="0.28" >100</text>
<line x1="64.3" y1="287.4" x2="67.3" y2="287.4" stroke="#1c1c1c" stroke-width="0.9" />
<text x="63.9" y="289.7" font-size="6.3" font-weight="bold" text-anchor="end" stroke="#1c1c1c" stroke-width="0.28" >125</text>
<line x1="67.3" y1="355.8" x2="112.7" y2="355.8" stroke="#1c1c1c" stroke-width="0.9" />
<line x1="80.6" y1="355.8" x2="80.6" y2="358.3" stroke="#1c1c1c" stroke-width="0.9" />
<line x1="99.8" y1="355.8" x2="99.8" y2="358.3" stroke="#1c1c1c" stroke-width="0.9" />
<line x1="80.65" y1="298.34" x2="80.65" y2="301.08" stroke="#8d72d8" stroke-width="0.9" />
<line x1="77.85" y1="298.34" x2="83.45" y2="298.34" stroke="#8d72d8" stroke-width="0.9" />
<rect x="74.78" y="301.16" width="11.75" height="54.64" fill="#2c1b5e" stroke="#8d72d8" stroke-width="0.75"/>
<line x1="99.8" y1="330.9" x2="99.8" y2="332.27" stroke="#22c4ff" stroke-width="0.9" />
<line x1="97" y1="330.9" x2="102.6" y2="330.9" stroke="#22c4ff" stroke-width="0.9" />
<rect x="93.65" y="332.62" width="12.3" height="23.18" fill="#1d55f2" stroke="#22c4ff" stroke-width="1.3"/>
<text x="99.8" y="330.4" font-size="8.6" font-weight="bold" text-anchor="middle" stroke="#1c1c1c" stroke-width="0.28" >****</text>
<text transform="translate(25,370) scale(1,1.04)" font-size="7.4" stroke="#1c1c1c" stroke-width="0.28" textLength="44.4" lengthAdjust="spacingAndGlyphs" >1×-MEM AA's:</text>
<text transform="translate(80.6,369.6) scale(1,1.04)" font-size="7.4" text-anchor="middle" stroke="#1c1c1c" stroke-width="0.28" >–</text>
<text transform="translate(99.8,370) scale(1,1.04)" font-size="7.4" text-anchor="middle" stroke="#1c1c1c" stroke-width="0.28" >+</text>
<text x="137.4" y="273.6" font-size="21" font-weight="bold" fill="#000" stroke="#000" stroke-width="0.28" >d</text>
<text transform="translate(181.2,274.8) scale(1,1.04)" font-size="7.4" font-style="italic" stroke="#1c1c1c" stroke-width="0.28" >Beas-2B</text>
<text transform="translate(167,310) rotate(-90) scale(1,1.04)" text-anchor="middle" font-size="7.4" stroke="#1c1c1c" stroke-width="0.28" >CellEvent Fluorescence (F/F<tspan dy="1.8" font-size="5">0</tspan><tspan dy="-1.8">)</tspan></text>
<line x1="179.6" y1="276.5" x2="179.6" y2="345" stroke="#1c1c1c" stroke-width="0.9" />
<line x1="176.6" y1="333.87" x2="179.6" y2="333.87" stroke="#1c1c1c" stroke-width="0.9" />
<text x="176.2" y="336.17" font-size="6.6" font-weight="bold" text-anchor="end" stroke="#1c1c1c" stroke-width="0.28" >2</text>
<line x1="176.6" y1="314.73" x2="179.6" y2="314.73" stroke="#1c1c1c" stroke-width="0.9" />
<text x="176.2" y="317.03" font-size="6.6" font-weight="bold" text-anchor="end" stroke="#1c1c1c" stroke-width="0.28" >4</text>
<line x1="176.6" y1="295.6" x2="179.6" y2="295.6" stroke="#1c1c1c" stroke-width="0.9" />
<text x="176.2" y="297.9" font-size="6.6" font-weight="bold" text-anchor="end" stroke="#1c1c1c" stroke-width="0.28" >6</text>
<line x1="176.6" y1="276.46" x2="179.6" y2="276.46" stroke="#1c1c1c" stroke-width="0.9" />
<text x="176.2" y="278.76" font-size="6.6" font-weight="bold" text-anchor="end" stroke="#1c1c1c" stroke-width="0.28" >8</text>
<line x1="179.6" y1="345" x2="283.6" y2="345" stroke="#1c1c1c" stroke-width="0.9" />
<line x1="179.6" y1="345" x2="179.6" y2="348.5" stroke="#1c1c1c" stroke-width="0.9" />
<text x="179.6" y="355.3" font-size="6.6" font-weight="bold" text-anchor="middle" stroke="#1c1c1c" stroke-width="0.28" >0</text>
<line x1="205.5" y1="345" x2="205.5" y2="348.5" stroke="#1c1c1c" stroke-width="0.9" />
<text x="205.5" y="355.3" font-size="6.6" font-weight="bold" text-anchor="middle" stroke="#1c1c1c" stroke-width="0.28" >4</text>
<line x1="231.4" y1="345" x2="231.4" y2="348.5" stroke="#1c1c1c" stroke-width="0.9" />
<text x="231.4" y="355.3" font-size="6.6" font-weight="bold" text-anchor="middle" stroke="#1c1c1c" stroke-width="0.28" >8</text>
<line x1="257.3" y1="345" x2="257.3" y2="348.5" stroke="#1c1c1c" stroke-width="0.9" />
<text x="257.3" y="355.3" font-size="6.6" font-weight="bold" text-anchor="middle" stroke="#1c1c1c" stroke-width="0.28" >12</text>
<line x1="283.2" y1="345" x2="283.2" y2="348.5" stroke="#1c1c1c" stroke-width="0.9" />
<text x="283.2" y="355.3" font-size="6.6" font-weight="bold" text-anchor="middle" stroke="#1c1c1c" stroke-width="0.28" >16</text>
<text transform="translate(231.5,365.8) scale(1,1.04)" font-size="7.4" stroke="#1c1c1c" stroke-width="0.28" textLength="33.5" lengthAdjust="spacingAndGlyphs" >Time (hrs)</text>
<polygon points="179.6,343.24 180.25,343.23 180.89,343.22 181.54,343.21 182.19,343.2 182.84,343.19 183.48,343.18 184.13,343.17 184.78,343.17 185.43,343.16 186.07,343.15 186.72,343.14 187.37,343.13 188.02,343.12 188.66,343.11 189.31,343.1 189.96,343.09 190.61,343.08 191.25,343.07 191.9,343.06 192.55,343.05 193.2,343 193.84,342.95 194.49,342.91 195.14,342.86 195.79,342.81 196.44,342.76 197.08,342.72 197.73,342.67 198.38,342.62 199.02,342.57 199.67,342.42 200.32,342.27 200.97,342.11 201.62,341.96 202.26,341.81 202.91,341.58 203.56,341.35 204.2,341.12 204.85,340.89 205.5,340.66 206.15,340.35 206.79,340.05 207.44,339.73 208.09,339.42 208.74,339.11 209.38,338.71 210.03,338.32 210.68,337.93 211.33,337.53 211.97,337.14 212.62,336.67 213.27,336.19 213.92,335.72 214.56,335.24 215.21,334.77 215.86,334.26 216.51,333.74 217.16,333.23 217.8,332.71 218.45,332.2 219.1,331.64 219.75,331.09 220.39,330.54 221.04,329.98 221.69,329.43 222.33,328.89 222.98,328.35 223.63,327.82 224.28,327.28 224.92,326.74 225.57,326.18 226.22,325.61 226.87,325.04 227.51,324.48 228.16,323.91 228.81,323.34 229.46,322.77 230.1,322.2 230.75,321.64 231.4,321.07 232.05,320.5 232.69,319.93 233.34,319.42 233.99,318.91 234.64,318.4 235.28,317.88 235.93,317.37 236.58,316.86 237.23,316.35 237.88,315.83 238.52,315.32 239.17,314.81 239.82,314.3 240.47,313.78 241.11,313.27 241.76,312.76 242.41,312.24 243.06,311.73 243.7,311.21 244.35,310.7 245,310.19 245.64,309.66 246.29,309.13 246.94,308.6 247.59,308.07 248.24,307.54 248.88,307.01 249.53,306.48 250.18,305.95 250.82,305.42 251.47,304.89 252.12,304.35 252.77,303.82 253.41,303.29 254.06,302.76 254.71,302.23 255.36,301.7 256,301.17 256.65,300.64 257.3,300.1 257.95,299.57 258.6,299.05 259.24,298.53 259.89,298.01 260.54,297.49 261.19,296.96 261.83,296.44 262.48,295.92 263.13,295.4 263.77,294.88 264.42,294.35 265.07,293.83 265.72,293.31 266.37,292.79 267.01,292.26 267.66,291.74 268.31,291.22 268.95,290.8 269.6,290.38 270.25,289.96 270.9,289.54 271.55,289.12 272.19,288.7 272.84,288.28 273.49,287.86 274.13,287.44 274.78,287.02 275.43,286.6 276.08,286.18 276.73,285.76 277.37,285.37 278.02,285 278.67,284.63 279.31,284.26 279.96,283.89 280.61,283.52 281.26,283.15 281.9,282.82 282.55,282.51 283.2,282.2 283.2,291.77 282.55,292.08 281.9,292.38 281.26,292.72 280.61,293.09 279.96,293.46 279.31,293.83 278.67,294.2 278.02,294.56 277.37,294.93 276.73,295.28 276.08,295.59 275.43,295.91 274.78,296.23 274.13,296.55 273.49,296.86 272.84,297.18 272.19,297.5 271.55,297.82 270.9,298.13 270.25,298.45 269.6,298.77 268.95,299.09 268.31,299.4 267.66,299.83 267.01,300.25 266.37,300.67 265.72,301.09 265.07,301.51 264.42,301.94 263.77,302.36 263.13,302.78 262.48,303.2 261.83,303.63 261.19,304.05 260.54,304.47 259.89,304.9 259.24,305.32 258.6,305.74 257.95,306.17 257.3,306.6 256.65,307.03 256,307.47 255.36,307.9 254.71,308.34 254.06,308.77 253.41,309.21 252.77,309.64 252.12,310.08 251.47,310.52 250.82,310.95 250.18,311.39 249.53,311.82 248.88,312.26 248.24,312.69 247.59,313.13 246.94,313.57 246.29,314 245.64,314.44 245,314.88 244.35,315.3 243.7,315.72 243.06,316.14 242.41,316.57 241.76,316.99 241.11,317.41 240.47,317.84 239.82,318.26 239.17,318.68 238.52,319.11 237.88,319.53 237.23,319.95 236.58,320.38 235.93,320.8 235.28,321.23 234.64,321.65 233.99,322.08 233.34,322.5 232.69,322.93 232.05,323.41 231.4,323.9 230.75,324.38 230.1,324.86 229.46,325.35 228.81,325.83 228.16,326.32 227.51,326.8 226.87,327.29 226.22,327.77 225.57,328.26 224.92,328.74 224.28,329.2 223.63,329.66 222.98,330.12 222.33,330.58 221.69,331.03 221.04,331.51 220.39,331.99 219.75,332.47 219.1,332.95 218.45,333.43 217.8,333.87 217.16,334.31 216.51,334.76 215.86,335.2 215.21,335.64 214.56,336.05 213.92,336.45 213.27,336.86 212.62,337.27 211.97,337.67 211.33,338.01 210.68,338.34 210.03,338.67 209.38,339.01 208.74,339.34 208.09,339.6 207.44,339.86 206.79,340.12 206.15,340.39 205.5,340.66 204.85,340.89 204.2,341.12 203.56,341.35 202.91,341.58 202.26,341.81 201.62,341.96 200.97,342.11 200.32,342.27 199.67,342.42 199.02,342.57 198.38,342.62 197.73,342.67 197.08,342.72 196.44,342.76 195.79,342.81 195.14,342.86 194.49,342.91 193.84,342.95 193.2,343 192.55,343.05 191.9,343.06 191.25,343.07 190.61,343.08 189.96,343.09 189.31,343.1 188.66,343.11 188.02,343.12 187.37,343.13 186.72,343.14 186.07,343.15 185.43,343.16 184.78,343.17 184.13,343.17 183.48,343.18 182.84,343.19 182.19,343.2 181.54,343.21 180.89,343.22 180.25,343.23 179.6,343.24" fill="#ffe6da" />
<polyline points="205.5,340.66 206.15,340.35 206.79,340.05 207.44,339.73 208.09,339.42 208.74,339.11 209.38,338.71 210.03,338.32 210.68,337.93 211.33,337.53 211.97,337.14 212.62,336.67 213.27,336.19 213.92,335.72 214.56,335.24 215.21,334.77 215.86,334.26 216.51,333.74 217.16,333.23 217.8,332.71 218.45,332.2 219.1,331.64 219.75,331.09 220.39,330.54 221.04,329.98 221.69,329.43 222.33,328.89 222.98,328.35 223.63,327.82 224.28,327.28 224.92,326.74 225.57,326.18 226.22,325.61 226.87,325.04 227.51,324.48 228.16,323.91 228.81,323.34 229.46,322.77 230.1,322.2 230.75,321.64 231.4,321.07 232.05,320.5 232.69,319.93 233.34,319.42 233.99,318.91 234.64,318.4 235.28,317.88 235.93,317.37 236.58,316.86 237.23,316.35 237.88,315.83 238.52,315.32 239.17,314.81 239.82,314.3 240.47,313.78 241.11,313.27 241.76,312.76 242.41,312.24 243.06,311.73 243.7,311.21 244.35,310.7 245,310.19 245.64,309.66 246.29,309.13 246.94,308.6 247.59,308.07 248.24,307.54 248.88,307.01 249.53,306.48 250.18,305.95 250.82,305.42 251.47,304.89 252.12,304.35 252.77,303.82 253.41,303.29 254.06,302.76 254.71,302.23 255.36,301.7 256,301.17 256.65,300.64 257.3,300.1 257.95,299.57 258.6,299.05 259.24,298.53 259.89,298.01 260.54,297.49 261.19,296.96 261.83,296.44 262.48,295.92 263.13,295.4 263.77,294.88 264.42,294.35 265.07,293.83 265.72,293.31 266.37,292.79 267.01,292.26 267.66,291.74 268.31,291.22 268.95,290.8 269.6,290.38 270.25,289.96 270.9,289.54 271.55,289.12 272.19,288.7 272.84,288.28 273.49,287.86 274.13,287.44 274.78,287.02 275.43,286.6 276.08,286.18 276.73,285.76 277.37,285.37 278.02,285 278.67,284.63 279.31,284.26 279.96,283.89 280.61,283.52 281.26,283.15 281.9,282.82 282.55,282.51 283.2,282.2" fill="none" stroke="#ffb08a" stroke-width="0.6" stroke-linejoin="round" stroke-linecap="round" />
<polyline points="205.5,340.66 206.15,340.39 206.79,340.12 207.44,339.86 208.09,339.6 208.74,339.34 209.38,339.01 210.03,338.67 210.68,338.34 211.33,338.01 211.97,337.67 212.62,337.27 213.27,336.86 213.92,336.45 214.56,336.05 215.21,335.64 215.86,335.2 216.51,334.76 217.16,334.31 217.8,333.87 218.45,333.43 219.1,332.95 219.75,332.47 220.39,331.99 221.04,331.51 221.69,331.03 222.33,330.58 222.98,330.12 223.63,329.66 224.28,329.2 224.92,328.74 225.57,328.26 226.22,327.77 226.87,327.29 227.51,326.8 228.16,326.32 228.81,325.83 229.46,325.35 230.1,324.86 230.75,324.38 231.4,323.9 232.05,323.41 232.69,322.93 233.34,322.5 233.99,322.08 234.64,321.65 235.28,321.23 235.93,320.8 236.58,320.38 237.23,319.95 237.88,319.53 238.52,319.11 239.17,318.68 239.82,318.26 240.47,317.84 241.11,317.41 241.76,316.99 242.41,316.57 243.06,316.14 243.7,315.72 244.35,315.3 245,314.88 245.64,314.44 246.29,314 246.94,313.57 247.59,313.13 248.24,312.69 248.88,312.26 249.53,311.82 250.18,311.39 250.82,310.95 251.47,310.52 252.12,310.08 252.77,309.64 253.41,309.21 254.06,308.77 254.71,308.34 255.36,307.9 256,307.47 256.65,307.03 257.3,306.6 257.95,306.17 258.6,305.74 259.24,305.32 259.89,304.9 260.54,304.47 261.19,304.05 261.83,303.63 262.48,303.2 263.13,302.78 263.77,302.36 264.42,301.94 265.07,301.51 265.72,301.09 266.37,300.67 267.01,300.25 267.66,299.83 268.31,299.4 268.95,299.09 269.6,298.77 270.25,298.45 270.9,298.13 271.55,297.82 272.19,297.5 272.84,297.18 273.49,296.86 274.13,296.55 274.78,296.23 275.43,295.91 276.08,295.59 276.73,295.28 277.37,294.93 278.02,294.56 278.67,294.2 279.31,293.83 279.96,293.46 280.61,293.09 281.26,292.72 281.9,292.38 282.55,292.08 283.2,291.77" fill="none" stroke="#ffb08a" stroke-width="0.6" stroke-linejoin="round" stroke-linecap="round" />
<line x1="211.97" y1="336.18" x2="211.97" y2="338.63" stroke="#ffb590" stroke-width="0.5" />
<line x1="215.21" y1="333.81" x2="215.21" y2="336.6" stroke="#ffb590" stroke-width="0.5" />
<line x1="218.45" y1="331.24" x2="218.45" y2="334.39" stroke="#ffb590" stroke-width="0.5" />
<line x1="221.69" y1="328.47" x2="221.69" y2="331.99" stroke="#ffb590" stroke-width="0.5" />
<line x1="224.92" y1="325.79" x2="224.92" y2="329.7" stroke="#ffb590" stroke-width="0.5" />
<line x1="228.16" y1="322.95" x2="228.16" y2="327.27" stroke="#ffb590" stroke-width="0.5" />
<line x1="231.4" y1="320.11" x2="231.4" y2="324.85" stroke="#ffb590" stroke-width="0.5" />
<line x1="234.64" y1="317.44" x2="234.64" y2="322.61" stroke="#ffb590" stroke-width="0.5" />
<line x1="237.88" y1="314.88" x2="237.88" y2="320.49" stroke="#ffb590" stroke-width="0.5" />
<line x1="241.11" y1="312.31" x2="241.11" y2="318.37" stroke="#ffb590" stroke-width="0.5" />
<line x1="244.35" y1="309.74" x2="244.35" y2="316.26" stroke="#ffb590" stroke-width="0.5" />
<line x1="247.59" y1="307.11" x2="247.59" y2="314.09" stroke="#ffb590" stroke-width="0.5" />
<line x1="250.82" y1="304.46" x2="250.82" y2="311.91" stroke="#ffb590" stroke-width="0.5" />
<line x1="254.06" y1="301.8" x2="254.06" y2="309.73" stroke="#ffb590" stroke-width="0.5" />
<line x1="257.3" y1="299.15" x2="257.3" y2="307.56" stroke="#ffb590" stroke-width="0.5" />
<line x1="260.54" y1="296.53" x2="260.54" y2="305.43" stroke="#ffb590" stroke-width="0.5" />
<line x1="263.77" y1="293.92" x2="263.77" y2="303.32" stroke="#ffb590" stroke-width="0.5" />
<line x1="267.01" y1="291.31" x2="267.01" y2="301.2" stroke="#ffb590" stroke-width="0.5" />
<line x1="270.25" y1="289" x2="270.25" y2="299.41" stroke="#ffb590" stroke-width="0.5" />
<line x1="273.49" y1="286.9" x2="273.49" y2="297.82" stroke="#ffb590" stroke-width="0.5" />
<line x1="276.73" y1="284.8" x2="276.73" y2="296.23" stroke="#ffb590" stroke-width="0.5" />
<line x1="279.96" y1="282.93" x2="279.96" y2="294.41" stroke="#ffb590" stroke-width="0.5" />
<line x1="283.2" y1="281.25" x2="283.2" y2="292.73" stroke="#ffb590" stroke-width="0.5" />
<polyline points="179.6,343.24 180.25,343.23 180.89,343.22 181.54,343.21 182.19,343.2 182.84,343.19 183.48,343.18 184.13,343.17 184.78,343.17 185.43,343.16 186.07,343.15 186.72,343.14 187.37,343.13 188.02,343.12 188.66,343.11 189.31,343.1 189.96,343.09 190.61,343.08 191.25,343.07 191.9,343.06 192.55,343.05 193.2,343 193.84,342.95 194.49,342.91 195.14,342.86 195.79,342.81 196.44,342.76 197.08,342.72 197.73,342.67 198.38,342.62 199.02,342.57 199.67,342.42 200.32,342.27 200.97,342.11 201.62,341.96 202.26,341.81 202.91,341.58 203.56,341.35 204.2,341.12 204.85,340.89 205.5,340.66 206.15,340.37 206.79,340.08 207.44,339.8 208.09,339.51 208.74,339.22 209.38,338.86 210.03,338.5 210.68,338.13 211.33,337.77 211.97,337.41 212.62,336.97 213.27,336.53 213.92,336.09 214.56,335.65 215.21,335.21 215.86,334.73 216.51,334.25 217.16,333.77 217.8,333.29 218.45,332.81 219.1,332.3 219.75,331.78 220.39,331.26 221.04,330.75 221.69,330.23 222.33,329.73 222.98,329.24 223.63,328.74 224.28,328.24 224.92,327.74 225.57,327.22 226.22,326.69 226.87,326.16 227.51,325.64 228.16,325.11 228.81,324.59 229.46,324.06 230.1,323.53 230.75,323.01 231.4,322.48 232.05,321.96 232.69,321.43 233.34,320.96 233.99,320.49 234.64,320.02 235.28,319.56 235.93,319.09 236.58,318.62 237.23,318.15 237.88,317.68 238.52,317.21 239.17,316.75 239.82,316.28 240.47,315.81 241.11,315.34 241.76,314.87 242.41,314.4 243.06,313.94 243.7,313.47 244.35,313 245,312.53 245.64,312.05 246.29,311.57 246.94,311.08 247.59,310.6 248.24,310.12 248.88,309.63 249.53,309.15 250.18,308.67 250.82,308.18 251.47,307.7 252.12,307.22 252.77,306.73 253.41,306.25 254.06,305.77 254.71,305.28 255.36,304.8 256,304.32 256.65,303.84 257.3,303.35 257.95,302.87 258.6,302.4 259.24,301.92 259.89,301.45 260.54,300.98 261.19,300.51 261.83,300.03 262.48,299.56 263.13,299.09 263.77,298.62 264.42,298.15 265.07,297.67 265.72,297.2 266.37,296.73 267.01,296.26 267.66,295.78 268.31,295.31 268.95,294.94 269.6,294.57 270.25,294.2 270.9,293.84 271.55,293.47 272.19,293.1 272.84,292.73 273.49,292.36 274.13,291.99 274.78,291.62 275.43,291.26 276.08,290.89 276.73,290.52 277.37,290.15 278.02,289.78 278.67,289.41 279.31,289.04 279.96,288.67 280.61,288.31 281.26,287.94 281.9,287.6 282.55,287.29 283.2,286.99" fill="none" stroke="#ff5a1a" stroke-width="1.3" stroke-linejoin="round" stroke-linecap="round" />
<polyline points="179.6,343.24 180.25,343.21 180.89,343.18 181.54,343.15 182.19,343.12 182.84,343.09 183.48,343.06 184.13,343.02 184.78,342.99 185.43,342.96 186.07,342.93 186.72,342.9 187.37,342.87 188.02,342.84 188.66,342.81 189.31,342.78 189.96,342.74 190.61,342.71 191.25,342.68 191.9,342.65 192.55,342.62 193.2,342.59 193.84,342.56 194.49,342.53 195.14,342.5 195.79,342.46 196.44,342.43 197.08,342.4 197.73,342.37 198.38,342.34 199.02,342.31 199.67,342.28 200.32,342.25 200.97,342.22 201.62,342.18 202.26,342.15 202.91,342.12 203.56,342.09 204.2,342.06 204.85,342.03 205.5,342 206.15,341.93 206.79,341.85 207.44,341.78 208.09,341.71 208.74,341.64 209.38,341.57 210.03,341.5 210.68,341.42 211.33,341.35 211.97,341.28 212.62,341.21 213.27,341.14 213.92,341.07 214.56,340.99 215.21,340.92 215.86,340.85 216.51,340.78 217.16,340.71 217.8,340.63 218.45,340.56 219.1,340.49 219.75,340.42 220.39,340.35 221.04,340.28 221.69,340.2 222.33,340.13 222.98,340.06 223.63,339.99 224.28,339.92 224.92,339.85 225.57,339.77 226.22,339.7 226.87,339.63 227.51,339.56 228.16,339.49 228.81,339.41 229.46,339.34 230.1,339.27 230.75,339.2 231.4,339.13 232.05,339.04 232.69,338.96 233.34,338.88 233.99,338.79 234.64,338.71 235.28,338.63 235.93,338.54 236.58,338.46 237.23,338.37 237.88,338.29 238.52,338.21 239.17,338.12 239.82,338.04 240.47,337.96 241.11,337.87 241.76,337.79 242.41,337.7 243.06,337.62 243.7,337.54 244.35,337.45 245,337.37 245.64,337.29 246.29,337.2 246.94,337.12 247.59,337.04 248.24,336.95 248.88,336.87 249.53,336.78 250.18,336.7 250.82,336.62 251.47,336.53 252.12,336.45 252.77,336.37 253.41,336.28 254.06,336.2 254.71,336.11 255.36,336.03 256,335.95 256.65,335.86 257.3,335.78 257.95,335.69 258.6,335.59 259.24,335.5 259.89,335.41 260.54,335.31 261.19,335.22 261.83,335.13 262.48,335.03 263.13,334.94 263.77,334.85 264.42,334.75 265.07,334.66 265.72,334.57 266.37,334.47 267.01,334.38 267.66,334.29 268.31,334.19 268.95,334.1 269.6,334.01 270.25,333.91 270.9,333.82 271.55,333.73 272.19,333.63 272.84,333.54 273.49,333.45 274.13,333.35 274.78,333.26 275.43,333.17 276.08,333.07 276.73,332.98 277.37,332.89 278.02,332.79 278.67,332.7 279.31,332.61 279.96,332.51 280.61,332.42 281.26,332.33 281.9,332.23 282.55,332.14 283.2,332.05" fill="none" stroke="#1e7a80" stroke-width="1.6" stroke-linejoin="round" stroke-linecap="round" />
<polyline points="179.6,343.24 180.25,343.22 180.89,343.19 181.54,343.17 182.19,343.15 182.84,343.12 183.48,343.1 184.13,343.07 184.78,343.05 185.43,343.03 186.07,343 186.72,342.98 187.37,342.95 188.02,342.93 188.66,342.91 189.31,342.88 189.96,342.86 190.61,342.84 191.25,342.81 191.9,342.79 192.55,342.76 193.2,342.74 193.84,342.72 194.49,342.69 195.14,342.67 195.79,342.64 196.44,342.62 197.08,342.6 197.73,342.57 198.38,342.55 199.02,342.52 199.67,342.5 200.32,342.48 200.97,342.45 201.62,342.43 202.26,342.4 202.91,342.38 203.56,342.36 204.2,342.33 204.85,342.31 205.5,342.28 206.15,342.22 206.79,342.15 207.44,342.08 208.09,342.02 208.74,341.95 209.38,341.88 210.03,341.82 210.68,341.75 211.33,341.68 211.97,341.62 212.62,341.55 213.27,341.48 213.92,341.41 214.56,341.35 215.21,341.28 215.86,341.21 216.51,341.15 217.16,341.08 217.8,341.01 218.45,340.95 219.1,340.88 219.75,340.81 220.39,340.74 221.04,340.68 221.69,340.61 222.33,340.54 222.98,340.48 223.63,340.41 224.28,340.34 224.92,340.28 225.57,340.21 226.22,340.14 226.87,340.07 227.51,340.01 228.16,339.94 228.81,339.87 229.46,339.81 230.1,339.74 230.75,339.67 231.4,339.61 232.05,339.53 232.69,339.45 233.34,339.38 233.99,339.3 234.64,339.22 235.28,339.15 235.93,339.07 236.58,338.99 237.23,338.92 237.88,338.84 238.52,338.76 239.17,338.69 239.82,338.61 240.47,338.53 241.11,338.46 241.76,338.38 242.41,338.31 243.06,338.23 243.7,338.15 244.35,338.08 245,338 245.64,337.92 246.29,337.85 246.94,337.77 247.59,337.69 248.24,337.62 248.88,337.54 249.53,337.46 250.18,337.39 250.82,337.31 251.47,337.23 252.12,337.16 252.77,337.08 253.41,337 254.06,336.93 254.71,336.85 255.36,336.77 256,336.7 256.65,336.62 257.3,336.54 257.95,336.46 258.6,336.38 259.24,336.29 259.89,336.21 260.54,336.13 261.19,336.04 261.83,335.96 262.48,335.88 263.13,335.79 263.77,335.71 264.42,335.62 265.07,335.54 265.72,335.46 266.37,335.37 267.01,335.29 267.66,335.21 268.31,335.12 268.95,335.04 269.6,334.95 270.25,334.87 270.9,334.79 271.55,334.7 272.19,334.62 272.84,334.54 273.49,334.45 274.13,334.37 274.78,334.28 275.43,334.2 276.08,334.12 276.73,334.03 277.37,333.95 278.02,333.87 278.67,333.78 279.31,333.7 279.96,333.61 280.61,333.53 281.26,333.45 281.9,333.36 282.55,333.28 283.2,333.2" fill="none" stroke="#1d55f2" stroke-width="2.8" stroke-linejoin="round" stroke-linecap="round" />
<polyline points="179.6,343.43 180.25,343.43 180.89,343.42 181.54,343.42 182.19,343.41 182.84,343.41 183.48,343.4 184.13,343.4 184.78,343.39 185.43,343.39 186.07,343.39 186.72,343.38 187.37,343.38 188.02,343.37 188.66,343.37 189.31,343.36 189.96,343.36 190.61,343.35 191.25,343.35 191.9,343.34 192.55,343.34 193.2,343.33 193.84,343.33 194.49,343.32 195.14,343.32 195.79,343.31 196.44,343.31 197.08,343.3 197.73,343.3 198.38,343.29 199.02,343.29 199.67,343.28 200.32,343.28 200.97,343.28 201.62,343.27 202.26,343.27 202.91,343.26 203.56,343.26 204.2,343.25 204.85,343.25 205.5,343.24 206.15,343.23 206.79,343.22 207.44,343.21 208.09,343.2 208.74,343.19 209.38,343.18 210.03,343.17 210.68,343.17 211.33,343.16 211.97,343.15 212.62,343.14 213.27,343.13 213.92,343.12 214.56,343.11 215.21,343.1 215.86,343.09 216.51,343.08 217.16,343.07 217.8,343.06 218.45,343.05 219.1,343.04 219.75,343.03 220.39,343.02 221.04,343.01 221.69,343 222.33,342.99 222.98,342.98 223.63,342.97 224.28,342.96 224.92,342.95 225.57,342.95 226.22,342.94 226.87,342.93 227.51,342.92 228.16,342.91 228.81,342.9 229.46,342.89 230.1,342.88 230.75,342.87 231.4,342.86 232.05,342.83 232.69,342.79 233.34,342.76 233.99,342.73 234.64,342.69 235.28,342.66 235.93,342.62 236.58,342.59 237.23,342.56 237.88,342.52 238.52,342.49 239.17,342.46 239.82,342.42 240.47,342.39 241.11,342.36 241.76,342.32 242.41,342.29 243.06,342.26 243.7,342.22 244.35,342.19 245,342.16 245.64,342.12 246.29,342.09 246.94,342.06 247.59,342.02 248.24,341.99 248.88,341.95 249.53,341.92 250.18,341.89 250.82,341.85 251.47,341.82 252.12,341.79 252.77,341.75 253.41,341.72 254.06,341.69 254.71,341.65 255.36,341.62 256,341.59 256.65,341.55 257.3,341.52 257.95,341.47 258.6,341.42 259.24,341.37 259.89,341.32 260.54,341.26 261.19,341.21 261.83,341.16 262.48,341.11 263.13,341.06 263.77,341.01 264.42,340.96 265.07,340.91 265.72,340.86 266.37,340.81 267.01,340.75 267.66,340.62 268.31,340.48 268.95,340.34 269.6,340.21 270.25,340.07 270.9,339.93 271.55,339.8 272.19,339.77 272.84,339.73 273.49,339.7 274.13,339.67 274.78,339.64 275.43,339.61 276.08,339.57 276.73,339.54 277.37,339.51 278.02,339.48 278.67,339.45 279.31,339.41 279.96,339.38 280.61,339.35 281.26,339.32 281.9,339.29 282.55,339.26 283.2,339.22" fill="none" stroke="#27165a" stroke-width="1.8" stroke-linejoin="round" stroke-linecap="round" />
<circle cx="293" cy="287.4" r="1.2" fill="#ff5a1a"/>
<circle cx="293" cy="323.6" r="1.2" fill="#1e7a80"/>
<circle cx="293" cy="340.4" r="1.2" fill="#1d55f2"/>
<circle cx="293" cy="350.4" r="1.2" fill="#27165a"/>
<text transform="translate(301,290.2) scale(1,1.04)" font-size="7.4" stroke="#1c1c1c" stroke-width="0.28" textLength="64" lengthAdjust="spacingAndGlyphs" >10 mM Denatonium</text>
<text transform="translate(301,326.4) scale(1,1.04)" font-size="7.4" stroke="#1c1c1c" stroke-width="0.28" textLength="70.6" lengthAdjust="spacingAndGlyphs" >10 mM Denatonium +</text>
<text transform="translate(301,334.8) scale(1,1.04)" font-size="7.4" stroke="#1c1c1c" stroke-width="0.28" textLength="39.4" lengthAdjust="spacingAndGlyphs" >1×-MEM AA</text>
<text transform="translate(301,343) scale(1,1.04)" font-size="7.4" stroke="#1c1c1c" stroke-width="0.28" textLength="39.4" lengthAdjust="spacingAndGlyphs" >1×-MEM AA</text>
<text transform="translate(301,352.6) scale(1,1.04)" font-size="7.4" stroke="#1c1c1c" stroke-width="0.28" textLength="57.8" lengthAdjust="spacingAndGlyphs" >Untreated Control</text>
<text transform="translate(439.6,274) scale(1,1.04)" font-size="7.4" font-style="italic" stroke="#1c1c1c" stroke-width="0.28" >Beas-2B</text>
<text transform="translate(397.2,307.1) rotate(-90) scale(1,1.04)" text-anchor="middle" font-size="7.4" stroke="#1c1c1c" stroke-width="0.28" >CellEvent</text>
<text transform="translate(405.6,307.1) rotate(-90) scale(1,1.04)" text-anchor="middle" font-size="7.4" stroke="#1c1c1c" stroke-width="0.28" >Fluorescence</text>
<text transform="translate(413.4,307.1) rotate(-90) scale(1,1.04)" text-anchor="middle" font-size="7.4" stroke="#1c1c1c" stroke-width="0.28" >(Normalized to Control)</text>
<line x1="438.3" y1="273.4" x2="438.3" y2="342.9" stroke="#1c1c1c" stroke-width="0.9" />
<line x1="435.3" y1="342.9" x2="438.3" y2="342.9" stroke="#1c1c1c" stroke-width="0.9" />
<text x="434.9" y="345.2" font-size="6.3" font-weight="bold" text-anchor="end" stroke="#1c1c1c" stroke-width="0.28" >0</text>
<line x1="435.3" y1="331.32" x2="438.3" y2="331.32" stroke="#1c1c1c" stroke-width="0.9" />
<text x="434.9" y="333.62" font-size="6.3" font-weight="bold" text-anchor="end" stroke="#1c1c1c" stroke-width="0.28" >100</text>
<line x1="435.3" y1="319.74" x2="438.3" y2="319.74" stroke="#1c1c1c" stroke-width="0.9" />
<text x="434.9" y="322.04" font-size="6.3" font-weight="bold" text-anchor="end" stroke="#1c1c1c" stroke-width="0.28" >200</text>
<line x1="435.3" y1="308.16" x2="438.3" y2="308.16" stroke="#1c1c1c" stroke-width="0.9" />
<text x="434.9" y="310.46" font-size="6.3" font-weight="bold" text-anchor="end" stroke="#1c1c1c" stroke-width="0.28" >300</text>
<line x1="435.3" y1="296.58" x2="438.3" y2="296.58" stroke="#1c1c1c" stroke-width="0.9" />
<text x="434.9" y="298.88" font-size="6.3" font-weight="bold" text-anchor="end" stroke="#1c1c1c" stroke-width="0.28" >400</text>
<line x1="435.3" y1="285" x2="438.3" y2="285" stroke="#1c1c1c" stroke-width="0.9" />
<text x="434.9" y="287.3" font-size="6.3" font-weight="bold" text-anchor="end" stroke="#1c1c1c" stroke-width="0.28" >500</text>
<line x1="435.3" y1="273.42" x2="438.3" y2="273.42" stroke="#1c1c1c" stroke-width="0.9" />
<text x="434.9" y="275.72" font-size="6.3" font-weight="bold" text-anchor="end" stroke="#1c1c1c" stroke-width="0.28" >600</text>
<line x1="438.3" y1="342.9" x2="506.8" y2="342.9" stroke="#1c1c1c" stroke-width="0.9" />
<line x1="448.6" y1="342.9" x2="448.6" y2="345.4" stroke="#1c1c1c" stroke-width="0.9" />
<line x1="464.8" y1="342.9" x2="464.8" y2="345.4" stroke="#1c1c1c" stroke-width="0.9" />
<line x1="480.6" y1="342.9" x2="480.6" y2="345.4" stroke="#1c1c1c" stroke-width="0.9" />
<line x1="496.3" y1="342.9" x2="496.3" y2="345.4" stroke="#1c1c1c" stroke-width="0.9" />
<line x1="448.6" y1="330.86" x2="448.6" y2="331.32" stroke="#8d72d8" stroke-width="0.9" />
<line x1="445.8" y1="330.86" x2="451.4" y2="330.86" stroke="#8d72d8" stroke-width="0.9" />
<rect x="444.07" y="331.39" width="9.05" height="11.5" fill="#2c1b5e" stroke="#8d72d8" stroke-width="0.75"/>
<line x1="464.75" y1="291.95" x2="464.75" y2="303.53" stroke="#ff7a40" stroke-width="0.9" />
<line x1="461.95" y1="291.95" x2="467.55" y2="291.95" stroke="#ff7a40" stroke-width="0.9" />
<rect x="460.18" y="303.6" width="9.15" height="39.3" fill="#ff5416" stroke="#ff7a40" stroke-width="0.75"/>
<line x1="480.65" y1="330.63" x2="480.65" y2="331.32" stroke="#22c4ff" stroke-width="0.9" />
<line x1="477.85" y1="330.63" x2="483.45" y2="330.63" stroke="#22c4ff" stroke-width="0.9" />
<rect x="476.15" y="331.67" width="9" height="11.23" fill="#1d55f2" stroke="#22c4ff" stroke-width="1.3"/>
<line x1="496.3" y1="330.39" x2="496.3" y2="331.32" stroke="#3a9a9a" stroke-width="0.9" />
<line x1="493.5" y1="330.39" x2="499.1" y2="330.39" stroke="#3a9a9a" stroke-width="0.9" />
<rect x="491.47" y="331.39" width="9.65" height="11.5" fill="#1e7676" stroke="#3a9a9a" stroke-width="0.75"/>
<polyline points="449.2,289.6 449.2,287.8 465,287.8 465,289.6" fill="none" stroke="#1c1c1c" stroke-width="1.2" stroke-linejoin="round" stroke-linecap="round" />
<text x="457.1" y="287.4" font-size="8.6" font-weight="bold" text-anchor="middle" stroke="#1c1c1c" stroke-width="0.28" >*</text>
<polyline points="480.6,327.6 480.6,325.8 496.3,325.8 496.3,327.6" fill="none" stroke="#1c1c1c" stroke-width="1.2" stroke-linejoin="round" stroke-linecap="round" />
<text transform="translate(488.3,322) scale(1,1.04)" font-size="7.4" text-anchor="middle" stroke="#1c1c1c" stroke-width="0.28" textLength="11.8" lengthAdjust="spacingAndGlyphs" >n.s.</text>
<text transform="translate(394,356.6) scale(1,1.04)" font-size="7.4" stroke="#1c1c1c" stroke-width="0.28" textLength="44.8" lengthAdjust="spacingAndGlyphs" >1×-MEM AA's:</text>
<text transform="translate(372.4,367.4) scale(1,1.04)" font-size="7.4" stroke="#1c1c1c" stroke-width="0.28" textLength="66.4" lengthAdjust="spacingAndGlyphs" >10 mM Denatonium:</text>
<text transform="translate(449.5,356.5) scale(1,1.04)" font-size="7.4" text-anchor="middle" stroke="#1c1c1c" stroke-width="0.28" >–</text>
<text transform="translate(449.5,367.2) scale(1,1.04)" font-size="7.4" text-anchor="middle" stroke="#1c1c1c" stroke-width="0.28" >–</text>
<text transform="translate(465.3,356.5) scale(1,1.04)" font-size="7.4" text-anchor="middle" stroke="#1c1c1c" stroke-width="0.28" >–</text>
<text transform="translate(465.3,367.6) scale(1,1.04)" font-size="7.4" text-anchor="middle" stroke="#1c1c1c" stroke-width="0.28" >+</text>
<text transform="translate(480.6,356.9) scale(1,1.04)" font-size="7.4" text-anchor="middle" stroke="#1c1c1c" stroke-width="0.28" >+</text>
<text transform="translate(480.6,367.2) scale(1,1.04)" font-size="7.4" text-anchor="middle" stroke="#1c1c1c" stroke-width="0.28" >–</text>
<text transform="translate(497.2,356.9) scale(1,1.04)" font-size="7.4" text-anchor="middle" stroke="#1c1c1c" stroke-width="0.28" >+</text>
<text transform="translate(497.2,367.6) scale(1,1.04)" font-size="7.4" text-anchor="middle" stroke="#1c1c1c" stroke-width="0.28" >+</text>
<text x="5.9" y="390.4" font-size="21" font-weight="bold" fill="#000" stroke="#000" stroke-width="0.28" >e</text>
<defs>
<radialGradient id="cb"><stop offset="0" stop-color="#1420c0"/><stop offset="0.45" stop-color="#1a2ae6"/><stop offset="0.72" stop-color="#1222c0" stop-opacity="0.75"/><stop offset="1" stop-color="#000050" stop-opacity="0"/></radialGradient>
<radialGradient id="cbg"><stop offset="0" stop-color="#30c030"/><stop offset="0.2" stop-color="#24a034"/><stop offset="0.34" stop-color="#1626d8"/><stop offset="0.55" stop-color="#1a2ae6"/><stop offset="0.75" stop-color="#1222c0" stop-opacity="0.7"/><stop offset="1" stop-color="#000050" stop-opacity="0"/></radialGradient>
<radialGradient id="cg"><stop offset="0" stop-color="#50c838"/><stop offset="0.3" stop-color="#3cb434"/><stop offset="0.44" stop-color="#287a70"/><stop offset="0.54" stop-color="#1a30d8"/><stop offset="0.72" stop-color="#1020b0" stop-opacity="0.55"/><stop offset="0.86" stop-color="#0a1480" stop-opacity="0.25"/><stop offset="1" stop-color="#000030" stop-opacity="0"/></radialGradient>
<radialGradient id="cy"><stop offset="0" stop-color="#e0d050"/><stop offset="0.2" stop-color="#a0c83c"/><stop offset="0.34" stop-color="#3cb434"/><stop offset="0.46" stop-color="#287080"/><stop offset="0.55" stop-color="#1a30d8"/><stop offset="0.72" stop-color="#1020b0" stop-opacity="0.55"/><stop offset="0.86" stop-color="#0a1480" stop-opacity="0.25"/><stop offset="1" stop-color="#000030" stop-opacity="0"/></radialGradient>
<radialGradient id="co"><stop offset="0" stop-color="#d02818"/><stop offset="0.18" stop-color="#d09030"/><stop offset="0.34" stop-color="#40b834"/><stop offset="0.46" stop-color="#287080"/><stop offset="0.55" stop-color="#1a30d8"/><stop offset="0.72" stop-color="#1020b0" stop-opacity="0.55"/><stop offset="0.86" stop-color="#0a1480" stop-opacity="0.25"/><stop offset="1" stop-color="#000030" stop-opacity="0"/></radialGradient>
<radialGradient id="cw"><stop offset="0" stop-color="#ffffff"/><stop offset="0.2" stop-color="#e0d880"/><stop offset="0.34" stop-color="#50b840"/><stop offset="0.46" stop-color="#287080"/><stop offset="0.55" stop-color="#1a30d8"/><stop offset="0.72" stop-color="#1020b0" stop-opacity="0.55"/><stop offset="0.86" stop-color="#0a1480" stop-opacity="0.25"/><stop offset="1" stop-color="#000030" stop-opacity="0"/></radialGradient>
<filter id="bl" x="-10%" y="-10%" width="120%" height="120%"><feGaussianBlur stdDeviation="0.6"/></filter>
<linearGradient id="lw" x1="0" y1="0" x2="0" y2="1"><stop offset="0" stop-color="#ffffff"/><stop offset="1" stop-color="#404040"/></linearGradient>
<linearGradient id="lr" x1="0" y1="0" x2="0" y2="1"><stop offset="0" stop-color="#ff1010"/><stop offset="1" stop-color="#400000"/></linearGradient>
<linearGradient id="ly" x1="0" y1="0" x2="0" y2="1"><stop offset="0" stop-color="#ffff20"/><stop offset="1" stop-color="#404000"/></linearGradient>
<linearGradient id="lg" x1="0" y1="0" x2="0" y2="1"><stop offset="0" stop-color="#10ff10"/><stop offset="1" stop-color="#004000"/></linearGradient>
<linearGradient id="lb" x1="0" y1="0" x2="0" y2="1"><stop offset="0" stop-color="#1010ff"/><stop offset="1" stop-color="#000040"/></linearGradient>
<clipPath id="k1"><rect x="21" y="378.8" width="158" height="157.7"/></clipPath>
<clipPath id="k2"><rect x="182.2" y="378.8" width="158" height="157.7"/></clipPath>
<clipPath id="k3"><rect x="342.2" y="378.8" width="158" height="157.7"/></clipPath>
</defs>
<rect x="21" y="378.8" width="158" height="157.7" fill="#000" />
<line x1="21.4" y1="378.8" x2="21.4" y2="536.5" stroke="#777" stroke-width="0.8" />
<rect x="182.2" y="378.8" width="158" height="157.7" fill="#000" />
<line x1="182.6" y1="378.8" x2="182.6" y2="536.5" stroke="#777" stroke-width="0.8" />
<rect x="342.2" y="378.8" width="158" height="157.7" fill="#000" />
<line x1="342.6" y1="378.8" x2="342.6" y2="536.5" stroke="#777" stroke-width="0.8" />
<g clip-path="url(#k1)"><g filter="url(#bl)"><ellipse transform="translate(38.4,416.5) rotate(82)" rx="4" ry="3.8" fill="url(#cbg)"/><ellipse transform="translate(41.9,422.8) rotate(127)" rx="4.92" ry="3.72" fill="url(#cw)"/><ellipse transform="translate(149.1,415.2) rotate(78)" rx="5.43" ry="4.17" fill="url(#cb)"/><ellipse transform="translate(152,434.5) rotate(96)" rx="4.8" ry="3.6" fill="url(#cbg)"/><ellipse transform="translate(153.8,442.5) rotate(82)" rx="4.26" ry="4.14" fill="url(#cbg)"/><ellipse transform="translate(137,396.4) rotate(168)" rx="1.82" ry="1.78" fill="url(#cb)"/><ellipse transform="translate(68.8,521) rotate(60)" rx="1.93" ry="1.37" fill="url(#cb)"/></g></g>
<g clip-path="url(#k2)"><g filter="url(#bl)"><ellipse transform="translate(191.4,385.1) rotate(35)" rx="5.96" ry="4.84" fill="url(#cg)"/><ellipse transform="translate(215.3,384.8) rotate(166)" rx="6.97" ry="4.91" fill="url(#cg)"/><ellipse transform="translate(228.7,399.3) rotate(119)" rx="5.46" ry="4.62" fill="url(#cg)"/><ellipse transform="translate(184.2,405.8) rotate(40)" rx="4.86" ry="4.5" fill="url(#co)"/><ellipse transform="translate(190.7,415.2) rotate(125)" rx="4.92" ry="4.44" fill="url(#cw)"/><ellipse transform="translate(242.9,414.5) rotate(175)" rx="5.23" ry="4.85" fill="url(#cy)"/><ellipse transform="translate(261.5,413.8) rotate(35)" rx="5.1" ry="4.98" fill="url(#cw)"/><ellipse transform="translate(250.1,429) rotate(139)" rx="5.49" ry="5.31" fill="url(#cy)"/><ellipse transform="translate(199.4,444.2) rotate(85)" rx="5.76" ry="5.04" fill="url(#cb)"/><ellipse transform="translate(247.2,442) rotate(115)" rx="6.29" ry="5.59" fill="url(#co)"/><ellipse transform="translate(217.5,452.6) rotate(37)" rx="5.41" ry="4.67" fill="url(#cy)"/><ellipse transform="translate(255.9,455) rotate(55)" rx="5.82" ry="4.98" fill="url(#co)"/><ellipse transform="translate(283.5,379.7) rotate(148)" rx="3.82" ry="3.68" fill="url(#cb)"/><ellipse transform="translate(312,390.9) rotate(120)" rx="6.06" ry="4.74" fill="url(#cy)"/><ellipse transform="translate(334.2,389.4) rotate(71)" rx="5.42" ry="3.94" fill="url(#cg)"/><ellipse transform="translate(339.6,389.9) rotate(76)" rx="3.2" ry="2.8" fill="url(#cb)"/><ellipse transform="translate(303,397.6) rotate(120)" rx="3.86" ry="3.34" fill="url(#cw)"/><ellipse transform="translate(292.2,410.9) rotate(84)" rx="5.41" ry="5.39" fill="url(#cg)"/><ellipse transform="translate(279.1,419.3) rotate(62)" rx="5.53" ry="4.55" fill="url(#cy)"/><ellipse transform="translate(322.6,420.7) rotate(127)" rx="6.32" ry="6.28" fill="url(#cg)"/><ellipse transform="translate(281.3,438.4) rotate(102)" rx="5.41" ry="5.39" fill="url(#cg)"/><ellipse transform="translate(279.8,447.8) rotate(6)" rx="4.81" ry="4.55" fill="url(#cw)"/><ellipse transform="translate(332.7,450.7) rotate(12)" rx="5.58" ry="5.22" fill="url(#cy)"/><ellipse transform="translate(290.7,454.4) rotate(123)" rx="5.18" ry="4.9" fill="url(#cy)"/><ellipse transform="translate(311,454.4) rotate(65)" rx="5.7" ry="4.38" fill="url(#co)"/><ellipse transform="translate(270.4,455.8) rotate(86)" rx="5.23" ry="4.13" fill="url(#cy)"/><ellipse transform="translate(214.6,460.2) rotate(158)" rx="5.49" ry="4.59" fill="url(#cg)"/><ellipse transform="translate(205.9,468.1) rotate(157)" rx="5.7" ry="5.1" fill="url(#cy)"/><ellipse transform="translate(188.5,473.2) rotate(123)" rx="6.07" ry="4.73" fill="url(#cg)"/><ellipse transform="translate(192.9,481.2) rotate(15)" rx="4.69" ry="4.67" fill="url(#cy)"/><ellipse transform="translate(208.8,497.1) rotate(62)" rx="4.53" ry="4.47" fill="url(#co)"/><ellipse transform="translate(258.1,468.9) rotate(158)" rx="6.32" ry="4.48" fill="url(#cg)"/><ellipse transform="translate(259.5,502.2) rotate(21)" rx="4.32" ry="3.18" fill="url(#cb)"/><ellipse transform="translate(259.5,513) rotate(139)" rx="6.09" ry="4.71" fill="url(#cg)"/><ellipse transform="translate(271.9,458.7) rotate(143)" rx="5.16" ry="3.84" fill="url(#cg)"/><ellipse transform="translate(278.4,466.7) rotate(32)" rx="5.54" ry="5.26" fill="url(#cg)"/><ellipse transform="translate(323.3,460.2) rotate(133)" rx="5.14" ry="3.86" fill="url(#cw)"/><ellipse transform="translate(312.4,471.8) rotate(80)" rx="5.85" ry="4.23" fill="url(#cy)"/><ellipse transform="translate(326.2,471.3) rotate(25)" rx="5.85" ry="4.23" fill="url(#cg)"/><ellipse transform="translate(327,482.6) rotate(159)" rx="5.49" ry="3.87" fill="url(#cy)"/><ellipse transform="translate(288.5,529.7) rotate(12)" rx="5.35" ry="4.73" fill="url(#cg)"/><ellipse transform="translate(339,534.5) rotate(124)" rx="3.3" ry="2.7" fill="url(#cb)"/></g></g>
<g clip-path="url(#k3)"><g filter="url(#bl)"><ellipse transform="translate(349,394.2) rotate(111)" rx="4.62" ry="4.38" fill="url(#cb)"/><ellipse transform="translate(399.7,387.7) rotate(128)" rx="7.79" ry="7.33" fill="url(#cy)"/><ellipse transform="translate(411.3,393.8) rotate(69)" rx="10.82" ry="8.68" fill="url(#cbg)"/><ellipse transform="translate(380,409.1) rotate(102)" rx="6.33" ry="5.07" fill="url(#cbg)"/><ellipse transform="translate(383.3,412) rotate(95)" rx="4.54" ry="4.46" fill="url(#cb)"/><ellipse transform="translate(420.5,413.8) rotate(94)" rx="5" ry="4" fill="url(#cbg)"/><ellipse transform="translate(394.9,425.7) rotate(132)" rx="5.56" ry="4.04" fill="url(#cbg)"/><ellipse transform="translate(404.3,425.1) rotate(41)" rx="5.13" ry="4.47" fill="url(#cbg)"/><ellipse transform="translate(405,440.6) rotate(146)" rx="5.37" ry="5.13" fill="url(#cb)"/><ellipse transform="translate(409.8,443.5) rotate(110)" rx="5.06" ry="3.94" fill="url(#cbg)"/><ellipse transform="translate(384.8,446.4) rotate(90)" rx="5.18" ry="4.42" fill="url(#cbg)"/><ellipse transform="translate(379.7,457.3) rotate(95)" rx="3.9" ry="3.6" fill="url(#cb)"/><ellipse transform="translate(429,385.1) rotate(112)" rx="5.85" ry="5.55" fill="url(#cb)"/><ellipse transform="translate(439.1,405.8) rotate(121)" rx="5.51" ry="4.39" fill="url(#cbg)"/><ellipse transform="translate(426.8,420.3) rotate(17)" rx="4.7" ry="4.3" fill="url(#cbg)"/><ellipse transform="translate(439.1,419.3) rotate(124)" rx="5.25" ry="4.65" fill="url(#cbg)"/><ellipse transform="translate(452.9,424.7) rotate(135)" rx="4.91" ry="4.09" fill="url(#cb)"/><ellipse transform="translate(431.1,431.9) rotate(72)" rx="6.14" ry="5.26" fill="url(#cbg)"/><ellipse transform="translate(444.9,456.5) rotate(30)" rx="4.36" ry="3.14" fill="url(#cb)"/><ellipse transform="translate(497.5,381.2) rotate(106)" rx="3.89" ry="3.61" fill="url(#cbg)"/><ellipse transform="translate(499.5,429) rotate(78)" rx="3.34" ry="2.66" fill="url(#cb)"/><ellipse transform="translate(379.4,462.1) rotate(79)" rx="5.28" ry="4.32" fill="url(#cb)"/><ellipse transform="translate(344.2,463.5) rotate(160)" rx="3.36" ry="2.64" fill="url(#cb)"/><ellipse transform="translate(346.3,471.8) rotate(115)" rx="5.17" ry="3.83" fill="url(#cb)"/><ellipse transform="translate(383.3,478.3) rotate(171)" rx="5.37" ry="4.53" fill="url(#cbg)"/><ellipse transform="translate(395.3,495.7) rotate(113)" rx="5.67" ry="4.83" fill="url(#cbg)"/><ellipse transform="translate(364.5,500.8) rotate(123)" rx="3.12" ry="2.28" fill="url(#cb)"/><ellipse transform="translate(355,508) rotate(134)" rx="4.5" ry="3.9" fill="url(#cb)"/><ellipse transform="translate(369.2,510.9) rotate(165)" rx="6.32" ry="5.08" fill="url(#cb)"/><ellipse transform="translate(444.9,460.6) rotate(96)" rx="5" ry="4" fill="url(#cb)"/><ellipse transform="translate(450.7,468.9) rotate(95)" rx="6.17" ry="4.33" fill="url(#cbg)"/><ellipse transform="translate(465.2,467.9) rotate(169)" rx="5.14" ry="4.46" fill="url(#cbg)"/><ellipse transform="translate(444.2,477.6) rotate(31)" rx="4.39" ry="3.11" fill="url(#cb)"/><ellipse transform="translate(451.4,481.5) rotate(154)" rx="4.25" ry="4.15" fill="url(#cb)"/><ellipse transform="translate(447.5,484.8) rotate(69)" rx="4.87" ry="3.53" fill="url(#cb)"/><ellipse transform="translate(424.6,499.3) rotate(123)" rx="3.14" ry="2.86" fill="url(#cb)"/><ellipse transform="translate(434,504.4) rotate(38)" rx="6.14" ry="4.36" fill="url(#cbg)"/><ellipse transform="translate(455.1,508.7) rotate(119)" rx="7.29" ry="6.21" fill="url(#cb)"/><ellipse transform="translate(438.4,514.5) rotate(75)" rx="4.68" ry="4.32" fill="url(#cb)"/><ellipse transform="translate(488.4,529.7) rotate(86)" rx="4.62" ry="4.38" fill="url(#cbg)"/><ellipse transform="translate(499.5,535.5) rotate(15)" rx="3.12" ry="2.88" fill="url(#cb)"/></g></g>
<rect x="462.6" y="388" width="6" height="12.7" fill="url(#lw)" />
<rect x="462.6" y="401.5" width="6" height="11.5" fill="url(#lr)" />
<rect x="462.6" y="415.3" width="6" height="11.7" fill="url(#ly)" />
<rect x="462.6" y="429.2" width="6" height="11.8" fill="url(#lg)" />
<rect x="462.6" y="443.2" width="6" height="13.3" fill="url(#lb)" />
<text x="470.2" y="391.4" font-size="7.2" font-weight="bold" fill="#f0f0f0" stroke="#f0f0f0" stroke-width="0.28" textLength="20.6" lengthAdjust="spacingAndGlyphs" >12000</text>
<text x="470.2" y="408.6" font-size="7.2" font-weight="bold" fill="#f0f0f0" stroke="#f0f0f0" stroke-width="0.28" textLength="16.48" lengthAdjust="spacingAndGlyphs" >9075</text>
<text x="470.2" y="425.9" font-size="7.2" font-weight="bold" fill="#f0f0f0" stroke="#f0f0f0" stroke-width="0.28" textLength="16.48" lengthAdjust="spacingAndGlyphs" >6150</text>
<text x="470.2" y="443.8" font-size="7.2" font-weight="bold" fill="#f0f0f0" stroke="#f0f0f0" stroke-width="0.28" textLength="16.48" lengthAdjust="spacingAndGlyphs" >3225</text>
<text x="470.2" y="460.6" font-size="7.2" font-weight="bold" fill="#f0f0f0" stroke="#f0f0f0" stroke-width="0.28" textLength="12.36" lengthAdjust="spacingAndGlyphs" >300</text>
<rect x="483.3" y="524" width="12" height="2" fill="#f4f4f4" />
<text x="27.6" y="532.7" font-size="9.3" font-weight="bold" fill="#f4f4f4" stroke="#f4f4f4" stroke-width="0.28" textLength="32.8" lengthAdjust="spacingAndGlyphs" >Control</text>
<text x="188.2" y="532.6" font-size="9.3" font-weight="bold" fill="#f4f4f4" stroke="#f4f4f4" stroke-width="0.28" textLength="53.3" lengthAdjust="spacingAndGlyphs" >Denatonium</text>
<text x="348.4" y="532.6" font-size="9.3" font-weight="bold" fill="#f4f4f4" stroke="#f4f4f4" stroke-width="0.28" textLength="121.4" lengthAdjust="spacingAndGlyphs" >Denatonium + Amino Acids</text>
</svg>
</body></html>
